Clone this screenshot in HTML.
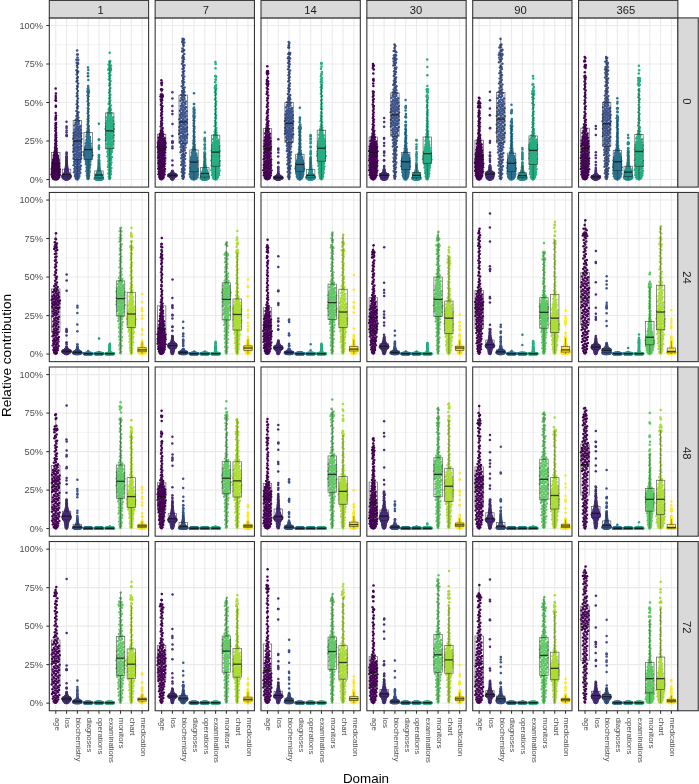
<!DOCTYPE html><html><head><meta charset="utf-8"><style>html,body{margin:0;padding:0;background:#fff;}body{width:699px;height:784px;overflow:hidden}</style></head><body><svg width="699" height="784" viewBox="0 0 699 784" style="display:block"><rect width="699" height="784" fill="#fff"/><defs><marker id="m0" markerUnits="userSpaceOnUse" markerWidth="3" markerHeight="3" refX="0" refY="0" overflow="visible"><circle r="1.25" fill="#440154"/></marker><marker id="m1" markerUnits="userSpaceOnUse" markerWidth="3" markerHeight="3" refX="0" refY="0" overflow="visible"><circle r="1.25" fill="#472D7B"/></marker><marker id="m2" markerUnits="userSpaceOnUse" markerWidth="3" markerHeight="3" refX="0" refY="0" overflow="visible"><circle r="1.25" fill="#3B528B"/></marker><marker id="m3" markerUnits="userSpaceOnUse" markerWidth="3" markerHeight="3" refX="0" refY="0" overflow="visible"><circle r="1.25" fill="#2C728E"/></marker><marker id="m4" markerUnits="userSpaceOnUse" markerWidth="3" markerHeight="3" refX="0" refY="0" overflow="visible"><circle r="1.25" fill="#21908C"/></marker><marker id="m5" markerUnits="userSpaceOnUse" markerWidth="3" markerHeight="3" refX="0" refY="0" overflow="visible"><circle r="1.25" fill="#27AD81"/></marker><marker id="m6" markerUnits="userSpaceOnUse" markerWidth="3" markerHeight="3" refX="0" refY="0" overflow="visible"><circle r="1.25" fill="#5DC863"/></marker><marker id="m7" markerUnits="userSpaceOnUse" markerWidth="3" markerHeight="3" refX="0" refY="0" overflow="visible"><circle r="1.25" fill="#AADC32"/></marker><marker id="m8" markerUnits="userSpaceOnUse" markerWidth="3" markerHeight="3" refX="0" refY="0" overflow="visible"><circle r="1.25" fill="#FDE725"/></marker></defs><style>path[marker-mid]{fill:none;stroke:none}</style><path d="M49.30 160.25H148.60M49.30 121.75H148.60M49.30 83.25H148.60M49.30 44.75H148.60" stroke="#EBEBEB" stroke-width="0.55" fill="none"/><path d="M49.30 179.50H148.60M49.30 141.00H148.60M49.30 102.50H148.60M49.30 64.00H148.60M49.30 25.50H148.60M55.78 17.90V187.10M66.57 17.90V187.10M77.36 17.90V187.10M88.16 17.90V187.10M98.95 17.90V187.10M109.74 17.90V187.10M120.54 17.90V187.10M131.33 17.90V187.10M142.12 17.90V187.10" stroke="#EBEBEB" stroke-width="1.1" fill="none"/><path marker-start="url(#m0)" marker-mid="url(#m0)" marker-end="url(#m0)" d="M55.8 179.4l-1.2-.2 2.4 0-3.2-.3 2.6-.1-1.3-.1 2.9-.2-4.9-.1 3.1-.2-1.6-.1 3.3-.2-4.3-.2 3.5-.1-1.8-.2 3.7-.1-6.8-.2 3.8-.1-1.9-.2 3.9-.1-5-.2 4-.2-2-.1 4.1-.2-6.7-.2 4.2-.2-2.1-.1 4.2-.2-5.3-.1 4.2-.1-2.1-.3 4.3-.1-8.2-.1 4.3-.3-2.1-.1 4.3-.2-5.4-.2 4.3 0-2.2-.3 4.3-.1-6.9-.2 4.2-.2-2.1-.2 4.3-.1-5.4-.2 4.3-.2-2.1-.1 4.2-.2-7.7-.2 4.3-.1-2.1-.2 4.2-.2-5.3-.2 4.2-.1-2.1-.2 4.2-.1-6.8-.2 4.2-.2-2.1-.2 4.1-.2-5.1-.1 4.1-.1-2.1-.2 4.1-.2-7.9-.2 4-.2-2-.1 4-.2-4.9-.2 3.9-.2-1.9-.2 3.9-.1-6.4-.2 3.9-.2-1.9-.1 3.8-.3-4.8-.1 3.9-.2-1.9-.3 3.7-.1-6.8-.2 3.8-.2-1.9-.1 3.7-.3-4.6-.1 3.7-.3-1.8-.1 3.6-.3-5.9-.1 3.6-.3-1.8-.2 3.6-.2-4.5-.2 3.6-.2-1.8-.2 3.5-.2-6.6-.2 3.4-.2-1.7-.2 3.4-.2-4.2-.2 3.4-.2-1.7-.2 3.3-.3-5.4-.1 3.3-.3-1.6-.1 3.2-.2-4-.2 3.2-.3-1.6-.1 3.1-.2-5.5-.2 3-.3-1.5-.3 2.9-.2-3.5-.1 2.8-.3-1.4-.3 2.6-.3-4.2-.2 2.6-.3-1.3-.3 2.4-.3-2.9-.2 2.3-.3-1.2-.3 2.2-.3-4.2-.4 2.1-.3-1-.4 1.9-.3-2.2-.5 1.7-.5-.8-.3 1.5-.4-2.4-.4 1.5-.5-.7-.6 1.3-.4-1.5-.5 1.1-.5-.5-.8.9-.6-1.6-.6.8-1-.3-.9.7-.6-.9-1.2.7-.7-.3-.7.6-1.5-1-.6.6-1-.3-1.5.6-.5-.7-1.6.5-.8-.3-1.3.5-1.1-.8-1.8.4-.9-.2-1.9.4-1-.6-1.4.5-1.3-.2-1.2.4-.4-.6-3.2.3-1.3-.1-1.2.3-1.7-.3-2.6.2-6.1-.1-1 .2-5-.5-.6.3-2.1-.1-2 .2-2.7-.2-4.8"/><path d="M55.78 152.55V123.32M55.78 172.26V179.42" stroke="#222" stroke-opacity="0.75" stroke-width="0.6"/><rect x="51.58" y="152.55" width="8.4" height="19.71" fill="none" stroke="#222" stroke-opacity="0.7" stroke-width="0.75"/><path d="M51.58 164.10h8.4" stroke="#111" stroke-opacity="0.8" stroke-width="1.3"/><path marker-start="url(#m1)" marker-mid="url(#m1)" marker-end="url(#m1)" d="M66.6 179.5l-.9-.1 1.9-.1-2.5 0 2-.1-1.1 0 2.3-.1-3.8 0 2.4-.1-1.3-.1 2.7 0-3.5-.1 2.8-.1-1.4 0 3-.1-5.5 0 3.1-.1-1.6-.1 3.2 0-4.1-.1 3.3 0-1.7-.1 3.5-.1-5.7 0 3.5-.1-1.8 0 3.7-.1-4.6 0 3.7-.1-1.9 0 3.8-.1-7.3-.1 3.9 0-2-.1 4 0-5-.1 4 0-2-.1 4-.1-6.6 0 4.1-.1-2 0 4.1-.1-5.2 0 4.2-.1-2.1 0 4.2-.1-7.7 0 4.3-.1-2.2 0 4.3-.1-5.3 0 4.2-.1-2.1-.1 4.3 0-7-.1 4.3 0-2.1 0 4.3-.1-5.4 0 4.3-.1-2.2 0 4.3-.1-8.3 0 4.2 0-2.1-.1 4.2 0-5.2-.1 4.2 0-2.1-.1 4.1 0-6.7-.1 4.1 0-2-.1 4 0-5-.1 4 0-2-.1 3.9 0-6.9-.1 3.8 0-1.9-.1 3.7-.1-4.5 0 3.5 0-1.7-.1 3.4-.1-5.5-.1 3.3 0-1.6-.1 3.2-.1-3.9 0 3-.1-1.5-.1 2.9-.1-5.4 0 2.8-.1-1.4-.1 2.7-.1-3.2-.1 2.5-.1-1.2 0 2.3-.1-3.7-.1 2.3-.2-1.1-.1 2.1 0-2.6-.1 2-.1-1-.2 2 0-3.5-.1 1.9-.2-.9-.1 1.7-.1-2.1-.2 1.7-.1-.9 0 1.6-.3-2.5 0 1.5-.1-.7-.2 1.4-.2-1.7-.1 1.3-.1-.7-.2 1.3-.2-2.5-.1 1.3-.2-.6-.1 1.2-.3-1.5-.1 1.2-.2-.6-.1 1.1-.3-1.7-.1 1-.2-.5-.2 1-.2-1.2-.2.9-.2-.4-.2.8-.3-1.4-.2.7-.2-.3-.3.6-.3-.8-.3.7-.2-.3-.5.5-.3-.9-.2.6-.5-.3-.3.5-.5-.6-.3.4-.5-.1-.5.3-.6-.6-.5.3-.7-.2-.3.3-.5-.3-.8.2-.7-.1-.8.3-.6-.5-.1.3-.6-.1-1.8.2-1-.2-.9.1-16.7 0-.5.1-.5-.2-2.4.1-2-.1-2.6.1-1.3-.1-4.8"/><path d="M66.57 169.18V158.37M66.57 176.88V179.48" stroke="#222" stroke-opacity="0.75" stroke-width="0.6"/><rect x="62.37" y="169.18" width="8.4" height="7.70" fill="none" stroke="#222" stroke-opacity="0.7" stroke-width="0.75"/><path d="M62.37 174.57h8.4" stroke="#111" stroke-opacity="0.8" stroke-width="1.3"/><path marker-start="url(#m2)" marker-mid="url(#m2)" marker-end="url(#m2)" d="M77.4 179.4l-1-.5 2-.7-2.7-.4 2.2-.3-1.2-.5 2.6-.5-4.3-.4 2.7-.6-1.4-.3 3-.5-3.9-.5 3.2-.5-1.7-.5 3.4-.5-6.2-.5 3.5-.2-1.8-.6 3.6-.5-4.5-.3 3.6-.4-1.8-.7 3.6-.3-5.9-.4 3.7-.6-1.9-.4 3.7-.4-4.7-.5 3.8-.3-1.9-.6 3.8-.3-7.2-.4 3.8-.6-1.9-.5 3.8-.2-4.8-.6 3.8-.3-1.9-.6 3.9-.4-6.3-.3 3.9-.6-2-.4 4-.5-5-.4 4-.3-2-.6 4-.4-7.3-.2 4-.7-2-.2 4.1-.5-5.1-.3 4.1-.6-2.1-.3 4.1-.5-6.7-.3 4.2-.4-2.1-.4 4.1-.5-5.1-.3 4.1-.3-2.1-.6 4.2-.4-8.1-.4 4.1-.4-2.1-.2 4.2-.6-5.2-.2 4.2-.6-2.1-.3 4.2-.4-6.8-.5 4.2-.4-2.1-.4 4.1-.2-5.2-.5 4.2-.3-2.1-.4 4.2-.4-7.6-.6 4.2-.2-2.1-.5 4.2-.4-5.3-.6 4.2-.4-2.1-.4 4.3-.2-6.9-.5 4.2-.5-2.1-.3 4.3-.6-5.4-.3 4.3-.5-2.1-.4 4.2-.4-8.1-.3 4.3-.4-2.2-.3 4.3-.5-5.4-.2 4.3-.5-2.1-.4 4.3-.4-7-.3 4.3-.2-2.1-.5 4.2-.3-5.3-.5 4.2-.3-2.1-.3 4.1-.6-7.3-.2 4-.4-2-.4 3.9-.4-4.8-.3 3.8-.6-1.9-.5 3.7-.3-5.9-.6 3.6-.5-1.7-.4 3.3-.5-4.1-.5 3.2-.5-1.6-.4 3-.6-5.8-.5 2.9-.6-1.4-.7 2.7-.5-3.2-.8 2.5-.7-1.2-.4 2.2-.9-3.4-.7 2-1-.9-.6 1.7-1.1-1.9-1.4 1.4-1.2-.7-1.5 1.2-1.1-2-1.4 1-2.3-.4-.9.9-1.5-1.1-1.9.8-1.8-.4-1.7.8-2.2-1.2-2.4.7-.8-.4-2.2.8-2.2-1-2.2.8-2.1-.4-.7.8-2.4-1.5-2.2.8-.8-.4-2.4.8-1.2-1.1-2.4.9-1.8-.4-1.1.9-.1-1.6-1.4 1-2.8-.5-2 1.1-1.6-1.4-1 1.1-.1-.5-2.5 1-.5-1.9 0 1.1-2.3-.4-2.9.7-.1-.7-3.8"/><path d="M77.36 120.52V62.67M77.36 159.33V179.40" stroke="#222" stroke-opacity="0.75" stroke-width="0.6"/><rect x="73.16" y="120.52" width="8.4" height="38.81" fill="none" stroke="#222" stroke-opacity="0.7" stroke-width="0.75"/><path d="M73.16 141.00h8.4" stroke="#111" stroke-opacity="0.8" stroke-width="1.3"/><path marker-start="url(#m3)" marker-mid="url(#m3)" marker-end="url(#m3)" d="M88.2 179l-.5-.3 1-.8-1.3-.2 1.1-.7-.7-.5 1.4-.7-2.3-.3 1.4-.8-.7-.4 1.5-.7-1.9-.3 1.6-.5-.9-.7 1.7-.5-3.1-.3 1.8-.7-.9-.5 1.8-.2-2.3-.7 1.8-.5-.9-.5 1.9-.4-3.1-.3 1.9-.5-1-.5 2.1-.4-2.6-.6 2.1-.2-1.1-.4 2.3-.5-4.4-.4 2.3-.5-1.2-.3 2.5-.3-3.2-.5 2.6-.3-1.3-.4 2.7-.3-4.5-.3 2.8-.4-1.5-.4 3.1-.2-3.9-.3 3.2-.3-1.7-.3 3.4-.2-6.2-.5 3.5-.2-1.8-.2 3.7-.3-4.7-.1 3.8-.4-2-.2 4-.2-6.5-.2 4-.2-2-.2 4.1-.3-5.1-.1 4.1-.2-2.1-.3 4.3-.1-8.3-.2 4.2-.1-2.1-.3 4.3-.1-5.4-.2 4.3-.2-2.2-.2 4.3-.1-6.9-.2 4.3-.3-2.2-.1 4.3-.2-5.3-.2 4.2-.1-2.1-.3 4.2-.2-7.6-.2 4.2-.1-2.1-.3 4.1-.2-5-.2 4-.3-2-.2 3.9-.3-6.3-.2 3.8-.2-1.8-.3 3.6-.2-4.5-.4 3.6-.3-1.8-.2 3.4-.3-6.4-.3 3.3-.3-1.6-.3 3.2-.3-4-.2 3.2-.2-1.6-.3 3-.4-4.8-.2 3-.4-1.5-.3 2.8-.3-3.4-.4 2.7-.2-1.4-.3 2.7-.4-4.7-.3 2.5-.5-1.2-.3 2.4-.4-2.9-.3 2.3-.2-1.2-.5 2.2-.5-3.5-.5 2.1-.2-1-.5 2-.6-2.4-.2 1.9-.6-1-.5 1.8-.4-3.4-.6 1.7-.4-.8-.4 1.5-.9-1.8-.5 1.4-.6-.7-.4 1.3-.7-2-.7 1.2-.3-.5-1.2 1-.4-1.2-1.4.9-.5-.4-1.6.7-.5-1.3-1.4.7-1.5-.3-1.4.6-1-.7-1.5.5-1-.2-1.7.5-1.1-.9-2 .6-1.4-.3-1.1.5-1.9-.6-.8.5-2.5-.3-1.3.5-1.2-.9-1.9.5-1.8-.3-1.4.6-1.8-.8-1 .7-1.5-.4-1.6.9-.3-1.5-.1.9-.9-.4-.1.8-.5-1-1.5.7-.8-.3-2.1.2-5.9-.4-3.8.3-.2-.2-2.8.3-3.2-.3-2.5"/><path d="M88.16 132.38V92.24M88.16 159.33V179.04" stroke="#222" stroke-opacity="0.75" stroke-width="0.6"/><rect x="83.96" y="132.38" width="8.4" height="26.95" fill="none" stroke="#222" stroke-opacity="0.7" stroke-width="0.75"/><path d="M83.96 149.62h8.4" stroke="#111" stroke-opacity="0.8" stroke-width="1.3"/><path marker-start="url(#m4)" marker-mid="url(#m4)" marker-end="url(#m4)" d="M98.9 179.5l-1.4 0 3-.1-3.8 0 3 0-1.5 0 3.2 0-5.3-.1 3.3 0-1.7 0 3.4 0-4.3-.1 3.5 0-1.8 0 3.7-.1-6.8 0 3.8 0-1.9-.1 3.8 0-4.9 0 4-.1-2 0 4.1 0-6.7 0 4.1-.1-2.1 0 4.2-.1-5.2 0 4.2-.1-2.1 0 4.3 0-8.2-.1 4.3 0-2.2 0 4.3-.1-5.3 0 4.3-.1-2.2 0 4.3 0-6.9-.1 4.2 0-2.1-.1 4.2 0-5.2-.1 4.1 0-2-.1 4 0-7.2 0 3.9-.1-1.9-.1 3.8 0-4.7-.1 3.7 0-1.8-.1 3.6 0-5.8-.1 3.5 0-1.7-.1 3.4-.1-4.2 0 3.3-.1-1.7 0 3.2-.1-6.1-.1 3.1 0-1.5-.1 3-.1-3.7 0 2.9-.1-1.4 0 2.8-.1-4.5-.1 2.7-.1-1.3-.1 2.7 0-3.4-.1 2.7-.1-1.3 0 2.6-.1-4.7-.1 2.6-.1-1.3 0 2.5-.1-3.2-.1 2.6 0-1.3-.1 2.5-.1-4.1-.1 2.6 0-1.3-.1 2.5-.1-3.1-.1 2.5-.1-1.3 0 2.5-.1-4.7-.1 2.5-.1-1.3 0 2.5-.1-3.1 0 2.5-.1-1.2-.1 2.4 0-3.9-.1 2.4-.1-1.2-.1 2.3-.1-2.9 0 2.3-.1-1.1-.1 2.2-.1-4 0 2.2-.1-1.1-.1 2.1-.1-2.5-.1 2-.1-1-.1 1.9 0-3.1-.2 1.9-.1-.9 0 1.7-.2-2.1 0 1.6-.2-.8-.1 1.6-.1-3-.1 1.5-.1-.7-.1 1.3-.1-1.6-.2 1.3-.1-.6-.2 1.1-.1-1.8-.2 1.1-.2-.5-.2 1-.1-1.2-.1.9-.2-.4-.3.8-.2-1.5-.2.8-.2-.3-.3.6-.1-.8-.4.6-.2-.2-.4.5-.2-.8-.4.4-.3-.2-.3.4-.4-.5-.3.4-.4-.2-.6.3-.5-.5-.6.3-.2-.2-.8.3-.5-.3-.6.2-.7-.1-.6.3-.1-.4-.6.2-1.8-.1-.6.2-1.4-.3-.1.2-.7-.1-5.9.2-1.3-.3-.5.2-1.9-.1-5.5.1-.6-.1-15.5"/><path d="M98.95 170.88V160.31M98.95 177.96V179.49" stroke="#222" stroke-opacity="0.75" stroke-width="0.6"/><rect x="94.75" y="170.88" width="8.4" height="7.08" fill="none" stroke="#222" stroke-opacity="0.7" stroke-width="0.75"/><path d="M94.75 175.03h8.4" stroke="#111" stroke-opacity="0.8" stroke-width="1.3"/><path marker-start="url(#m5)" marker-mid="url(#m5)" marker-end="url(#m5)" d="M109.7 179.1l-.5-.7 1.1-.9-1.5-.8 1.3-1.2-.7-.6 1.5-.8-2.6-.6 1.7-1-.9-.4 1.7-.8-2.2-1.2 1.8-.3-.9-1.3 1.9-.6-3.4-.8 1.9-.3-1-.8 1.9-1.1-2.4-.5 2-.8-1-.4 2-.8-3.3-.8 2-.8-1-.6 2.1-.5-2.7-1 2.2-.3-1.1-.8 2.3-.7-4.4-.5 2.3-.7-1.2-.8 2.4-.4-3-.6 2.5-.8-1.3-.3 2.6-.8-4.3-.3 2.7-.6-1.4-.7 2.8-.3-3.6-.8 2.9-.5-1.4-.5 3-.2-5.5-.5 3-.7-1.5-.4 3.2-.3-4.1-.6 3.3-.5-1.7-.5 3.4-.2-5.6-.4 3.5-.6-1.8-.2 3.6-.5-4.5-.4 3.7-.4-1.9-.5 3.8-.4-7.4-.4 3.8-.3-1.9-.4 3.8-.3-4.8-.4 3.9-.5-2-.4 4-.3-6.4-.3 3.9-.4-2-.4 4-.3-5-.3 4-.3-2-.5 4-.3-7.3-.5 4.1-.3-2.1-.5 4.1-.3-5.1-.2 4.1-.5-2.1-.4 4.2-.4-6.8-.3 4.2-.4-2.1-.4 4.2-.3-5.3-.6 4.3-.4-2.2-.1 4.3-.6-8.1-.1 4.2-.4-2.1-.4 4.3-.4-5.4-.2 4.3-.5-2.1-.2 4.3-.2-7-.4 4.3-.3-2.2-.4 4.3-.2-5.3-.4 4.2-.3-2.1-.3 4.2-.4-7.5-.4 4.1-.2-2-.5 4-.1-5-.5 3.9-.2-1.9-.6 3.8-.3-6.1-.5 3.7-.3-1.8-.4 3.5-.3-4.3-.6 3.3-.5-1.6-.4 3.1-.5-6-.2 3-.6-1.4-.6 2.7-.4-3.2-.8 2.5-.7-1.2-.3 2.2-.8-3.5-.4 2.1-1.1-.9-.9 1.7-.9-2-.7 1.5-1-.7-.9 1.2-1.9-2.1-1.4 1.1-1-.5-1.6 1-.9-1.2-2 .9-1-.4-2 .8-.8-1.3-2 .8-1.5-.4-1.4.8-1.8-1-2.4.8-.9-.4-1.4.8-2.2-1.6-1.7.9-1.1-.5-2.1 1.1-1.3-1.6-1.3 1.4-1.7-.8-1.8 1.6 0-2.6-.2 1.6-.2-.8-.5 1.6-.6-2-.2 1.6-.6-.8-1.5 1.4-.9-2.4-1 1.2-1.6-.4-1.2.8-.7-.5-8.1"/><path d="M109.74 112.97V60.93M109.74 148.70V179.06" stroke="#222" stroke-opacity="0.75" stroke-width="0.6"/><rect x="105.54" y="112.97" width="8.4" height="35.73" fill="none" stroke="#222" stroke-opacity="0.7" stroke-width="0.75"/><path d="M105.54 130.84h8.4" stroke="#111" stroke-opacity="0.8" stroke-width="1.3"/><rect x="49.30" y="17.90" width="99.30" height="169.20" fill="none" stroke="#333" stroke-width="1.07"/><path d="M155.15 160.25H254.45M155.15 121.75H254.45M155.15 83.25H254.45M155.15 44.75H254.45" stroke="#EBEBEB" stroke-width="0.55" fill="none"/><path d="M155.15 179.50H254.45M155.15 141.00H254.45M155.15 102.50H254.45M155.15 64.00H254.45M155.15 25.50H254.45M161.63 17.90V187.10M172.42 17.90V187.10M183.21 17.90V187.10M194.01 17.90V187.10M204.80 17.90V187.10M215.59 17.90V187.10M226.39 17.90V187.10M237.18 17.90V187.10M247.97 17.90V187.10" stroke="#EBEBEB" stroke-width="1.1" fill="none"/><path marker-start="url(#m0)" marker-mid="url(#m0)" marker-end="url(#m0)" d="M161.6 179.3l-.9-.4 1.9-.3-2.6-.2 2.2-.4-1.2-.5 2.5-.1-4.2-.5 2.7-.4-1.4-.2 2.9-.3-3.8-.4 3.1-.3-1.6-.4 3.3-.4-6-.3 3.3-.5-1.7-.3 3.5-.3-4.4-.4 3.5-.1-1.7-.4 3.5-.4-5.7-.2 3.5-.4-1.8-.4 3.6-.4-4.5-.4 3.6-.3-1.8-.3 3.6-.3-6.8-.3 3.5-.3-1.7-.4 3.5-.5-4.4-.2 3.5-.4-1.8-.2 3.6-.6-5.8-.1 3.6-.4-1.8-.5 3.6-.2-4.5-.5 3.6-.3-1.8-.3 3.5-.2-6.4-.5 3.6-.3-1.8-.4 3.5-.3-4.4-.4 3.5-.2-1.7-.4 3.5-.3-5.7-.3 3.5-.5-1.8-.3 3.6-.5-4.5-.2 3.6-.4-1.8-.3 3.6-.4-7-.2 3.6-.4-1.8-.3 3.6-.4-4.5-.3 3.6-.5-1.8-.2 3.6-.4-5.8-.3 3.5-.5-1.8-.3 3.6-.2-4.5-.5 3.6-.4-1.8-.3 3.7-.2-6.7-.3 3.7-.3-1.9-.6 3.8-.2-4.7-.3 3.8-.5-1.9-.2 3.9-.4-6.4-.2 3.9-.4-2-.3 4.1-.3-5.1-.5 4.1-.2-2.1-.3 4.2-.3-8-.3 4.2-.2-2.1-.3 4.3-.2-5.4-.3 4.3-.4-2.1-.2 4.3-.3-7-.2 4.3-.3-2.2-.2 4.3-.3-5.3-.3 4.2-.2-2.1-.2 4.2-.3-7.6-.3 4.2-.2-2.1-.4 4.1-.1-5-.4 3.9-.3-1.9-.2 3.8-.3-6.1-.4 3.7-.1-1.8-.5 3.5-.4-4.3-.3 3.3-.4-1.6-.2 3.1-.4-6.1-.5 3-.3-1.3-.5 2.7-.6-3.2-.4 2.4-.4-1.1-.4 2.1-.8-3.3-.3 2-.9-.9-.5 1.6-.8-1.8-1.1 1.3-.9-.6-.9 1.1-1-1.9-1.5 1-.8-.5-1.7.9-.5-1-1.6.8-1.5-.4-1.8.7-.7-1.2-2 .8-1.4-.4-1.5.7-1.3-.9-1.9.8-.8-.4-1.5.8-1.2-1.5-1.3.8-1.6-.5-2 1-1.3-1.4-.6 1.2-1.7-.7-1.1 1.4-.2-2.2 0 1.4 0-.7-.1 1.3-1.1-1.6-.7 1.2-.1-.5-4 .6-.8-1.1-.4.6-4.3-.3-1.7.5-.8-.5-2.1"/><path d="M161.63 134.22V89.59M161.63 164.10V179.30" stroke="#222" stroke-opacity="0.75" stroke-width="0.6"/><rect x="157.43" y="134.22" width="8.4" height="29.88" fill="none" stroke="#222" stroke-opacity="0.7" stroke-width="0.75"/><path d="M157.43 148.70h8.4" stroke="#111" stroke-opacity="0.8" stroke-width="1.3"/><path marker-start="url(#m1)" marker-mid="url(#m1)" marker-end="url(#m1)" d="M172.4 179.5l-.3-.2.7 0-1-.1.8-.1-.4-.1.9-.1-1.5-.1.9 0-.5-.1 1.1-.1-1.4-.1 1.2-.1-.6 0 1.3-.2-2.4 0 1.3-.1-.7-.1 1.4-.1-1.8 0 1.5-.1-.8-.1 1.7 0-2.8-.1 1.8-.1-1 0 1.9-.1-2.4-.1 2-.1-1 0 2.2-.1-4.3 0 2.3-.1-1.2 0 2.4-.1-3.1-.1 2.6 0-1.4-.1 2.9 0-4.7 0 2.9-.1-1.5-.1 3.1 0-4 0 3.2-.1-1.6 0 3.4 0-6.2-.1 3.4 0-1.7 0 3.5-.1-4.5 0 3.7 0-1.9 0 3.8-.1-6.1 0 3.8 0-2-.1 3.9 0-4.9 0 4 0-2 0 4-.1-7.8 0 4 0-2 0 4-.1-5.1 0 4.1 0-2.1 0 4.2 0-6.8-.1 4.2 0-2.1 0 4.2 0-5.3 0 4.3-.1-2.1 0 4.2 0-7.7 0 4.3 0-2.2-.1 4.3 0-5.4 0 4.3 0-2.1-.1 4.3 0-7 0 4.3 0-2.2 0 4.3-.1-5.3 0 4.3 0-2.2 0 4.3-.1-8.1 0 4.2 0-2.1 0 4.2-.1-5.2 0 4.2 0-2.1 0 4.1 0-6.7-.1 4.1 0-2 0 4 0-5-.1 4 0-2 0 4 0-7.2 0 3.9-.1-1.9 0 3.9 0-4.8 0 3.8-.1-1.9 0 3.7 0-6 0 3.7-.1-1.8 0 3.5 0-4.4 0 3.5-.1-1.7 0 3.3 0-6.5-.1 3.2 0-1.5-.1 3.1 0-3.8 0 3-.1-1.5 0 2.8-.1-4.4 0 2.7 0-1.3-.1 2.5-.1-3 0 2.3-.1-1.1 0 2.1-.1-3.8 0 2.1-.1-1 0 1.8-.1-2.1-.1 1.6-.1-.7-.1 1.3 0-2.1-.2 1.2-.1-.5-.1 1-.1-1.2-.1.9-.2-.4-.1.6-.2-1.1-.2.5-.1-.2-.2.4-.3-.4-.2.3-.1-.1-5.8 0-4.7 0-12.2 0-1.7 0-3.5.1-.9-.2-.1.2-.9-.1-5.3.1-11.8-.1-10 0-3 0-5.1 0-7.4 0-6.4"/><path d="M172.42 174.11V170.96M172.42 176.42V179.47" stroke="#222" stroke-opacity="0.75" stroke-width="0.6"/><rect x="168.22" y="174.11" width="8.4" height="2.31" fill="none" stroke="#222" stroke-opacity="0.7" stroke-width="0.75"/><path d="M168.22 175.34h8.4" stroke="#111" stroke-opacity="0.8" stroke-width="1.3"/><path marker-start="url(#m2)" marker-mid="url(#m2)" marker-end="url(#m2)" d="M183.2 178.8l-.5-.6 1.2-1.2-1.8-1 1.5-.9-.8-1.1 1.7-.9-2.9-1 1.8-.3-.9-1.2 2-.9-2.5-.7 2-.8-1-1.4 2.1-1-3.9-.8 2.1-.5-1-1.1 2.2-.6-2.8-1.1 2.2-.6-1.1-1.1 2.3-1-3.8-.8 2.4-.7-1.3-.8 2.5-.7-3.1-.7 2.5-.9-1.2-.4 2.6-.9-5.1-.8 2.7-.7-1.4-.9 2.8-.4-3.5-.6 2.8-.7-1.4-1.1 2.9-.3-4.8-.7 3-.7-1.6-.8 3.2-.7-4-.3 3.3-1-1.7-.5 3.4-.4-6.3-.5 3.5-.7-1.8-.6 3.7-.4-4.6-.5 3.7-.7-1.9-.5 3.9-.6-6.4-.2 4-.7-2-.3 4-.4-5.1-.5 4.1-.7-2-.4 4.2-.4-8.2-.5 4.2-.4-2.1-.4 4.2-.5-5.3-.2 4.3-.6-2.2-.3 4.3-.5-7-.6 4.3-.4-2.1-.5 4.3-.3-5.4-.5 4.3-.5-2.2-.3 4.3-.5-7.7-.4 4.2-.5-2.1-.4 4.2-.5-5.2-.4 4.2-.6-2.1-.4 4.1-.6-6.6-.5 4-.2-2-.8 4-.6-5-.3 4-.7-2-.5 3.9-.4-7.4-.4 3.9-.7-1.9-.6 3.8-.3-4.8-.5 3.8-.7-1.9-.4 3.8-.3-6.1-.6 3.7-.5-1.8-.7 3.6-.5-4.5-.5 3.6-.5-1.8-.5 3.5-.6-6.3-.6 3.5-.5-1.7-.6 3.4-.7-4.2-.5 3.3-.4-1.6-.8 3.2-.3-5.2-.9 3.1-.5-1.5-.6 3-.8-3.7-.5 2.9-.8-1.4-.5 2.7-.7-5.4-.8 2.7-.5-1.2-1 2.5-.4-3.1-.8 2.4-.8-1.1-1.1 2.2-.7-3.6-.5 2.2-1-1-1.2 1.9-.7-2.3-1.2 1.8-1-.9-1.6 1.6-.7-2.8-1.4 1.5-1.4-.7-1.7 1.4-.9-1.7-1.1 1.3-1.6-.6-1.4 1.3-1.6-2.1-1 1.3-1.7-.7-1.7 1.3-1.2-1.6-2 1.3-.8-.7-2 1.3-.8-2.4-1.5 1.3-1.7-.7-1.2 1.3-1.7-1.6-1.2 1.3-.8-.7-1.3 1.4-2-2.2-2.3 1.3-.5-.6 0 1.3-1.2-1.7-1.4 1.3-2.8-.6-1.5 1.2-1.8-2.1-.3 1.1-1.8-.5-.1 1-.9-1.2-.6"/><path d="M183.21 95.11V38.74M183.21 143.31V178.77" stroke="#222" stroke-opacity="0.75" stroke-width="0.6"/><rect x="179.01" y="95.11" width="8.4" height="48.20" fill="none" stroke="#222" stroke-opacity="0.7" stroke-width="0.75"/><path d="M179.01 121.90h8.4" stroke="#111" stroke-opacity="0.8" stroke-width="1.3"/><path marker-start="url(#m3)" marker-mid="url(#m3)" marker-end="url(#m3)" d="M194 179.4l-1.2-.1 2.5-.2-3.3-.1 2.7-.2-1.4-.1 3-.2-5-.2 3.1-.1-1.6-.2 3.4-.2-4.4-.1 3.6-.2-1.9-.1 3.8-.2-6.9-.2 3.8-.1-1.9-.2 4-.1-5.1-.3 4.1 0-2.1-.3 4.2-.1-6.8-.2 4.2-.2-2.1-.1 4.2-.2-5.3-.2 4.3-.1-2.2-.3 4.3-.1-8.2-.2 4.3-.2-2.1-.2 4.3-.1-5.4-.2 4.3-.2-2.1-.2 4.2-.2-6.8-.2 4.2-.2-2.1-.2 4.1-.1-5.1-.2 4.1-.2-2.1-.2 4.1-.2-7.3-.2 4-.2-2-.1 4-.2-5-.3 4-.2-2-.2 3.9-.2-6.3-.2 3.8-.2-1.9-.2 3.8-.2-4.7-.2 3.8-.2-1.9-.3 3.7 0-7.2-.4 3.7-.2-1.9-.1 3.7-.3-4.6-.2 3.7-.2-1.8-.2 3.5-.2-5.8-.2 3.6-.2-1.8-.3 3.6-.2-4.4-.3 3.5-.2-1.8-.2 3.5-.2-6.3-.2 3.5-.2-1.7-.3 3.4-.3-4.3-.1 3.4-.3-1.7-.2 3.4-.2-5.5-.3 3.4-.2-1.7-.2 3.4-.4-4.3-.2 3.5-.1-1.8-.3 3.5-.2-6.6-.2 3.5-.3-1.7-.2 3.4-.1-4.3-.2 3.4-.3-1.7-.3 3.4-.1-5.5-.2 3.4-.2-1.7-.3 3.3-.2-4.1-.2 3.3-.2-1.6-.3 3.1-.1-5.7-.2 3.1-.4-1.5-.1 3-.2-3.7-.3 2.9-.3-1.4-.3 2.8-.2-4.5-.3 2.7-.3-1.3-.3 2.5-.3-3.1-.2 2.5-.3-1.2-.4 2.2-.2-4.3-.6 2.1-.3-1-.3 2-.4-2.3-.5 1.8-.3-.9-.5 1.6-.5-2.4-.5 1.4-.3-.7-.5 1.2-.8-1.3-.8 1-.6-.5-.6.8-1.2-1.4-.9.8-.7-.4-1.2.7-.7-.8-.8.6-1.1-.3-1.4.6-1-.9-1 .5-1.3-.2-1.8.5-.7-.7-1.3.5-1.9-.2-.6.5-1.5-1-1.1.5-1.9-.2-.7.5-2.1-.7-.7.6-2-.3-1.1.7-.9-1.2-.4.7-1.2-.3-.6.7-1.2-.9-1 .7-.1-.4-1.3.7-.7-1.1-1.1.6-1.3-.2-3.3.3-.1-.2-10.7"/><path d="M194.01 149.93V117.19M194.01 171.80V179.38" stroke="#222" stroke-opacity="0.75" stroke-width="0.6"/><rect x="189.81" y="149.93" width="8.4" height="21.87" fill="none" stroke="#222" stroke-opacity="0.7" stroke-width="0.75"/><path d="M189.81 162.10h8.4" stroke="#111" stroke-opacity="0.8" stroke-width="1.3"/><path marker-start="url(#m4)" marker-mid="url(#m4)" marker-end="url(#m4)" d="M204.8 179.5l-1.3-.1 2.6 0-3.4 0 2.8-.1-1.4-.1 2.9 0-4.9 0 3.1-.1-1.6 0 3.3-.1-4.2 0 3.4-.1-1.7 0 3.5-.1-6.6 0 3.7-.1-1.9 0 3.9-.1-4.9 0 3.9-.1-1.9 0 4-.1-6.6-.1 4.1 0-2.1-.1 4.2 0-5.3-.1 4.3-.1-2.2 0 4.3-.1-8.1 0 4.2-.1-2.1-.1 4.3 0-5.4-.1 4.3 0-2.1-.1 4.2-.1-6.9 0 4.3-.1-2.2 0 4.3-.1-5.3-.1 4.2-.1-2.1 0 4.1-.1-7.4 0 4.1-.1-2-.1 4 0-5-.1 4 0-2-.1 3.9-.1-6.3-.1 3.8 0-1.9-.1 3.8-.1-4.7 0 3.7-.1-1.8-.1 3.6-.1-7.1 0 3.7-.1-1.8-.1 3.5 0-4.3-.2 3.4 0-1.7-.1 3.4-.1-5.5 0 3.4-.1-1.7-.1 3.3-.1-4-.1 3.1-.1-1.5-.1 3.1 0-5.6-.1 3-.1-1.5-.1 3-.1-3.7-.1 3-.1-1.5-.1 2.9-.1-4.7 0 2.9-.1-1.4-.2 2.8 0-3.5-.2 2.7-.1-1.3 0 2.7-.2-5.1-.1 2.6-.1-1.3-.1 2.6 0-3.2-.1 2.6-.1-1.3-.1 2.5-.1-4-.2 2.4 0-1.2-.1 2.4-.1-3-.1 2.4-.2-1.2 0 2.3-.1-4.1-.2 2.2-.1-1-.2 2.1-.1-2.6 0 2-.2-1-.1 1.9-.2-3-.1 1.8-.1-.9-.1 1.7-.2-2-.2 1.6-.1-.8-.2 1.5-.1-3-.2 1.5-.2-.7-.2 1.4-.2-1.7-.1 1.3-.2-.6-.3 1.1-.2-1.7-.2 1-.2-.5-.2 1-.3-1.1-.3.8-.2-.4-.3.8-.2-1.3-.5.6-.4-.3-.4.6-.3-.7-.3.6-.5-.3-.3.5-.4-.8-.6.5-.5-.2-.4.4-.6-.5-.6.4-.4-.2-.7.3-.5-.6-.8.3-.4-.1-.9.3-.5-.4-.8.3-.7-.2-.7.3-.4-.4-.9.2-2.9-.1-.9.2-1.3-.2-2.4.2-.1-.1-.2.1-3.1-.3-1.5.2-.1-.1-.9.2-.9-.1-5.6"/><path d="M204.80 167.64V153.62M204.80 177.04V179.49" stroke="#222" stroke-opacity="0.75" stroke-width="0.6"/><rect x="200.60" y="167.64" width="8.4" height="9.39" fill="none" stroke="#222" stroke-opacity="0.7" stroke-width="0.75"/><path d="M200.60 173.49h8.4" stroke="#111" stroke-opacity="0.8" stroke-width="1.3"/><path marker-start="url(#m5)" marker-mid="url(#m5)" marker-end="url(#m5)" d="M215.6 179.4l-1.2-.4 2.4-.1-3.1-.3 2.6-.4-1.4-.2 2.9-.4-4.9-.2 3.1-.4-1.7-.3 3.4-.1-4.3-.4 3.5-.2-1.8-.3 3.8-.4-6.9-.2 3.8-.3-2-.4 4.1-.2-5.1-.3 4.1-.4-2.1-.3 4.2-.3-6.8-.3 4.2-.1-2.1-.5 4.2-.2-5.3-.4 4.3-.2-2.2-.2 4.3-.4-8.2-.3 4.3-.3-2.1-.2 4.3-.3-5.4-.4 4.3-.2-2.1-.5 4.2-.1-6.9-.4 4.3-.3-2.2-.2 4.3-.3-5.3-.4 4.2-.4-2.1-.2 4.2-.3-7.6-.3 4.2-.3-2.1-.3 4.2-.4-5.3-.2 4.2-.3-2.1-.4 4.2-.3-6.8-.2 4.2-.4-2.1-.3 4.2-.3-5.2-.2 4.2-.4-2.1-.3 4.1-.3-8.1-.3 4.2-.3-2.1-.3 4.1-.3-5.1-.4 4.1-.3-2.1-.1 4.1-.4-6.6-.4 4.1-.4-2.1-.3 4.1-.2-5.1-.4 4.1-.3-2-.2 4-.3-7.3-.3 4-.3-2-.5 4-.2-5-.5 4-.2-2-.5 4-.3-6.5-.3 4-.3-2-.3 4-.3-5-.5 4-.2-2-.4 4.1-.2-7.8-.3 4.1-.4-2-.4 4-.2-5.1-.4 4.1-.3-2-.2 4-.3-6.5-.2 4-.3-2-.3 4-.2-5-.3 3.9-.5-1.9-.3 3.8-.2-6.9-.4 3.8-.3-1.8-.3 3.6-.3-4.5-.4 3.6-.4-1.8-.2 3.4-.5-5.4-.2 3.3-.4-1.6-.6 3.1-.2-3.8-.5 2.9-.3-1.5-.5 2.8-.5-5.2-.7 2.5-.5-1.2-.4 2.4-.3-2.8-.9 2.1-.4-1-.8 1.9-.4-3-.5 1.8-.7-.7-1.2 1.4-.6-1.7-.9 1.2-1.3-.5-1.1.9-1.2-1.6-1.8.8-1.1-.3-2 .7-.6-.9-1.8.7-2.3-.3-1.1.6-2.1-1-1.3.6-1.8-.3-2.3.6-1.1-.8-2.1.7-1.9-.3-1.2.6-1.9-1.2-2 .6-1.5-.3-2.7.7-1.6-1-1.5.8-1.8-.4-1.3.9-.7-1.5-.4.9-1.7-.4-.3.8-1.1-.9-2.8.7-2.5-.4-.3.6-2.5-1-.8.5-.2-.1-7.7.2-4.3-.3-1.9"/><path d="M215.59 135.15V89.20M215.59 166.26V179.41" stroke="#222" stroke-opacity="0.75" stroke-width="0.6"/><rect x="211.39" y="135.15" width="8.4" height="31.11" fill="none" stroke="#222" stroke-opacity="0.7" stroke-width="0.75"/><path d="M211.39 152.09h8.4" stroke="#111" stroke-opacity="0.8" stroke-width="1.3"/><rect x="155.15" y="17.90" width="99.30" height="169.20" fill="none" stroke="#333" stroke-width="1.07"/><path d="M261.00 160.25H360.30M261.00 121.75H360.30M261.00 83.25H360.30M261.00 44.75H360.30" stroke="#EBEBEB" stroke-width="0.55" fill="none"/><path d="M261.00 179.50H360.30M261.00 141.00H360.30M261.00 102.50H360.30M261.00 64.00H360.30M261.00 25.50H360.30M267.48 17.90V187.10M278.27 17.90V187.10M289.06 17.90V187.10M299.86 17.90V187.10M310.65 17.90V187.10M321.44 17.90V187.10M332.24 17.90V187.10M343.03 17.90V187.10M353.82 17.90V187.10" stroke="#EBEBEB" stroke-width="1.1" fill="none"/><path marker-start="url(#m0)" marker-mid="url(#m0)" marker-end="url(#m0)" d="M267.5 179.3l-1.3-.3 2.6-.2-3.3-.2 2.7-.2-1.5-.5 3.1-.2-5-.2 3.1-.4-1.7-.3 3.4-.2-4.4-.4 3.6-.1-1.8-.4 3.8-.3-6.9-.2 3.8-.4-2-.2 4.1-.4-5.1-.2 4.1-.3-2.1-.4 4.2-.4-6.9-.2 4.3-.3-2.2-.4 4.3-.1-5.3-.4 4.3-.4-2.2-.1 4.3-.4-8.2-.4 4.3-.3-2.1-.3 4.2-.3-5.3-.3 4.3-.4-2.1-.3 4.2-.2-6.8-.6 4.1-.2-2-.3 4.1-.4-5.2-.3 4.1-.2-2-.5 4-.4-7.3-.3 4.1-.3-2-.5 3.9-.3-4.9-.3 3.9-.3-1.9-.3 3.8-.4-6.2-.4 3.8-.3-1.9-.4 3.8-.4-4.7-.2 3.7-.5-1.8-.4 3.7-.5-7.3-.1 3.7-.6-1.8-.4 3.6-.3-4.5-.3 3.6-.5-1.8-.2 3.6-.5-5.8-.4 3.6-.4-1.8-.4 3.5-.3-4.4-.3 3.5-.5-1.7-.5 3.5-.4-6.3-.2 3.4-.6-1.7-.3 3.5-.4-4.4-.6 3.5-.3-1.7-.4 3.5-.4-5.7-.5 3.5-.3-1.8-.5 3.5-.4-4.3-.4 3.5-.3-1.8-.4 3.6-.5-6.8-.2 3.5-.5-1.7-.3 3.5-.4-4.4-.3 3.5-.3-1.7-.5 3.5-.3-5.7-.3 3.5-.5-1.8-.2 3.5-.4-4.3-.5 3.4-.3-1.7-.3 3.4-.3-6.1-.5 3.3-.5-1.6-.3 3.2-.4-4-.3 3.2-.4-1.6-.5 3.1-.4-4.9-.6 3-.3-1.5-.4 2.8-.6-3.4-.4 2.6-.6-1.3-.5 2.5-.7-4.8-.4 2.4-.6-1.1-.6 2.2-.5-2.6-.9 2-.2-1-1 1.8-.5-2.8-.6 1.7-.8-.8-1.2 1.4-1.1-1.6-1 1.2-.8-.6-1.3 1.1-1-1.8-1.6.9-1.2-.4-1.2.8-1.8-1-2.2.8-1.1-.4-1.3.8-1.4-1.2-2.6.7-.7-.3-1.6.7-1.8-.9-2.4.7-1.9-.4-.6.8-2.3-1.5-1.6.8-1.5-.4-1 .8-2.2-1.1-1.2 1-2-.5-1.1 1-1.1-1.7-.1 1-1.2-.5-1 1-.3-1.2-1.4.9-2.2-.4-3.2.8-1.3-1.4-.1.8-1.8-.4-.1.7 0-.6-4.9"/><path d="M267.48 128.68V73.13M267.48 165.79V179.30" stroke="#222" stroke-opacity="0.75" stroke-width="0.6"/><rect x="263.28" y="128.68" width="8.4" height="37.11" fill="none" stroke="#222" stroke-opacity="0.7" stroke-width="0.75"/><path d="M263.28 148.70h8.4" stroke="#111" stroke-opacity="0.8" stroke-width="1.3"/><path marker-start="url(#m1)" marker-mid="url(#m1)" marker-end="url(#m1)" d="M278.3 179.5l-.9 0 1.7-.1-2.2 0 1.8 0-.9-.1 2 0-3.4 0 2.1-.1-1.1 0 2.3 0-2.9-.1 2.4 0-1.2 0 2.5 0-4.7-.1 2.6 0-1.3 0 2.8-.1-3.6 0 2.9 0-1.5-.1 3 0-4.9 0 3.1 0-1.6-.1 3.2 0-4.1 0 3.3 0-1.6-.1 3.4 0-6.6 0 3.5-.1-1.8 0 3.6 0-4.6 0 3.7 0-1.8-.1 3.7 0-6.2 0 3.9 0-2-.1 3.9 0-4.9 0 4 0-2 0 4-.1-7.3 0 4.1 0-2.1 0 4.1 0-5.1-.1 4.1 0-2.1 0 4.2 0-6.8 0 4.2-.1-2.1 0 4.2 0-5.3 0 4.3 0-2.2 0 4.3-.1-8.3 0 4.2 0-2.1 0 4.3 0-5.4 0 4.3 0-2.1-.1 4.3 0-7 0 4.3 0-2.2 0 4.3 0-5.4 0 4.3-.1-2.1 0 4.3 0-7.8 0 4.3 0-2.1 0 4.2-.1-5.3 0 4.3 0-2.2 0 4.3 0-6.9-.1 4.2 0-2.1 0 4.2 0-5.2 0 4.2-.1-2.1 0 4.1 0-7.9 0 4.2 0-2.1 0 4.1-.1-5.1 0 4.1 0-2 0 3.9 0-6.4 0 3.9-.1-1.9 0 3.9 0-4.9 0 3.9 0-1.9-.1 3.8 0-6.9 0 3.8 0-1.9-.1 3.7 0-4.6 0 3.7 0-1.8-.1 3.5 0-5.7 0 3.5 0-1.7 0 3.3-.1-4.1 0 3.2 0-1.6-.1 3.1 0-6.1 0 3.1 0-1.5-.1 2.9 0-3.5 0 2.8-.1-1.4 0 2.7-.1-4.3 0 2.6-.1-1.2 0 2.3 0-2.8-.1 2.2 0-1.1 0 2.1-.1-3.7 0 2-.1-.9 0 1.8-.1-2.1-.1 1.6 0-.8-.1 1.4-.1-2.2-.1 1.3 0-.6-.1 1.1-.1-1.3-.1 1-.1-.5-.2.7-.1-1.2-.2.6 0-.3-.2.5-.2-.5-.2.4-.1-.2-.3.2-.7-.2-1 .1-.6 0-1.6 0-.9-.1-1.2.1-.5 0-4.2 0-.4-.1-6 .1-4.1 0-2.7 0-1.2 0-9.3"/><path d="M278.27 176.42V173.88M278.27 178.27V179.48" stroke="#222" stroke-opacity="0.75" stroke-width="0.6"/><rect x="274.07" y="176.42" width="8.4" height="1.85" fill="none" stroke="#222" stroke-opacity="0.7" stroke-width="0.75"/><path d="M274.07 177.50h8.4" stroke="#111" stroke-opacity="0.8" stroke-width="1.3"/><path marker-start="url(#m2)" marker-mid="url(#m2)" marker-end="url(#m2)" d="M289.1 178.9l-.5-1.2 1-.6-1.4-.8 1.2-1.4-.7-.7 1.5-1.4-2.5-.7 1.6-1-.8-1.4 1.6-.8-2.1-1 1.7-.7-.9-1.2 1.8-.3-3.2-1.5 1.8-.6-.9-.8 1.8-1-2.3-1.2 1.8-.5-.9-1.2 1.9-.6-3.1-1.1 1.9-.7-1-.8 2.1-.6-2.6-.9 2.1-.6-1.1-1.1 2.2-.4-4.2-1 2.2-.4-1.1-.8 2.3-.8-3-.6 2.5-.7-1.3-.7 2.6-.6-4.3-.7 2.7-.7-1.4-.6 2.8-.8-3.6-.3 3-.8-1.5-.4 3.1-.5-5.7-.8 3.2-.4-1.7-.7 3.4-.4-4.3-.5 3.5-.4-1.8-.4 3.7-.6-6-.3 3.7-.6-1.9-.5 3.9-.2-4.9-.6 3.9-.4-2-.5 4.1-.2-8-.4 4.1-.4-2.1-.4 4.2-.3-5.2-.6 4.2-.2-2.1-.5 4.2-.5-6.9-.2 4.3-.4-2.2-.4 4.3-.3-5.4-.4 4.3-.4-2.1-.4 4.3-.4-7.8-.3 4.3-.5-2.1-.5 4.2-.1-5.3-.6 4.3-.4-2.2-.4 4.3-.5-6.9-.2 4.2-.7-2.1-.4 4.3-.4-5.4-.4 4.3-.5-2.1-.4 4.2-.4-8.1-.3 4.3-.4-2.2-.4 4.3-.4-5.3-.3 4.2-.5-2.1-.4 4.2-.3-6.8-.3 4.2-.5-2.1-.3 4.2-.5-5.2-.4 4.1-.2-2.1-.4 4.1-.6-7.3-.3 4-.5-2-.3 3.9-.4-4.8-.4 3.8-.4-1.9-.5 3.7-.5-5.9-.5 3.6-.4-1.8-.5 3.5-.3-4.2-.7 3.2-.6-1.6-.4 3-.5-5.9-.5 3-.9-1.4-.3 2.7-.8-3.2-.5 2.5-.7-1.2-.4 2.2-1.1-3.5-.5 2.1-1.1-.9-1 1.8-.9-2.1-.9 1.6-.7-.8-1.2 1.3-1.4-2.3-1.1 1.2-2.1-.5-.9 1.1-1.7-1.4-.9 1.1-2-.5-1 1-1.7-1.6-2.2.9-1.2-.4-2 .9-1.3-1.2-1.6 1-1.6-.5-1.5 1-1.7-1.9-1.3 1-2.1-.5-.9 1.1-2-1.5-1.1 1.2-1.5-.6-1 1.3-2-2.2-.4 1.4-.3-.7-1 1.3-2.3-1.6-.5 1.3-.9-.6-.1 1.2-.1-1.9-5.6.8 0-.3-2.2.6-2.2-.7-1"/><path d="M289.06 102.50V43.03M289.06 142.39V178.85" stroke="#222" stroke-opacity="0.75" stroke-width="0.6"/><rect x="284.86" y="102.50" width="8.4" height="39.89" fill="none" stroke="#222" stroke-opacity="0.7" stroke-width="0.75"/><path d="M284.86 123.29h8.4" stroke="#111" stroke-opacity="0.8" stroke-width="1.3"/><path marker-start="url(#m3)" marker-mid="url(#m3)" marker-end="url(#m3)" d="M299.9 179.4l-.9-.2 1.8-.1-2.5-.3 2.1-.2-1.1-.1 2.4-.3-4.1-.2 2.6-.1-1.4-.3 2.8-.1-3.6-.2 3-.1-1.5-.3 3.1-.2-5.7-.2 3.2-.2-1.7-.1 3.3-.2-4.2-.2 3.4-.2-1.7-.1 3.5-.2-5.7-.2 3.5-.2-1.8-.2 3.6-.2-4.5-.1 3.6-.2-1.8-.2 3.7-.1-7-.3 3.7-.1-1.9-.2 3.7-.1-4.7-.3 3.8-.2-1.9-.1 3.9-.2-6.3-.1 3.9-.2-2-.1 4-.3-5-.1 4-.2-2-.1 4-.3-7.3-.1 4-.1-2-.2 4.1-.2-5.2-.1 4.2-.2-2.1-.1 4.2-.2-6.9-.1 4.3-.1-2.1-.2 4.2-.1-5.3-.2 4.3-.1-2.2-.2 4.3-.1-8.4-.2 4.3-.1-2.1-.2 4.3 0-5.4-.2 4.3-.2-2.1-.1 4.2-.2-6.9-.1 4.3-.1-2.2-.2 4.2-.1-5.2-.2 4.2-.2-2.1-.1 4.1-.1-7.4-.2 4.1-.2-2-.1 4-.2-5-.1 4-.3-2-.1 3.9-.2-6.3-.2 3.8-.1-1.9-.1 3.8-.3-4.7-.1 3.8-.2-1.9-.3 3.7-.1-7-.1 3.6-.3-1.8-.1 3.6-.2-4.4-.2 3.5-.1-1.8-.2 3.5-.2-5.6-.1 3.4-.2-1.7-.2 3.4-.2-4.2-.1 3.3-.3-1.6-.1 3.2-.2-5.7-.3 3.1-.1-1.5-.3 3-.1-3.7-.3 2.9-.2-1.4-.2 2.7-.2-4.4-.3 2.7-.3-1.3-.1 2.5-.3-3.1-.2 2.4-.4-1.2-.3 2.2-.1-4.2-.4 2.1-.4-1-.1 1.9-.5-2.3-.3 1.8-.3-.9-.3 1.6-.5-2.5-.2 1.5-.4-.6-.6 1.2-.4-1.5-.4 1.2-.5-.6-.9.9-.5-1.5-.8.8-.6-.4-.9.8-.9-.9-.4.7-.9-.4-1.2.7-.8-1-.6.6-1.2-.3-1 .6-.8-.8-1 .6-.7-.3-1.1.5-1.5-.9-.8.5-1-.3-1.5.6-.5-.8-.9.7-1.4-.5-.9 1.1-.4-1.7-.3 1-.2-.5-.1 1-.5-1.2-.6.9-.7-.4-.3.5-1.4-.7-2.3.3-2.1-.1-2.4.2 0-.2-10"/><path d="M299.86 154.24V129.04M299.86 171.34V179.39" stroke="#222" stroke-opacity="0.75" stroke-width="0.6"/><rect x="295.66" y="154.24" width="8.4" height="17.09" fill="none" stroke="#222" stroke-opacity="0.7" stroke-width="0.75"/><path d="M295.66 164.41h8.4" stroke="#111" stroke-opacity="0.8" stroke-width="1.3"/><path marker-start="url(#m4)" marker-mid="url(#m4)" marker-end="url(#m4)" d="M310.6 179.5l-1-.1 2.2 0-2.9 0 2.4-.1-1.3 0 2.6-.1-4.3 0 2.7-.1-1.4 0 2.9 0-3.7-.1 3 0-1.5-.1 3.2 0-5.9-.1 3.3 0-1.8-.1 3.5 0-4.4 0 3.6-.1-1.8 0 3.7-.1-6.1 0 3.8-.1-2 0 3.9-.1-4.9 0 4 0-2-.1 4 0-7.7-.1 4.1 0-2.1-.1 4.2 0-5.3-.1 4.2 0-2.1-.1 4.3 0-6.9 0 4.2-.1-2.1 0 4.3-.1-5.4 0 4.3-.1-2.2 0 4.3-.1-7.7 0 4.3-.1-2.2 0 4.3-.1-5.4 0 4.3 0-2.1-.1 4.2 0-6.9-.1 4.3 0-2.1 0 4.2-.1-5.3 0 4.2 0-2.1-.1 4.1 0-8-.1 4.1 0-2-.1 4 0-5 0 4-.1-2 0 3.9-.1-6.3 0 3.9-.1-1.9 0 3.7-.1-4.6 0 3.7-.1-1.8 0 3.5-.1-6.4 0 3.5-.1-1.7 0 3.4-.1-4.2 0 3.3-.1-1.6 0 3.1-.1-4.9-.1 3-.1-1.5 0 2.8-.1-3.5-.1 2.8 0-1.4-.1 2.6-.1-4.8-.1 2.5-.1-1.2-.1 2.3 0-2.8-.1 2.2-.1-1.1-.1 2-.1-3.1-.1 1.9-.1-.9-.2 1.7-.1-2.1 0 1.6-.2-.8-.1 1.6-.1-2.8-.1 1.5-.2-.7-.1 1.4-.1-1.7-.1 1.3-.2-.6-.1 1.2-.1-2-.2 1.2-.2-.6-.1 1.2-.2-1.4-.1 1.1-.2-.6-.1 1.1-.2-2-.1 1-.3-.5-.2.9-.1-1.1-.2.9-.2-.5-.3.9-.1-1.3-.3.8-.2-.4-.1.7-.3-.9-.3.7-.2-.3-.1.6-.4-1.1-.2.6-.4-.3-.2.6-.4-.7-.2.5-.4-.2-.3.4-.3-.7-.4.4-.3-.2-.6.4-.5-.4-.4.3-.3-.2-.6.3-.4-.5-.6.3-.4-.2-.9.3-.5-.3-.6.2-.4-.1-.7.2-.8-.2-2.5.1-1.2-.1-1.1.1-1.3-.1-3.4.1-.9-.1-3.2.1-1.8-.1-2.3.1-.7-.1-2.2.1-.3-.1-.9"/><path d="M310.65 169.49V157.72M310.65 177.50V179.47" stroke="#222" stroke-opacity="0.75" stroke-width="0.6"/><rect x="306.45" y="169.49" width="8.4" height="8.01" fill="none" stroke="#222" stroke-opacity="0.7" stroke-width="0.75"/><path d="M306.45 175.34h8.4" stroke="#111" stroke-opacity="0.8" stroke-width="1.3"/><path marker-start="url(#m5)" marker-mid="url(#m5)" marker-end="url(#m5)" d="M321.4 179.3l-.7-.6 1.5-.3-2-.4 1.7-.7-.9-.4 2-.4-3.4-.5 2.1-.4-1.1-.3 2.3-.5-3-.6 2.5-.5-1.3-.4 2.6-.5-4.7-.1 2.6-.7-1.4-.4 2.8-.4-3.5-.4 2.8-.3-1.4-.5 2.9-.5-4.7-.2 2.9-.6-1.5-.2 3-.5-3.8-.4 3.1-.4-1.5-.4 3.1-.3-6-.6 3.1-.2-1.6-.5 3.3-.3-4.1-.4 3.3-.4-1.7-.2 3.4-.4-5.6-.5 3.5-.2-1.8-.3 3.6-.4-4.5-.4 3.6-.4-1.8-.3 3.7-.3-6.8-.3 3.8-.3-1.9-.3 3.9-.3-4.9-.4 3.9-.3-2-.3 4.1-.2-6.6-.3 4-.4-2-.3 4.1-.3-5.2-.2 4.2-.3-2.1-.2 4.3-.3-8.3-.3 4.2-.2-2.1-.3 4.3-.3-5.4-.2 4.3-.3-2.2-.3 4.3-.2-6.9-.3 4.2-.2-2.1-.2 4.3-.4-5.4-.3 4.3-.2-2.1-.3 4.2-.3-7.6-.2 4.2-.3-2.1-.3 4.1-.2-5.1-.4 4.1-.2-2.1-.3 4.1-.4-6.6-.3 4.1-.4-2-.2 3.9-.5-4.9-.2 3.9-.5-1.9-.2 3.8-.4-7.3-.3 3.8-.2-1.9-.3 3.8-.4-4.7-.4 3.7-.2-1.8-.2 3.6-.5-5.9-.1 3.7-.3-1.8-.5 3.5-.3-4.4-.2 3.5-.4-1.7-.3 3.3-.5-6-.2 3.3-.4-1.6-.2 3.2-.5-3.9-.3 3-.3-1.5-.6 3-.2-4.7-.7 2.8-.3-1.4-.5 2.7-.4-3.3-.4 2.5-.6-1.2-.3 2.3-.4-4.5-.5 2.3-.5-1.1-.6 2.1-.7-2.4-.8 1.8-.5-.9-.4 1.7-.8-2.6-.9 1.5-.3-.6-1 1.2-.8-1.4-1 1-1.3-.5-1.1.8-2-1.4-1.2.8-1.3-.4-1.5.7-1.7-.8-1 .6-2.1-.3-1.3.6-2.8-.9-.6.6-2.1-.3-2 .5-1.6-.7-2.1.6-1.2-.3-2.9.6-.9-1.1-2.1.6-1.9-.3-1.9.6-1.8-.9-.8.8-1.6-.4-1.5.8-1.8-1.3-.6.8-1.4-.4-1.1.7-1.2-.9-1.8.7-1.9-.3-.3.5-2.1-.9-3.2.5-2.3-.2-2.7.4-.4-.5-.5"/><path d="M321.44 130.22V84.18M321.44 161.17V179.30" stroke="#222" stroke-opacity="0.75" stroke-width="0.6"/><rect x="317.24" y="130.22" width="8.4" height="30.95" fill="none" stroke="#222" stroke-opacity="0.7" stroke-width="0.75"/><path d="M317.24 148.24h8.4" stroke="#111" stroke-opacity="0.8" stroke-width="1.3"/><rect x="261.00" y="17.90" width="99.30" height="169.20" fill="none" stroke="#333" stroke-width="1.07"/><path d="M366.85 160.25H466.15M366.85 121.75H466.15M366.85 83.25H466.15M366.85 44.75H466.15" stroke="#EBEBEB" stroke-width="0.55" fill="none"/><path d="M366.85 179.50H466.15M366.85 141.00H466.15M366.85 102.50H466.15M366.85 64.00H466.15M366.85 25.50H466.15M373.33 17.90V187.10M384.12 17.90V187.10M394.91 17.90V187.10M405.71 17.90V187.10M416.50 17.90V187.10M427.29 17.90V187.10M438.09 17.90V187.10M448.88 17.90V187.10M459.67 17.90V187.10" stroke="#EBEBEB" stroke-width="1.1" fill="none"/><path marker-start="url(#m0)" marker-mid="url(#m0)" marker-end="url(#m0)" d="M373.3 179.4l-1.1-.4 2.3-.2-3-.2 2.5-.4-1.4-.4 2.9-.3-4.8-.2 3-.3-1.6-.4 3.4-.3-4.4-.2 3.6-.3-1.8-.3 3.7-.3-6.9-.3 3.9-.3-2-.3 4-.3-5-.4 4-.1-2-.3 4.1-.4-6.7-.3 4.1-.3-2.1-.3 4.2-.3-5.2-.4 4.2-.1-2.1-.4 4.2-.3-8.1-.2 4.3-.3-2.2-.4 4.3-.3-5.3-.3 4.2-.2-2.1-.4 4.2-.3-6.9-.2 4.3-.3-2.1-.4 4.2-.2-5.3-.4 4.3-.3-2.2-.2 4.3-.3-7.7-.3 4.2-.3-2.1-.4 4.2-.2-5.3-.4 4.3-.2-2.1-.3 4.2-.3-6.9-.2 4.3-.3-2.2-.4 4.3-.2-5.3-.3 4.2-.3-2.1-.4 4.2-.4-8.2-.2 4.2-.2-2.1-.4 4.2-.2-5.3-.4 4.2-.2-2.1-.4 4.2-.3-6.8-.2 4.2-.4-2.1-.3 4.2-.3-5.2-.2 4.2-.3-2.1-.4 4.1-.3-7.5-.3 4.2-.3-2.1-.3 4.1-.3-5.2-.3 4.2-.3-2.1-.3 4.2-.3-6.8-.2 4.2-.6-2.1-.3 4.2-.3-5.3-.2 4.3-.4-2.2-.2 4.3-.2-8.2-.3 4.3-.5-2.1-.2 4.3-.3-5.4-.3 4.3-.2-2.1-.3 4.2-.3-6.9-.1 4.3-.3-2.2-.4 4.3-.2-5.3-.2 4.2-.3-2.1-.2 4.1-.4-7.4-.2 4.1-.5-2-.2 3.9-.2-4.8-.3 3.8-.5-1.9-.2 3.6-.5-5.8-.3 3.5-.3-1.7-.3 3.3-.5-4-.4 3.1-.4-1.5-.2 2.9-.4-5.7-.4 2.8-.5-1.2-.6 2.5-.4-3-.6 2.3-.7-1.1-.4 2-.5-3.1-.4 1.9-.9-.9-.7 1.6-.7-1.8-1.2 1.3-1-.6-1.3 1.1-.4-1.9-1.3 1-1.4-.4-1.1.8-1.3-1-1.4.8-2-.4-1.5.7-1.1-1.1-1.7.6-1.6-.3-2 .6-1.7-.7-1.9.6-1.7-.3-2 .6-1.1-1.2-1.5.6-2.4-.3-2.1.7-.9-.8-2.2.6-1.3-.3-1.8.5-1.6-.8-.6.5-5.5-.2-2.5.4-2.7-.5-1 .4-.8-.2-5.4.5-4.2-1-1.5.6-1.8-.3-.3.6-.4-.7-1.4"/><path d="M373.33 137.00V93.69M373.33 166.10V179.37" stroke="#222" stroke-opacity="0.75" stroke-width="0.6"/><rect x="369.13" y="137.00" width="8.4" height="29.11" fill="none" stroke="#222" stroke-opacity="0.7" stroke-width="0.75"/><path d="M369.13 152.55h8.4" stroke="#111" stroke-opacity="0.8" stroke-width="1.3"/><path marker-start="url(#m1)" marker-mid="url(#m1)" marker-end="url(#m1)" d="M384.1 179.5l-.8-.1 1.7 0-2.3-.1 1.9 0-1 0 2.1-.1-3.5 0 2.2-.1-1.1 0 2.3-.1-3 0 2.4 0-1.2-.1 2.6 0-4.8-.1 2.7 0-1.4 0 2.8-.1-3.5 0 2.8-.1-1.4 0 2.9-.1-4.8 0 3-.1-1.5 0 3-.1-3.8 0 3.1-.1-1.6 0 3.1 0-5.9-.1 3.1 0-1.5-.1 3.1 0-3.9-.1 3.1 0-1.6 0 3.2-.1-5.1 0 3.1-.1-1.6 0 3.2-.1-3.9 0 3.1-.1-1.6 0 3.2-.1-5.7 0 3.1-.1-1.5 0 3.1-.1-3.9 0 3.1 0-1.6-.1 3.1-.1-5 0 3.1 0-1.6-.1 3.2-.1-4 0 3.2-.1-1.6 0 3.2-.1-6.2 0 3.2-.1-1.7 0 3.3-.1-4.1 0 3.3-.1-1.7 0 3.4-.1-5.5 0 3.4-.1-1.7 0 3.5-.1-4.5 0 3.6-.1-1.8 0 3.8-.1-6.9 0 3.8-.1-1.9 0 3.9-.1-4.9 0 3.9 0-2-.1 4.1 0-6.7-.1 4.2 0-2.1 0 4.2-.1-5.3 0 4.2 0-2.1-.1 4.3 0-8.2 0 4.3-.1-2.1 0 4.3 0-5.4-.1 4.3 0-2.2 0 4.3 0-6.9 0 4.3-.1-2.2 0 4.3 0-5.4 0 4.3-.1-2.1 0 4.2 0-7.6 0 4.2 0-2.1-.1 4.2 0-5.2 0 4.1 0-2.1-.1 4.1 0-6.6 0 4.1-.1-2 0 3.9 0-4.9-.1 3.9 0-1.9 0 3.7-.1-7.4 0 3.7 0-1.7-.1 3.5 0-4.3-.1 3.4 0-1.7-.1 3.2 0-5-.1 3 0-1.4-.1 2.7 0-3.2-.1 2.4-.1-1.1-.1 2.1-.1-3.7-.1 2 0-.9-.2 1.6-.1-1.8-.1 1.3-.1-.6-.2 1.1-.1-1.7-.1 1-.2-.4-.2.7-.2-.8-.2.6-.2-.3-.3.5-.3-.9-.3.4-.3-.2-.1.4-.5-.4-.3.3-.2-.1-2.2.1-.9-.2-5.5.1-.2 0-4.7.1-2.8-.2-.8.2-.5-.1-5.7.1-2.8-.2-4.2.1-.8 0-11.3.1-4.8-.1-4"/><path d="M384.12 173.96V169.09M384.12 177.50V179.49" stroke="#222" stroke-opacity="0.75" stroke-width="0.6"/><rect x="379.92" y="173.96" width="8.4" height="3.54" fill="none" stroke="#222" stroke-opacity="0.7" stroke-width="0.75"/><path d="M379.92 175.34h8.4" stroke="#111" stroke-opacity="0.8" stroke-width="1.3"/><path marker-start="url(#m2)" marker-mid="url(#m2)" marker-end="url(#m2)" d="M394.9 178.7l-.4-1.1.9-1.3-1.3-.6 1.1-1.7-.6-1.4 1.4-.7-2.3-.9 1.4-1.8-.8-.9 1.6-.8-2-1.5 1.6-1.3-.8-.5 1.6-1.6-2.9-.9 1.6-.7-.8-1 1.7-1.6-2.2-.6 1.8-1.1-.9-1.2 1.8-.8-3-.7 1.9-1.1-1-1.1 1.9-1.1-2.4-.8 2-.8-1-.8 2.1-1.2-4-.5 2.1-1.2-1.1-.7 2.2-.9-2.8-.7 2.3-.7-1.2-.7 2.5-1-4.1-.6 2.5-.6-1.3-.8 2.7-1-3.5-.6 2.9-.6-1.5-.5 3.1-.8-5.6-.4 3.1-.8-1.6-.3 3.3-.8-4.2-.7 3.4-.5-1.7-.3 3.5-.7-5.8-.4 3.6-.7-1.8-.2 3.7-.5-4.7-.5 3.8-.5-1.9-.7 3.9-.3-7.7-.5 4-.3-2-.5 4-.5-5.1-.5 4.1-.5-2.1-.3 4.2-.4-6.8-.4 4.2-.5-2.1-.3 4.2-.6-5.3-.5 4.3-.4-2.2-.2 4.3-.6-7.7-.2 4.2-.5-2.1-.6 4.3-.3-5.4-.6 4.3-.4-2.1-.4 4.3-.5-7-.5 4.3-.5-2.2-.2 4.3-.8-5.3-.3 4.3-.4-2.2-.6 4.3-.5-8.2-.4 4.3-.4-2.1-.2 4.3-.5-5.4-.6 4.3-.5-2.2-.2 4.3-.6-6.9-.2 4.2-.6-2.1-.3 4.3-.3-5.3-.5 4.2-.5-2.1-.4 4.1-.5-7.4-.3 4.1-.6-2.1-.3 4-.6-4.9-.2 3.9-.6-1.9-.5 3.8-.3-6.2-.7 3.8-.5-1.8-.6 3.5-.2-4.4-.6 3.5-.7-1.7-.6 3.2-.4-6.4-.5 3.2-.7-1.5-.5 3-.6-3.6-.7 2.8-.8-1.3-.2 2.6-1-4.1-.8 2.4-.5-1.1-.7 2.2-1-2.7-.6 2.1-1.5-1-.7 1.8-1.2-3.2-1.1 1.7-.5-.8-1.3 1.6-1.3-1.9-1.3 1.5-1-.7-1.1 1.4-1-2.3-1.6 1.4-1.7-.7-.5 1.4-1.7-1.8-.9 1.5-1.9-.8-1.1 1.6-.7-3-1.9 1.6-.6-.9-1.5 1.8-.8-2.3-1.2 1.9-.9-1-1.2 1.9-.4-3.1-.6 1.9-.2-.9-.7 1.8-1.9-2.2 0 1.7-.4-.8 0 1.4-3-2.5-1.3 1.3-.4-.5-2.5.8-2-.8-1.4"/><path d="M394.91 92.95V44.60M394.91 136.23V178.66" stroke="#222" stroke-opacity="0.75" stroke-width="0.6"/><rect x="390.71" y="92.95" width="8.4" height="43.27" fill="none" stroke="#222" stroke-opacity="0.7" stroke-width="0.75"/><path d="M390.71 114.82h8.4" stroke="#111" stroke-opacity="0.8" stroke-width="1.3"/><path marker-start="url(#m3)" marker-mid="url(#m3)" marker-end="url(#m3)" d="M405.7 179.4l-.8-.2 1.6-.2-2.2-.4 1.9-.2-1-.3 2.2-.3-3.8-.2 2.4-.1-1.3-.3 2.7-.3-3.4-.1 2.8-.3-1.4-.2 2.8-.2-5.3-.4 3-.1-1.5-.2 3-.3-3.8-.3 3.1-.1-1.6-.2 3.2-.2-5.2-.3 3.2-.3-1.6-.2 3.2-.2-4-.2 3.2-.3-1.6-.2 3.3-.2-6.3-.2 3.3-.1-1.7-.3 3.4-.3-4.3-.1 3.5-.2-1.8-.2 3.6-.2-5.8-.2 3.6-.2-1.8-.2 3.6-.3-4.6-.1 3.7-.2-1.8-.3 3.8-.1-7-.2 3.9-.1-2-.3 4-.2-5-.2 4-.1-2-.2 4-.2-6.6-.2 4.1-.1-2.1-.2 4.2-.1-5.2-.2 4.2-.2-2.1-.1 4.2-.1-8.3-.2 4.3-.2-2.2-.2 4.3-.2-5.3-.1 4.2-.2-2.1-.1 4.3-.1-7-.3 4.3-.1-2.1-.2 4.3-.2-5.4-.1 4.3-.2-2.2-.2 4.3-.1-7.7-.2 4.2-.1-2.1-.2 4.3-.2-5.3-.2 4.2-.1-2.1-.1 4.2-.3-6.9-.2 4.3-.1-2.2-.3 4.3-.1-5.3-.2 4.2-.1-2.1-.2 4.2-.2-8-.1 4.2-.3-2.1-.1 4.2-.2-5.2-.2 4.1 0-2-.2 4.1-.2-6.7-.2 4.1-.1-2-.2 4-.2-5-.1 4-.2-2-.1 3.9-.2-7-.2 3.8-.2-1.9-.2 3.8-.1-4.6-.2 3.6-.2-1.8-.2 3.5-.1-5.6-.3 3.4-.2-1.7-.2 3.2-.3-3.9-.1 3-.3-1.4-.2 2.7-.3-5.3-.3 2.6-.2-1.2-.3 2.4-.4-2.9-.1 2.3-.4-1.1-.4 2-.2-3.1-.4 1.8-.4-.8-.3 1.5-.7-1.8-.2 1.4-.8-.6-.4 1.1-.6-2-.6 1.1-.9-.5-.8.9-.3-1.1-1 .9-.5-.4-1 .7-.7-1.1-1.2.6-.6-.3-1.2.6-1.2-.7-.5.6-.9-.3-1.6.5-.4-1-1.6.5-1.2-.2-.6.5-1.4-.6-1.6.4-.5-.2-1.9.4-1.9-.6 0 .4-2.9-.2-.3.4-4.3-.6-.4.5-.4-.2-.1.3-2.4-.5-3.5.2-2.6-.1-1.3.3-.8-.3-5.9"/><path d="M405.71 152.55V128.75M405.71 169.49V179.40" stroke="#222" stroke-opacity="0.75" stroke-width="0.6"/><rect x="401.51" y="152.55" width="8.4" height="16.94" fill="none" stroke="#222" stroke-opacity="0.7" stroke-width="0.75"/><path d="M401.51 161.79h8.4" stroke="#111" stroke-opacity="0.8" stroke-width="1.3"/><path marker-start="url(#m4)" marker-mid="url(#m4)" marker-end="url(#m4)" d="M416.5 179.5l-1.3 0 2.7-.1-3.5 0 2.8 0-1.4-.1 3 0-5 0 3.1-.1-1.6 0 3.3 0-4.2-.1 3.4 0-1.7 0 3.5-.1-6.5 0 3.6 0-1.9-.1 3.9 0-4.9-.1 3.9 0-2 0 4.1-.1-6.6 0 4.1 0-2.1-.1 4.2 0-5.3 0 4.3-.1-2.2 0 4.3-.1-8.2 0 4.3-.1-2.1 0 4.3 0-5.4-.1 4.3 0-2.1-.1 4.2 0-6.9-.1 4.3 0-2.2 0 4.3-.1-5.3 0 4.2-.1-2.1 0 4.1-.1-7.4 0 4.1 0-2-.1 4 0-5-.1 4-.1-2 0 3.9-.1-6.3 0 3.8-.1-1.9 0 3.8 0-4.7-.1 3.7-.1-1.8 0 3.6-.1-7 0 3.6-.1-1.8 0 3.5-.1-4.4-.1 3.5 0-1.7 0 3.4-.1-5.5-.1 3.4 0-1.7-.1 3.4-.1-4.2 0 3.3 0-1.7-.1 3.4-.1-6.1 0 3.4-.1-1.7-.1 3.3 0-4.1-.1 3.3 0-1.7-.1 3.3 0-5.3-.1 3.3-.1-1.7 0 3.3-.1-4.1 0 3.3-.1-1.7-.1 3.4 0-6.4-.1 3.4 0-1.7-.1 3.3 0-4.1-.1 3.3 0-1.7-.1 3.3 0-5.3-.1 3.3 0-1.7-.1 3.3 0-4-.1 3.1 0-1.5-.1 3.1-.1-5.6 0 3 0-1.5-.1 3-.1-3.7 0 2.9-.1-1.4 0 2.8-.1-4.5-.1 2.7 0-1.3-.1 2.6-.1-3.2 0 2.5-.1-1.2-.1 2.3-.1-4.5-.1 2.2-.1-1 0 2-.2-2.5 0 2-.1-.9-.1 1.7-.1-2.7-.1 1.6-.1-.7-.2 1.4-.1-1.7-.1 1.3-.2-.6-.1 1.1-.2-2-.2 1.1-.1-.5-.2.9-.3-1.1 0 .9-.2-.4-.4.7-.1-1.1-.4.6-.2-.3-.4.6-.1-.7-.3.5-.5-.2-.2.4-.4-.8-.3.4-.3-.2-.6.4-.3-.4-.6.3-.5-.2-.4.3-.2-.3-1.3.1-2.1 0-1.9.1-1.7-.2-1.3.2-1.6-.1-.6.1-1.8-.2-3 .1-1.8 0-2.6.1-3.9-.2-.7"/><path d="M416.50 172.42V164.41M416.50 177.81V179.48" stroke="#222" stroke-opacity="0.75" stroke-width="0.6"/><rect x="412.30" y="172.42" width="8.4" height="5.39" fill="none" stroke="#222" stroke-opacity="0.7" stroke-width="0.75"/><path d="M412.30 175.34h8.4" stroke="#111" stroke-opacity="0.8" stroke-width="1.3"/><path marker-start="url(#m5)" marker-mid="url(#m5)" marker-end="url(#m5)" d="M427.3 179.3l-.6-.4 1.2-.5-1.6-.4 1.4-.4-.8-.5 1.7-.5-2.9-.1 1.8-.6-.9-.5 2-.3-2.6-.4 2.1-.5-1.1-.2 2.2-.6-4-.3 2.2-.2-1.1-.5 2.3-.4-2.9-.3 2.3-.5-1.2-.3 2.5-.4-4-.3 2.5-.3-1.3-.5 2.6-.4-3.3-.2 2.7-.4-1.4-.3 2.8-.5-5.3-.2 2.8-.3-1.5-.5 3-.1-3.8-.5 3-.1-1.5-.4 3.2-.2-5.2-.5 3.2-.1-1.7-.4 3.4-.2-4.3-.4 3.5-.2-1.7-.2 3.6-.4-6.7-.3 3.7-.1-1.9-.3 3.9-.2-4.9-.2 4-.3-2-.3 4-.2-6.6-.1 4.1-.3-2.1-.1 4.2-.2-5.2-.3 4.2-.1-2.1-.3 4.2-.1-8.3-.3 4.3-.2-2.2-.1 4.3-.3-5.4-.1 4.3-.2-2.1-.2 4.3-.2-7-.1 4.3-.3-2.1-.2 4.2-.1-5.3-.2 4.2-.2-2.1-.2 4.2-.3-7.5-.2 4.1-.2-2-.3 4-.1-5-.3 4-.2-2-.2 3.9-.2-6.2-.4 3.8-.2-1.9-.2 3.7-.3-4.6-.2 3.6-.4-1.8-.2 3.5-.3-6.6-.2 3.5-.3-1.7-.3 3.3-.2-4.1-.4 3.2-.2-1.5-.2 3.1-.4-5-.3 3-.3-1.5-.3 2.9-.3-3.6-.3 2.9-.2-1.4-.4 2.7-.3-4.9-.3 2.7-.4-1.3-.3 2.5-.3-3.1-.4 2.5-.4-1.2-.3 2.3-.5-3.7-.4 2.2-.3-1.1-.4 2.1-.4-2.5-.4 1.9-.6-.9-.5 1.8-.5-3.6-.3 1.8-.5-.8-.5 1.6-.6-2-.3 1.6-.8-.8-.4 1.4-.6-2.2-.5 1.4-1.1-.6-.7 1.1-.6-1.4-.5 1.1-1-.5-1.1.9-.6-1.5-1.4.7-.8-.3-1.6.7-.7-.9-1 .7-1.2-.3-1.4.6-1.8-.9-.8.5-1.7-.3-1.3.5-2.1-.6-1.5.5-1-.2-1.5.4-1.8-.8-2.1.4-1.6-.2-.9.4-2.5-.6-1.7.6-1.6-.4-1.9.8 0-1.2-1.2.7-.7-.4-.3.8-2.7-.9-.6.7-.3-.4-1.4.6-.9-1 0 .5-3.4 0-10.7 0-8.3-.1-7.5"/><path d="M427.29 137.00V99.31M427.29 163.33V179.34" stroke="#222" stroke-opacity="0.75" stroke-width="0.6"/><rect x="423.09" y="137.00" width="8.4" height="26.33" fill="none" stroke="#222" stroke-opacity="0.7" stroke-width="0.75"/><path d="M423.09 153.63h8.4" stroke="#111" stroke-opacity="0.8" stroke-width="1.3"/><rect x="366.85" y="17.90" width="99.30" height="169.20" fill="none" stroke="#333" stroke-width="1.07"/><path d="M472.70 160.25H572.00M472.70 121.75H572.00M472.70 83.25H572.00M472.70 44.75H572.00" stroke="#EBEBEB" stroke-width="0.55" fill="none"/><path d="M472.70 179.50H572.00M472.70 141.00H572.00M472.70 102.50H572.00M472.70 64.00H572.00M472.70 25.50H572.00M479.18 17.90V187.10M489.97 17.90V187.10M500.76 17.90V187.10M511.56 17.90V187.10M522.35 17.90V187.10M533.14 17.90V187.10M543.94 17.90V187.10M554.73 17.90V187.10M565.52 17.90V187.10" stroke="#EBEBEB" stroke-width="1.1" fill="none"/><path marker-start="url(#m0)" marker-mid="url(#m0)" marker-end="url(#m0)" d="M479.2 179.4l-1-.2 2.1-.3-2.9-.3 2.4-.2-1.3-.3 2.7-.4-4.5-.3 2.8-.1-1.5-.3 3.2-.4-4.1-.3 3.3-.1-1.7-.4 3.5-.1-6.4-.3 3.6-.3-1.8-.3 3.7-.2-4.7-.3 3.8-.2-1.9-.3 3.8-.3-6.3-.3 3.9-.2-2-.3 4-.3-5-.1 4-.3-2-.3 4.1-.2-7.8-.4 4.1-.2-2-.3 4.1-.1-5.2-.3 4.1-.3-2-.3 4.1-.2-6.7-.4 4.1-.1-2.1-.4 4.2-.3-5.2-.2 4.2-.2-2.1-.4 4.2-.1-7.7-.2 4.3-.4-2.2-.1 4.3-.3-5.3-.4 4.2-.1-2.1-.2 4.3-.4-7-.2 4.3-.1-2.1-.3 4.3-.3-5.4-.3 4.3-.1-2.2-.3 4.3-.2-8.3-.3 4.2-.2-2.1-.3 4.3-.2-5.3-.3 4.2-.2-2.1-.3 4.2-.2-6.8-.2 4.2-.3-2.1-.2 4.1-.3-5.1-.2 4.1-.3-2.1-.2 4.1-.3-7.3-.3 4-.2-2-.2 4-.3-5-.2 4-.3-2-.4 3.9-.2-6.3-.3 3.8-.3-1.8-.3 3.7-.3-4.7-.3 3.8-.3-1.9-.2 3.7-.3-7-.4 3.6-.2-1.7-.3 3.5-.3-4.4-.4 3.5-.1-1.7-.3 3.4-.4-5.6-.2 3.5-.3-1.7-.4 3.3-.3-4.1-.2 3.3-.4-1.7-.2 3.2-.4-5.7-.4 3.1-.1-1.5-.4 3-.5-3.7-.3 2.9-.3-1.4-.4 2.8-.4-4.5-.3 2.7-.2-1.3-.5 2.6-.3-3.2-.4 2.5-.4-1.3-.4 2.4-.7-4.6-.4 2.3-.3-1.1-.4 2.1-.7-2.5-.3 2-.7-1-.4 1.8-.4-2.8-.5 1.7-.7-.8-.7 1.5-.8-1.8-.4 1.4-.9-.7-1.2 1.2-.4-2-1.5 1-.5-.4-1.1.9-1.1-1.1-.8.9-1.2-.5-1.1.9-1.3-1.4-.6.8-1.6-.4-1 .9-.7-1.1-1.3.8-1.4-.4-1 .9-.9-1.6-1.4.8-1.2-.4-.5.8-1.5-1-.6.8-1.3-.4-.8 1.1-3.2-1.9-.2 1.2 0-.6-.4 1.2-.2-1.6-.9 1.3-.2-.6-2.2 1.1 0-2-.1 1.1-1.3-.5-.6.7-2.8-.6-.8"/><path d="M479.18 140.23V101.29M479.18 167.64V179.43" stroke="#222" stroke-opacity="0.75" stroke-width="0.6"/><rect x="474.98" y="140.23" width="8.4" height="27.41" fill="none" stroke="#222" stroke-opacity="0.7" stroke-width="0.75"/><path d="M474.98 156.25h8.4" stroke="#111" stroke-opacity="0.8" stroke-width="1.3"/><path marker-start="url(#m1)" marker-mid="url(#m1)" marker-end="url(#m1)" d="M490 179.5l-.9-.1 1.8 0-2.4-.1 2-.1-1.1 0 2.2-.1-3.6 0 2.3-.1-1.3 0 2.6-.1-3.3-.1 2.7 0-1.4-.1 2.8 0-5.1-.1 2.9-.1-1.5 0 3-.1-3.9-.1 3.1 0-1.5-.1 3.2 0-5.2-.1 3.2 0-1.6-.1 3.2 0-4.1-.1 3.3-.1-1.6 0 3.3-.1-6.4 0 3.4-.1-1.7-.1 3.3 0-4.1-.1 3.3 0-1.7-.1 3.4 0-5.5-.1 3.4 0-1.7-.1 3.4-.1-4.2 0 3.3-.1-1.6 0 3.3-.1-6.1-.1 3.4 0-1.7-.1 3.3 0-4.1-.1 3.3-.1-1.7 0 3.4-.1-5.4-.1 3.3 0-1.7-.1 3.4 0-4.2-.1 3.3-.1-1.6 0 3.3 0-6.6-.1 3.4-.1-1.7-.1 3.4 0-4.3-.1 3.5 0-1.7-.1 3.4 0-5.6-.1 3.5-.1-1.8 0 3.6-.1-4.5 0 3.6-.1-1.8 0 3.7-.1-6.8-.1 3.8 0-1.9-.1 3.8 0-4.8-.1 3.9 0-2-.1 4 0-6.5-.1 4-.1-2.1 0 4.2-.1-5.2 0 4.2-.1-2.1 0 4.2-.1-8.1 0 4.3-.1-2.2 0 4.3 0-5.3-.1 4.2 0-2.1-.1 4.3 0-7 0 4.3-.1-2.1 0 4.2 0-5.3-.1 4.3 0-2.2 0 4.3-.1-7.7 0 4.2 0-2.1-.1 4.2 0-5.1-.1 4 0-2 0 4-.1-6.4 0 3.9-.1-1.9 0 3.7-.1-4.6 0 3.6-.1-1.8 0 3.4-.1-6.7-.1 3.4 0-1.6-.1 3.1-.1-3.7 0 2.9-.1-1.4-.1 2.7-.1-4.2 0 2.5-.1-1.2-.1 2.2-.1-2.6-.1 2-.1-.9-.1 1.7-.1-3-.2 1.6-.1-.7-.1 1.3-.2-1.5-.2 1.1-.1-.5-.3.9 0-1.4-.3.8-.3-.4-.1.7-.4-.8-.2.6-.3-.3-.2.5-.6-.9-.2.5-.3-.2-.6.4-.2-.4-.6.2-.6 0-3.2 0-1.7-.1-1.6.1-2.6-.1-1 .1-2.6-.1-9.8.1-1.9 0-12.6.1-.4-.3-12.7.2-.2-.1-6.6.1-8.1-.1-8.6"/><path d="M489.97 172.11V165.32M489.97 176.88V179.47" stroke="#222" stroke-opacity="0.75" stroke-width="0.6"/><rect x="485.77" y="172.11" width="8.4" height="4.77" fill="none" stroke="#222" stroke-opacity="0.7" stroke-width="0.75"/><path d="M485.77 174.26h8.4" stroke="#111" stroke-opacity="0.8" stroke-width="1.3"/><path marker-start="url(#m2)" marker-mid="url(#m2)" marker-end="url(#m2)" d="M500.8 178.9l-.7-.7 1.4-.8-1.9-1.1 1.6-1.3-.9-.9 1.9-.4-3.2-1 2-1-1.1-1.3 2.2-.6-2.7-.7 2.2-1.4-1.1-.9 2.3-.5-4.3-.9 2.4-1.1-1.2-.6 2.5-1.1-3.2-.7 2.6-.9-1.3-1 2.6-.3-4.3-1 2.7-1.1-1.4-.7 2.7-.5-3.4-1.2 2.8-.9-1.4-.2 2.8-1-5.4-.7 2.9-1.1-1.5-.3 2.9-1.1-3.7-.4 3-.7-1.5-.9 3.1-.6-5.1-.8 3.2-.4-1.7-1.2 3.3-.4-4.1-.7 3.3-.5-1.7-.9 3.5-.7-6.4-.6 3.6-.5-1.8-.4 3.7-.6-4.7-.5 3.8-.8-1.9-.7 3.8-.2-6.3-.7 3.9-.8-2-.5 4.1-.2-5.1-.7 4.1-.7-2.1-.3 4.2-.6-8.1-.4 4.1-.5-2.1-.4 4.2-.7-5.3-.5 4.3-.4-2.1-.4 4.2-.7-6.9-.5 4.3-.4-2.2-.6 4.3-.5-5.4-.3 4.3-.7-2.1-.4 4.3-.5-7.8-.5 4.3-.6-2.1-.3 4.2-.8-5.3-.3 4.3-.6-2.2-.6 4.3-.2-6.9-.9 4.2-.2-2.1-.8 4.2-.4-5.2-.7 4.2-.7-2.1-.2 4.1-.9-7.9-.4 4.2-.4-2.1-.7 4.1-.3-5.2-.6 4.2-.5-2.1-.4 4.2-.8-6.7-.4 4.1-.6-2.1-.3 4.1-.7-5.1-.4 4.1-.6-2-.4 3.9-.5-7.2-.5 4-.5-1.9-.7 3.8-.3-4.8-.8 3.8-.4-1.9-.7 3.7-.7-5.9-.6 3.6-.3-1.8-.8 3.5-.6-4.3-.6 3.4-.8-1.7-.6 3.2-.8-6.2-.3 3.1-1.1-1.5-.4 2.9-.9-3.5-.4 2.8-1.1-1.4-.5 2.6-.8-4.1-1 2.5-.9-1.2-.6 2.2-1.2-2.6-1.3 2-1.2-1-1.1 1.9-1.2-3.3-1.2 1.8-1.2-.9-.7 1.7-1.5-2-1.5 1.6-1.1-.8-1.6 1.5-.8-2.5-1.7 1.6-.9-.8-1.7 1.5-1.6-1.9-1.6 1.6-.5-.8-1.3 1.7-1.9-3.4-1.5 1.8-1.3-1-1.5 2.1-.7-2.7-1.3 2.2-.9-1.1-1.5 2.2-.3-3.6 0 2.2-.2-1.1-.4 2.2-.5-2.7-1 2.1-1.7-1-.6 1.9-.7-3.1-2.2 1.5-.3-.6-2 1.1-.7-.9-5.8"/><path d="M500.76 92.49V38.74M500.76 142.85V178.89" stroke="#222" stroke-opacity="0.75" stroke-width="0.6"/><rect x="496.56" y="92.49" width="8.4" height="50.36" fill="none" stroke="#222" stroke-opacity="0.7" stroke-width="0.75"/><path d="M496.56 118.98h8.4" stroke="#111" stroke-opacity="0.8" stroke-width="1.3"/><path marker-start="url(#m3)" marker-mid="url(#m3)" marker-end="url(#m3)" d="M511.6 179.4l-1.1-.2 2.2-.2-2.9-.1 2.4-.2-1.3-.2 2.8-.2-4.8-.2 3-.2-1.5-.2 3.2-.1-4.2-.2 3.5-.2-1.8-.1 3.6-.3-6.6-.1 3.7-.2-1.9-.2 3.8-.2-4.8-.1 3.9-.2-2-.2 4-.2-6.5-.2 4-.1-2-.3 4.1-.1-5.1-.2 4-.2-2-.2 4.1-.2-7.8-.2 4.1-.1-2.1-.2 4.2-.1-5.2-.2 4.1-.3-2.1-.1 4.2-.2-6.8-.2 4.2-.1-2.1-.3 4.2-.1-5.2-.2 4.2-.1-2.1-.3 4.2-.2-7.7-.1 4.3-.1-2.2-.3 4.3-.2-5.3-.1 4.2-.2-2.1-.2 4.3-.2-7-.1 4.3-.2-2.2-.1 4.3-.2-5.3-.2 4.3-.2-2.2-.2 4.3-.1-8.4-.2 4.3-.2-2.1-.2 4.3 0-5.4-.2 4.3-.3-2.1-.1 4.2-.2-6.9-.1 4.3-.2-2.2-.2 4.2-.2-5.2-.2 4.2-.2-2.1-.1 4.1-.2-7.4-.2 4.1-.1-2.1-.3 4.1-.1-5.1-.2 4.1-.1-2-.3 4-.2-6.6-.2 4.1-.2-2-.2 4-.2-5-.2 4-.1-2-.3 4-.1-7.7-.2 4-.2-2-.2 4-.2-4.9-.1 3.9-.2-1.9-.2 3.9-.2-6.4-.2 3.9-.1-1.9-.2 3.8-.2-4.7-.2 3.7-.1-1.8-.1 3.7-.2-6.7-.2 3.7-.3-1.8-.2 3.5-.1-4.3-.3 3.4-.2-1.7-.2 3.2-.3-5.2-.1 3.2-.2-1.5-.4 2.9-.1-3.6-.3 2.8-.3-1.4-.2 2.6-.4-5-.1 2.5-.5-1.2-.3 2.3-.3-2.7-.3 2.1-.3-1-.4 1.8-.4-2.8-.5 1.7-.2-.8-.7 1.4-.5-1.7-.3 1.3-.7-.6-.5 1-1.1-1.7-.6.9-.5-.4-.7.8-.9-.9-1 .7-.9-.4-.9.7-1.1-1.1-1.1.7-.6-.3-1.4.6-.5-.8-1.6.6-.8-.3-1.3.6-.7-1.1-1.3.6-1.6-.3-1 .6-1-.9-1 .8-1.4-.4-.9.9-.1-1.5-.1.9-.4-.4-.3.7-2-.8-.9.6-.6-.3-.8.3-1.9-.5-5.7.3-1.3-.2-.9.4-1-.3-5.2"/><path d="M511.56 153.17V125.96M511.56 171.34V179.36" stroke="#222" stroke-opacity="0.75" stroke-width="0.6"/><rect x="507.36" y="153.17" width="8.4" height="18.17" fill="none" stroke="#222" stroke-opacity="0.7" stroke-width="0.75"/><path d="M507.36 163.33h8.4" stroke="#111" stroke-opacity="0.8" stroke-width="1.3"/><path marker-start="url(#m4)" marker-mid="url(#m4)" marker-end="url(#m4)" d="M522.4 179.5l-1.3 0 2.5-.1-3.2 0 2.6 0-1.3-.1 2.8 0-4.7 0 2.9-.1-1.5 0 3.2-.1-4.1 0 3.3 0-1.7-.1 3.5 0-6.4 0 3.6-.1-1.9 0 3.7 0-4.7-.1 3.9 0-2-.1 4 0-6.5 0 4-.1-2 0 4.1 0-5.2-.1 4.2 0-2.1-.1 4.2 0-8.1 0 4.3-.1-2.1 0 4.2-.1-5.3 0 4.3 0-2.2-.1 4.3 0-7-.1 4.3 0-2.1-.1 4.3 0-5.4 0 4.3-.1-2.1 0 4.2-.1-7.7 0 4.2 0-2.1-.1 4.2 0-5.2-.1 4.2 0-2.1-.1 4.1 0-6.6-.1 4 0-2 0 4-.1-5 0 4-.1-2 0 4-.1-7.7 0 3.9-.1-1.9 0 3.8-.1-4.8 0 3.9 0-1.9-.1 3.7 0-6.1-.1 3.8 0-1.9-.1 3.7 0-4.6-.1 3.7 0-1.8-.1 3.6 0-6.6-.1 3.6-.1-1.8 0 3.6 0-4.4-.1 3.5 0-1.8-.1 3.5-.1-5.6 0 3.5-.1-1.8 0 3.5-.1-4.3 0 3.4-.1-1.7 0 3.4-.1-6.4-.1 3.3 0-1.7 0 3.4-.1-4.2-.1 3.3 0-1.6-.1 3.2 0-5.2 0 3.2-.1-1.6-.1 3.1 0-3.8-.1 3 0-1.5-.1 3 0-5.4-.1 3 0-1.5-.1 2.9 0-3.5-.1 2.7 0-1.3-.1 2.6-.1-4.2 0 2.5-.1-1.2-.1 2.4 0-3-.1 2.4-.1-1.2-.1 2.2-.1-4.3 0 2.2-.1-1-.2 1.9 0-2.3-.1 1.8-.1-.9-.1 1.7-.1-2.6-.1 1.5-.2-.7-.1 1.4-.1-1.6-.1 1.2-.1-.6-.2 1.1-.2-1.9-.2 1-.1-.4-.2.8-.2-1-.2.8-.1-.4-.3.7-.2-1-.3.6-.2-.3-.4.5-.1-.6-.4.5-.3-.3-.3.5-.3-.9-.3.5-.5-.2-.2.3-.6-.4-.2.3-.4-.1-.5.2-1.6-.3-.1.2-1.3-.1-2.9.2-.1-.3-1.2.2-.7-.1-.6.2-1.6-.3-.2.2-1.6-.1-1.1.1-2.8-.1-1.5"/><path d="M522.35 172.72V165.19M522.35 177.81V179.49" stroke="#222" stroke-opacity="0.75" stroke-width="0.6"/><rect x="518.15" y="172.72" width="8.4" height="5.08" fill="none" stroke="#222" stroke-opacity="0.7" stroke-width="0.75"/><path d="M518.15 175.65h8.4" stroke="#111" stroke-opacity="0.8" stroke-width="1.3"/><path marker-start="url(#m5)" marker-mid="url(#m5)" marker-end="url(#m5)" d="M533.1 179.4l-.9-.4 1.9-.3-2.5-.4 2.1-.4-1.2-.4 2.5-.2-4.1-.3 2.6-.4-1.4-.4 2.9-.3-3.7-.4 3-.4-1.6-.2 3.3-.4-5.9-.4 3.3-.3-1.7-.4 3.4-.2-4.3-.5 3.4-.1-1.7-.5 3.5-.2-5.7-.5 3.5-.2-1.8-.3 3.6-.5-4.5-.4 3.6-.1-1.8-.4 3.6-.3-6.8-.4 3.6-.3-1.8-.3 3.6-.3-4.6-.3 3.7-.3-1.8-.4 3.6-.5-5.9-.1 3.6-.5-1.8-.3 3.6-.3-4.5-.3 3.6-.3-1.8-.3 3.7-.5-6.7-.1 3.7-.5-1.9-.3 3.8-.3-4.7-.2 3.7-.4-1.8-.3 3.7-.2-6.1-.4 3.8-.3-1.9-.4 3.8-.2-4.8-.4 3.8-.3-1.9-.3 3.9-.4-7.5-.3 3.8-.3-1.9-.2 3.8-.3-4.8-.3 3.9-.4-2-.2 3.9-.4-6.3-.3 3.9-.4-2-.2 3.9-.4-4.8-.2 3.9-.3-2-.3 3.9-.4-7.1-.2 4-.4-2-.2 3.9-.3-4.9-.3 4-.3-2-.4 4-.3-6.6-.4 4.1-.2-2.1-.3 4.1-.3-5.1-.4 4.1-.2-2.1-.4 4.3-.2-8.1-.3 4.2-.4-2.1-.1 4.3-.4-5.4-.2 4.3-.3-2.1-.2 4.3-.3-7-.3 4.3-.2-2.2-.2 4.3-.2-5.3-.3 4.2-.3-2.1-.2 4.2-.3-7.5-.1 4.1-.3-2-.3 4-.4-5-.1 3.9-.3-1.9-.4 3.7-.4-6-.1 3.7-.5-1.8-.2 3.5-.4-4.3-.3 3.3-.4-1.6-.3 3-.6-5.8-.2 2.9-.4-1.3-.7 2.5-.5-3.1-.1 2.4-.7-1.1-.5 2.1-.3-3.2-.8 1.9-.5-.8-.8 1.4-1-1.6-1.2 1.2-1-.6-1.1.9-.9-1.5-1.7.8-1.3-.4-1.5.8-1-1-1.3.8-1.8-.4-1.5.7-1.1-1.1-2.1.7-1.2-.3-1.9.6-1.2-.8-2.5.6-1.6-.3-1.8.7-.9-1.3-1.4.7-1.6-.4-2.2.8-1.1-1.1-1.1 1-1.9-.6-1 1.2-.5-2-.1 1.2-.5-.6-1.4 1.2-.3-1.4-.7 1.1-.5-.5-1.7.8-1.7-1.3-2.3.6-.2-.3-.4.4-5.7-.3-2.4"/><path d="M533.14 135.92V93.28M533.14 164.41V179.39" stroke="#222" stroke-opacity="0.75" stroke-width="0.6"/><rect x="528.94" y="135.92" width="8.4" height="28.49" fill="none" stroke="#222" stroke-opacity="0.7" stroke-width="0.75"/><path d="M528.94 150.39h8.4" stroke="#111" stroke-opacity="0.8" stroke-width="1.3"/><rect x="472.70" y="17.90" width="99.30" height="169.20" fill="none" stroke="#333" stroke-width="1.07"/><path d="M578.55 160.25H677.85M578.55 121.75H677.85M578.55 83.25H677.85M578.55 44.75H677.85" stroke="#EBEBEB" stroke-width="0.55" fill="none"/><path d="M578.55 179.50H677.85M578.55 141.00H677.85M578.55 102.50H677.85M578.55 64.00H677.85M578.55 25.50H677.85M585.03 17.90V187.10M595.82 17.90V187.10M606.61 17.90V187.10M617.41 17.90V187.10M628.20 17.90V187.10M638.99 17.90V187.10M649.79 17.90V187.10M660.58 17.90V187.10M671.37 17.90V187.10" stroke="#EBEBEB" stroke-width="1.1" fill="none"/><path marker-start="url(#m0)" marker-mid="url(#m0)" marker-end="url(#m0)" d="M585 179.2l-1.1-.1 2.4-.4-3.2-.3 2.6-.4-1.4-.2 2.9-.3-4.8-.4 3-.5-1.6-.2 3.4-.3-4.4-.5 3.6-.2-1.8-.2 3.7-.4-6.9-.3 3.9-.4-2-.3 4-.3-5.1-.5 4.1-.3-2.1-.3 4.2-.3-6.8-.4 4.2-.3-2.1-.4 4.3-.3-5.4-.2 4.3-.5-2.1-.3 4.3-.4-8.2-.3 4.3-.3-2.2-.2 4.3-.5-5.4-.3 4.3-.4-2.1-.3 4.3-.4-7-.3 4.3-.3-2.1-.4 4.2-.3-5.3-.3 4.3-.5-2.2-.2 4.3-.5-7.7-.3 4.2-.2-2.1-.4 4.2-.3-5.2-.5 4.2-.2-2.1-.4 4.2-.4-6.9-.3 4.2-.4-2.1-.3 4.2-.4-5.2-.4 4.2-.3-2.1-.4 4.1-.3-8.1-.3 4.2-.3-2.1-.4 4.1-.4-5.1-.2 4.1-.5-2-.3 4-.5-6.6-.1 4.1-.5-2-.4 4-.3-5-.3 4-.4-2-.4 4-.4-7.2-.3 3.9-.4-1.9-.4 3.9-.5-4.9-.3 3.9-.2-2-.5 4-.5-6.4-.3 3.9-.5-1.9-.4 3.9-.2-4.9-.4 3.9-.4-2-.4 4-.4-7.5-.4 3.9-.2-1.9-.6 3.9-.1-4.9-.6 3.9-.2-2-.3 3.9-.3-6.3-.4 3.9-.3-1.9-.6 3.8-.2-4.7-.3 3.7-.3-1.9-.5 3.7-.3-6.6-.4 3.6-.4-1.7-.5 3.4-.2-4.2-.6 3.3-.5-1.6-.4 3.2-.2-5.2-.7 3.1-.4-1.5-.2 3-.6-3.6-.5 2.8-.6-1.4-.6 2.5-.5-4.9-.6 2.4-.4-1.1-.9 2.2-.6-2.6-.4 2-.9-.9-.7 1.8-.4-2.8-1.1 1.6-.7-.7-.9 1.4-.9-1.7-.9 1.2-2-.5-1.4 1-1.1-1.7-1.6.9-1.8-.4-.7.8-1.9-1-1.6.7-2.9-.3-1.2.7-1.8-1.1-2.4.7-1.5-.4-2 .7-2.5-.8-1.5.6-1.6-.3-1.9.7-2.2-1.3-1.6.7-2-.4-1.9.7-1.5-.9-2.1.8-1.9-.4-1.3.7-1.1-1.2-.6.7-.8-.3-3.6.7-4.2-1-1.3.9-.2-.4-1.5.8-.1-1.5-3.4.8-.6-.4-.5.7-2.3-.7-1"/><path d="M585.03 128.22V75.83M585.03 164.41V179.25" stroke="#222" stroke-opacity="0.75" stroke-width="0.6"/><rect x="580.83" y="128.22" width="8.4" height="36.19" fill="none" stroke="#222" stroke-opacity="0.7" stroke-width="0.75"/><path d="M580.83 148.24h8.4" stroke="#111" stroke-opacity="0.8" stroke-width="1.3"/><path marker-start="url(#m1)" marker-mid="url(#m1)" marker-end="url(#m1)" d="M595.8 179.5l-.7-.1 1.5 0-1.9 0 1.5-.1-.8 0 1.7-.1-2.8 0 1.8 0-1-.1 1.9 0-2.5 0 2.1-.1-1.1 0 2.3 0-4.1-.1 2.3 0-1.2 0 2.4-.1-3.1 0 2.5-.1-1.3 0 2.7 0-4.4-.1 2.7 0-1.4 0 2.9-.1-3.6 0 2.9 0-1.5-.1 3.1 0-5.9 0 3.1-.1-1.6 0 3.2 0-4-.1 3.3 0-1.7 0 3.4 0-5.6-.1 3.5 0-1.8 0 3.5-.1-4.4 0 3.6 0-1.8 0 3.6-.1-6.6 0 3.7 0-1.9-.1 3.8 0-4.8 0 3.8 0-1.9-.1 3.9 0-6.3 0 3.9-.1-2 0 4 0-5 0 4 0-2-.1 4.1 0-8 0 4.1 0-2.1-.1 4.2 0-5.2 0 4.1 0-2.1-.1 4.2 0-6.8 0 4.2 0-2.1 0 4.2-.1-5.3 0 4.3 0-2.1 0 4.2-.1-7.7 0 4.3 0-2.2 0 4.3-.1-5.4 0 4.3 0-2.1 0 4.3 0-7-.1 4.3 0-2.2 0 4.3 0-5.3-.1 4.2 0-2.1 0 4.3 0-8.1 0 4.2-.1-2.1 0 4.2 0-5.2 0 4.2 0-2.1 0 4.1-.1-6.7 0 4.1 0-2 0 4.1 0-5.1 0 4 0-2-.1 4 0-7.3 0 4.1 0-2 0 3.9 0-4.9-.1 3.9 0-1.9 0 3.8 0-6.2 0 3.8-.1-1.9 0 3.8 0-4.7 0 3.7 0-1.8-.1 3.6 0-7.1 0 3.5 0-1.7-.1 3.4 0-4.2 0 3.4-.1-1.7 0 3.2 0-5.1-.1 3.1 0-1.5 0 2.9-.1-3.5 0 2.8 0-1.4-.1 2.5-.1-4.4 0 2.4 0-1.1-.1 2.1-.1-2.5 0 1.9-.1-.9-.1 1.6-.1-2.5-.1 1.5 0-.7-.1 1.2-.1-1.3-.2.9-.2-.4 0 .7-.1-1.3-.3.6 0-.2-.2.5-.2-.6-.2.4-.2-.1-.2.2-.3-.3-1.1.1-.9 0-.4.1-1.2-.1-1.4 0-2.8 0-2.9 0-4 0-2.7 0-3.1 0-17.2 0-6.2 0-2.9"/><path d="M595.82 175.96V173.04M595.82 177.96V179.49" stroke="#222" stroke-opacity="0.75" stroke-width="0.6"/><rect x="591.62" y="175.96" width="8.4" height="2.00" fill="none" stroke="#222" stroke-opacity="0.7" stroke-width="0.75"/><path d="M591.62 176.88h8.4" stroke="#111" stroke-opacity="0.8" stroke-width="1.3"/><path marker-start="url(#m2)" marker-mid="url(#m2)" marker-end="url(#m2)" d="M606.6 179.1l-.6-.9 1.3-1.1-1.8-.4 1.5-1-.8-.7 1.8-1.1-3.1-.7 2-.6-1.1-1 2.1-.7-2.6-.7 2.1-.8-1.1-.9 2.3-.6-4.1-1.2 2.3-.8-1.2-.4 2.3-1-2.9-.7 2.4-.7-1.2-.6 2.4-1.2-4-.4 2.5-1.1-1.3-.4 2.5-.7-3.1-.7 2.5-.7-1.2-1 2.6-.7-5-.7 2.6-.4-1.3-.7 2.7-.8-3.5-.7 2.8-.7-1.4-.7 2.9-.6-4.7-.5 2.9-.7-1.5-.7 3-.4-3.8-.9 3.1-.4-1.6-.7 3.2-.6-5.8-.6 3.2-.3-1.6-.6 3.3-.6-4.2-.5 3.4-.8-1.7-.4 3.4-.5-5.6-.6 3.5-.4-1.8-.7 3.6-.4-4.5-.7 3.6-.5-1.8-.4 3.7-.5-7.2-.7 3.7-.4-1.9-.4 3.8-.4-4.8-.7 3.8-.4-1.9-.5 3.9-.3-6.3-.5 3.9-.4-2-.6 3.9-.3-4.9-.7 3.9-.3-1.9-.5 3.9-.5-7.1-.5 3.9-.5-2-.4 4-.6-5-.5 4-.3-2-.5 4.1-.7-6.6-.3 4-.6-2-.5 4.1-.4-5.2-.6 4.2-.2-2.1-.6 4.2-.6-8-.3 4.2-.3-2.1-.7 4.2-.4-5.3-.3 4.3-.3-2.2-.4 4.3-.7-6.9-.4 4.3-.2-2.2-.4 4.3-.6-5.4-.2 4.3-.5-2.1-.4 4.2-.5-7.6-.4 4.2-.3-2.1-.4 4.1-.4-5.1-.7 4.1-.3-2-.3 3.9-.6-6.4-.5 3.9-.5-1.9-.3 3.7-.7-4.6-.4 3.6-.6-1.7-.3 3.4-.5-6.7-.5 3.3-.7-1.5-.6 3.1-.5-3.8-.8 3-.4-1.5-.9 2.7-.7-4.3-.4 2.7-.5-1.3-1.1 2.4-.8-2.8-1.1 2.1-.8-1-.7 1.9-1.1-3.4-.7 1.8-1.3-.8-1.2 1.7-.8-2.1-1 1.6-.9-.8-1.4 1.6-1.1-2.5-1.6 1.5-.6-.7-1 1.5-1.4-1.9-1.3 1.5-1-.8-1.5 1.6-.8-3-1.1 1.6-1.1-.9-1.6 1.8-.5-2.3-1.5 1.8-.9-.9-.9 1.9-.4-3-.9 1.8 0-.9-1.6 1.8-.7-2.2-.2 1.7-2-.8-1.3 1.4-.9-2.5-1.1 1.3-1-.5-2.4 1-.3-1.1-1"/><path d="M606.61 102.50V57.07M606.61 146.39V179.11" stroke="#222" stroke-opacity="0.75" stroke-width="0.6"/><rect x="602.41" y="102.50" width="8.4" height="43.89" fill="none" stroke="#222" stroke-opacity="0.7" stroke-width="0.75"/><path d="M602.41 123.75h8.4" stroke="#111" stroke-opacity="0.8" stroke-width="1.3"/><path marker-start="url(#m3)" marker-mid="url(#m3)" marker-end="url(#m3)" d="M617.4 179.5l-1.1-.4 2.2-.1-2.9-.2 2.4-.2-1.3-.2 2.8-.3-4.7-.2 3-.1-1.6-.3 3.3-.2-4.2-.1 3.4-.2-1.7-.2 3.6-.2-6.7-.3 3.7-.2-1.9 0 3.9-.3-4.9-.2 3.9-.1-1.9-.3 4-.2-6.6-.2 4.1-.2-2.1-.2 4.1-.1-5.1-.3 4.1-.2-2.1-.1 4.2-.3-7.9-.2 4.1-.2-2.1-.2 4.2-.1-5.2-.2 4.2-.3-2.1-.1 4.2-.3-6.8-.2 4.2-.1-2.1-.3 4.2-.2-5.3-.1 4.2-.2-2.1-.2 4.3-.2-7.8-.2 4.3-.3-2.1-.1 4.2-.3-5.3-.1 4.3-.2-2.2-.1 4.3-.3-7-.1 4.3-.2-2.1-.2 4.3-.2-5.4-.3 4.3-.1-2.1-.1 4.3-.3-8.4-.1 4.3-.2-2.2-.2 4.3-.1-5.3-.3 4.2-.2-2.1-.2 4.2-.2-6.8-.2 4.2-.1-2.1-.3 4.2-.1-5.2-.2 4.1-.2-2-.2 4.1-.2-7.5-.3 4.1-.1-2-.2 4.1-.2-5.1-.2 4-.2-2-.2 4-.3-6.5-.2 4-.2-2-.2 4-.2-5-.2 4-.3-2-.1 4-.2-7.6-.3 4-.2-2-.2 4-.2-4.9-.1 3.9-.2-2-.2 3.9-.3-6.3-.1 3.9-.2-1.9-.3 3.7-.1-4.6-.2 3.7-.3-1.9-.2 3.6-.2-6.5-.2 3.6-.3-1.7-.2 3.4-.2-4.3-.1 3.4-.3-1.6-.3 3.1-.3-5.1-.1 3.1-.3-1.5-.2 2.9-.5-3.5-.1 2.7-.4-1.3-.2 2.5-.3-4.9-.4 2.4-.4-1.1-.4 2.2-.4-2.6-.2 2-.3-.9-.6 1.8-.4-2.9-.2 1.7-.6-.7-.3 1.4-.6-1.7-.8 1.2-.6-.5-1.1.9-.6-1.6-.6.9-1-.4-.9.7-1.1-.9-.9.7-.9-.3-1.3.6-1.2-1-1 .6-1-.3-1.1.6-1.2-.7-.7.6-1.3-.3-1.7.5-.7-1-1.7.5-1.1-.3-1.2.6-.9-.7-1.6.6-1.1-.3-1.3.7-1.2-1.3-.7.8-.5-.3-.5.7-.4-.8-1.3.5-3.4-.2-.7.4-2.9-.8-.1.4-.4-.1-4.5.2-1.9-.2-3.4"/><path d="M617.41 150.39V120.16M617.41 170.57V179.47" stroke="#222" stroke-opacity="0.75" stroke-width="0.6"/><rect x="613.21" y="150.39" width="8.4" height="20.17" fill="none" stroke="#222" stroke-opacity="0.7" stroke-width="0.75"/><path d="M613.21 161.79h8.4" stroke="#111" stroke-opacity="0.8" stroke-width="1.3"/><path marker-start="url(#m4)" marker-mid="url(#m4)" marker-end="url(#m4)" d="M628.2 179.5l-1.3-.1 2.7-.1-3.5 0 2.8 0-1.4-.1 3-.1-5.1 0 3.2-.1-1.7-.1 3.4 0-4.3-.1 3.5-.1-1.8 0 3.7 0-6.7-.1 3.7-.1-1.9-.1 3.9 0-5-.1 4.1-.1-2.1 0 4.2-.1-6.8-.1 4.2-.1-2.1 0 4.2-.1-5.3-.1 4.3 0-2.2-.1 4.3-.1-8.2 0 4.3-.1-2.1-.1 4.3 0-5.4-.1 4.3-.1-2.1-.1 4.2 0-6.8-.1 4.2-.1-2.1-.1 4.1-.1-5.1-.1 4.1 0-2.1-.1 4-.1-7.2-.1 4-.1-2 0 3.9-.1-4.8-.1 3.8-.1-1.9-.1 3.8-.1-6.1-.1 3.7 0-1.8-.2 3.6 0-4.5-.1 3.6-.1-1.8-.1 3.5-.1-6.8-.1 3.5-.1-1.8-.1 3.5 0-4.3-.1 3.4-.1-1.7-.2 3.3 0-5.3-.1 3.3-.2-1.7 0 3.3-.2-4.1 0 3.2-.1-1.5-.2 3.1 0-5.7-.1 3.1-.2-1.5-.1 3.1-.1-3.9-.1 3.1-.1-1.5-.1 3-.1-4.9-.1 3-.1-1.5-.1 3-.1-3.8-.1 3.1-.2-1.5-.1 3-.1-5.8-.1 3-.1-1.5-.1 3-.1-3.7-.1 3-.1-1.5-.1 2.9-.1-4.7-.1 2.9-.1-1.4-.1 2.8-.1-3.5-.1 2.8-.1-1.4-.1 2.7-.1-4.9-.1 2.7-.1-1.3-.1 2.6-.2-3.2-.1 2.5-.1-1.2-.2 2.3-.1-3.8-.1 2.3-.1-1.1-.2 2.2-.1-2.7-.1 2.1-.2-1-.2 1.9-.1-3.7-.2 1.8-.2-.8-.2 1.6-.1-2-.3 1.6-.1-.7-.2 1.4-.2-2.2-.3 1.3-.3-.6-.2 1.1-.2-1.3-.2 1-.4-.5-.3.8-.4-1.4-.6.7-.4-.3-.3.7-.3-.8-.6.6-.4-.3-.6.5-.4-.8-.5.5-.4-.2-.7.4-.7-.5-.5.4-.8-.2-.4.4-.5-.8-.8.4-.7-.2-.8.4-.7-.5-.4.4-.6-.2-.9.4-.1-.6-.2.3-1.9-.1-.6.3-.3-.4-3.7.4-.7-.2-.2.4-.1-.8-.2.4-.8-.1-4.4.2-.2-.2-2.6"/><path d="M628.20 166.26V151.12M628.20 176.42V179.48" stroke="#222" stroke-opacity="0.75" stroke-width="0.6"/><rect x="624.00" y="166.26" width="8.4" height="10.16" fill="none" stroke="#222" stroke-opacity="0.7" stroke-width="0.75"/><path d="M624.00 172.11h8.4" stroke="#111" stroke-opacity="0.8" stroke-width="1.3"/><path marker-start="url(#m5)" marker-mid="url(#m5)" marker-end="url(#m5)" d="M639 179.4l-1.2-.3 2.5-.4-3.3-.2 2.7-.3-1.4-.2 3-.3-5.1-.4 3.2-.1-1.7-.3 3.5-.3-4.4-.3 3.6-.4-1.9-.3 3.8-.1-7-.3 3.9-.3-2-.4 4.1-.2-5.1-.4 4.1-.3-2.1-.3 4.2-.1-6.9-.4 4.3-.3-2.1-.3 4.2-.3-5.3-.3 4.3-.2-2.2-.3 4.3-.4-8.2-.4 4.3-.2-2.1-.3 4.3-.2-5.4-.5 4.3-.3-2.1-.3 4.2-.2-6.9-.3 4.3-.3-2.2-.3 4.3-.3-5.3-.4 4.2-.4-2.1-.2 4.2-.2-7.6-.4 4.2-.4-2.1-.2 4.1-.3-5.1-.4 4.1-.3-2-.4 4-.3-6.6-.2 4.1-.3-2-.3 4-.3-5-.4 4-.3-2-.2 4-.5-7.8-.4 4-.3-2-.3 3.9-.3-4.9-.2 3.9-.4-1.9-.3 3.9-.3-6.4-.5 3.9-.3-1.9-.2 3.9-.4-4.9-.4 3.9-.4-1.9-.3 3.8-.3-7-.4 3.9-.3-1.9-.4 3.8-.2-4.8-.3 3.9-.5-2-.2 4-.4-6.5-.5 4-.1-2-.4 4-.4-5-.4 4-.3-2-.4 4-.3-7.7-.2 4.1-.3-2-.3 4-.4-5.1-.2 4.1-.3-2-.3 4-.2-6.5-.4 4-.3-2-.3 3.9-.4-4.9-.1 3.9-.3-1.9-.3 3.8-.4-6.9-.3 3.8-.3-1.8-.4 3.6-.3-4.5-.3 3.6-.3-1.8-.3 3.4-.6-5.5-.2 3.4-.5-1.7-.2 3.2-.5-3.8-.5 2.9-.5-1.4-.5 2.7-.2-5.3-.7 2.6-.3-1.2-.5 2.3-.8-2.7-.3 2.1-.6-1-.7 1.9-.5-2.9-.7 1.7-.5-.7-1.4 1.3-1-1.6-.6 1.2-1.6-.5-1 .9-.9-1.6-1.8.8-1.9-.3-1.2.7-2.1-.9-1.5.7-1-.3-2 .6-1.7-1-1.8.6-2.3-.3-1.5.6-1.5-.7-2.1.5-2.6-.2-1.7.6-1.5-1.2-1.7.6-2-.3-1.5.6-2.5-.8-1.4.7-.8-.4-3.4 1-.9-1.7-.6 1.1-1.4-.6-.6 1.2-1.3-1.5-.3 1.2-.4-.6-.8 1.1-1-1.9-.3 1-.2-.3-4.4.4-3.2-.3-4.5"/><path d="M638.99 134.53V89.10M638.99 166.26V179.42" stroke="#222" stroke-opacity="0.75" stroke-width="0.6"/><rect x="634.79" y="134.53" width="8.4" height="31.72" fill="none" stroke="#222" stroke-opacity="0.7" stroke-width="0.75"/><path d="M634.79 151.47h8.4" stroke="#111" stroke-opacity="0.8" stroke-width="1.3"/><rect x="578.55" y="17.90" width="99.30" height="169.20" fill="none" stroke="#333" stroke-width="1.07"/><rect x="677.85" y="17.90" width="20.4" height="169.20" fill="#D9D9D9" stroke="#333" stroke-width="1.07"/><text x="0" y="0" transform="translate(683.15,101.25) rotate(90)" text-anchor="middle" font-size="11.2" fill="#1A1A1A" font-family="'Liberation Sans', Arial, sans-serif">0</text><path d="M46.3 25.50H49.30" stroke="#333" stroke-width="1.07"/><text x="43" y="28.80" text-anchor="end" font-size="9.2" fill="#4D4D4D" font-family="'Liberation Sans', Arial, sans-serif">100%</text><path d="M46.3 64.00H49.30" stroke="#333" stroke-width="1.07"/><text x="43" y="67.30" text-anchor="end" font-size="9.2" fill="#4D4D4D" font-family="'Liberation Sans', Arial, sans-serif">75%</text><path d="M46.3 102.50H49.30" stroke="#333" stroke-width="1.07"/><text x="43" y="105.80" text-anchor="end" font-size="9.2" fill="#4D4D4D" font-family="'Liberation Sans', Arial, sans-serif">50%</text><path d="M46.3 141.00H49.30" stroke="#333" stroke-width="1.07"/><text x="43" y="144.30" text-anchor="end" font-size="9.2" fill="#4D4D4D" font-family="'Liberation Sans', Arial, sans-serif">25%</text><path d="M46.3 179.50H49.30" stroke="#333" stroke-width="1.07"/><text x="43" y="182.80" text-anchor="end" font-size="9.2" fill="#4D4D4D" font-family="'Liberation Sans', Arial, sans-serif">0%</text><path d="M49.30 334.80H148.60M49.30 296.30H148.60M49.30 257.80H148.60M49.30 219.30H148.60" stroke="#EBEBEB" stroke-width="0.55" fill="none"/><path d="M49.30 354.05H148.60M49.30 315.55H148.60M49.30 277.05H148.60M49.30 238.55H148.60M49.30 200.05H148.60M55.78 192.45V361.65M66.57 192.45V361.65M77.36 192.45V361.65M88.16 192.45V361.65M98.95 192.45V361.65M109.74 192.45V361.65M120.54 192.45V361.65M131.33 192.45V361.65M142.12 192.45V361.65" stroke="#EBEBEB" stroke-width="1.1" fill="none"/><path marker-start="url(#m0)" marker-mid="url(#m0)" marker-end="url(#m0)" d="M55.8 353.7l-1-.5 2-.3-2.7-.8 2.3-.4-1.2-.6 2.5-.8-4.3-.2 2.7-.6-1.4-.5 3-.8-3.8-.5 3-.4-1.5-.5 3.2-.8-5.9-.4 3.3-.6-1.7-.7 3.3-.3-4.1-.7 3.3-.6-1.7-.7 3.4-.4-5.4-.9 3.3-.4-1.7-.3 3.4-.7-4.2-.5 3.3-.9-1.6-.3 3.3-.7-6.3-.7 3.3-.4-1.7-.5 3.3-.7-4-.6 3.2-.7-1.6-.6 3.2-.5-5.2-.4 3.2-1-1.6-.4 3.1-.8-3.9-.4 3.1-.5-1.5-.8 3-.8-5.5-.7 3.1-.5-1.6-.7 3.1-.6-3.8-.4 3-.7-1.5-.6 3-.9-4.9-.4 3-.8-1.5-.5 3.1-1-3.8-.6 3-.6-1.5-.4 3.1-.9-6.1-.5 3.1-.7-1.6-.8 3.2-.5-4-.5 3.2-.5-1.6-.7 3.4-.6-5.6-.6 3.5-.6-1.8-.6 3.6-.6-4.6-.5 3.7-.8-1.8-.5 3.8-.4-7-.6 3.9-.4-2-.8 4-.4-5.1-.4 4.1-.4-2-.3 4.2-.5-6.9-.3 4.2-.6-2.1-.4 4.3-.5-5.4-.4 4.3-.4-2.1-.2 4.3-.4-8.2-.5 4.3-.4-2.1-.4 4.2-.4-5.2-.3 4.1-.6-2-.2 4-.6-6.5-.4 3.9-.6-1.9-.3 3.7-.7-4.5-.3 3.5-.9-1.7-.5 3.2-.7-5.7-.5 3.1-.7-1.4-.7 2.8-.4-3.4-.6 2.6-.8-1.2-.9 2.1-.9-3.4-1 2-1.1-.9-1.2 1.6-1.3-1.8-1.8 1.3-1.7-.6-1.4 1.1-.8-2.2-1.7 1.1-2-.5-1.3 1-1.9-1.3-2.5 1-1.1-.5-1.7 1.1-2-1.7-1.8 1-1-.6-2.5 1.2-.9-1.6-2.4 1.4-.6-.7-2.3 1.6-1.1-3-1.1 1.7-1.1-.8 0 1.6-.3-2-1 1.6-.8-.8-1.1 1.4-1.2-2.1-1.2 1.1-3-.4-.4.5-5.6"/><path d="M55.78 288.91V233.16M55.78 332.03V353.70" stroke="#222" stroke-opacity="0.75" stroke-width="0.6"/><rect x="51.58" y="288.91" width="8.4" height="43.12" fill="none" stroke="#222" stroke-opacity="0.7" stroke-width="0.75"/><path d="M51.58 307.85h8.4" stroke="#111" stroke-opacity="0.8" stroke-width="1.3"/><path marker-start="url(#m1)" marker-mid="url(#m1)" marker-end="url(#m1)" d="M66.6 354l-.6 0 1.2-.1-1.6-.1 1.3 0-.7-.1 1.6 0-2.7-.1 1.7 0-.9-.1 1.8 0-2.3-.1 1.9-.1-1 0 2.2-.1-4.1 0 2.3-.1-1.2 0 2.5-.1-3.2 0 2.6-.1-1.3 0 2.8-.1-4.7 0 2.9 0-1.5-.1 3.1 0-3.9-.1 3.2 0-1.6-.1 3.3 0-6.4 0 3.4-.1-1.8 0 3.6 0-4.5-.1 3.6 0-1.8-.1 3.7 0-6.2 0 3.9-.1-2 0 3.9 0-4.9 0 4-.1-2 0 4 0-7.3 0 4.1-.1-2.1 0 4.1 0-5.2 0 4.2-.1-2.1 0 4.2 0-6.8 0 4.2 0-2.1-.1 4.2 0-5.3 0 4.3 0-2.2-.1 4.3 0-8.3 0 4.2 0-2.1 0 4.3-.1-5.4 0 4.3 0-2.1 0 4.3 0-7-.1 4.3 0-2.2 0 4.3 0-5.3-.1 4.2 0-2.1 0 4.2 0-7.6-.1 4.2 0-2.1 0 4.2 0-5.2-.1 4.1 0-2 0 4.1 0-6.7-.1 4.1 0-2 0 4 0-5-.1 3.9 0-1.9 0 3.8-.1-7.3 0 3.8 0-1.8 0 3.7-.1-4.6 0 3.6 0-1.8 0 3.6-.1-5.7 0 3.5-.1-1.7 0 3.3 0-4.1 0 3.2-.1-1.6 0 3.1-.1-5.4 0 2.9-.1-1.4 0 2.7-.1-3.3 0 2.6-.1-1.3 0 2.4-.1-3.8 0 2.3-.1-1.1 0 2-.1-2.4-.1 1.9 0-1-.1 1.7-.1-3.1-.1 1.5-.1-.7 0 1.3-.2-1.5 0 1.1-.2-.5-.1.9-.2-1.3-.2.8-.1-.4-.2.6-.2-.6-.2.4-.3-.2-.3.3-.1-.5-.1.3-2.4-.1-1.7.1-.2-.1-6.9.1-3.7 0-.6 0-1.1-.1-1.2.1-38.2 0-10.3 0-6.1"/><path d="M66.57 350.05V346.92M66.57 352.20V354.02" stroke="#222" stroke-opacity="0.75" stroke-width="0.6"/><rect x="62.37" y="350.05" width="8.4" height="2.16" fill="none" stroke="#222" stroke-opacity="0.7" stroke-width="0.75"/><path d="M62.37 351.28h8.4" stroke="#111" stroke-opacity="0.8" stroke-width="1.3"/><path marker-start="url(#m2)" marker-mid="url(#m2)" marker-end="url(#m2)" d="M77.4 354l-1.2 0 2.3 0-2.9 0 2.4-.1-1.3 0 2.6 0-4.2 0 2.6-.1-1.4 0 2.8 0-3.5 0 2.9-.1-1.5 0 3 0-5.6 0 3.2-.1-1.7 0 3.3 0-4.1 0 3.3-.1-1.7 0 3.5 0-5.7 0 3.5-.1-1.8 0 3.7 0-4.6 0 3.7 0-1.9-.1 3.9 0-7.4 0 3.9 0-2-.1 4 0-5 0 4 0-2 0 4-.1-6.6 0 4.1 0-2.1 0 4.2-.1-5.2 0 4.2 0-2.1 0 4.2 0-7.7 0 4.3-.1-2.2 0 4.3 0-5.3 0 4.2 0-2.1-.1 4.3 0-7 0 4.3 0-2.1 0 4.3 0-5.4-.1 4.3 0-2.2 0 4.3 0-8.4 0 4.3-.1-2.1 0 4.3 0-5.4 0 4.3 0-2.1-.1 4.2 0-6.9 0 4.3 0-2.1 0 4.1-.1-5.2 0 4.2 0-2.1 0 4.1-.1-7.4 0 4.1 0-2 0 4-.1-5 0 4 0-2 0 3.9-.1-6.3 0 3.8 0-1.9 0 3.8 0-4.7-.1 3.7 0-1.8 0 3.6-.1-6.8 0 3.5 0-1.7-.1 3.4 0-4.2 0 3.3 0-1.6-.1 3.2 0-5.1 0 3.1-.1-1.5 0 2.9 0-3.6-.1 2.9 0-1.5-.1 2.7 0-4.8 0 2.6-.1-1.2 0 2.4-.1-2.9 0 2.3-.1-1.1 0 2.1-.1-3.4 0 2-.1-.9-.1 1.8 0-2.2-.1 1.6-.1-.8 0 1.5-.1-2.8-.1 1.4 0-.6-.2 1.1-.1-1.3 0 1-.1-.5-.2.9-.1-1.3-.2.8-.1-.3-.2.5-.2-.6-.1.4-.2-.2-.3.4-.2-.6-.2.3-.4-.1-.3.2-.3-.2-.5.1-1.9-.1-.1.1-13.2-.1-6.8.1-11.5 0-5.5 0-1.7"/><path d="M77.36 351.12V348.16M77.36 353.13V354.04" stroke="#222" stroke-opacity="0.75" stroke-width="0.6"/><rect x="73.16" y="351.12" width="8.4" height="2.00" fill="none" stroke="#222" stroke-opacity="0.7" stroke-width="0.75"/><path d="M73.16 352.36h8.4" stroke="#111" stroke-opacity="0.8" stroke-width="1.3"/><path marker-start="url(#m3)" marker-mid="url(#m3)" marker-end="url(#m3)" d="M88.2 354l-2 0 3.9 0-4.9 0 3.9 0-1.9 0 3.9 0-6.4 0 3.9 0-1.9 0 3.9 0-4.9 0 3.9 0-1.9 0 3.9 0-7.2 0 4 0-2 0 4 0-5 0 4 0-2 0 4 0-6.5 0 4 0-2 0 4 0-5 0 4 0-2 0 4.1 0-7.8 0 4.1 0-2.1-.1 4.1 0-5.1 0 4.1 0-2 0 4.1 0-6.7 0 4.1 0-2.1 0 4.2 0-5.2 0 4.1 0-2 0 4.1 0-7.5 0 4.1 0-2 0 4.1 0-5.2 0 4.2 0-2.1 0 4.2 0-6.8 0 4.2 0-2.1-.1 4.2 0-5.3 0 4.2 0-2.1 0 4.3 0-8.3 0 4.2 0-2.1 0 4.3 0-5.4 0 4.3 0-2.1 0 4.2 0-6.9 0 4.3 0-2.2 0 4.3 0-5.4 0 4.3-.1-2.1 0 4.3 0-7.8 0 4.3 0-2.2 0 4.3 0-5.3 0 4.3 0-2.2 0 4.3 0-7 0 4.3 0-2.1 0 4.3 0-5.4 0 4.3-.1-2.1 0 4.2 0-8.1 0 4.3 0-2.2 0 4.3 0-5.4 0 4.3 0-2.1 0 4.3 0-7 0 4.3 0-2.1-.1 4.2 0-5.3 0 4.2 0-2.1 0 4.2 0-7.6 0 4.2 0-2.1 0 4.2 0-5.2-.1 4.1 0-2 0 4.1 0-6.7 0 4.1 0-2 0 4 0-5 0 4 0-2 0 3.9-.1-7.8 0 4 0-2 0 3.9 0-4.8 0 3.8 0-1.9 0 3.8 0-6.1-.1 3.7 0-1.8 0 3.6 0-4.4 0 3.5-.1-1.7 0 3.3 0-6 0 3.3-.1-1.6 0 3.1 0-3.7-.1 2.8 0-1.3-.1 2.4 0-3.7-.1 2.2 0-1-.1.6-1.6"/><path d="M88.16 353.43V352.73M88.16 353.93V354.05" stroke="#222" stroke-opacity="0.75" stroke-width="0.6"/><rect x="83.96" y="353.43" width="8.4" height="0.49" fill="none" stroke="#222" stroke-opacity="0.7" stroke-width="0.75"/><path d="M83.96 353.74h8.4" stroke="#111" stroke-opacity="0.8" stroke-width="1.3"/><path marker-start="url(#m4)" marker-mid="url(#m4)" marker-end="url(#m4)" d="M98.9 354l-1.9 0 3.9 0-4.9 0 3.9 0-1.9 0 3.9 0-6.4 0 3.9 0-1.9 0 3.9 0-4.9 0 3.9 0-1.9 0 3.9 0-7.2 0 4 0-2 0 4 0-5 0 4 0-2 0 4 0-6.5 0 4 0-2 0 4 0-5 0 4 0-2 0 4.1 0-7.8 0 4.1-.1-2.1 0 4.1 0-5.1 0 4.1 0-2 0 4.1 0-6.7 0 4.1 0-2.1 0 4.2 0-5.2 0 4.1 0-2 0 4.1 0-7.5 0 4.1 0-2 0 4.1 0-5.2 0 4.2 0-2.1 0 4.2 0-6.8 0 4.2 0-2.1-.1 4.2 0-5.3 0 4.2 0-2.1 0 4.3 0-8.3 0 4.2 0-2.1 0 4.2 0-5.3 0 4.3 0-2.2 0 4.3 0-6.9 0 4.3 0-2.2 0 4.3 0-5.4 0 4.3-.1-2.1 0 4.3 0-7.8 0 4.3 0-2.2 0 4.3 0-5.3 0 4.3 0-2.2 0 4.3 0-7 0 4.3 0-2.1 0 4.3 0-5.4 0 4.3-.1-2.2 0 4.3 0-8.1 0 4.3 0-2.2 0 4.3 0-5.4 0 4.3 0-2.1 0 4.2 0-6.9 0 4.3 0-2.1-.1 4.2 0-5.3 0 4.2 0-2.1 0 4.2 0-7.6 0 4.2 0-2.1 0 4.2 0-5.2-.1 4.1 0-2 0 4 0-6.6 0 4.1 0-2 0 4 0-5 0 4 0-2 0 3.9-.1-7.8 0 4 0-2 0 3.9 0-4.8 0 3.8 0-1.9 0 3.8 0-6.1 0 3.7-.1-1.8 0 3.6 0-4.5 0 3.6-.1-1.8 0 3.4 0-6 0 3.3-.1-1.6 0 3 0-3.6-.1 2.8 0-1.3-.1 2.4 0-3.7-.1 2.1-.1-.5-.7.2-13.3"/><path d="M98.95 353.43V352.73M98.95 353.93V354.05" stroke="#222" stroke-opacity="0.75" stroke-width="0.6"/><rect x="94.75" y="353.43" width="8.4" height="0.49" fill="none" stroke="#222" stroke-opacity="0.7" stroke-width="0.75"/><path d="M94.75 353.74h8.4" stroke="#111" stroke-opacity="0.8" stroke-width="1.3"/><path marker-start="url(#m5)" marker-mid="url(#m5)" marker-end="url(#m5)" d="M109.7 354l-2 0 4.1 0-5.1 0 4.1 0-2.1 0 4.1 0-6.6 0 4.1 0-2.1 0 4.1 0-5.1 0 4.1 0-2.1 0 4.1 0-7.4 0 4.1 0-2.1 0 4.2 0-5.2 0 4.1 0-2 0 4.1 0-6.7 0 4.1 0-2.1 0 4.2 0-5.2 0 4.2 0-2.1 0 4.2 0-8 0 4.2 0-2.1-.1 4.2 0-5.3 0 4.2 0-2.1 0 4.2 0-6.8 0 4.2 0-2.1 0 4.2 0-5.3 0 4.3 0-2.2 0 4.3 0-7.7 0 4.2 0-2.1 0 4.3 0-5.3 0 4.2 0-2.1 0 4.2 0-6.9 0 4.3 0-2.2 0 4.3-.1-5.3 0 4.2 0-2.1 0 4.3 0-8.4 0 4.3 0-2.1 0 4.3 0-5.4 0 4.3 0-2.2 0 4.3 0-7 0 4.3 0-2.1 0 4.3 0-5.4 0 4.3-.1-2.1 0 4.3 0-7.8 0 4.3 0-2.2 0 4.3 0-5.3 0 4.3 0-2.2 0 4.3 0-7 0 4.3 0-2.1 0 4.2 0-5.3-.1 4.3 0-2.2 0 4.3 0-8.1 0 4.2 0-2.1 0 4.2 0-5.2 0 4.2 0-2.1-.1 4.1 0-6.7 0 4.1 0-2 0 4.1 0-5.1 0 4-.1-2 0 3.9 0-7 0 3.9 0-1.9-.1 3.7 0-4.6 0 3.6 0-1.7-.1 3.3 0-5.3-.1 3.1-.1-1.3-.1 2.4-.1-2.7-.1 1.7-.1-.8-.2 1-.2-1.7-.1.7-.2-.2-.3.4-.1-.4-.3.3-.2-.1-.2.2-.2-.4-.2.3-.4-.2-.1.3-.3-.3-.1.2-.1-.1-.2.2-.4-.3-.2.2-.2-.1-.3.1-1-.1-.7.1-.1-.1-.4.2-.3-.3-.3.2-.2-.1-.7.1-.7"/><path d="M109.74 353.28V352.37M109.74 353.93V354.05" stroke="#222" stroke-opacity="0.75" stroke-width="0.6"/><rect x="105.54" y="353.28" width="8.4" height="0.65" fill="none" stroke="#222" stroke-opacity="0.7" stroke-width="0.75"/><path d="M105.54 353.74h8.4" stroke="#111" stroke-opacity="0.8" stroke-width="1.3"/><path marker-start="url(#m6)" marker-mid="url(#m6)" marker-end="url(#m6)" d="M120.5 353.3l-.4-.7.9-1.2-1.3-2 1.1-.9-.6-.9 1.3-1.7-2.1-.7 1.3-1.3-.7-1.2 1.4-1.6-1.7-1 1.4-.7-.7-1.1 1.4-1.2-2.6-.7 1.4-1.3-.7-1.5 1.5-1-2-.8 1.6-.9-.8-1.3 1.7-.8-2.8-1.1 1.8-1-.9-.3 1.8-.9-2.4-1.3 2-.5-1-.9 2.1-.8-4.1-.9 2.2-.5-1.2-1 2.4-.8-3-.5 2.5-.8-1.3-.7 2.7-.5-4.5-.7 2.8-.6-1.5-.5 3.1-.7-3.9-.4 3.1-.7-1.6-.3 3.4-.7-6.2-.6 3.5-.3-1.8-.4 3.6-.6-4.6-.4 3.7-.5-1.9-.3 3.9-.4-6.3-.7 3.9-.3-2-.4 4-.5-5-.4 4-.4-2-.3 4.1-.3-8-.4 4.1-.5-2.1-.4 4.2-.4-5.2-.5 4.1-.4-2-.3 4.2-.3-6.9-.5 4.2-.5-2.1-.5 4.3-.3-5.3-.4 4.2-.5-2.1-.4 4.2-.5-7.7-.3 4.3-.5-2.2-.4 4.3-.5-5.4-.4 4.3-.4-2.1-.3 4.3-.4-7-.4 4.3-.4-2.1-.2 4.2-.6-5.3-.2 4.2-.5-2.1-.2 4.2-.4-7.9-.6 4.1-.3-2-.3 4-.5-4.9-.4 3.9-.3-1.9-.6 3.7-.5-6-.2 3.6-.6-1.7-.3 3.4-.5-4.1-.7 3.2-.6-1.6-.4 2.9-.5-5.2-.6 2.8-.7-1.3-.7 2.5-.8-2.9-.6 2.2-.8-1-.7 1.9-.7-3-1.4 1.7-.8-.8-1.1 1.4-1.4-1.6-1.4 1.2-1.2-.6-1.4 1.1-1.9-2.1-1.1 1-1.6-.4-2.1.9-1.6-1.2-1.3 1-1.4-.5-1.3 1-1.6-1.6-1.9 1-1.2-.5-2.6 1-.8-1.3-1.5 1-1.8-.5-1.6 1.1-.8-2-2.5 1.1-1.1-.5-.9 1.1-1.4-1.4-1 1.1-1.8-.6-1.1 1-2.9-1.5-.3.9-.4-.4-2.5.7-.6"/><path d="M120.54 280.90V228.39M120.54 316.01V353.29" stroke="#222" stroke-opacity="0.75" stroke-width="0.6"/><rect x="116.34" y="280.90" width="8.4" height="35.11" fill="none" stroke="#222" stroke-opacity="0.7" stroke-width="0.75"/><path d="M116.34 298.61h8.4" stroke="#111" stroke-opacity="0.8" stroke-width="1.3"/><path marker-start="url(#m7)" marker-mid="url(#m7)" marker-end="url(#m7)" d="M131.3 353.8l-.4-.9 1-.9-1.5-1.2 1.3-.3-.7-1.2 1.4-.5-2.4-.9 1.5-.9-.8-.8 1.7-1-2.2-.4 1.8-1.1-.9-.7 1.9-.7-3.5-.4 2-1.1-1-.7 2-.6-2.6-.5 2.1-.7-1.1-1 2.2-.3-3.6-.9 2.3-.5-1.2-.7 2.4-.9-3-.3 2.4-.8-1.2-.6 2.6-.4-5.1-.5 2.7-.8-1.4-.4 2.9-.5-3.7-.5 3-.7-1.6-.4 3.3-.4-5.4-.4 3.4-.6-1.8-.3 3.6-.6-4.6-.4 3.8-.2-1.9-.6 3.9-.3-7.2-.3 4-.4-2-.2 4.1-.4-5.2-.3 4.2-.3-2.1-.4 4.2-.2-6.9-.4 4.3-.4-2.2-.1 4.3-.3-5.4-.3 4.3-.4-2.1-.3 4.3-.3-8.4-.3 4.3-.4-2.1-.2 4.2-.4-5.3-.3 4.2-.3-2-.4 4.1-.2-6.7-.4 4.1-.3-2-.5 3.9-.3-4.8-.3 3.8-.4-1.9-.7 3.7-.4-6.6-.5 3.6-.3-1.8-.3 3.5-.6-4.3-.4 3.4-.5-1.6-.2 3.3-.4-5.3-.7 3.2-.3-1.6-.5 3.1-.5-3.8-.3 3-.5-1.5-.6 2.9-.4-5.5-.7 2.9-.4-1.4-.3 2.7-.8-3.3-.5 2.6-.3-1.3-.6 2.5-.8-3.9-.6 2.3-.4-1.1-.8 2.2-.5-2.7-.6 2.1-.7-1-.7 1.9-.9-3.4-.5 1.8-1.1-.8-.9 1.6-.6-1.9-.9 1.4-1-.7-1 1.3-.7-2-1.5 1.2-1.2-.5-1.1.9-1.5-1.1-1.5.8-1.8-.4-2.6.7-1.8-1.3-1.8.6-1.9-.3-2 .7-1-.9-2.5.7-1.7-.3-1.8.6-1.9-1-3 .6-1.6-.3-2 .7-2.2-1-.9.9-2.8-.5-1.1 1.2-1.5-2.1-.4 1.1-.1-.6-.1 1.2-.4-1.4-.8 1-4.3-.4-.2.6-4.4-.9-.7.5-1.3-.2-1.9.3-5.1"/><path d="M131.33 292.30V241.18M131.33 327.56V353.85" stroke="#222" stroke-opacity="0.75" stroke-width="0.6"/><rect x="127.13" y="292.30" width="8.4" height="35.27" fill="none" stroke="#222" stroke-opacity="0.7" stroke-width="0.75"/><path d="M127.13 314.01h8.4" stroke="#111" stroke-opacity="0.8" stroke-width="1.3"/><path marker-start="url(#m8)" marker-mid="url(#m8)" marker-end="url(#m8)" d="M142.1 354l-.8 0 1.7-.1-2.3-.1 1.9 0-1-.1 2.2-.1-3.7 0 2.3-.1-1.2-.1 2.5 0-3.3-.1 2.8-.1-1.4 0 2.9-.1-5.4 0 3-.1-1.5-.1 3.1 0-4-.1 3.2 0-1.6-.1 3.3-.1-5.4 0 3.4-.1-1.8 0 3.5-.1-4.4 0 3.6-.1-1.8 0 3.6-.1-6.9-.1 3.6 0-1.8-.1 3.7 0-4.7-.1 3.8 0-1.9-.1 3.8 0-6.3-.1 3.9 0-1.9-.1 3.9 0-5-.1 4.1 0-2.1-.1 4.1-.1-7.4 0 4.1-.1-2.1 0 4.2 0-5.2-.1 4.2 0-2.1-.1 4.2 0-6.9-.1 4.2 0-2.1-.1 4.3 0-5.3 0 4.2-.1-2.1-.1 4.3 0-8.4 0 4.3-.1-2.2 0 4.3-.1-5.3 0 4.3-.1-2.2 0 4.3-.1-7 0 4.3 0-2.1-.1 4.3-.1-5.4 0 4.3 0-2.1-.1 4.2-.1-7.7 0 4.3-.1-2.1 0 4.1 0-5.2-.1 4.2 0-2.1-.1 4.1 0-6.6-.1 4 0-2-.1 4 0-4.9 0 3.9-.1-2 0 3.9-.1-7.3 0 3.8-.1-1.9 0 3.7-.1-4.5 0 3.6-.1-1.8 0 3.5-.1-5.6 0 3.4-.1-1.7 0 3.3-.1-4-.1 3.1-.1-1.5 0 2.9-.1-5.1-.1 2.7 0-1.3-.1 2.5-.1-3-.1 2.3-.1-1.1-.1 2.1-.1-3.3-.1 2-.1-.9-.1 1.6-.1-2-.1 1.5-.1-.7-.3 1.3 0-2.4-.2 1.1-.2-.5-.2 1-.3-1.1-.1.8-.3-.3-.2.6-.4-1-.1.6-.4-.3-.5.5-.3-.5-.3.4-.5-.2-.4.3-.4-.4-1.2.1-6.3 0-4.2.1-1-.2-10.7.2-.1-.1-2.9.1-4.1-.2-1 .1-2.1 0-6.1.1-8.1"/><path d="M142.12 347.74V341.81M142.12 351.74V354.01" stroke="#222" stroke-opacity="0.75" stroke-width="0.6"/><rect x="137.92" y="347.74" width="8.4" height="4.00" fill="none" stroke="#222" stroke-opacity="0.7" stroke-width="0.75"/><path d="M137.92 349.89h8.4" stroke="#111" stroke-opacity="0.8" stroke-width="1.3"/><rect x="49.30" y="192.45" width="99.30" height="169.20" fill="none" stroke="#333" stroke-width="1.07"/><path d="M155.15 334.80H254.45M155.15 296.30H254.45M155.15 257.80H254.45M155.15 219.30H254.45" stroke="#EBEBEB" stroke-width="0.55" fill="none"/><path d="M155.15 354.05H254.45M155.15 315.55H254.45M155.15 277.05H254.45M155.15 238.55H254.45M155.15 200.05H254.45M161.63 192.45V361.65M172.42 192.45V361.65M183.21 192.45V361.65M194.01 192.45V361.65M204.80 192.45V361.65M215.59 192.45V361.65M226.39 192.45V361.65M237.18 192.45V361.65M247.97 192.45V361.65" stroke="#EBEBEB" stroke-width="1.1" fill="none"/><path marker-start="url(#m0)" marker-mid="url(#m0)" marker-end="url(#m0)" d="M161.6 353.8l-1-.1 2.1-.4-2.9-.4 2.5-.4-1.3-.1 2.7-.5-4.6-.3 2.9-.3-1.5-.4 3.1-.3-4-.3 3.3-.3-1.7-.2 3.5-.5-6.5-.3 3.7-.2-1.9-.3 3.8-.4-4.8-.3 3.8-.3-1.9-.4 3.9-.2-6.4-.3 4-.5-2-.3 4-.3-5.1-.3 4.1-.2-2-.5 4.1-.3-7.9-.4 4.2-.2-2.2-.4 4.3-.3-5.3-.3 4.2-.2-2.1-.4 4.3-.3-7-.4 4.3-.3-2.1-.2 4.2-.4-5.3-.2 4.3-.4-2.2-.4 4.3-.2-7.8-.3 4.3-.3-2.1-.2 4.3-.4-5.4-.2 4.3-.3-2.1-.3 4.2-.3-6.9-.4 4.2-.2-2-.3 4.1-.2-5.2-.4 4.1-.4-2-.3 4-.3-7.8-.2 4-.5-2-.1 3.9-.4-4.8-.3 3.8-.3-1.8-.5 3.7-.2-6-.4 3.6-.5-1.7-.3 3.4-.5-4.3-.2 3.4-.5-1.6-.4 3.2-.4-5.8-.4 3.2-.3-1.6-.6 3.1-.4-3.8-.6 3-.3-1.5-.5 2.9-.4-4.6-.5 2.8-.4-1.4-.6 2.7-.3-3.3-.4 2.6-.9-1.3-.4 2.4-.4-4.5-.4 2.3-.7-1.1-.6 2.2-.6-2.7-.5 2.1-.8-1-.6 2-.5-3.2-.6 1.9-.6-.9-.8 1.8-1-2.2-.4 1.7-.7-.8-.9 1.5-.8-2.7-.7 1.5-1.1-.7-.4 1.3-1.4-1.6-.4 1.3-.9-.6-1.3 1-1.2-1.6-1.2.9-1.4-.4-1.2.8-1.6-.9-2.1.6-1.7-.3-2.1.6-1.4-1.1-1.7.5-2.8-.2-1.2.5-2.9-.7-2 .6-2.2-.3-2.1.6-1.6-1-1.9.6-2.3-.3-1.6.6-1.9-.8-2.6.7-1.4-.4-1.9.9-1.8-1.6-1.2.9-.2-.4-1.2.8-1.1-1-1.1.8-2.3-.4-1.6.6-2.9-.9-.6.5-2.5-.2-.2.3-6"/><path d="M161.63 305.85V254.02M161.63 341.58V353.80" stroke="#222" stroke-opacity="0.75" stroke-width="0.6"/><rect x="157.43" y="305.85" width="8.4" height="35.73" fill="none" stroke="#222" stroke-opacity="0.7" stroke-width="0.75"/><path d="M157.43 329.10h8.4" stroke="#111" stroke-opacity="0.8" stroke-width="1.3"/><path marker-start="url(#m1)" marker-mid="url(#m1)" marker-end="url(#m1)" d="M172.4 353.9l-.3-.2.7-.1-1-.2.9-.3-.5-.1 1-.2-1.7-.3 1.1-.1-.6-.1 1.1-.3-1.4-.2 1.2-.1-.6-.2 1.2-.2-2.3-.1 1.3-.2-.7-.2 1.4-.2-1.7-.1 1.4-.2-.7-.1 1.4-.2-2.4-.1 1.5-.2-.8-.2 1.6-.1-2-.1 1.7-.1-.9-.2 1.9-.1-3.7-.1 2-.1-1.1-.2 2.2-.1-2.8-.1 2.3-.1-1.2 0 2.5-.1-4.2-.1 2.6-.1-1.3-.1 2.8 0-3.6-.2 2.9 0-1.5-.1 3.1-.1-5.7-.1 3.2 0-1.6-.1 3.3-.1-4.2 0 3.4-.1-1.7-.1 3.6 0-5.9-.1 3.6 0-1.8-.1 3.7 0-4.7-.1 3.8-.1-1.9 0 3.9-.1-7.7 0 4-.1-2 0 4-.1-5.1-.1 4.1 0-2-.1 4.1 0-6.8-.1 4.2 0-2.1-.1 4.2 0-5.3-.1 4.3 0-2.1-.1 4.2-.1-7.7-.1 4.3 0-2.2-.1 4.3 0-5.4 0 4.3-.1-2.1 0 4.3-.1-7-.1 4.3 0-2.1 0 4.2-.1-5.3 0 4.2-.1-2.1 0 4.1-.1-7.8 0 4.1-.1-2 0 4-.1-4.9 0 3.9-.1-2 0 3.8-.1-6 0 3.6-.1-1.7-.1 3.4 0-4.2-.1 3.3 0-1.6-.1 3-.1-5.4-.1 2.9-.1-1.3-.1 2.6-.1-3.1-.1 2.4 0-1.2-.2 2.2 0-3.4-.2 1.9-.1-.9-.1 1.7-.2-2-.2 1.5-.1-.7-.2 1.2-.1-2.3-.3 1.1-.1-.4-.4.9-.1-1.1-.2.8-.3-.3-.5.6-.2-.9-.4.5-.4-.3-.4.5-.4-.5-.5.4-.5-.2-.6.3-.4-.6-.1.3-5.3-.1-3.9.2-.4-.1-8 .1-2.9-.1-.8.1-6.9-.2-1.1.1-1.5 0-7.2.1-18.6"/><path d="M172.42 343.27V336.20M172.42 348.04V353.92" stroke="#222" stroke-opacity="0.75" stroke-width="0.6"/><rect x="168.22" y="343.27" width="8.4" height="4.77" fill="none" stroke="#222" stroke-opacity="0.7" stroke-width="0.75"/><path d="M168.22 345.58h8.4" stroke="#111" stroke-opacity="0.8" stroke-width="1.3"/><path marker-start="url(#m2)" marker-mid="url(#m2)" marker-end="url(#m2)" d="M183.2 354l-1.1 0 2.2 0-2.8-.1 2.3 0-1.2 0 2.5 0-4.1-.1 2.5 0-1.3 0 2.7 0-3.5-.1 2.9 0-1.5 0 3.1 0-5.6-.1 3.1 0-1.6 0 3.3 0-4.2-.1 3.4 0-1.7 0 3.5 0-5.8-.1 3.6 0-1.8 0 3.6 0-4.6 0 3.8-.1-1.9 0 3.8 0-7.3 0 3.8 0-1.9-.1 3.9 0-5 0 4 0-2 0 4.1-.1-6.6 0 4.1 0-2.1 0 4.1 0-5.2-.1 4.2 0-2.1 0 4.2 0-7.6 0 4.2 0-2.1-.1 4.2 0-5.3 0 4.3 0-2.2 0 4.3 0-6.9 0 4.3 0-2.2-.1 4.3 0-5.4 0 4.3 0-2.1 0 4.3 0-8.4 0 4.3-.1-2.2 0 4.3 0-5.3 0 4.3 0-2.2 0 4.3-.1-7 0 4.3 0-2.1 0 4.2 0-5.3-.1 4.3 0-2.1 0 4.1 0-7.5 0 4.1-.1-2 0 4.1 0-5.1 0 4 0-2 0 4-.1-6.5 0 4 0-2 0 3.9-.1-4.8 0 3.8 0-1.9 0 3.8-.1-7.1 0 3.7 0-1.8 0 3.6-.1-4.5 0 3.6 0-1.8 0 3.4-.1-5.4 0 3.3 0-1.6-.1 3.1 0-3.9 0 3.1-.1-1.5 0 2.9 0-5.2-.1 2.8 0-1.3 0 2.6-.1-3.2 0 2.5-.1-1.2 0 2.3-.1-3.7 0 2.2-.1-1 0 2-.1-2.5 0 1.9-.1-.9 0 1.6-.1-3.1-.1 1.5 0-.6-.1 1.3-.1-1.6-.1 1.2-.1-.5-.1.9-.1-1.4-.1.8-.2-.3-.1.6-.1-.7-.3.5-.1-.2-.2.3-.1-.3-3 0-.6 0-1.5 0-1.1 0-1.6 0-.7 0-.9 0-3.4 0-2.2 0-.6 0-5.3 0-6.4"/><path d="M183.21 351.43V348.96M183.21 353.13V354.04" stroke="#222" stroke-opacity="0.75" stroke-width="0.6"/><rect x="179.01" y="351.43" width="8.4" height="1.69" fill="none" stroke="#222" stroke-opacity="0.7" stroke-width="0.75"/><path d="M179.01 352.51h8.4" stroke="#111" stroke-opacity="0.8" stroke-width="1.3"/><path marker-start="url(#m3)" marker-mid="url(#m3)" marker-end="url(#m3)" d="M194 354l-1.9 0 3.9 0-4.9 0 3.9 0-2 0 3.9 0-6.3 0 3.9 0-2 0 4 0-5 0 4 0-2 0 4 0-7.2 0 4 0-2 0 4 0-5 0 4 0-2 0 4 0-6.6 0 4.1 0-2.1 0 4.1 0-5.1 0 4.1 0-2 0 4 0-7.7 0 4 0-2-.1 4.1 0-5.1 0 4.1 0-2.1 0 4.1 0-6.7 0 4.2 0-2.1 0 4.1 0-5.2 0 4.2 0-2.1 0 4.2 0-7.6 0 4.2 0-2.1 0 4.2 0-5.2 0 4.1 0-2 0 4.1 0-6.8 0 4.2 0-2.1-.1 4.2 0-5.2 0 4.2 0-2.1 0 4.2 0-8.3 0 4.3 0-2.2 0 4.3 0-5.3 0 4.2 0-2.1 0 4.3 0-7 0 4.3 0-2.1 0 4.2 0-5.3 0 4.3-.1-2.2 0 4.3 0-7.8 0 4.3 0-2.1 0 4.3 0-5.4 0 4.3 0-2.1 0 4.3 0-7 0 4.3 0-2.2 0 4.3 0-5.3 0 4.3-.1-2.2 0 4.3 0-8.2 0 4.3 0-2.1 0 4.2 0-5.3 0 4.3 0-2.2 0 4.3 0-6.9 0 4.2 0-2.1-.1 4.3 0-5.3 0 4.2 0-2.1 0 4.2 0-7.6 0 4.2 0-2.1 0 4.1 0-5.1-.1 4.1 0-2.1 0 4.1 0-6.6 0 4.1 0-2.1 0 4.1 0-5.1 0 4 0-2-.1 4 0-7.8 0 3.9 0-1.9 0 3.9 0-4.8 0 3.8 0-1.9 0 3.8 0-6.1-.1 3.7 0-1.8 0 3.6 0-4.5 0 3.5-.1-1.7 0 3.4 0-6-.1 3.2 0-1.5 0 3-.1-3.6 0 2.8 0-1.4-.1 2.4 0-3.7-.1 2.2 0-1 0 .7-1.3"/><path d="M194.01 353.43V352.74M194.01 353.93V354.05" stroke="#222" stroke-opacity="0.75" stroke-width="0.6"/><rect x="189.81" y="353.43" width="8.4" height="0.49" fill="none" stroke="#222" stroke-opacity="0.7" stroke-width="0.75"/><path d="M189.81 353.74h8.4" stroke="#111" stroke-opacity="0.8" stroke-width="1.3"/><path marker-start="url(#m4)" marker-mid="url(#m4)" marker-end="url(#m4)" d="M204.8 354l-1.9 0 3.9 0-4.9 0 3.9 0-2 0 3.9 0-6.3 0 3.9 0-2 0 4 0-5 0 4 0-2 0 4 0-7.2 0 3.9 0-1.9 0 3.9 0-4.9 0 4 0-2.1 0 4.1 0-6.6 0 4.1 0-2.1 0 4.1 0-5.1 0 4.1 0-2.1 0 4.1 0-7.7 0 4-.1-2 0 4.1 0-5.1 0 4.1 0-2.1 0 4.1 0-6.7 0 4.1 0-2 0 4.1 0-5.2 0 4.2 0-2.1 0 4.2 0-7.6 0 4.2 0-2.1 0 4.2 0-5.2 0 4.1 0-2.1 0 4.2 0-6.8 0 4.2 0-2.1-.1 4.2 0-5.2 0 4.2 0-2.1 0 4.2 0-8.3 0 4.3 0-2.2 0 4.3 0-5.3 0 4.2 0-2.1 0 4.3 0-7 0 4.3 0-2.1 0 4.2 0-5.3 0 4.3-.1-2.2 0 4.3 0-7.8 0 4.3 0-2.1 0 4.3 0-5.4 0 4.3 0-2.1 0 4.3 0-7 0 4.3 0-2.2 0 4.3 0-5.4 0 4.3-.1-2.1 0 4.3 0-8.2 0 4.3 0-2.1 0 4.2 0-5.3 0 4.3 0-2.2 0 4.3 0-6.9 0 4.2 0-2.1-.1 4.2 0-5.2 0 4.2 0-2.1 0 4.2 0-7.6 0 4.2 0-2.1 0 4.1 0-5.1-.1 4.1 0-2.1 0 4.1 0-6.6 0 4 0-2 0 4 0-5 0 4 0-2 0 4-.1-7.8 0 3.9 0-1.9 0 3.9 0-4.9 0 3.9 0-1.9 0 3.8 0-6.1-.1 3.7 0-1.8 0 3.6 0-4.5 0 3.5-.1-1.7 0 3.3 0-5.9 0 3.2-.1-1.5 0 3-.1-3.6 0 2.8 0-1.4-.1 2.5 0-3.8-.1 2.2 0-1-.1.7-1.2"/><path d="M204.80 353.43V352.72M204.80 353.93V354.05" stroke="#222" stroke-opacity="0.75" stroke-width="0.6"/><rect x="200.60" y="353.43" width="8.4" height="0.49" fill="none" stroke="#222" stroke-opacity="0.7" stroke-width="0.75"/><path d="M200.60 353.74h8.4" stroke="#111" stroke-opacity="0.8" stroke-width="1.3"/><path marker-start="url(#m5)" marker-mid="url(#m5)" marker-end="url(#m5)" d="M215.6 354l-2 0 4 0-5 0 4 0-2 0 4 0-6.6 0 4.1 0-2 0 4 0-5.1 0 4.1 0-2 0 4.1 0-7.5 0 4.2 0-2.1 0 4.1 0-5.1 0 4.1 0-2.1 0 4.2 0-6.8 0 4.2 0-2.1 0 4.2 0-5.2 0 4.1 0-2.1 0 4.2 0-8 0 4.2-.1-2.1 0 4.2 0-5.2 0 4.2 0-2.1 0 4.2 0-6.9 0 4.3 0-2.2 0 4.3 0-5.3 0 4.2 0-2.1 0 4.2 0-7.7 0 4.3 0-2.1 0 4.2 0-5.3 0 4.3 0-2.2 0 4.3 0-6.9 0 4.2 0-2.1 0 4.3-.1-5.4 0 4.3 0-2.1 0 4.2 0-8.3 0 4.3 0-2.2 0 4.3 0-5.4 0 4.3 0-2.1 0 4.3 0-7 0 4.3 0-2.2 0 4.3 0-5.3 0 4.3-.1-2.2 0 4.3 0-7.8 0 4.3 0-2.1 0 4.3 0-5.4 0 4.3 0-2.1 0 4.2 0-6.9 0 4.3 0-2.2 0 4.3 0-5.3-.1 4.2 0-2.1 0 4.2 0-8 0 4.2 0-2.1 0 4.2 0-5.2 0 4.1 0-2-.1 4.1 0-6.7 0 4.1 0-2 0 4 0-5 0 4-.1-2 0 3.9 0-7 0 3.8 0-1.9-.1 3.8 0-4.7 0 3.7 0-1.8-.1 3.3-.1-5.1 0 3-.1-1.4-.1 2.2-.2-2.3-.1 1.4-.2-.6-.2.6-.2-1-.3.4-.3-.1-.2.2-.3-.3-.1.3-.2-.2-.3.3-.3-.4-.3.2-.3-.1-.3.3-.3-.4-.3.3 0-.1-.1.2-.2-.5-.1.3-.1-.1-.4.2 0-.2-.7.1-.2 0-.6 0-.5-.1-1.6.1-.6 0-.4 0-1.3"/><path d="M215.59 353.28V352.39M215.59 353.93V354.05" stroke="#222" stroke-opacity="0.75" stroke-width="0.6"/><rect x="211.39" y="353.28" width="8.4" height="0.65" fill="none" stroke="#222" stroke-opacity="0.7" stroke-width="0.75"/><path d="M211.39 353.74h8.4" stroke="#111" stroke-opacity="0.8" stroke-width="1.3"/><path marker-start="url(#m6)" marker-mid="url(#m6)" marker-end="url(#m6)" d="M226.4 353.4l-.5-1 1-1-1.4-.7 1.2-1.4-.7-1.3 1.5-.6-2.4-.7 1.5-1.2-.8-1.5 1.6-.9-2-.7 1.6-.7-.8-1 1.7-1.5-3.1-.4 1.7-1.2-.9-.8 1.8-1.2-2.3-.4 1.9-1.2-1-1.1 1.9-.6-3.1-1 2-.7-1-.7 2-1.1-2.6-.5 2.1-1-1-.6 2.1-1.2-4.1-.4 2.2-.7-1.2-.9 2.3-.6-2.9-.9 2.4-.7-1.2-.6 2.4-.5-4-.7 2.5-.7-1.3-.9 2.6-.4-3.3-.6 2.7-.7-1.4-.5 2.9-.7-5.3-.7 3-.4-1.5-.5 3-.6-3.8-.6 3.1-.5-1.6-.5 3.2-.7-5.2-.4 3.2-.5-1.6-.7 3.3-.5-4.2-.4 3.4-.3-1.7-.7 3.4-.5-6.7-.6 3.4-.2-1.7-.8 3.5-.3-4.4-.5 3.5-.3-1.8-.5 3.7-.5-6-.7 3.7-.3-1.9-.5 3.8-.5-4.8-.6 3.9-.2-1.9-.5 4-.6-7.3-.3 4-.7-2.1-.3 4.2-.5-5.2-.2 4.2-.5-2.1-.5 4.2-.2-6.9-.5 4.3-.5-2.2-.1 4.3-.5-5.4-.2 4.3-.4-2.1-.4 4.3-.5-8.2-.2 4.3-.4-2.1-.3 4.2-.4-5.2-.3 4.1-.5-2-.3 4-.4-6.5-.5 3.9-.5-1.9-.3 3.8-.5-4.6-.6 3.6-.5-1.8-.4 3.3-.4-5.9-.5 3.2-.8-1.5-.5 2.9-.3-3.5-.6 2.7-.6-1.3-.8 2.4-.9-3.7-.6 2.2-1.3-1-.6 1.8-1.3-2.2-1 1.7-.6-.8-1.4 1.5-.8-2.9-1.5 1.4-.7-.7-1.7 1.4-1.3-1.7-1.1 1.3-.7-.6-1.4 1.3-1.1-2.3-1.8 1.5-.5-.8-1.6 1.7-1.1-2.2-1 1.8-1.5-.9-1.3 1.8-.4-3.3-.4 1.8-.1-.9 0 1.8-.3-2.2-.3 1.7-.2-.8-1.3 1-6.2-1.3-1.4.7-.7-.3-.1.6-1.6"/><path d="M226.39 282.75V242.25M226.39 319.86V353.44" stroke="#222" stroke-opacity="0.75" stroke-width="0.6"/><rect x="222.19" y="282.75" width="8.4" height="37.11" fill="none" stroke="#222" stroke-opacity="0.7" stroke-width="0.75"/><path d="M222.19 299.38h8.4" stroke="#111" stroke-opacity="0.8" stroke-width="1.3"/><path marker-start="url(#m7)" marker-mid="url(#m7)" marker-end="url(#m7)" d="M237.2 353.9l-.6-1 1.2-.6-1.7-1 1.5-.3-.8-1 1.7-.7-3-.7 1.9-.8-1-.6 2.1-.4-2.6-.7 2.1-.8-1.1-.7 2.2-.5-4-.9 2.2-.7-1.1-.5 2.3-.4-2.9-.9 2.3-.5-1.2-.5 2.4-.6-3.9-.8 2.4-.7-1.2-.6 2.5-.4-3.2-.8 2.6-.6-1.3-.3 2.7-.4-5.2-.9 2.8-.4-1.4-.7 2.8-.4-3.6-.3 2.9-.8-1.5-.4 3.1-.4-5-.6 3.1-.4-1.6-.5 3.2-.4-4.1-.4 3.3-.4-1.6-.7 3.4-.3-6.3-.5 3.5-.4-1.8-.4 3.6-.4-4.5-.4 3.6-.4-1.8-.5 3.7-.3-6.1-.4 3.8-.5-1.9-.2 3.8-.4-4.8-.4 3.9-.3-1.9-.5 3.9-.3-7.7-.5 3.9-.2-1.9-.3 3.9-.5-4.9-.3 3.9-.4-2-.5 4.1-.3-6.6-.4 4.1-.3-2.1-.5 4.1-.4-5.1-.2 4.1-.4-2.1-.6 4.2-.2-7.6-.4 4.2-.4-2.1-.5 4.3-.4-5.4-.1 4.3-.3-2.2-.4 4.3-.3-6.9-.4 4.3-.4-2.2-.2 4.3-.4-5.3-.3 4.2-.3-2.1-.2 4.2-.3-8-.4 4.2-.2-2-.5 4-.2-5-.5 3.9-.3-1.9-.5 3.7-.4-5.9-.1 3.6-.5-1.7-.5 3.3-.3-4.1-.5 3.2-.6-1.5-.5 2.7-.5-4.9-.7 2.7-.3-1.2-.8 2.3-.4-2.7-.8 2-.7-1-.7 1.6-1.3-2.4-1.1 1.4-.5-.6-2.3 1-.7-1.2-1.4.9-2.4-.4-1.1.6-2.7-1.3-1.3.7-2.1-.3-2.7.6-1-.8-2.4.6-2.3-.3-2.1.6-1.5-.9-2.6.6-2.1-.3-2.3.6-2.5-.9-2.2.8-1.5-.4-1.8 1-1.2-1.9-.7 1.1-.1-.5-1.5.9-.8-1.1-3 .8-2.3-.4-1.3.8-.4-1.2-2.7.7-.6-.3-2.1.3-6.4"/><path d="M237.18 298.92V252.92M237.18 330.03V353.93" stroke="#222" stroke-opacity="0.75" stroke-width="0.6"/><rect x="232.98" y="298.92" width="8.4" height="31.11" fill="none" stroke="#222" stroke-opacity="0.7" stroke-width="0.75"/><path d="M232.98 314.47h8.4" stroke="#111" stroke-opacity="0.8" stroke-width="1.3"/><path marker-start="url(#m8)" marker-mid="url(#m8)" marker-end="url(#m8)" d="M248 354l-.6-.1 1.1-.1-1.5-.1 1.3-.1-.7-.2 1.6-.1-2.7-.1 1.7-.1-.9-.1 1.8-.1-2.3-.1 1.9-.1-1-.1 2.1-.1-3.8-.1 2.1-.1-1.1-.1 2.2-.1-2.8-.1 2.3-.1-1.2-.1 2.4-.1-3.8 0 2.3-.2-1.2-.1 2.5-.1-3.1-.1 2.5 0-1.3-.1 2.6-.1-5-.1 2.7-.1-1.4 0 2.8-.1-3.6-.1 2.9-.1-1.5-.1 3-.1-4.9 0 3.1-.1-1.6-.1 3.2 0-4-.1 3.2-.1-1.6 0 3.3-.1-6.1 0 3.4-.1-1.7-.1 3.4 0-4.4-.1 3.6-.1-1.8 0 3.6 0-5.9-.1 3.7-.1-1.9 0 3.8-.1-4.7-.1 3.8 0-1.9-.1 3.8 0-7.6-.1 3.9 0-2-.1 4 0-5-.1 4.1 0-2.1-.1 4.1 0-6.7-.1 4.2-.1-2.1 0 4.2-.1-5.3 0 4.2-.1-2.1-.1 4.3 0-7.8-.1 4.3 0-2.1-.1 4.3 0-5.4-.1 4.3 0-2.2-.1 4.3 0-6.9 0 4.2-.1-2.1 0 4.2-.1-5.2 0 4.2 0-2.1-.1 4.1 0-7.8-.1 4.1 0-2.1-.1 4.1 0-5-.1 3.9 0-1.9-.1 3.8 0-6.1-.1 3.7 0-1.8-.1 3.5-.1-4.3 0 3.4-.1-1.7-.1 3.1 0-5.5-.1 3-.1-1.4-.1 2.7 0-3.3-.1 2.6-.1-1.3-.1 2.2-.1-3.4-.2 2 0-.9-.2 1.7-.1-2-.2 1.5-.1-.7-.2 1.2-.1-2.3-.2 1.1-.1-.5-.3.9-.2-1-.3.8-.3-.4-.2.6-.4-.9-.2.5-.4-.2-.5.4-.4-.5-.5.4-.3-.2-.6.3-.4-.3-2.2.1-6-.1-1.9.1-3.3-.1-2.9.1-5.6 0-3 0-4.2-.1-13.9.1-9.2-.1-.8.1-6.8"/><path d="M247.97 345.89V339.29M247.97 350.35V354.02" stroke="#222" stroke-opacity="0.75" stroke-width="0.6"/><rect x="243.77" y="345.89" width="8.4" height="4.47" fill="none" stroke="#222" stroke-opacity="0.7" stroke-width="0.75"/><path d="M243.77 348.04h8.4" stroke="#111" stroke-opacity="0.8" stroke-width="1.3"/><rect x="155.15" y="192.45" width="99.30" height="169.20" fill="none" stroke="#333" stroke-width="1.07"/><path d="M261.00 334.80H360.30M261.00 296.30H360.30M261.00 257.80H360.30M261.00 219.30H360.30" stroke="#EBEBEB" stroke-width="0.55" fill="none"/><path d="M261.00 354.05H360.30M261.00 315.55H360.30M261.00 277.05H360.30M261.00 238.55H360.30M261.00 200.05H360.30M267.48 192.45V361.65M278.27 192.45V361.65M289.06 192.45V361.65M299.86 192.45V361.65M310.65 192.45V361.65M321.44 192.45V361.65M332.24 192.45V361.65M343.03 192.45V361.65M353.82 192.45V361.65" stroke="#EBEBEB" stroke-width="1.1" fill="none"/><path marker-start="url(#m0)" marker-mid="url(#m0)" marker-end="url(#m0)" d="M267.5 353.8l-1.1-.4 2.2-.2-2.9-.4 2.4-.5-1.3-.5 2.8-.3-4.7-.5 3-.1-1.6-.5 3.2-.4-4.1-.4 3.4-.2-1.8-.5 3.6-.3-6.6-.6 3.7-.3-1.9-.4 3.8-.5-4.8-.2 3.9-.4-2-.4 4-.2-6.4-.4 3.9-.5-2-.4 4-.4-5-.2 4-.5-2-.4 4.1-.3-7.7-.4 4-.3-2-.5 4-.3-5.1-.4 4.1-.3-2-.5 4.1-.3-6.7-.2 4.1-.6-2.1-.4 4.2-.3-5.2-.2 4.2-.4-2.1-.5 4.2-.3-7.7-.3 4.3-.2-2.2-.4 4.3-.4-5.3-.3 4.3-.3-2.2-.4 4.3-.4-7-.2 4.3-.5-2.1-.3 4.3-.3-5.4-.2 4.3-.5-2.2-.3 4.3-.3-8.3-.4 4.2-.5-2.1-.2 4.2-.4-5.2-.2 4.2-.4-2.1-.5 4.1-.3-6.6-.3 4-.5-2-.3 4.1-.3-5.1-.6 4-.3-2-.3 4-.4-7.2-.4 4-.5-2-.4 3.9-.3-4.8-.3 3.8-.5-1.9-.3 3.9-.3-6.3-.5 3.8-.3-1.8-.3 3.7-.4-4.7-.4 3.7-.3-1.8-.3 3.6-.5-6.8-.4 3.5-.4-1.7-.4 3.4-.4-4.1-.6 3.2-.3-1.6-.5 3.1-.4-4.9-.6 3-.5-1.5-.2 2.8-.9-3.4-.3 2.7-.5-1.3-.8 2.4-.4-4.2-.7 2.2-.5-1-1 1.9-.5-2.2-1.1 1.7-.5-.8-1.1 1.4-.5-2.2-1.2 1.2-1.3-.5-1.3.9-2.4-1-.9.7-1.6-.3-2 .6-2.1-1.3-2.3.7-1.4-.3-2.2.6-2-.8-2.2.6-2.2-.3-2.4.6-2.3-.9-1.4.6-2.3-.3-1.9.6-2.6-.8-2.1.6-2.1-.3-1.5.7-1.5-1.3-2.7.7-1-.4-.9.9-3.7-1.2-.7 1-.7-.5-1.7.9-1.6-1.4-.5.8-.2-.3-1.7.3-5.5"/><path d="M267.48 307.70V260.66M267.48 339.42V353.76" stroke="#222" stroke-opacity="0.75" stroke-width="0.6"/><rect x="263.28" y="307.70" width="8.4" height="31.72" fill="none" stroke="#222" stroke-opacity="0.7" stroke-width="0.75"/><path d="M263.28 325.71h8.4" stroke="#111" stroke-opacity="0.8" stroke-width="1.3"/><path marker-start="url(#m1)" marker-mid="url(#m1)" marker-end="url(#m1)" d="M278.3 354l-.4-.1.8-.3-1.1-.1.9-.1-.5-.1 1.1-.2-1.8-.1 1.1-.2-.6-.1 1.2-.1-1.5-.2 1.3-.1-.7-.1 1.4-.2-2.5-.1 1.4-.1-.8-.1 1.5-.2-1.9-.1 1.5-.1-.7-.1 1.6-.1-2.7-.1 1.7-.2-.9-.1 1.8-.1-2.3-.1 1.9-.1-1-.1 2.2-.1-4.2 0 2.2-.1-1.2-.1 2.5-.1-3.2-.1 2.6-.1-1.3 0 2.7-.1-4.6-.1 2.9 0-1.5-.1 3.1 0-3.9-.1 3.2-.1-1.6 0 3.3-.1-6.1 0 3.4-.1-1.8 0 3.6-.1-4.5-.1 3.6 0-1.8 0 3.8-.1-6.2 0 3.8-.1-1.9 0 3.9-.1-4.9 0 3.9 0-2-.1 4.1 0-7.9-.1 4 0-2-.1 4.1 0-5.2 0 4.2-.1-2.1 0 4.2 0-6.9-.1 4.3 0-2.2-.1 4.3 0-5.3-.1 4.2 0-2.1-.1 4.3 0-7.8 0 4.3-.1-2.1-.1 4.2 0-5.3 0 4.3-.1-2.2 0 4.3 0-6.9-.1 4.2 0-2.1 0 4.2-.1-5.2 0 4.1-.1-2 0 4 0-7.6-.1 4 0-2-.1 3.9 0-4.8 0 3.8-.1-1.9 0 3.7-.1-5.9 0 3.6-.1-1.8 0 3.4-.1-4.1 0 3.2-.1-1.6 0 3.1-.1-5.5 0 3-.1-1.4-.1 2.7-.1-3.3 0 2.5-.2-1.2 0 2.3-.1-3.5-.1 2-.1-.9-.1 1.8-.1-2.2-.1 1.6-.1-.8-.1 1.4-.2-2.6-.1 1.3-.1-.5-.3 1-.1-1.2-.3.9-.2-.4-.2.7-.2-1-.4.5-.1-.2-.4.5-.4-.6-.3.4-.4-.2-.4.2-.5-.3-10.8.2 0-.1-3.9.1-4.3-.1-.2.1-2.6 0-13.5 0-1.9-.1-11.9.1-.9 0-23.5 0-10.6"/><path d="M278.27 345.89V340.36M278.27 349.58V353.95" stroke="#222" stroke-opacity="0.75" stroke-width="0.6"/><rect x="274.07" y="345.89" width="8.4" height="3.70" fill="none" stroke="#222" stroke-opacity="0.7" stroke-width="0.75"/><path d="M274.07 347.74h8.4" stroke="#111" stroke-opacity="0.8" stroke-width="1.3"/><path marker-start="url(#m2)" marker-mid="url(#m2)" marker-end="url(#m2)" d="M289.1 354l-1.1 0 2.2 0-2.9 0 2.4-.1-1.2 0 2.4 0-4.1-.1 2.6 0-1.4 0 2.8 0-3.5-.1 2.9 0-1.5 0 3 0-5.5-.1 3.1 0-1.6 0 3.2 0-4.1-.1 3.3 0-1.7 0 3.5 0-5.7-.1 3.5 0-1.8 0 3.7 0-4.6 0 3.7-.1-1.9 0 3.8 0-7.3 0 3.9-.1-2 0 4 0-5 0 4 0-2 0 4.1-.1-6.7 0 4.1 0-2.1 0 4.2 0-5.2-.1 4.2 0-2.1 0 4.2 0-7.7 0 4.3 0-2.2-.1 4.3 0-5.3 0 4.2 0-2.1 0 4.3 0-7 0 4.3-.1-2.1 0 4.2 0-5.3 0 4.3 0-2.2 0 4.3 0-8.4-.1 4.3 0-2.1 0 4.3 0-5.4 0 4.3 0-2.1 0 4.2-.1-6.9 0 4.3 0-2.2 0 4.3 0-5.3-.1 4.2 0-2.1 0 4.2 0-7.6 0 4.2-.1-2.1 0 4.1 0-5.1 0 4.1 0-2-.1 4 0-6.5 0 4 0-2 0 3.9-.1-4.8 0 3.8 0-1.9 0 3.7 0-7.1-.1 3.7 0-1.8 0 3.6-.1-4.4 0 3.5 0-1.7 0 3.4-.1-5.5 0 3.3 0-1.6-.1 3.2 0-3.9 0 3-.1-1.5 0 2.9 0-5.2-.1 2.9 0-1.4 0 2.6-.1-3.1 0 2.4-.1-1.2 0 2.3-.1-3.6 0 2.2-.1-1.1 0 2 0-2.4-.1 1.8-.1-.9 0 1.7-.1-3.2-.1 1.6 0-.7-.1 1.3-.1-1.5-.1 1.1-.1-.5-.1 1-.1-1.5-.1.9-.2-.4-.1.6-.2-.6-.1.4-.2-.2-.1.3-.3-.4-.4.2-2.5-.1-.2.1-.4-.1-.3.1-1.3 0-8.5 0-.1-.1-1.8.1-11.5-.1-1.5.1-.8"/><path d="M289.06 351.43V349.15M289.06 353.13V354.03" stroke="#222" stroke-opacity="0.75" stroke-width="0.6"/><rect x="284.86" y="351.43" width="8.4" height="1.69" fill="none" stroke="#222" stroke-opacity="0.7" stroke-width="0.75"/><path d="M284.86 352.51h8.4" stroke="#111" stroke-opacity="0.8" stroke-width="1.3"/><path marker-start="url(#m3)" marker-mid="url(#m3)" marker-end="url(#m3)" d="M299.9 354l-2 0 3.9 0-4.9 0 3.9 0-1.9 0 3.9 0-6.4 0 3.9 0-1.9 0 3.9 0-4.9 0 3.9 0-1.9 0 3.9 0-7.2 0 4 0-2 0 4 0-5 0 4 0-2 0 4 0-6.5 0 4 0-2 0 4 0-5 0 4 0-2 0 4.1 0-7.8 0 4.1 0-2-.1 4 0-5.1 0 4.1 0-2 0 4.1 0-6.7 0 4.1 0-2.1 0 4.2 0-5.2 0 4.1 0-2 0 4.1 0-7.5 0 4.1 0-2 0 4.1 0-5.2 0 4.2 0-2.1 0 4.2 0-6.8 0 4.2 0-2.1-.1 4.2 0-5.3 0 4.2 0-2.1 0 4.2 0-8.2 0 4.2 0-2.1 0 4.2 0-5.3 0 4.3 0-2.1 0 4.2 0-6.9 0 4.3 0-2.2 0 4.3 0-5.3 0 4.2-.1-2.1 0 4.3 0-7.8 0 4.3 0-2.2 0 4.3 0-5.3 0 4.3 0-2.2 0 4.3 0-7 0 4.3 0-2.1 0 4.3 0-5.4 0 4.3-.1-2.1 0 4.3 0-8.2 0 4.3 0-2.2 0 4.3 0-5.4 0 4.3 0-2.1 0 4.3 0-7 0 4.3 0-2.1-.1 4.2 0-5.3 0 4.2 0-2.1 0 4.2 0-7.6 0 4.2 0-2.1 0 4.2 0-5.2-.1 4.1 0-2 0 4.1 0-6.7 0 4.1 0-2-.1 4 0-5 0 3.9 0-1.9 0 3.8-.1-7.5 0 3.8 0-1.8 0 3.6-.1-4.4 0 3.4 0-1.7 0 3.4-.1-5.3 0 3.2 0-1.6-.1 3.1 0-3.7 0 2.9 0-1.5 0 2.8-.1-4.9 0 2.6 0-1.2 0 2.5 0-3.1-.1 2.4 0-1.2 0 2.3 0-3.7 0 2.3 0-1.1 0 2.2-.1"/><path d="M299.86 353.43V352.70M299.86 353.93V354.05" stroke="#222" stroke-opacity="0.75" stroke-width="0.6"/><rect x="295.66" y="353.43" width="8.4" height="0.49" fill="none" stroke="#222" stroke-opacity="0.7" stroke-width="0.75"/><path d="M295.66 353.74h8.4" stroke="#111" stroke-opacity="0.8" stroke-width="1.3"/><path marker-start="url(#m4)" marker-mid="url(#m4)" marker-end="url(#m4)" d="M310.6 354l-1.9 0 3.9 0-4.9 0 3.9 0-1.9 0 3.9 0-6.4 0 3.9 0-1.9 0 3.9 0-4.9 0 3.9 0-1.9 0 3.9 0-7.2 0 4 0-2 0 4 0-5 0 4 0-2 0 4 0-6.5 0 4 0-2 0 4 0-5 0 4 0-2 0 4.1 0-7.8 0 4.1 0-2.1-.1 4.1 0-5.1 0 4.1 0-2 0 4.1 0-6.7 0 4.1 0-2.1 0 4.2 0-5.2 0 4.1 0-2 0 4.1 0-7.5 0 4.1 0-2 0 4.1 0-5.2 0 4.2 0-2.1 0 4.2 0-6.8 0 4.2 0-2.1-.1 4.2 0-5.3 0 4.2 0-2.1 0 4.3 0-8.3 0 4.2 0-2.1 0 4.2 0-5.3 0 4.3 0-2.2 0 4.3 0-6.9 0 4.3 0-2.2 0 4.3 0-5.4 0 4.3-.1-2.1 0 4.3 0-7.8 0 4.3 0-2.2 0 4.3 0-5.3 0 4.3 0-2.2 0 4.3 0-7 0 4.3 0-2.1 0 4.3 0-5.4 0 4.3-.1-2.2 0 4.3 0-8.1 0 4.3 0-2.2 0 4.3 0-5.4 0 4.3 0-2.1 0 4.2 0-6.9 0 4.3 0-2.1-.1 4.2 0-5.3 0 4.2 0-2.1 0 4.2 0-7.6 0 4.2 0-2.1 0 4.2 0-5.2-.1 4.1 0-2 0 4 0-6.5 0 4 0-2 0 4 0-5 0 4 0-2 0 3.9-.1-7.7 0 3.9 0-2 0 3.9 0-4.8 0 3.8 0-1.9 0 3.8 0-6.1-.1 3.7 0-1.8 0 3.6 0-4.4 0 3.5 0-1.8-.1 3.4 0-5.9 0 3.2-.1-1.6 0 3 0-3.6-.1 2.8 0-1.3-.1 2.4 0-3.8 0 2.3-.1-.5-2.4.1-6.1"/><path d="M310.65 353.43V352.75M310.65 353.93V354.05" stroke="#222" stroke-opacity="0.75" stroke-width="0.6"/><rect x="306.45" y="353.43" width="8.4" height="0.49" fill="none" stroke="#222" stroke-opacity="0.7" stroke-width="0.75"/><path d="M306.45 353.74h8.4" stroke="#111" stroke-opacity="0.8" stroke-width="1.3"/><path marker-start="url(#m5)" marker-mid="url(#m5)" marker-end="url(#m5)" d="M321.4 354l-2 0 4.1 0-5.1 0 4.1 0-2.1 0 4.1 0-6.6 0 4.1 0-2.1 0 4.1 0-5.1 0 4.1 0-2.1 0 4.1 0-7.4 0 4.1 0-2.1 0 4.2 0-5.2 0 4.1 0-2 0 4.1 0-6.7 0 4.1 0-2.1 0 4.2 0-5.2 0 4.2 0-2.1 0 4.2 0-8 0 4.2 0-2.1-.1 4.2 0-5.3 0 4.2 0-2.1 0 4.2 0-6.8 0 4.2 0-2.1 0 4.2 0-5.3 0 4.3 0-2.2 0 4.3 0-7.7 0 4.2 0-2.1 0 4.3 0-5.3 0 4.2 0-2.1 0 4.2 0-6.9 0 4.3 0-2.2 0 4.3-.1-5.3 0 4.2 0-2.1 0 4.3 0-8.4 0 4.3 0-2.1 0 4.3 0-5.4 0 4.3 0-2.2 0 4.3 0-7 0 4.3 0-2.1 0 4.3 0-5.4 0 4.3-.1-2.1 0 4.3 0-7.8 0 4.3 0-2.2 0 4.3 0-5.3 0 4.2 0-2.1 0 4.3 0-7 0 4.3 0-2.1 0 4.2-.1-5.3 0 4.3 0-2.2 0 4.3 0-8.1 0 4.2 0-2.1 0 4.2 0-5.2 0 4.2 0-2.1-.1 4.1 0-6.7 0 4.1 0-2 0 4.1 0-5.1 0 4-.1-2 0 4 0-7.1 0 3.9 0-1.9-.1 3.7 0-4.6 0 3.6 0-1.8 0 3.4-.1-5.3-.1 3.1-.1-1.3-.1 2.3-.1-2.6-.1 1.7-.2-.8-.1 1-.2-1.7-.1.7-.3-.2-.1.4-.3-.4-.2.3-.2-.1-.2.2-.3-.4-.2.3-.2-.1-.3.2-.2-.3-.2.2-.2-.1-.1.2-.6-.3 0 .2-.5-.1 0 .1-.9-.1-.5.1-.8-.1-.5.2-.1-.3-.1.2-.3-.1-.2.1-.9"/><path d="M321.44 353.28V352.41M321.44 353.93V354.05" stroke="#222" stroke-opacity="0.75" stroke-width="0.6"/><rect x="317.24" y="353.28" width="8.4" height="0.65" fill="none" stroke="#222" stroke-opacity="0.7" stroke-width="0.75"/><path d="M317.24 353.74h8.4" stroke="#111" stroke-opacity="0.8" stroke-width="1.3"/><path marker-start="url(#m6)" marker-mid="url(#m6)" marker-end="url(#m6)" d="M332.2 353.6l-.4-1.4 1-1-1.5-1.2 1.3-.8-.7-1.5 1.4-1.1-2.4-1 1.5-.5-.8-1.4 1.6-1-2-1 1.7-1-.9-1 1.7-.7-3.1-1.1 1.7-.7-.8-1.5 1.7-.4-2.2-.9 1.8-1.5-.9-.9 1.9-.8-3.2-.7 2-.5-1-1.3 2.1-.6-2.7-.9 2.2-.4-1.1-.8 2.4-1.1-4.6-.8 2.4-.4-1.3-.7 2.6-.7-3.3-.8 2.7-.4-1.4-.6 2.9-.8-4.8-.6 3-.6-1.6-.6 3.3-.3-4.1-.7 3.3-.5-1.7-.6 3.6-.5-6.6-.4 3.7-.5-1.9-.4 3.8-.3-4.8-.6 3.9-.2-2-.6 4-.3-6.6-.6 4.1-.4-2-.2 4.2-.6-5.3-.4 4.2-.2-2.1-.5 4.3-.4-8.4-.5 4.3-.2-2.1-.5 4.3-.4-5.4-.3 4.3-.3-2.2-.4 4.3-.4-7-.4 4.3-.5-2.1-.5 4.3-.5-5.4-.4 4.3-.2-2.1-.7 4.2-.4-7.7-.4 4.3-.3-2.1-.7 4.2-.3-5.3-.3 4.2-.6-2.1-.2 4.2-.3-6.8-.5 4.2-.4-2.1-.4 4.1-.4-5.1-.5 4.1-.4-2.1-.2 4-.6-7.5-.3 3.9-.6-1.9-.3 3.8-.3-4.7-.6 3.7-.5-1.8-.3 3.6-.4-5.8-.6 3.5-.6-1.7-.5 3.3-.5-4-.3 3.1-.9-1.5-.5 2.9-.3-5.1-.8 2.7-.6-1.2-.8 2.4-.8-2.9-.3 2.2-.8-1-.9 1.9-.7-3-.9 1.7-1.1-.8-1.1 1.4-1.6-1.6-1.6 1.2-.8-.6-1.3 1.1-1.7-2.1-1.2 1-1.6-.5-1.4 1-1.8-1.2-1.7 1-1.9-.5-.8 1-2.5-1.7-1.1 1.1-1.3-.6-1.2 1.2-2-1.5-1.1 1.3-1.7-.7-1.1 1.4-1.9-2.6-.4 1.4-.2-.7-.5 1.4 0-1.7-1.7 1.3-3.2-.5-1.6.9-.4-1.5-1.7.9-2.7-.4-1.2.6-1.9"/><path d="M332.24 284.13V232.54M332.24 319.55V353.59" stroke="#222" stroke-opacity="0.75" stroke-width="0.6"/><rect x="328.04" y="284.13" width="8.4" height="35.42" fill="none" stroke="#222" stroke-opacity="0.7" stroke-width="0.75"/><path d="M328.04 302.61h8.4" stroke="#111" stroke-opacity="0.8" stroke-width="1.3"/><path marker-start="url(#m7)" marker-mid="url(#m7)" marker-end="url(#m7)" d="M343 353.6l-.6-.9 1.3-.9-1.7-.5 1.4-1-.8-.9 1.8-.6-3-1 1.9-.7-1-.5 2-1.1-2.6-.3 2.1-.8-1-.8 2.2-.7-4.1-.9 2.3-.8-1.2-.6 2.3-.9-2.9-.6 2.4-.8-1.2-.4 2.4-.8-4-.4 2.5-.7-1.3-.8 2.7-.7-3.4-.6 2.7-.5-1.3-.8 2.8-.6-5.5-.6 2.9-.6-1.5-.4 3.1-.5-4-.8 3.3-.4-1.7-.5 3.4-.4-5.6-.5 3.5-.8-1.8-.2 3.7-.6-4.7-.4 3.8-.6-1.9-.1 3.9-.6-7.2-.3 4-.6-2-.2 4.1-.5-5.2-.3 4.2-.4-2.1-.4 4.2-.3-6.9-.4 4.3-.3-2.2-.5 4.3-.2-5.4-.3 4.3-.5-2.1-.4 4.3-.4-8.4-.3 4.3-.3-2.1-.5 4.2-.2-5.3-.4 4.2-.5-2-.3 4.1-.5-6.7-.2 4.1-.6-2-.3 4-.6-5-.4 3.9-.4-1.9-.5 3.8-.5-6.8-.4 3.7-.4-1.8-.5 3.6-.5-4.5-.4 3.6-.7-1.8-.5 3.5-.4-5.6-.4 3.4-.4-1.7-.5 3.3-.6-4-.6 3.2-.4-1.6-.6 3.1-.4-5.8-.7 3-.3-1.5-.7 2.9-.5-3.5-.8 2.8-.6-1.4-.6 2.6-.5-4.2-.5 2.6-.6-1.3-.5 2.5-.9-3-.8 2.3-.6-1.1-.8 2.1-.5-3.8-1 2.1-.5-1-.6 1.9-1.2-2.3-.8 1.7-.7-.8-1.3 1.6-.7-2.5-1.2 1.4-1.5-.6-.9 1.2-1.1-1.5-1.6 1.2-1.8-.6-.8 1-1.4-1.9-1.5.9-2.2-.4-1.1.9-2.3-1.1-1.5.9-1.8-.5-1.3.9-1.4-1.5-1.8 1-2.1-.5-1.4 1-1.3-1.4-2 1.2-.7-.6-1.8 1.3-1.5-2.4-.8 1.3-.1-.6 0 1.3-.7-1.6-3.1 1.2-2-.6-.7 1.1-.3-1.7-1.2 1-.4-.4-3.5.5-3.6"/><path d="M343.03 289.22V234.70M343.03 327.56V353.58" stroke="#222" stroke-opacity="0.75" stroke-width="0.6"/><rect x="338.83" y="289.22" width="8.4" height="38.35" fill="none" stroke="#222" stroke-opacity="0.7" stroke-width="0.75"/><path d="M338.83 312.01h8.4" stroke="#111" stroke-opacity="0.8" stroke-width="1.3"/><path marker-start="url(#m8)" marker-mid="url(#m8)" marker-end="url(#m8)" d="M353.8 354l-.6-.1 1.3-.1-1.8-.1 1.5-.1-.8 0 1.7-.1-2.9-.1 1.9-.1-1-.2 2 0-2.6-.1 2.1-.1-1.1-.1 2.4-.1-4.3 0 2.4-.1-1.3-.1 2.6-.1-3.3-.1 2.6 0-1.3-.2 2.7 0-4.4-.1 2.8-.1-1.5 0 3-.1-3.8-.1 3.1-.1-1.6 0 3.2-.1-6.1-.1 3.2 0-1.7-.1 3.5-.1-4.4 0 3.5-.1-1.8-.1 3.7 0-6-.1 3.7 0-1.9-.1 3.9 0-4.9-.1 3.9-.1-2 0 4.1 0-7.4-.1 4.1 0-2.1-.1 4.2 0-5.2-.1 4.2 0-2.1-.1 4.2 0-6.9 0 4.3-.1-2.2 0 4.3-.1-5.4 0 4.3-.1-2.1 0 4.3-.1-8.4 0 4.3 0-2.2-.1 4.3 0-5.3-.1 4.3 0-2.2-.1 4.2 0-6.8-.1 4.2 0-2.1 0 4.2-.1-5.2-.1 4.1 0-2-.1 4 0-7.2-.1 3.9 0-1.9-.1 3.8 0-4.7-.1 3.8-.1-1.9 0 3.6-.1-5.9 0 3.6-.1-1.7-.1 3.5 0-4.3-.1 3.4 0-1.7-.1 3.2 0-6.1-.1 3.2-.1-1.6 0 3.1-.1-3.8-.1 3 0-1.5-.1 2.9 0-4.5-.2 2.7 0-1.3-.1 2.5-.1-3.1-.1 2.4 0-1.2-.1 2.3-.2-4 0 2.2-.1-1-.2 1.9 0-2.4-.2 1.9-.1-.9-.1 1.6-.1-2.6-.2 1.6-.1-.8-.1 1.4-.1-1.7-.1 1.3-.2-.6-.2 1.1-.1-2.1-.3 1-.1-.4-.2.8-.3-.9-.2.7-.3-.3-.3.6-.3-.9-.3.5-.3-.2-.5.4-.3-.5-.5.4-.7-.2-.3.4-.4-.7-.4.3-.2-.1-.8.2-1.7-.1-1.5 0-6.5 0-16 .1-4.7-.2-1.3.1-4.3 0-12.6.1-14.7"/><path d="M353.82 346.35V339.66M353.82 350.97V354.00" stroke="#222" stroke-opacity="0.75" stroke-width="0.6"/><rect x="349.62" y="346.35" width="8.4" height="4.62" fill="none" stroke="#222" stroke-opacity="0.7" stroke-width="0.75"/><path d="M349.62 349.12h8.4" stroke="#111" stroke-opacity="0.8" stroke-width="1.3"/><rect x="261.00" y="192.45" width="99.30" height="169.20" fill="none" stroke="#333" stroke-width="1.07"/><path d="M366.85 334.80H466.15M366.85 296.30H466.15M366.85 257.80H466.15M366.85 219.30H466.15" stroke="#EBEBEB" stroke-width="0.55" fill="none"/><path d="M366.85 354.05H466.15M366.85 315.55H466.15M366.85 277.05H466.15M366.85 238.55H466.15M366.85 200.05H466.15M373.33 192.45V361.65M384.12 192.45V361.65M394.91 192.45V361.65M405.71 192.45V361.65M416.50 192.45V361.65M427.29 192.45V361.65M438.09 192.45V361.65M448.88 192.45V361.65M459.67 192.45V361.65" stroke="#EBEBEB" stroke-width="1.1" fill="none"/><path marker-start="url(#m0)" marker-mid="url(#m0)" marker-end="url(#m0)" d="M373.3 353.6l-.7-.5 1.5-.4-2.1-.7 1.8-.8-1-.3 2.2-1-3.8-.4 2.4-.4-1.2-.6 2.6-.7-3.4-.6 2.8-.7-1.4-.3 2.8-.9-5.2-.4 2.9-.6-1.5-.6 3-.5-3.8-.5 3.1-.6-1.6-.6 3.2-.6-5.1-.2 3.1-.8-1.6-.2 3.3-.7-4.1-.4 3.3-.8-1.7-.3 3.4-.7-6.5-.2 3.4-.7-1.7-.4 3.5-.7-4.5-.3 3.6-.4-1.8-.6 3.7-.5-6.1-.5 3.8-.3-1.9-.6 3.9-.2-4.9-.6 3.9-.3-1.9-.4 4-.6-7.4-.3 4.1-.3-2.1-.4 4.2-.5-5.2-.5 4.2-.3-2.1-.4 4.2-.3-6.9-.5 4.3-.2-2.2-.5 4.3-.4-5.4-.3 4.3-.4-2.1-.4 4.3-.3-8.4-.4 4.3-.5-2.1-.1 4.2-.6-5.3-.4 4.2-.4-2.1-.3 4.2-.4-6.8-.5 4.2-.3-2.1-.4 4.2-.6-5.2-.5 4.1-.3-2-.4 4-.5-7.3-.5 4-.4-2-.3 4-.5-4.9-.5 3.9-.4-1.9-.3 3.8-.5-6.3-.3 3.9-.6-1.9-.3 3.8-.4-4.7-.4 3.7-.6-1.8-.3 3.6-.5-6.9-.5 3.6-.4-1.8-.4 3.5-.5-4.3-.5 3.4-.6-1.6-.2 3.2-.6-5.2-.6 3.2-.5-1.5-.7 2.9-.6-3.6-.5 2.8-.4-1.4-.9 2.6-.5-4.6-.7 2.5-.4-1.2-.9 2.2-.8-2.6-.5 2-.8-.9-1.2 1.7-.5-2.7-.9 1.6-1.5-.7-1.1 1.2-1.4-1.5-1.5 1.2-.8-.6-2 1.1-1.1-2.1-1.9 1-1.6-.5-.6 1-1.7-1.2-2.2 1-1.7-.5-1.5.9-.9-1.5-2.3 1-1.2-.5-1.4.9-2-1.2-1.1 1-1.7-.5-1.6 1.1-1.7-2.2-3 1.3-.2-.7-.3 1.5-1.1-1.9-1.3 1.5-.9-.7-.5 1.3-.9-2.1-.3 1.3-.7-.6-1.2.6-4.9"/><path d="M373.33 297.69V245.17M373.33 332.95V353.55" stroke="#222" stroke-opacity="0.75" stroke-width="0.6"/><rect x="369.13" y="297.69" width="8.4" height="35.27" fill="none" stroke="#222" stroke-opacity="0.7" stroke-width="0.75"/><path d="M369.13 317.40h8.4" stroke="#111" stroke-opacity="0.8" stroke-width="1.3"/><path marker-start="url(#m1)" marker-mid="url(#m1)" marker-end="url(#m1)" d="M384.1 354l-.3-.2.7-.2-1-.2.9-.2-.5-.2 1-.1-1.8-.2 1.2-.1-.6-.2 1.2-.2-1.5-.1 1.2-.3-.6-.1 1.3-.2-2.4-.2 1.3-.1-.7-.2 1.4-.2-1.8 0 1.5-.2-.8-.2 1.6-.1-2.6-.1 1.6-.2-.8-.1 1.8-.1-2.3-.1 1.9-.1-1-.2 2.1-.1-4.2-.1 2.3-.1-1.2-.1 2.5-.1-3.3-.1 2.7-.1-1.4-.1 2.9-.1-4.8-.1 3 0-1.6-.1 3.3-.1-4.2-.1 3.4 0-1.7-.1 3.5 0-6.5-.1 3.7-.1-1.9 0 3.8-.1-4.8 0 3.9-.1-2 0 4-.1-6.5 0 4-.1-2 0 4.1-.1-5.2 0 4.2-.1-2.1 0 4.2-.1-8.3 0 4.3-.1-2.1 0 4.2-.1-5.3 0 4.3-.1-2.2 0 4.3-.1-7 0 4.3-.1-2.1 0 4.3-.1-5.4 0 4.3-.1-2.1 0 4.2-.1-7.7-.1 4.2 0-2-.1 4.1 0-5.1-.1 4.1 0-2.1-.1 4.1 0-6.6-.1 4-.1-1.9 0 3.9-.1-4.9 0 3.9-.1-2 0 3.8-.1-7.1 0 3.7-.1-1.8 0 3.5-.1-4.3-.1 3.4-.1-1.7 0 3.3-.1-5.2 0 3.2-.1-1.6-.1 3 0-3.6-.1 2.8-.1-1.4-.1 2.6-.1-4.6-.1 2.5-.1-1.2-.1 2.3-.1-2.7-.1 2.1-.1-1.1-.1 1.9-.2-3 0 1.8-.1-.8-.2 1.5-.2-1.8-.1 1.4-.2-.7-.1 1.2-.2-2.3-.2 1.1-.1-.4-.3.8-.3-1-.2.8-.3-.3-.3.6-.3-.9-.4.5-.3-.2-.5.4-.4-.5-.5.4-.5-.2-.5.2-.5-.3-1.9.1-9.2 0-3.1.1-4.7-.2-.4.1-3 0-3 .1-15.3-.1-3.4 0-2.8 0-7.2.1-35.4"/><path d="M384.12 343.73V336.70M384.12 348.51V354.02" stroke="#222" stroke-opacity="0.75" stroke-width="0.6"/><rect x="379.92" y="343.73" width="8.4" height="4.77" fill="none" stroke="#222" stroke-opacity="0.7" stroke-width="0.75"/><path d="M379.92 346.35h8.4" stroke="#111" stroke-opacity="0.8" stroke-width="1.3"/><path marker-start="url(#m2)" marker-mid="url(#m2)" marker-end="url(#m2)" d="M394.9 354l-1.1 0 2.3 0-3 0 2.4-.1-1.2 0 2.6 0-4.4-.1 2.8 0-1.5 0 3 0-3.8-.1 3.1 0-1.6 0 3.2 0-5.8-.1 3.2 0-1.7 0 3.4 0-4.3-.1 3.5 0-1.8 0 3.7 0-6 0 3.7-.1-1.9 0 3.8 0-4.8 0 3.9-.1-1.9 0 3.9 0-7.6 0 4-.1-2 0 4.1 0-5.1 0 4.1 0-2.1-.1 4.2 0-6.8 0 4.2 0-2.1 0 4.2 0-5.3-.1 4.2 0-2.1 0 4.3 0-7.8 0 4.3 0-2.1 0 4.3-.1-5.4 0 4.3 0-2.2 0 4.3 0-6.9 0 4.3 0-2.2-.1 4.3 0-5.4 0 4.3 0-2.1 0 4.3 0-8.4 0 4.3-.1-2.2 0 4.3 0-5.3 0 4.2 0-2.1 0 4.2-.1-6.8 0 4.2 0-2.1 0 4.2 0-5.2-.1 4.1 0-2 0 4 0-7.3 0 4-.1-2 0 4 0-4.9 0 3.9-.1-1.9 0 3.7 0-6.1 0 3.8-.1-1.9 0 3.6 0-4.4-.1 3.5 0-1.7-.1 3.3 0-6.3 0 3.3-.1-1.6 0 3.1 0-3.8-.1 3 0-1.5-.1 2.8 0-4.4 0 2.7-.1-1.3 0 2.5-.1-3 0 2.3-.1-1.2 0 2.2-.1-3.8-.1 2 0-.9-.1 1.8 0-2.2-.1 1.7 0-.8-.1 1.6-.1-2.6 0 1.6-.1-.8-.1 1.4 0-1.7-.1 1.3-.1-.6-.1 1.1 0-2.2-.1 1.1-.2-.4-.1.9 0-1.1-.2.8-.1-.4-.1.7-.2-1-.1.6-.2-.3-.1.5-.3-.5-.1.4-.2-.2-.4.2-.5-.4-.1.2-.3-.1-.5.2-.4-.2-1.2.1-.4 0-.9.1-.7-.2 0 .1-1.5 0-6 0-4.6"/><path d="M394.91 350.97V347.94M394.91 353.13V354.03" stroke="#222" stroke-opacity="0.75" stroke-width="0.6"/><rect x="390.71" y="350.97" width="8.4" height="2.16" fill="none" stroke="#222" stroke-opacity="0.7" stroke-width="0.75"/><path d="M390.71 352.51h8.4" stroke="#111" stroke-opacity="0.8" stroke-width="1.3"/><path marker-start="url(#m3)" marker-mid="url(#m3)" marker-end="url(#m3)" d="M405.7 354l-1.9 0 3.9 0-4.9 0 3.9 0-2 0 4 0-6.4 0 3.9 0-2 0 4 0-5 0 4 0-2 0 4 0-7.2 0 4 0-2 0 4 0-5 0 4 0-2 0 4 0-6.6 0 4.1 0-2.1 0 4.1 0-5.1 0 4.1 0-2 0 4 0-7.7 0 4 0-2-.1 4.1 0-5.1 0 4.1 0-2.1 0 4.1 0-6.7 0 4.2 0-2.1 0 4.1 0-5.2 0 4.2 0-2.1 0 4.2 0-7.6 0 4.2 0-2.1 0 4.2 0-5.2 0 4.1 0-2 0 4.2 0-6.9 0 4.2 0-2.1-.1 4.2 0-5.2 0 4.2 0-2.1 0 4.2 0-8.3 0 4.3 0-2.2 0 4.3 0-5.3 0 4.2 0-2.1 0 4.3 0-7 0 4.3 0-2.1 0 4.2 0-5.3 0 4.3-.1-2.2 0 4.3 0-7.8 0 4.3 0-2.1 0 4.3 0-5.4 0 4.3 0-2.1 0 4.3 0-7 0 4.3 0-2.2 0 4.3 0-5.3 0 4.3-.1-2.2 0 4.3 0-8.2 0 4.3 0-2.1 0 4.2 0-5.3 0 4.3 0-2.2 0 4.3 0-6.9 0 4.2 0-2.1-.1 4.2 0-5.2 0 4.2 0-2.1 0 4.2 0-7.6 0 4.2 0-2.1 0 4.1 0-5.1-.1 4.1 0-2.1 0 4.1 0-6.6 0 4.1 0-2.1 0 4.1 0-5.1 0 4 0-2-.1 4 0-7.8 0 3.9 0-1.9 0 3.9 0-4.8 0 3.8 0-1.9 0 3.8 0-6.1-.1 3.7 0-1.8 0 3.6 0-4.5 0 3.5-.1-1.7 0 3.3 0-5.9 0 3.2-.1-1.5 0 2.9-.1-3.5 0 2.8 0-1.3-.1 2.3 0-3.7-.1 2.2 0-.5-.8.2-.5"/><path d="M405.71 353.43V352.73M405.71 353.93V354.05" stroke="#222" stroke-opacity="0.75" stroke-width="0.6"/><rect x="401.51" y="353.43" width="8.4" height="0.49" fill="none" stroke="#222" stroke-opacity="0.7" stroke-width="0.75"/><path d="M401.51 353.74h8.4" stroke="#111" stroke-opacity="0.8" stroke-width="1.3"/><path marker-start="url(#m4)" marker-mid="url(#m4)" marker-end="url(#m4)" d="M416.5 354l-1.9 0 3.9 0-4.9 0 3.9 0-2 0 3.9 0-6.3 0 3.9 0-2 0 4 0-5 0 4 0-2 0 4 0-7.2 0 3.9 0-1.9 0 3.9 0-5 0 4.1 0-2.1 0 4.1 0-6.6 0 4.1 0-2.1 0 4.1 0-5.1 0 4.1 0-2.1 0 4.1 0-7.7 0 4-.1-2 0 4.1 0-5.1 0 4.1 0-2.1 0 4.1 0-6.7 0 4.1 0-2 0 4.1 0-5.2 0 4.2 0-2.1 0 4.2 0-7.6 0 4.2 0-2.1 0 4.2 0-5.2 0 4.1 0-2.1 0 4.2 0-6.8 0 4.2 0-2.1-.1 4.2 0-5.2 0 4.2 0-2.1 0 4.2 0-8.3 0 4.3 0-2.2 0 4.3 0-5.3 0 4.2 0-2.1 0 4.3 0-7 0 4.3 0-2.1 0 4.2 0-5.3 0 4.3-.1-2.2 0 4.3 0-7.8 0 4.3 0-2.1 0 4.3 0-5.4 0 4.3 0-2.1 0 4.3 0-7 0 4.3 0-2.2 0 4.3 0-5.3 0 4.2-.1-2.1 0 4.3 0-8.2 0 4.3 0-2.1 0 4.2 0-5.3 0 4.3 0-2.2 0 4.3 0-6.9 0 4.2 0-2.1-.1 4.2 0-5.2 0 4.2 0-2.1 0 4.2 0-7.6 0 4.2 0-2.1 0 4.1 0-5.1-.1 4.1 0-2.1 0 4.1 0-6.6 0 4 0-2 0 4 0-5 0 4 0-2-.1 4 0-7.8 0 3.9 0-1.9 0 3.9 0-4.8 0 3.8 0-1.9 0 3.7 0-6-.1 3.7 0-1.8 0 3.6 0-4.5 0 3.5-.1-1.7 0 3.3 0-5.9 0 3.2-.1-1.5 0 3-.1-3.6 0 2.8 0-1.4-.1 2.4 0-3.7-.1 2.1-.3-.7 0 .5-1"/><path d="M416.50 353.43V352.74M416.50 353.93V354.05" stroke="#222" stroke-opacity="0.75" stroke-width="0.6"/><rect x="412.30" y="353.43" width="8.4" height="0.49" fill="none" stroke="#222" stroke-opacity="0.7" stroke-width="0.75"/><path d="M412.30 353.74h8.4" stroke="#111" stroke-opacity="0.8" stroke-width="1.3"/><path marker-start="url(#m5)" marker-mid="url(#m5)" marker-end="url(#m5)" d="M427.3 354l-2 0 4 0-5 0 4 0-2 0 4 0-6.6 0 4.1 0-2 0 4 0-5.1 0 4.1 0-2 0 4.1 0-7.5 0 4.2 0-2.1 0 4.1 0-5.1 0 4.1 0-2.1 0 4.2 0-6.8 0 4.2 0-2.1 0 4.2 0-5.2 0 4.1 0-2.1 0 4.2 0-8 0 4.2-.1-2.1 0 4.2 0-5.2 0 4.2 0-2.1 0 4.2 0-6.9 0 4.3 0-2.2 0 4.3 0-5.3 0 4.2 0-2.1 0 4.2 0-7.7 0 4.3 0-2.1 0 4.2 0-5.3 0 4.3 0-2.2 0 4.3 0-6.9 0 4.2 0-2.1 0 4.3-.1-5.4 0 4.3 0-2.1 0 4.2 0-8.3 0 4.3 0-2.2 0 4.3 0-5.4 0 4.3 0-2.1 0 4.3 0-7 0 4.3 0-2.2 0 4.3 0-5.3 0 4.3 0-2.2-.1 4.3 0-7.8 0 4.3 0-2.1 0 4.3 0-5.4 0 4.3 0-2.1 0 4.2 0-6.9 0 4.3 0-2.2 0 4.3 0-5.3-.1 4.2 0-2.1 0 4.2 0-8 0 4.2 0-2.1 0 4.2 0-5.2 0 4.1 0-2-.1 4.1 0-6.7 0 4.1 0-2 0 4 0-5 0 4-.1-2 0 3.9 0-7 0 3.8 0-1.9-.1 3.8 0-4.7 0 3.7 0-1.8-.1 3.3 0-5.2-.1 3-.1-1.3-.1 2.2-.2-2.4-.1 1.6-.1-.7-.2.8-.2-1.4-.1.6-.3-.2-.1.4-.2-.4-.3.3-.2-.2-.3.3-.2-.4-.2.2-.4-.1-.1.2-.3-.2-.4.2-.4-.1-.2.1-.3-.2-.6.1-.3-.1-.2.2-.6-.2-.3.1-.4 0-.2.1-.9-.2 0 .1-.9 0-.4 0-.2"/><path d="M427.29 353.28V352.33M427.29 353.93V354.05" stroke="#222" stroke-opacity="0.75" stroke-width="0.6"/><rect x="423.09" y="353.28" width="8.4" height="0.65" fill="none" stroke="#222" stroke-opacity="0.7" stroke-width="0.75"/><path d="M423.09 353.74h8.4" stroke="#111" stroke-opacity="0.8" stroke-width="1.3"/><path marker-start="url(#m6)" marker-mid="url(#m6)" marker-end="url(#m6)" d="M438.1 353.5l-.5-1.5 1-.9-1.4-1.7 1.2-1-.6-1 1.3-1-2.2-1 1.4-1.8-.8-.7 1.5-1-1.9-1.3 1.6-1-.8-1 1.5-1.2-2.8-1.2 1.6-1.3-.8-.7 1.6-.9-2.1-1 1.7-1.1-.8-1.1 1.7-1-2.9-.8 1.8-.9-.9-1.3 1.9-.5-2.5-1.1 2.1-.8-1.1-.9 2.3-.6-4.4-.7 2.4-.9-1.3-.8 2.6-.5-3.4-1.1 2.8-.4-1.4-.6 3-.9-5-.4 3.1-.5-1.6-.7 3.3-.4-4.3-.7 3.5-.4-1.8-.6 3.8-.4-6.9-.6 3.8-.4-1.9-.4 3.9-.3-4.9-.4 4-.5-2.1-.5 4.2-.5-6.8-.2 4.2-.4-2.1-.3 4.3-.6-5.4-.2 4.3-.4-2.1-.4 4.3-.4-8.4-.3 4.3-.6-2.2-.2 4.3-.4-5.3-.4 4.2-.5-2.1-.3 4.2-.4-6.8-.6 4.2-.4-2.1-.5 4.1-.4-5.1-.5 4-.2-1.9-.5 3.8-.6-7-.5 3.9-.7-1.9-.1 3.7-.7-4.6-.4 3.7-.7-1.8-.4 3.6-.4-5.8-.7 3.5-.3-1.7-.6 3.4-.5-4.3-.5 3.4-.6-1.7-.5 3.3-.3-6.2-.8 3.2-.4-1.6-.6 3.2-.4-3.9-.7 3.1-.4-1.5-.5 2.9-.8-4.7-.7 2.9-.4-1.4-.8 2.7-.3-3.4-1 2.7-.5-1.3-.8 2.5-.6-4.4-.9 2.3-.5-1.1-.5 2.2-.8-2.7-.8 2.1-1.1-1-.5 1.9-.9-3-1.2 1.8-.9-.8-1.1 1.5-1.5-1.9-.8 1.5-1.1-.7-1.1 1.3-1.5-2.6-1.3 1.3-1.1-.6-1.6 1.2-1.5-1.5-1.5 1.2-1-.6-1.3 1.3-1.1-2.2-1.7 1.4-1-.7-1.7 1.4-1.4-1.9-.5 1.6-1.9-.8-.8 1.7-1-3.1-.4 1.7-.1-.8-.3 1.6-.6-1.9-4.1 1.4-.5-.7-.2 1.4-.4-2.1-1.1 1.2 0-.5-2.4.6-3.8"/><path d="M438.09 277.05V231.77M438.09 316.32V353.53" stroke="#222" stroke-opacity="0.75" stroke-width="0.6"/><rect x="433.89" y="277.05" width="8.4" height="39.27" fill="none" stroke="#222" stroke-opacity="0.7" stroke-width="0.75"/><path d="M433.89 299.38h8.4" stroke="#111" stroke-opacity="0.8" stroke-width="1.3"/><path marker-start="url(#m7)" marker-mid="url(#m7)" marker-end="url(#m7)" d="M448.9 353.9l-.8-.8 1.6-.7-2.2-.5 1.9-.4-1-.5 2.2-.8-3.8-.5 2.4-.7-1.3-.3 2.6-.9-3.3-.4 2.7-.6-1.4-.6 2.9-.7-5.2-.3 2.9-.7-1.5-.6 2.9-.3-3.7-.5 3-.6-1.5-.5 3.1-.7-5-.4 3.1-.8-1.6-.3 3.2-.4-4-.7 3.2-.6-1.6-.3 3.3-.5-6.4-.5 3.4-.5-1.7-.5 3.4-.3-4.3-.7 3.5-.4-1.8-.6 3.6-.4-5.9-.2 3.7-.7-1.9-.2 3.8-.6-4.8-.4 3.9-.4-2-.5 4-.3-7.2-.3 4-.4-2.1-.6 4.1-.3-5.1-.5 4.1-.2-2.1-.5 4.2-.4-6.8-.2 4.2-.5-2.1-.4 4.2-.3-5.3-.4 4.3-.4-2.2-.2 4.3-.5-8.3-.3 4.2-.4-2.1-.3 4.3-.6-5.4-.2 4.3-.6-2.1-.2 4.3-.6-7-.1 4.3-.4-2.2-.4 4.3-.4-5.3-.4 4.3-.5-2.2-.4 4.3-.6-7.8-.3 4.3-.3-2.1-.4 4.3-.4-5.4-.5 4.3-.1-2.2-.5 4.3-.3-6.9-.5 4.2-.2-2.1-.3 4.3-.4-5.3-.4 4.2-.5-2.1-.3 4.1-.2-7.8-.6 4.1-.1-2-.5 3.9-.4-4.8-.3 3.8-.6-1.9-.3 3.7-.4-5.8-.6 3.5-.4-1.7-.4 3.3-.4-4-.8 3.1-.2-1.5-.8 2.8-.4-5-.6 2.7-.8-1.3-.5 2.4-.6-2.8-.9 2.1-.3-1-1.1 1.8-.7-2.7-1.4 1.5-.8-.7-.8 1.3-1.8-1.5-1 1.1-2-.5-1.2.9-1.5-1.9-.9 1-2-.5-1.7.9-1.9-1.1-.8.9-2.4-.4-1.6.8-1.4-1.4-2.2.9-1.1-.5-1.9 1-2-1.3-1.1 1.2-1.8-.7-1.2 1.5-1.4-2.7-.9 1.5 0-.8-.2 1.5-1.2-1.8-1.5 1.4-.1-.7-1 1.2-1.1-1.7-1.6.9-3.6-.3-2.1.4-2.8"/><path d="M448.88 301.07V255.83M448.88 333.41V353.85" stroke="#222" stroke-opacity="0.75" stroke-width="0.6"/><rect x="444.68" y="301.07" width="8.4" height="32.34" fill="none" stroke="#222" stroke-opacity="0.7" stroke-width="0.75"/><path d="M444.68 318.17h8.4" stroke="#111" stroke-opacity="0.8" stroke-width="1.3"/><path marker-start="url(#m8)" marker-mid="url(#m8)" marker-end="url(#m8)" d="M459.7 354l-.5-.1 1-.1-1.3-.1 1.1-.2-.6 0 1.3-.2-2.3 0 1.5-.2-.8-.1 1.6-.1-2.1-.1 1.7-.1-.8-.1 1.7-.1-3.2-.1 1.8-.1-.9-.1 1.8-.1-2.3-.1 1.9-.1-1-.1 2-.1-3.3-.1 2.1 0-1.1-.2 2.1-.1-2.7-.1 2.2 0-1.1-.1 2.3-.1-4.4-.1 2.3-.1-1.1-.1 2.3 0-3-.1 2.5-.1-1.3-.1 2.6 0-4.2-.1 2.6 0-1.3-.1 2.6-.1-3.4-.1 2.8 0-1.4-.1 2.9-.1-5.3-.1 2.9 0-1.4-.1 3 0-3.8-.1 3-.1-1.5 0 3.2-.1-5.3-.1 3.3 0-1.7-.1 3.4 0-4.2-.1 3.4-.1-1.7 0 3.5-.1-7 0 3.6-.1-1.8 0 3.7-.1-4.7 0 3.8-.1-1.9-.1 3.9 0-6.4-.1 3.9 0-2-.1 4.1 0-5.1 0 4.1-.1-2.1-.1 4.2 0-7.6 0 4.2-.1-2.1 0 4.2-.1-5.3 0 4.3-.1-2.2 0 4.3 0-7-.1 4.3 0-2.1 0 4.3-.1-5.4 0 4.3 0-2.1-.1 4.2 0-8 0 4.2-.1-2.1 0 4.1 0-5.1-.1 4.1 0-2 0 3.9-.1-6.4 0 3.9-.1-1.9 0 3.8-.1-4.6 0 3.6-.1-1.8 0 3.4-.1-6.1 0 3.3-.1-1.5-.1 3 0-3.7-.1 2.9-.1-1.4 0 2.5-.1-3.9-.1 2.3-.1-1.1-.1 1.9-.1-2.2-.2 1.6-.1-.7-.2 1.2-.1-2.3-.3 1.1-.1-.5-.2.9-.3-1-.2.7-.2-.3-.4.6-.2-.9-.4.5-.2-.2-.4.5-.3-.6-.3.4-.4-.2-.5.4-.4-.7-.1.4-.6-.1-.5.1-2.8-.1-1.1.1-1.1 0-4.3.1-.7-.2-3.3.1-.1 0-3.5 0-7.8"/><path d="M459.67 346.35V340.44M459.67 350.35V353.97" stroke="#222" stroke-opacity="0.75" stroke-width="0.6"/><rect x="455.47" y="346.35" width="8.4" height="4.00" fill="none" stroke="#222" stroke-opacity="0.7" stroke-width="0.75"/><path d="M455.47 348.04h8.4" stroke="#111" stroke-opacity="0.8" stroke-width="1.3"/><rect x="366.85" y="192.45" width="99.30" height="169.20" fill="none" stroke="#333" stroke-width="1.07"/><path d="M472.70 334.80H572.00M472.70 296.30H572.00M472.70 257.80H572.00M472.70 219.30H572.00" stroke="#EBEBEB" stroke-width="0.55" fill="none"/><path d="M472.70 354.05H572.00M472.70 315.55H572.00M472.70 277.05H572.00M472.70 238.55H572.00M472.70 200.05H572.00M479.18 192.45V361.65M489.97 192.45V361.65M500.76 192.45V361.65M511.56 192.45V361.65M522.35 192.45V361.65M533.14 192.45V361.65M543.94 192.45V361.65M554.73 192.45V361.65M565.52 192.45V361.65" stroke="#EBEBEB" stroke-width="1.1" fill="none"/><path marker-start="url(#m0)" marker-mid="url(#m0)" marker-end="url(#m0)" d="M479.2 353.7l-.7-.6 1.4-.8-2-1 1.7-.4-.9-.6 2.1-1.1-3.5-.4 2.2-1-1.2-.6 2.4-.4-3.1-.7 2.5-.9-1.2-.8 2.5-.4-4.7-.7 2.6-1-1.3-.4 2.7-.9-3.4-.3 2.7-1.1-1.3-.2 2.7-.7-4.5-.6 2.8-.9-1.4-.8 2.8-.2-3.5-.8 2.8-.8-1.4-.3 2.9-.7-5.6-.7 3-.6-1.5-.8 3-.5-3.8-.7 3-.2-1.5-.7 3.1-.7-5.1-.6 3.2-.6-1.6-.4 3.2-.4-4.1-.7 3.3-.4-1.6-.5 3.4-.9-6.2-.3 3.4-.5-1.7-.6 3.4-.5-4.3-.7 3.5-.2-1.8-.6 3.6-.4-5.8-.7 3.6-.3-1.8-.7 3.6-.4-4.6-.5 3.7-.5-1.8-.3 3.7-.7-7.3-.4 3.7-.7-1.8-.3 3.7-.4-4.7-.7 3.8-.3-1.9-.6 3.8-.5-6.3-.5 3.9-.4-1.9-.6 3.9-.3-5-.5 4.1-.6-2.1-.6 4.1-.1-7.4-.7 4.1-.6-2.1-.3 4.2-.5-5.3-.2 4.3-.6-2.2-.4 4.3-.3-6.9-.5 4.2-.3-2.1-.3 4.3-.4-5.4-.4 4.3-.4-2.1-.3 4.2-.5-8-.2 4.2-.7-2.1-.4 4.1-.4-5-.4 3.9-.3-1.9-.4 3.8-.5-6.1-.4 3.7-.4-1.8-.8 3.5-.5-4.3-.4 3.3-.4-1.6-.7 3-.8-5.3-.5 2.9-.5-1.3-.9 2.4-.8-2.9-.4 2.3-.7-1.1-.8 1.9-1.1-2.9-1.2 1.6-1.1-.7-1.3 1.3-1.4-1.5-1.6 1.1-1.3-.5-1.8.9-2.4-1.8-1 .9-2.5-.4-1.2.8-3-1-1.2.8-2-.4-2.5.8-1.2-1.4-1.5.9-2.2-.4-2.3.8-2-1.1-1.9.9-1.1-.4-2.4 1-1.9-1.9-.9 1-1.6-.5-1.1 1.1-2-1.4-1.6 1.1-1.7-.5-.6 1-1.9-1.6-2.1.9-.5-.3-1.8.6-2.1"/><path d="M479.18 290.60V235.27M479.18 328.64V353.69" stroke="#222" stroke-opacity="0.75" stroke-width="0.6"/><rect x="474.98" y="290.60" width="8.4" height="38.04" fill="none" stroke="#222" stroke-opacity="0.7" stroke-width="0.75"/><path d="M474.98 309.08h8.4" stroke="#111" stroke-opacity="0.8" stroke-width="1.3"/><path marker-start="url(#m1)" marker-mid="url(#m1)" marker-end="url(#m1)" d="M490 353.9l-.4-.2.8-.2-1.2-.2 1-.2-.5-.3 1.1-.1-1.9-.3 1.2-.2-.6-.2 1.3-.2-1.7-.3 1.4-.1-.7-.2 1.4-.2-2.6-.1 1.5-.2-.8-.3 1.5-.1-1.9-.2 1.6-.1-.8-.2 1.6-.2-2.7-.2 1.7-.1-.9-.2 1.8-.1-2.3-.2 2-.1-1.1-.2 2.2-.1-4.3-.2 2.3-.1-1.2-.1 2.6-.1-3.4-.2 2.8-.1-1.5-.1 3.1-.1-5.2-.1 3.3 0-1.7-.1 3.5-.1-4.5-.1 3.7-.1-1.9 0 3.8-.1-7-.1 3.9-.1-2 0 4.1-.1-5.1 0 4.1-.1-2.1-.1 4.2 0-6.9-.1 4.3 0-2.1-.1 4.3 0-5.4-.1 4.3-.1-2.2 0 4.3-.1-8.3 0 4.2-.1-2.1 0 4.2-.1-5.2-.1 4.2 0-2.1-.1 4.1-.1-6.6 0 4-.1-2 0 4-.1-4.9-.1 3.8-.1-1.8-.1 3.6-.1-6.5-.1 3.5 0-1.7-.1 3.4-.2-4.1 0 3.2-.1-1.6-.1 3.1-.1-4.9-.1 3-.1-1.5 0 2.9-.2-3.6-.1 2.8-.1-1.4-.1 2.7 0-5-.2 2.6-.1-1.2-.1 2.4-.1-3-.1 2.3-.2-1.1-.1 2.2-.1-3.5-.1 2.1-.2-1-.1 1.9-.2-2.3-.2 1.8-.1-.9-.1 1.7-.2-2.9-.2 1.5-.1-.7-.2 1.5-.2-1.8-.2 1.4-.2-.7-.1 1.3-.3-2.1-.3 1.3-.1-.6-.3 1.1-.1-1.4-.3 1.1-.2-.5-.2.9-.3-1.8-.4.9-.3-.4-.3.7-.3-.8-.4.6-.6-.3-.3.5-.4-.7-.7.4-.7-.2-.6.4-.6-.4-.6.3-.9-.2-1.1.4-.4-.6-.3.3-4.1-.1-22.3.1-4.3-.1-1.2.1-26-.1-1.7.2-.3-.2-2.7.1-24.8-.1-14.1.1-13.8"/><path d="M489.97 340.04V329.22M489.97 347.43V353.88" stroke="#222" stroke-opacity="0.75" stroke-width="0.6"/><rect x="485.77" y="340.04" width="8.4" height="7.39" fill="none" stroke="#222" stroke-opacity="0.7" stroke-width="0.75"/><path d="M485.77 344.81h8.4" stroke="#111" stroke-opacity="0.8" stroke-width="1.3"/><path marker-start="url(#m2)" marker-mid="url(#m2)" marker-end="url(#m2)" d="M500.8 354l-1.1 0 2.1 0-2.7-.1 2.2 0-1.1 0 2.4-.1-4.1 0 2.6 0-1.3-.1 2.7 0-3.5 0 2.8-.1-1.4 0 3.1 0-5.7-.1 3.2 0-1.7 0 3.3-.1-4.2 0 3.4 0-1.7-.1 3.5 0-5.8 0 3.6 0-1.8-.1 3.8 0-4.8 0 3.8-.1-1.9 0 3.9 0-7.5-.1 4 0-2 0 4-.1-5.1 0 4.1 0-2-.1 4.1 0-6.8 0 4.2 0-2.1-.1 4.2 0-5.3 0 4.3 0-2.1-.1 4.2 0-7.7 0 4.3-.1-2.2 0 4.3 0-5.4 0 4.3-.1-2.1 0 4.3 0-7 0 4.3-.1-2.1 0 4.2 0-5.3 0 4.3-.1-2.2 0 4.3 0-8.3 0 4.2-.1-2.1 0 4.2 0-5.2-.1 4.2 0-2.1 0 4.1 0-6.6-.1 4 0-2 0 4-.1-4.9 0 3.9 0-2-.1 3.9 0-7 0 3.9-.1-1.9 0 3.7 0-4.6-.1 3.6 0-1.7 0 3.5-.1-5.7 0 3.5 0-1.7-.1 3.3 0-4.1-.1 3.2 0-1.6 0 3.2-.1-6 0 3.1-.1-1.5 0 2.9-.1-3.5 0 2.8-.1-1.4 0 2.7 0-4.3-.1 2.6-.1-1.3 0 2.5-.1-3 0 2.3-.1-1.1 0 2.1-.1-3.8-.1 2.1 0-1-.1 1.9-.1-2.3 0 1.8-.2-.9 0 1.6-.1-2.5-.1 1.5-.1-.7 0 1.3-.1-1.6-.2 1.2 0-.6-.1 1.1-.2-2-.1 1-.2-.5-.1.9-.1-1-.2.7-.2-.3-.1.6-.3-.9-.1.5-.3-.2-.2.4-.3-.5-.2.4-.3-.2-.4.2-.3-.2-1.7.1-2-.1-.4.1 0-.1-1.8.1-1.9-.1-.5.2-.4-.2-3.9.1-1.3-.1-4.5.1-2.3"/><path d="M500.76 349.89V345.76M500.76 352.82V354.04" stroke="#222" stroke-opacity="0.75" stroke-width="0.6"/><rect x="496.56" y="349.89" width="8.4" height="2.93" fill="none" stroke="#222" stroke-opacity="0.7" stroke-width="0.75"/><path d="M496.56 351.74h8.4" stroke="#111" stroke-opacity="0.8" stroke-width="1.3"/><path marker-start="url(#m3)" marker-mid="url(#m3)" marker-end="url(#m3)" d="M511.6 354l-2 0 3.9 0-4.9 0 3.9 0-1.9 0 3.9 0-6.4 0 3.9 0-1.9 0 3.9 0-4.9 0 3.9 0-1.9 0 3.9 0-7.2 0 4 0-2 0 4 0-5 0 4 0-2 0 4 0-6.5 0 4 0-2 0 4 0-5 0 4 0-2 0 4.1 0-7.8 0 4.1 0-2.1-.1 4.1 0-5.1 0 4.1 0-2 0 4.1 0-6.7 0 4.1 0-2.1 0 4.2 0-5.2 0 4.1 0-2 0 4.1 0-7.5 0 4.1 0-2 0 4.1 0-5.2 0 4.2 0-2.1 0 4.2 0-6.8 0 4.2 0-2.1-.1 4.2 0-5.3 0 4.2 0-2.1 0 4.3 0-8.3 0 4.2 0-2.1 0 4.3 0-5.4 0 4.3 0-2.1 0 4.2 0-6.9 0 4.3 0-2.2 0 4.3 0-5.4 0 4.3-.1-2.1 0 4.3 0-7.8 0 4.3 0-2.2 0 4.3 0-5.3 0 4.3 0-2.2 0 4.3 0-7 0 4.3 0-2.1 0 4.3 0-5.4 0 4.3-.1-2.1 0 4.2 0-8.1 0 4.3 0-2.2 0 4.3 0-5.3 0 4.2 0-2.1 0 4.3 0-7 0 4.3 0-2.1-.1 4.2 0-5.3 0 4.2 0-2.1 0 4.2 0-7.6 0 4.2 0-2.1 0 4.2 0-5.2-.1 4.1 0-2 0 4.1 0-6.6 0 4 0-2 0 4 0-5 0 4 0-2 0 3.9-.1-7.7 0 3.9 0-2 0 3.9 0-4.8 0 3.8 0-1.9 0 3.8 0-6.1-.1 3.7 0-1.8 0 3.6 0-4.4 0 3.5-.1-1.7 0 3.3 0-6 0 3.3-.1-1.6 0 3 0-3.6-.1 2.8 0-1.3-.1 2.4 0-3.7-.1 2.2 0-.9-.3.5-1.4"/><path d="M511.56 353.43V352.73M511.56 353.93V354.05" stroke="#222" stroke-opacity="0.75" stroke-width="0.6"/><rect x="507.36" y="353.43" width="8.4" height="0.49" fill="none" stroke="#222" stroke-opacity="0.7" stroke-width="0.75"/><path d="M507.36 353.74h8.4" stroke="#111" stroke-opacity="0.8" stroke-width="1.3"/><path marker-start="url(#m4)" marker-mid="url(#m4)" marker-end="url(#m4)" d="M522.4 354l-2 0 3.9 0-4.9 0 3.9 0-1.9 0 3.9 0-6.4 0 3.9 0-1.9 0 3.9 0-4.9 0 3.9 0-1.9 0 3.9 0-7.2 0 4 0-2 0 4 0-5 0 4 0-2 0 4 0-6.5 0 4 0-2 0 4 0-5 0 4 0-2 0 4.1 0-7.8 0 4.1-.1-2.1 0 4.1 0-5.1 0 4.1 0-2 0 4.1 0-6.7 0 4.1 0-2.1 0 4.2 0-5.2 0 4.1 0-2 0 4.1 0-7.5 0 4.1 0-2 0 4.1 0-5.2 0 4.2 0-2.1 0 4.2 0-6.8 0 4.2 0-2.1-.1 4.2 0-5.3 0 4.2 0-2.1 0 4.3 0-8.3 0 4.2 0-2.1 0 4.2 0-5.3 0 4.3 0-2.2 0 4.3 0-6.9 0 4.3 0-2.2 0 4.3 0-5.4 0 4.3-.1-2.1 0 4.3 0-7.8 0 4.3 0-2.2 0 4.3 0-5.3 0 4.3 0-2.2 0 4.3 0-7 0 4.3 0-2.1 0 4.3 0-5.4 0 4.3-.1-2.2 0 4.3 0-8.1 0 4.3 0-2.2 0 4.3 0-5.4 0 4.3 0-2.1 0 4.2 0-6.9 0 4.3 0-2.1-.1 4.2 0-5.3 0 4.2 0-2.1 0 4.2 0-7.6 0 4.2 0-2.1 0 4.2 0-5.2-.1 4.1 0-2 0 4 0-6.5 0 4 0-2 0 4 0-5 0 4 0-2 0 3.9-.1-7.7 0 3.9 0-2 0 3.9 0-4.8 0 3.8 0-1.9 0 3.8 0-6.1 0 3.7-.1-1.8 0 3.6 0-4.4 0 3.5 0-1.7-.1 3.3 0-6 0 3.3-.1-1.6 0 3 0-3.5-.1 2.7 0-1.3-.1 2.4 0-3.7-.1 2.2 0-.5-7.7.1-10.2"/><path d="M522.35 353.43V352.72M522.35 353.93V354.05" stroke="#222" stroke-opacity="0.75" stroke-width="0.6"/><rect x="518.15" y="353.43" width="8.4" height="0.49" fill="none" stroke="#222" stroke-opacity="0.7" stroke-width="0.75"/><path d="M518.15 353.74h8.4" stroke="#111" stroke-opacity="0.8" stroke-width="1.3"/><path marker-start="url(#m5)" marker-mid="url(#m5)" marker-end="url(#m5)" d="M533.1 354l-2 0 4.1 0-5.1 0 4.1 0-2.1 0 4.1 0-6.6 0 4.1 0-2.1 0 4.1 0-5.1 0 4.1 0-2.1 0 4.1 0-7.4 0 4.1 0-2.1 0 4.2 0-5.2 0 4.1 0-2 0 4.1 0-6.7 0 4.1 0-2.1 0 4.2 0-5.2 0 4.2 0-2.1 0 4.2 0-8 0 4.2-.1-2.1 0 4.2 0-5.3 0 4.2 0-2.1 0 4.2 0-6.8 0 4.2 0-2.1 0 4.2 0-5.3 0 4.3 0-2.2 0 4.3 0-7.7 0 4.2 0-2.1 0 4.3 0-5.4 0 4.3 0-2.1 0 4.2 0-6.9 0 4.3 0-2.2 0 4.3-.1-5.3 0 4.3 0-2.2 0 4.3 0-8.4 0 4.3 0-2.1 0 4.3 0-5.4 0 4.3 0-2.2 0 4.3 0-7 0 4.3 0-2.1 0 4.3 0-5.4 0 4.3-.1-2.1 0 4.3 0-7.8 0 4.3 0-2.2 0 4.3 0-5.3 0 4.2 0-2.1 0 4.3 0-7 0 4.3 0-2.1 0 4.2 0-5.3-.1 4.3 0-2.2 0 4.3 0-8.1 0 4.2 0-2.1 0 4.2 0-5.2 0 4.2 0-2.1-.1 4.1 0-6.7 0 4.1 0-2 0 4.1 0-5.1 0 4-.1-2 0 3.9 0-7 0 3.9 0-1.9-.1 3.7 0-4.6 0 3.6 0-1.7-.1 3.3 0-5.2-.1 3-.1-1.3-.1 2-.2-2.1-.2 1.2-.2-.5-.2.6-.2-1-.2.4-.3-.1-.2.3-.3-.3-.3.2-.3-.1-.3.2-.3-.3-.2.2-.3-.1-.4.2-.3-.3-.4.2-.2-.1 0 .2-.5-.3-.1.2-.5-.1 0 .1-.6-.1-1.1.1-.9-.1-.1.1-.9-.1-.5.1-.2-.1-.8.1-.6"/><path d="M533.14 353.28V352.48M533.14 353.93V354.05" stroke="#222" stroke-opacity="0.75" stroke-width="0.6"/><rect x="528.94" y="353.28" width="8.4" height="0.65" fill="none" stroke="#222" stroke-opacity="0.7" stroke-width="0.75"/><path d="M528.94 353.74h8.4" stroke="#111" stroke-opacity="0.8" stroke-width="1.3"/><path marker-start="url(#m6)" marker-mid="url(#m6)" marker-end="url(#m6)" d="M543.9 353.4l-.5-.3 1.2-1.3-1.6-.3 1.3-.8-.7-.8 1.5-.9-2.6-.7 1.7-.6-.9-1 1.8-.7-2.3-.8 1.8-.5-.9-.7 1.9-1.1-3.4-.3 1.9-1.1-1-.7 2-.4-2.6-1 2.1-.6-1-.3 2-.9-3.4-.8 2.1-.3-1-.8 2.2-.8-2.8-.5 2.2-.4-1.1-.8 2.4-.7-4.6-.6 2.4-.5-1.3-.5 2.6-.6-3.3-.4 2.7-.5-1.4-.6 2.8-.3-4.6-.7 2.9-.6-1.5-.4 3-.6-3.8-.5 3.1-.2-1.6-.5 3.2-.6-5.8-.3 3.2-.5-1.6-.3 3.3-.6-4.2-.3 3.4-.4-1.7-.5 3.5-.4-5.7-.2 3.5-.7-1.8-.3 3.6-.4-4.5-.4 3.7-.4-1.9-.3 3.7-.5-7.2-.2 3.7-.5-1.9-.2 3.8-.4-4.8-.4 3.9-.5-2-.3 3.9-.5-6.3-.2 3.9-.6-2-.1 4-.4-5-.6 4-.3-2-.5 4.1-.3-7.5-.2 4.2-.4-2.1-.5 4.2-.3-5.3-.2 4.2-.4-2.1-.4 4.3-.3-7-.4 4.3-.2-2.1-.4 4.3-.2-5.4-.2 4.3-.4-2.2-.2 4.3-.3-8.1-.3 4.2-.4-2-.4 4.1-.1-5.1-.3 4-.3-2-.5 3.8-.5-6-.2 3.7-.4-1.8-.4 3.5-.3-4.3-.5 3.3-.4-1.6-.5 2.9-.5-5.2-.5 2.8-.6-1.2-.6 2.4-.6-2.9-.4 2.2-.6-1-1 1.8-.4-2.7-1.3 1.5-.6-.7-1.7 1.1-1.5-1.3-.7 1-2.1-.5-1.2.8-1.2-1.5-2.2.7-1.5-.3-1.2.7-2.2-.9-.9.7-2.4-.3-1.4.7-1.9-1.2-1.9.7-1.1-.4-1.6.9-1.8-1.1-1.6.9-1.6-.5-2 1.3-1-2.4-.4 1.3-.2-.6-.6 1.3 0-1.7-2.6 1.3-2.1-.6-.8 1.1-.3-1.7-.1 1-.5-.5 0 .4-9"/><path d="M543.94 297.69V251.96M543.94 328.18V353.42" stroke="#222" stroke-opacity="0.75" stroke-width="0.6"/><rect x="539.74" y="297.69" width="8.4" height="30.49" fill="none" stroke="#222" stroke-opacity="0.7" stroke-width="0.75"/><path d="M539.74 312.32h8.4" stroke="#111" stroke-opacity="0.8" stroke-width="1.3"/><path marker-start="url(#m7)" marker-mid="url(#m7)" marker-end="url(#m7)" d="M554.7 353.6l-.6-.3 1.3-.7-1.9-.8 1.7-.7-.9-.4 1.9-.8-3.3-.7 2.1-.6-1.1-.4 2.3-.9-3-.4 2.4-.7-1.2-.5 2.6-.7-4.7-.4 2.6-.7-1.3-.6 2.7-.6-3.5-.6 2.8-.3-1.4-.6 2.8-.6-4.6-.4 2.9-.6-1.5-.7 3-.6-3.8-.4 3.1-.5-1.6-.4 3.2-.7-6.1-.4 3.2-.5-1.6-.5 3.3-.4-4.3-.5 3.5-.6-1.8-.2 3.7-.7-6-.4 3.7-.3-1.9-.4 3.9-.6-4.9-.4 4-.3-2-.5 4-.3-7.4-.2 4.1-.5-2.1-.4 4.2-.2-5.2-.4 4.2-.3-2.1-.4 4.2-.3-6.9-.3 4.3-.3-2.2-.4 4.3-.4-5.4-.3 4.3-.3-2.1-.3 4.3-.3-8.4-.3 4.3-.3-2.1-.3 4.2-.6-5.2-.3 4.1-.3-2-.5 4-.4-6.5-.2 4-.4-2-.5 3.9-.3-4.8-.5 3.8-.6-1.9-.2 3.7-.5-6.6-.5 3.6-.4-1.7-.6 3.4-.3-4.2-.6 3.3-.6-1.6-.4 3.2-.5-5.2-.3 3.2-.6-1.6-.3 3.1-.5-3.8-.7 3-.4-1.5-.7 2.8-.2-5.3-.8 2.8-.7-1.4-.3 2.6-.7-3.2-.4 2.6-.7-1.3-.7 2.4-.6-3.7-.8 2.2-.4-1.1-.7 2.1-.7-2.5-1 1.9-.7-.9-1 1.8-.5-3.2-.7 1.7-1.3-.8-.9 1.5-.9-1.8-.7 1.4-.7-.6-1.7 1.1-.8-1.8-1.3 1.1-1.4-.5-2.2.8-1.5-1-1.1.8-2.1-.4-2.6.7-2.3-1.3-1.4.6-2.4-.3-1.4.6-3.4-.7-2 .6-2.1-.3-1.6.6-2-1-2.3.6-2.1-.3-2.1.7-2.8-1-2.5.9-1.6-.5-1.5 1-2.4-1.8-.4 1-.1-.5-.9 1-1-1.2-1.5.8-3.9-.3-.3.5-4.1-.8-3.4.5-2.6-.2-1 .4-2.7"/><path d="M554.73 294.30V239.76M554.73 332.49V353.62" stroke="#222" stroke-opacity="0.75" stroke-width="0.6"/><rect x="550.53" y="294.30" width="8.4" height="38.19" fill="none" stroke="#222" stroke-opacity="0.7" stroke-width="0.75"/><path d="M550.53 318.17h8.4" stroke="#111" stroke-opacity="0.8" stroke-width="1.3"/><path marker-start="url(#m8)" marker-mid="url(#m8)" marker-end="url(#m8)" d="M565.5 354l-1.1 0 2.3-.1-3 0 2.5-.1-1.4 0 2.8-.1-4.6 0 2.9-.1-1.5 0 3.2-.1-4.2 0 3.4-.1-1.7 0 3.5-.1-6.5 0 3.7-.1-1.9 0 3.8-.1-4.8 0 3.9-.1-2 0 4-.1-6.6-.1 4.1 0-2.1 0 4.2-.1-5.2 0 4.2-.1-2.1-.1 4.2 0-8.1-.1 4.3 0-2.2-.1 4.3 0-5.4-.1 4.3 0-2.1-.1 4.3 0-7-.1 4.3 0-2.2-.1 4.3-.1-5.3 0 4.3-.1-2.2 0 4.3 0-7.7-.1 4.2-.1-2.1 0 4.2 0-5.2-.1 4.2 0-2.1-.1 4.1-.1-6.7 0 4.1-.1-2 0 4-.1-5 0 4-.1-2 0 4-.1-7.8 0 4-.1-2-.1 3.9 0-4.8-.1 3.8 0-1.9-.1 3.8-.1-6 0 3.6-.1-1.8 0 3.6-.1-4.4-.1 3.5 0-1.8-.1 3.5-.1-6.2 0 3.4-.1-1.7-.1 3.3-.1-4 0 3.2-.1-1.6 0 3.1-.1-5-.1 3-.1-1.5 0 3-.1-3.6-.1 2.8-.1-1.4 0 2.7-.1-5.1-.1 2.6-.1-1.2 0 2.5-.2-3.1 0 2.4-.1-1.2-.1 2.3-.1-3.6-.1 2.2-.1-1.1-.1 2.1-.1-2.5-.2 1.9 0-.9-.1 1.8-.2-3.2-.1 1.7-.2-.8-.1 1.6-.1-1.9-.1 1.4-.2-.7-.1 1.3-.2-2-.2 1.2-.1-.6-.2 1.1-.2-1.3-.2 1-.1-.5-.3.8-.2-1.5-.3.7-.3-.3-.3.6-.3-.7-.3.6-.3-.3-.5.5-.3-.8-.4.5-.5-.2-.4.4-.4-.5-.6.4-.4-.2-.6.3-.6-.5-.7.2-1.2 0-3 .1-.2-.1-7.9.1-1.4-.1-1.4.2-.7-.3-.7.1-2.6 0-2.1.1-5.5"/><path d="M565.52 346.35V338.03M565.52 352.05V354.03" stroke="#222" stroke-opacity="0.75" stroke-width="0.6"/><rect x="561.32" y="346.35" width="8.4" height="5.70" fill="none" stroke="#222" stroke-opacity="0.7" stroke-width="0.75"/><path d="M561.32 349.89h8.4" stroke="#111" stroke-opacity="0.8" stroke-width="1.3"/><rect x="472.70" y="192.45" width="99.30" height="169.20" fill="none" stroke="#333" stroke-width="1.07"/><path d="M578.55 334.80H677.85M578.55 296.30H677.85M578.55 257.80H677.85M578.55 219.30H677.85" stroke="#EBEBEB" stroke-width="0.55" fill="none"/><path d="M578.55 354.05H677.85M578.55 315.55H677.85M578.55 277.05H677.85M578.55 238.55H677.85M578.55 200.05H677.85M585.03 192.45V361.65M595.82 192.45V361.65M606.61 192.45V361.65M617.41 192.45V361.65M628.20 192.45V361.65M638.99 192.45V361.65M649.79 192.45V361.65M660.58 192.45V361.65M671.37 192.45V361.65" stroke="#EBEBEB" stroke-width="1.1" fill="none"/><path marker-start="url(#m0)" marker-mid="url(#m0)" marker-end="url(#m0)" d="M585 353.4l-.9-.7 1.9-.5-2.7-1.2 2.3-.4-1.2-1.1 2.6-.4-4.4-.8 2.8-1.1-1.5-.4 3.1-.9-4-.7 3.2-1.1-1.6-.3 3.3-.8-6-1 3.3-.9-1.7-.4 3.5-1-4.3-.6 3.4-1-1.7-.6 3.4-.6-5.6-.9 3.5-.9-1.8-.5 3.5-.9-4.4-.8 3.6-.6-1.8-.8 3.6-.5-6.8-1.1 3.5-.3-1.8-.9 3.6-.9-4.5-.5 3.6-.7-1.8-1 3.7-.6-5.9-.6 3.6-.9-1.8-.8 3.6-.5-4.6-1 3.7-.3-1.8-.9 3.7-.8-6.7-.8 3.7-.4-1.9-.8 3.8-.9-4.7-.4 3.7-.6-1.9-1 3.8-.6-6.1-.7 3.8-.8-1.9-.7 3.8-.6-4.8-.7 3.8-.5-1.9-.6 3.9-1.1-7.6-.5 3.9-.7-2-.5 3.9-.8-4.8-.6 3.9-.7-2-.6 3.9-1-6.4-.7 4-.5-2-.9 4-.3-5-.8 4-.7-2-.7 4.1-.9-7.5-.4 4.2-.5-2.1-.9 4.2-.6-5.3-.5 4.2-.8-2.1-.4 4.3-.6-7-.8 4.3-.4-2.2-.7 4.3-.5-5.3-.6 4.3-.7-2.2-.6 4.3-.2-8.1-.8 4.2-.4-2.1-1 4.2-.3-5.1-.8 4-.5-2-.6 4-.8-6.4-.5 3.9-.7-1.9-.9 3.7-.7-4.6-.6 3.6-.8-1.7-.8 3.3-.4-6-.7 3.3-1.1-1.6-.9 3-1-3.6-.4 2.8-1-1.3-1.2 2.5-1.1-4-1 2.4-.8-1.2-1.2 2.1-2-2.5-1.1 2-.9-1-1.9 1.8-.9-3.5-1.5 1.7-1.9-.8-1.3 1.6-1.5-2-2 1.6-1.2-.8-1.8 1.7-1.5-2.8-1.1 1.8-1.7-1-1.7 2-1.4-2.6-1.4 2.2-1.9-1.2-1.2 2.5-1-4.4-.6 2.4-.6-1.2 0 2.4-.9-3-.1 2.4-.9-1.2-.4 2-2.2-3-1.5 1.8-.1-.7-3.6.6-4.9"/><path d="M585.03 272.28V220.22M585.03 324.79V353.38" stroke="#222" stroke-opacity="0.75" stroke-width="0.6"/><rect x="580.83" y="272.28" width="8.4" height="52.51" fill="none" stroke="#222" stroke-opacity="0.7" stroke-width="0.75"/><path d="M580.83 297.99h8.4" stroke="#111" stroke-opacity="0.8" stroke-width="1.3"/><path marker-start="url(#m1)" marker-mid="url(#m1)" marker-end="url(#m1)" d="M595.8 354l-.3-.1.7-.3-1.1-.1 1-.2-.5-.1 1.1-.2-1.9-.1 1.2-.2-.7-.1 1.3-.2-1.6-.1 1.3-.2-.7-.1 1.4-.2-2.5-.1 1.4-.2-.7-.1 1.5-.1-2-.2 1.6-.1-.8-.1 1.7-.1-2.8-.1 1.8-.1-1-.2 1.9-.1-2.4-.1 2-.1-1-.1 2.1-.1-4.1-.2 2.2-.1-1.2 0 2.4-.1-3.1-.1 2.5-.1-1.3-.1 2.8 0-4.6-.1 2.9-.1-1.5-.1 3-.1-3.8 0 3.1-.1-1.6 0 3.3-.1-6-.1 3.3-.1-1.7 0 3.5-.1-4.4 0 3.6-.1-1.9 0 3.8-.1-6.1 0 3.8-.1-2 0 3.9-.1-4.9 0 4-.1-2 0 4-.1-7.9 0 4.1-.1-2.1 0 4.2-.1-5.2 0 4.1-.1-2.1 0 4.3-.1-6.9 0 4.2-.1-2.1 0 4.3-.1-5.4 0 4.3-.1-2.2 0 4.3-.1-7.7 0 4.3-.1-2.2 0 4.3-.1-5.4-.1 4.3 0-2.1 0 4.2-.1-6.8 0 4.2-.1-2.1 0 4.1-.1-5.1 0 4.1 0-2.1-.1 4.1 0-7.7-.1 4 0-2 0 3.9-.1-4.8 0 3.8-.1-1.8 0 3.6-.1-5.9 0 3.6-.1-1.7-.1 3.4 0-4.2-.1 3.3 0-1.6-.1 3-.1-5.4-.1 2.9-.1-1.3-.1 2.6 0-3.2-.1 2.5-.1-1.2-.1 2.2-.1-3.4-.1 2-.1-1-.1 1.8-.2-2.1-.1 1.5-.1-.7-.1 1.2-.3-2.3-.1 1.1-.1-.5-.3 1-.3-1.1-.2.8-.2-.3-.3.6-.3-1-.2.6-.3-.2-.6.4-.3-.5-.5.4-.5-.2-.4.3-.5-.5-.6.2-1.7 0-16.3.1-.9-.1-1.9 0-3.3 0-6 .1-13.1-.1-12.4 0-19.2 0-1.1.1-10.9"/><path d="M595.82 344.81V338.37M595.82 349.12V353.99" stroke="#222" stroke-opacity="0.75" stroke-width="0.6"/><rect x="591.62" y="344.81" width="8.4" height="4.31" fill="none" stroke="#222" stroke-opacity="0.7" stroke-width="0.75"/><path d="M591.62 346.97h8.4" stroke="#111" stroke-opacity="0.8" stroke-width="1.3"/><path marker-start="url(#m2)" marker-mid="url(#m2)" marker-end="url(#m2)" d="M606.6 354l-1.3 0 2.7 0-3.5-.1 2.8 0-1.4 0 3-.1-5.1 0 3.2 0-1.6-.1 3.3 0-4.3 0 3.5-.1-1.7 0 3.6-.1-6.7 0 3.8 0-2-.1 3.9 0-4.9-.1 4 0-2.1 0 4.2-.1-6.8 0 4.2-.1-2.1 0 4.2 0-5.3-.1 4.3 0-2.2-.1 4.3 0-8.2-.1 4.3 0-2.1 0 4.3-.1-5.4 0 4.3-.1-2.1 0 4.2-.1-6.8 0 4.2-.1-2.1 0 4.1-.1-5.1 0 4.1-.1-2.1 0 4.1-.1-7.3 0 4-.1-2-.1 4 0-5-.1 4 0-2-.1 3.9 0-6.3-.1 3.9-.1-2 0 3.9 0-4.8-.1 3.8-.1-1.9-.1 3.8 0-7.5-.1 3.9 0-2-.1 3.9-.1-4.9 0 4-.1-2 0 4-.1-6.6 0 4.1-.1-2.1 0 4.2-.1-5.2 0 4.1-.1-2 0 4.2-.1-7.7-.1 4.2 0-2.1 0 4.3-.1-5.4 0 4.3-.1-2.1 0 4.3 0-7-.1 4.3 0-2.2 0 4.3-.1-5.3 0 4.2-.1-2.1 0 4.2 0-8-.1 4.2 0-2.1 0 4.2-.1-5.1 0 4-.1-2 0 3.9-.1-6.3 0 3.9 0-1.9-.1 3.7 0-4.6-.1 3.6-.1-1.8 0 3.4-.1-6-.1 3.3 0-1.6-.1 3 0-3.6-.1 2.8-.1-1.3-.1 2.4-.1-3.8-.1 2.2 0-1-.2 1.9-.1-2.3-.1 1.7-.1-.8-.2 1.4-.1-2.6-.2 1.2-.2-.5-.2 1-.2-1.1-.2.8-.3-.4-.2.7-.3-1-.2.6-.5-.3-.4.5-.3-.5-.4.3-.3-.1-.6.1-16.8-.2-5 .1-7.8 0-4.7.1-.8-.2-.6.2-.6-.1-1.6.1-2.3-.1-14.4 0-3.7 0-3.5.1-4.8"/><path d="M606.61 348.51V342.87M606.61 352.51V354.03" stroke="#222" stroke-opacity="0.75" stroke-width="0.6"/><rect x="602.41" y="348.51" width="8.4" height="4.00" fill="none" stroke="#222" stroke-opacity="0.7" stroke-width="0.75"/><path d="M602.41 350.35h8.4" stroke="#111" stroke-opacity="0.8" stroke-width="1.3"/><path marker-start="url(#m3)" marker-mid="url(#m3)" marker-end="url(#m3)" d="M617.4 354l-1.9 0 3.9 0-4.9 0 3.9 0-2 0 3.9 0-6.3 0 3.9 0-2 0 4 0-5 0 4 0-2 0 4 0-7.2 0 4 0-2 0 3.9 0-4.9 0 4 0-2 0 4 0-6.6 0 4.1 0-2.1 0 4.1 0-5.1 0 4.1 0-2 0 4 0-7.7 0 4-.1-2 0 4.1 0-5.1 0 4.1 0-2.1 0 4.1 0-6.7 0 4.1 0-2 0 4.1 0-5.1 0 4.1 0-2.1 0 4.2 0-7.6 0 4.2 0-2.1 0 4.2 0-5.2 0 4.1 0-2 0 4.1 0-6.8 0 4.2 0-2.1-.1 4.2 0-5.2 0 4.2 0-2.1 0 4.2 0-8.3 0 4.3 0-2.1 0 4.2 0-5.3 0 4.2 0-2.1 0 4.3 0-7 0 4.3 0-2.1 0 4.2 0-5.3 0 4.3-.1-2.2 0 4.3 0-7.7 0 4.2 0-2.1 0 4.3 0-5.4 0 4.3 0-2.1 0 4.3 0-7 0 4.3 0-2.2 0 4.3 0-5.3 0 4.3-.1-2.2 0 4.3 0-8.2 0 4.3 0-2.1 0 4.2 0-5.3 0 4.3 0-2.2 0 4.3 0-6.9 0 4.2 0-2.1-.1 4.3 0-5.3 0 4.2 0-2.1 0 4.2 0-7.6 0 4.2 0-2.1 0 4.1 0-5.1-.1 4.1 0-2.1 0 4.1 0-6.6 0 4.1 0-2.1 0 4 0-4.9-.1 3.9 0-2 0 3.9 0-7.6 0 3.8 0-1.9 0 3.8-.1-4.7 0 3.8 0-1.9 0 3.6 0-5.8-.1 3.6 0-1.8 0 3.4 0-4.1 0 3.2-.1-1.6 0 3.1 0-5.5 0 3-.1-1.4 0 2.8 0-3.4-.1 2.6 0-1.2 0 2.3-.1-3.7 0 2.2 0-1 0 1.8-.2"/><path d="M617.41 353.43V352.71M617.41 353.93V354.05" stroke="#222" stroke-opacity="0.75" stroke-width="0.6"/><rect x="613.21" y="353.43" width="8.4" height="0.49" fill="none" stroke="#222" stroke-opacity="0.7" stroke-width="0.75"/><path d="M613.21 353.74h8.4" stroke="#111" stroke-opacity="0.8" stroke-width="1.3"/><path marker-start="url(#m4)" marker-mid="url(#m4)" marker-end="url(#m4)" d="M628.2 354l-1.9 0 3.9 0-4.9 0 3.9 0-2 0 3.9 0-6.3 0 3.9 0-2 0 4 0-5 0 4 0-2 0 4 0-7.2 0 3.9 0-1.9 0 3.9 0-5 0 4.1 0-2.1 0 4.1 0-6.6 0 4.1 0-2.1 0 4.1 0-5.1 0 4.1 0-2.1 0 4.1 0-7.7 0 4 0-2-.1 4.1 0-5.1 0 4.1 0-2.1 0 4.1 0-6.7 0 4.1 0-2 0 4.1 0-5.2 0 4.2 0-2.1 0 4.2 0-7.6 0 4.2 0-2.1 0 4.2 0-5.2 0 4.1 0-2.1 0 4.2 0-6.8 0 4.2 0-2.1-.1 4.2 0-5.2 0 4.2 0-2.1 0 4.2 0-8.3 0 4.3 0-2.2 0 4.3 0-5.3 0 4.2 0-2.1 0 4.3 0-7 0 4.3 0-2.1 0 4.2 0-5.3 0 4.3-.1-2.2 0 4.3 0-7.8 0 4.3 0-2.1 0 4.3 0-5.4 0 4.3 0-2.1 0 4.3 0-7 0 4.3 0-2.2 0 4.3 0-5.3 0 4.2-.1-2.1 0 4.3 0-8.2 0 4.3 0-2.1 0 4.2 0-5.3 0 4.3 0-2.2 0 4.3 0-6.9 0 4.2 0-2.1-.1 4.2 0-5.2 0 4.2 0-2.1 0 4.2 0-7.6 0 4.2 0-2.1 0 4.1 0-5.1-.1 4.1 0-2.1 0 4.1 0-6.6 0 4 0-2 0 4 0-5 0 4 0-2 0 4-.1-7.8 0 3.9 0-1.9 0 3.9 0-4.9 0 3.9 0-1.9 0 3.8 0-6.1-.1 3.7 0-1.8 0 3.6 0-4.5 0 3.5-.1-1.7 0 3.3 0-5.9 0 3.2-.1-1.5 0 3 0-3.6-.1 2.8 0-1.4-.1 2.5 0-3.8-.1 2.2 0-.6-.6.2-4.2"/><path d="M628.20 353.43V352.73M628.20 353.93V354.05" stroke="#222" stroke-opacity="0.75" stroke-width="0.6"/><rect x="624.00" y="353.43" width="8.4" height="0.49" fill="none" stroke="#222" stroke-opacity="0.7" stroke-width="0.75"/><path d="M624.00 353.74h8.4" stroke="#111" stroke-opacity="0.8" stroke-width="1.3"/><path marker-start="url(#m5)" marker-mid="url(#m5)" marker-end="url(#m5)" d="M639 354l-2 0 4 0-5.1 0 4.1 0-2 0 4.1 0-6.7 0 4.1 0-2 0 4.1 0-5.2 0 4.1 0-2 0 4.1 0-7.5 0 4.2 0-2.1 0 4.1 0-5.2 0 4.2 0-2.1 0 4.2 0-6.8 0 4.2 0-2.1 0 4.2 0-5.3 0 4.2 0-2.1 0 4.2 0-8 0 4.2 0-2.1-.1 4.2 0-5.2 0 4.2 0-2.1 0 4.2 0-6.9 0 4.3 0-2.2 0 4.3 0-5.3 0 4.2 0-2.1 0 4.2 0-7.7 0 4.3 0-2.1 0 4.2 0-5.3 0 4.3 0-2.2 0 4.3 0-6.9 0 4.2 0-2.1 0 4.3-.1-5.4 0 4.3 0-2.1 0 4.3 0-8.4 0 4.3 0-2.2 0 4.3 0-5.4 0 4.3 0-2.1 0 4.3 0-7 0 4.3 0-2.2 0 4.3 0-5.3 0 4.3-.1-2.2 0 4.3 0-7.8 0 4.3 0-2.1 0 4.3 0-5.4 0 4.3 0-2.1 0 4.2 0-6.9 0 4.3 0-2.2 0 4.3 0-5.3-.1 4.2 0-2.1 0 4.2 0-8 0 4.2 0-2.1 0 4.2 0-5.2 0 4.1 0-2-.1 4.1 0-6.7 0 4.1 0-2 0 4 0-5 0 4-.1-2 0 3.9 0-7 0 3.8 0-1.9-.1 3.7 0-4.5 0 3.6 0-1.8-.1 3.1-.1-4.6-.1 2.5-.2-.9-.2 1.2-.2-1.2-.2.6-.3-.2-.4.2-.5-.4-.2.2-.6-.1-.2.2-.5-.2-.3.1-.6 0-.6.1-.2-.2-.7.1-.3 0-.6.1-.6-.2-.5.1-.8 0-.8.1-.1-.2-.6.1-.3-.1-.3.2-.4-.2-.5.1-.6 0-.3.1-.3-.2-.5.1-.7 0-1.1 0-3.3"/><path d="M638.99 353.28V352.42M638.99 353.93V354.05" stroke="#222" stroke-opacity="0.75" stroke-width="0.6"/><rect x="634.79" y="353.28" width="8.4" height="0.65" fill="none" stroke="#222" stroke-opacity="0.7" stroke-width="0.75"/><path d="M634.79 353.74h8.4" stroke="#111" stroke-opacity="0.8" stroke-width="1.3"/><path marker-start="url(#m6)" marker-mid="url(#m6)" marker-end="url(#m6)" d="M649.8 354l-.9-.4 1.8-.2-2.4-.3 2-.2-1.1-.2 2.3-.3-3.8-.2 2.4-.3-1.3-.2 2.7-.3-3.5-.3 2.9-.2-1.5-.2 3.1-.4-5.6-.1 3.1-.4-1.6-.2 3.3-.3-4.2-.1 3.4-.2-1.8-.4 3.5-.1-5.7-.3 3.6-.1-1.8-.4 3.6-.1-4.6-.2 3.7-.3-1.8-.2 3.8-.3-7.4-.3 3.9-.1-2-.3 4-.1-5-.3 4-.1-2-.3 4.1-.3-6.7-.2 4.1-.1-2-.3 4.1-.1-5.2-.3 4.2-.1-2.1-.2 4.3-.2-7.8-.2 4.3-.2-2.2-.1 4.3-.2-5.3-.2 4.3-.2-2.2-.1 4.3-.2-7-.2 4.3-.1-2.1-.2 4.2-.1-5.3-.2 4.3-.3-2.1-.1 4.1-.2-8.1-.2 4.2-.2-2.1-.2 4-.2-4.9-.2 3.9-.2-1.9-.1 3.8-.2-6.2-.2 3.8-.3-1.8-.3 3.6-.2-4.5-.2 3.5-.3-1.7-.3 3.3-.1-5.9-.4 3.2-.3-1.5-.2 3-.4-3.7-.1 2.9-.3-1.4-.3 2.8-.3-4.4-.3 2.6-.4-1.3-.3 2.5-.3-3-.4 2.3-.4-1.1-.3 2.2-.3-4.2-.5 2.2-.2-1-.5 2-.4-2.5-.3 1.9-.4-.9-.7 1.8-.4-2.8-.3 1.7-.3-.8-.8 1.5-.3-1.9-.7 1.5-.2-.7-.9 1.4-.5-2.5-.5 1.3-.3-.6-1 1.2-.6-1.4-.4 1.1-.7-.6-.7 1-.5-1.5-1.3.9-1-.4-.6.7-1.5-.8-.8.6-1.3-.3-2.1.5-.5-1-2.3.5-.6-.3-1.7.5-1.6-.6-1.1.5-2-.2-1.2.4-2.1-.7-1.4.4-1.2-.2-1.7.5-1.5-.7-1.2.7-1.4-.4-1.3 1-1.6-1.9 0 1.1-.2-.6-.7 1.1 0-1.4-.2 1.1-1.5-.5-.4 1 0-1.6-.2.9-2.1-.2-7.5.2-1.5"/><path d="M649.79 321.40V286.84M649.79 344.81V353.97" stroke="#222" stroke-opacity="0.75" stroke-width="0.6"/><rect x="645.59" y="321.40" width="8.4" height="23.41" fill="none" stroke="#222" stroke-opacity="0.7" stroke-width="0.75"/><path d="M645.59 337.26h8.4" stroke="#111" stroke-opacity="0.8" stroke-width="1.3"/><path marker-start="url(#m7)" marker-mid="url(#m7)" marker-end="url(#m7)" d="M660.6 353.7l-.8-.8 1.6-.7-2.1-.4 1.8-.9-1-.9 2.1-.6-3.6-.7 2.3-.5-1.2-.6 2.5-.8-3.3-.9 2.7-.6-1.4-.4 2.9-1-5.2-.3 2.9-.9-1.5-.4 3-.7-3.8-.6 3-.8-1.5-.5 3.1-.6-5.1-.6 3.2-.6-1.6-.7 3.2-.4-4.1-.9 3.3-.5-1.6-.6 3.3-.3-6.4-.8 3.4-.4-1.8-.6 3.6-.5-4.5-.9 3.6-.4-1.8-.5 3.7-.7-6.1-.5 3.8-.3-2-.7 4-.4-5-.4 4-.5-2-.4 4.1-.7-7.5-.2 4.2-.5-2.1-.6 4.2-.5-5.3-.2 4.2-.4-2.1-.4 4.3-.5-7-.5 4.3-.2-2.1-.7 4.3-.2-5.4-.6 4.3-.4-2.2-.2 4.3-.7-8.3-.2 4.2-.6-2.1-.4 4.2-.3-5.2-.5 4.2-.5-2.1-.6 4.1-.5-6.6-.3 4-.6-1.9-.4 3.9-.4-4.9-.4 3.9-.6-1.9-.5 3.7-.6-6.7-.7 3.7-.6-1.8-.4 3.5-.7-4.3-.4 3.4-.5-1.7-.6 3.3-.5-5.3-.9 3.2-.4-1.6-.6 3.2-.5-3.9-.8 3.1-.5-1.6-.7 3-.6-5.6-.7 2.9-.4-1.4-1 2.8-.6-3.4-.7 2.7-.6-1.4-.8 2.6-.4-4.1-1 2.5-.5-1.2-.8 2.4-1-3-.7 2.3-.8-1.1-.8 2.1-1.2-3.8-.7 2.1-.8-1-.6 1.9-1-2.3-.9 1.8-1-.9-1.2 1.6-1.5-2.5-.8 1.5-1.4-.7-1.9 1.3-1-1.5-1.2 1.1-1.9-.5-1.4 1.1-1.4-2.2-2.3 1.1-1-.5-1.6 1-2.6-1.3-1.9 1-.7-.5-2.3 1-1.2-1.6-1.8 1-2.3-.5-1.6 1.1-2.1-1.4-1.1 1.2-2.3-.7-.9 1.3-1.4-2.3-.5 1.3-.1-.7-2.2 1.3-1.9-1.5-1.4 1.1-.7-.5 0 .9-4.2-1.4-1.4.8-2.5-.3-1.3.5-2"/><path d="M660.58 285.21V226.23M660.58 329.72V353.66" stroke="#222" stroke-opacity="0.75" stroke-width="0.6"/><rect x="656.38" y="285.21" width="8.4" height="44.51" fill="none" stroke="#222" stroke-opacity="0.7" stroke-width="0.75"/><path d="M656.38 312.01h8.4" stroke="#111" stroke-opacity="0.8" stroke-width="1.3"/><path marker-start="url(#m8)" marker-mid="url(#m8)" marker-end="url(#m8)" d="M671.4 354l-1.2 0 2.4 0-3.1-.1 2.5 0-1.3 0 2.8-.1-4.6 0 2.8 0-1.4 0 3-.1-3.9 0 3.2 0-1.6-.1 3.3 0-6.1 0 3.4-.1-1.8 0 3.6 0-4.5 0 3.6-.1-1.8 0 3.8 0-6.3-.1 3.9 0-2-.1 4 0-5 0 4 0-2-.1 4.2 0-8-.1 4.2 0-2.1 0 4.2 0-5.3-.1 4.3 0-2.2 0 4.3-.1-6.9 0 4.2 0-2.1-.1 4.3 0-5.4 0 4.3-.1-2.1 0 4.3 0-7.8-.1 4.3 0-2.2 0 4.3 0-5.3-.1 4.2 0-2.1 0 4.2-.1-6.8 0 4.2 0-2.1-.1 4.1 0-5.1 0 4-.1-2 0 4 0-7.7-.1 3.9 0-1.9 0 3.8-.1-4.6 0 3.6-.1-1.8 0 3.6 0-5.7-.1 3.5 0-1.8-.1 3.4 0-4.1-.1 3.2 0-1.6-.1 3.1 0-5.5-.1 3 0-1.4-.1 2.8 0-3.5-.1 2.7-.1-1.3 0 2.6-.1-4.1 0 2.5-.1-1.2-.1 2.3 0-2.8-.1 2.1-.1-1-.1 2 0-3.7-.1 1.9-.1-.9-.1 1.7-.1-2.1-.1 1.7 0-.8-.1 1.5-.2-2.4 0 1.4-.2-.7-.1 1.4-.1-1.7-.1 1.3-.1-.6-.1 1.2-.1-2.1-.2 1.1-.1-.6-.1 1.1-.1-1.3-.1 1-.2-.5-.1 1-.2-1.5-.1.9-.2-.4-.1.8-.2-1-.1.7-.2-.3-.2.6-.2-1.3-.2.7-.3-.3-.2.5-.2-.6-.2.5-.3-.2-.2.4-.3-.6-.5.3-.3-.1-.4.3-.4-.4-.6.3-.4-.2-.3.3-.7-.5 0 .3-.4-.1-.4.1-1.6-.1-.7.1-1.2 0-8.6 0-1.8-.1-2.8.1-2.2 0-2.2 0-8.8"/><path d="M671.37 348.04V340.95M671.37 352.82V354.04" stroke="#222" stroke-opacity="0.75" stroke-width="0.6"/><rect x="667.17" y="348.04" width="8.4" height="4.77" fill="none" stroke="#222" stroke-opacity="0.7" stroke-width="0.75"/><path d="M667.17 351.43h8.4" stroke="#111" stroke-opacity="0.8" stroke-width="1.3"/><rect x="578.55" y="192.45" width="99.30" height="169.20" fill="none" stroke="#333" stroke-width="1.07"/><rect x="677.85" y="192.45" width="20.4" height="169.20" fill="#D9D9D9" stroke="#333" stroke-width="1.07"/><text x="0" y="0" transform="translate(683.15,277.45) rotate(90)" text-anchor="middle" font-size="11.2" fill="#1A1A1A" font-family="'Liberation Sans', Arial, sans-serif">24</text><path d="M46.3 200.05H49.30" stroke="#333" stroke-width="1.07"/><text x="43" y="203.35" text-anchor="end" font-size="9.2" fill="#4D4D4D" font-family="'Liberation Sans', Arial, sans-serif">100%</text><path d="M46.3 238.55H49.30" stroke="#333" stroke-width="1.07"/><text x="43" y="241.85" text-anchor="end" font-size="9.2" fill="#4D4D4D" font-family="'Liberation Sans', Arial, sans-serif">75%</text><path d="M46.3 277.05H49.30" stroke="#333" stroke-width="1.07"/><text x="43" y="280.35" text-anchor="end" font-size="9.2" fill="#4D4D4D" font-family="'Liberation Sans', Arial, sans-serif">50%</text><path d="M46.3 315.55H49.30" stroke="#333" stroke-width="1.07"/><text x="43" y="318.85" text-anchor="end" font-size="9.2" fill="#4D4D4D" font-family="'Liberation Sans', Arial, sans-serif">25%</text><path d="M46.3 354.05H49.30" stroke="#333" stroke-width="1.07"/><text x="43" y="357.35" text-anchor="end" font-size="9.2" fill="#4D4D4D" font-family="'Liberation Sans', Arial, sans-serif">0%</text><path d="M49.30 509.35H148.60M49.30 470.85H148.60M49.30 432.35H148.60M49.30 393.85H148.60" stroke="#EBEBEB" stroke-width="0.55" fill="none"/><path d="M49.30 528.60H148.60M49.30 490.10H148.60M49.30 451.60H148.60M49.30 413.10H148.60M49.30 374.60H148.60M55.78 367.00V536.20M66.57 367.00V536.20M77.36 367.00V536.20M88.16 367.00V536.20M98.95 367.00V536.20M109.74 367.00V536.20M120.54 367.00V536.20M131.33 367.00V536.20M142.12 367.00V536.20" stroke="#EBEBEB" stroke-width="1.1" fill="none"/><path marker-start="url(#m0)" marker-mid="url(#m0)" marker-end="url(#m0)" d="M55.8 528.4l-1.2-.7 2.5-.5-3.3-.3 2.7-.7-1.5-.5 3.1-.3-5.3-.8 3.4-.3-1.8-.6 3.7-.4-4.7-.7 3.8-.6-1.9-.4 4-.5-7.3-.4 4-.8-2-.2 4.1-.9-5.2-.3 4.2-.6-2.1-.5 4.1-.8-6.7-.4 4.1-.5-2-.5 4.1-.7-5.1-.6 4.1-.5-2.1-.5 4.1-.4-7.7-.8 4-.5-2-.8 4-.3-5-.8 4-.4-2-.7 3.9-.5-6.3-.4 3.9-.7-1.9-.6 3.8-.7-4.8-.5 3.8-.9-1.9-.6 3.8-.4-6.8-.8 3.7-.4-1.8-.8 3.7-.6-4.6-.3 3.6-.9-1.8-.4 3.7-.8-6-.5 3.7-.9-1.9-.5 3.7-.5-4.6-.6 3.7-.9-1.8-.4 3.7-.9-7.3-.6 3.7-.6-1.8-.4 3.7-.8-4.7-.4 3.8-.6-1.9-.6 3.9-.7-6.4-.5 3.9-.8-2-.7 4.1-.5-5.1-.5 4.1-.7-2.1-.6 4.2-.5-7.6-.2 4.2-.8-2.1-.4 4.3-.5-5.4-.4 4.3-.6-2.2-.3 4.3-.7-6.9-.3 4.2-.7-2.1-.3 4.2-.7-5.2-.5 4.1-.4-2-.6 4-.4-7.6-.6 4-.5-1.9-.6 3.7-.8-4.5-.6 3.5-.6-1.7-.7 3.3-.6-5.3-.5 3.2-.8-1.5-.6 2.8-1.3-3.3-.8 2.6-.4-1.3-1.1 2.3-.7-4-1.5 2.1-.6-.9-1.9 1.7-1.2-2.1-.8 1.6-2-.7-1.5 1.4-1.1-2.2-2.1 1.3-1.6-.7-1.8 1.3-1-1.6-1.7 1.3-1.9-.6-1.9 1.3-.9-2.8-2.5 1.5-1.2-.8-1 1.7-1.6-2.4-2.1 2-1.7-1-.8 2-.1-3.2-.2 1.9-.1-.9-.5 1.9-.1-2.2-2.3 1.6-.7-.7-6.8.7-1.1-1.2-3 .6-.6"/><path d="M55.78 465.61V414.33M55.78 509.04V528.43" stroke="#222" stroke-opacity="0.75" stroke-width="0.6"/><rect x="51.58" y="465.61" width="8.4" height="43.43" fill="none" stroke="#222" stroke-opacity="0.7" stroke-width="0.75"/><path d="M51.58 486.71h8.4" stroke="#111" stroke-opacity="0.8" stroke-width="1.3"/><path marker-start="url(#m1)" marker-mid="url(#m1)" marker-end="url(#m1)" d="M66.6 528.4l-.4-.2.8-.3-1.2-.3 1.1-.3-.6-.5 1.2-.1-2-.3 1.2-.4-.6-.2 1.3-.3-1.7-.2 1.4-.4-.7-.2 1.4-.3-2.6-.3 1.5-.2-.8-.2 1.5-.3-1.9-.3 1.6-.3-.8-.2 1.7-.2-2.9-.2 1.8-.2-.9-.2 2-.3-2.6-.2 2.1-.2-1.1-.2 2.4-.2-4.6-.1 2.5-.2-1.4-.1 2.7-.2-3.5-.1 2.9-.2-1.5-.2 3.2-.1-5.3-.1 3.3-.2-1.7-.1 3.5-.1-4.5-.1 3.7-.1-1.9-.1 3.9-.1-7.1-.1 3.9-.1-2-.1 4.1-.1-5.2-.1 4.2-.1-2.1-.1 4.3-.1-7 0 4.3-.1-2.1-.1 4.3-.1-5.4-.1 4.3-.1-2.2-.1 4.3-.1-8.3-.1 4.2-.1-2.1-.1 4.2 0-5.2-.1 4.2-.1-2.1-.1 4.1-.1-6.6-.2 4-.1-2-.1 4-.1-4.9-.1 3.9-.1-2-.2 3.9 0-6.9-.1 3.8-.1-1.9-.2 3.7-.1-4.6-.1 3.7-.1-1.8-.1 3.5 0-5.7-.2 3.5-.1-1.7-.2 3.3 0-4.1-.1 3.2-.2-1.6-.1 3.1-.2-5.7-.1 2.9-.1-1.4-.2 2.8-.1-3.4-.1 2.6-.3-1.2-.1 2.3-.2-3.7-.2 2.2-.2-1-.1 2-.3-2.4-.2 1.9-.1-1-.2 1.7-.3-2.9-.3 1.5-.1-.7-.4 1.4-.3-1.7-.2 1.3-.4-.6-.3 1.1-.4-1.7-.3 1-.3-.4-.4.7-.5-.9-.9.7-.2-.3-.7.4-1-.9-.2.5-1.3-.2-.7.4-1-.5-.8.3-.6-.1-6.8.2-8.4-.2-3.7.1-2.5-.1-9.9.2-1.2-.2-10.4.1-1.5 0-4.6.1-8.9-.3-2.1.2-33.9"/><path d="M66.57 511.20V499.53M66.57 519.82V528.42" stroke="#222" stroke-opacity="0.75" stroke-width="0.6"/><rect x="62.37" y="511.20" width="8.4" height="8.62" fill="none" stroke="#222" stroke-opacity="0.7" stroke-width="0.75"/><path d="M62.37 516.13h8.4" stroke="#111" stroke-opacity="0.8" stroke-width="1.3"/><path marker-start="url(#m2)" marker-mid="url(#m2)" marker-end="url(#m2)" d="M77.4 528.6l-1.4 0 2.8-.1-3.6 0 2.9 0-1.5 0 3.1 0-5.1-.1 3.2 0-1.7 0 3.3 0-4.2-.1 3.4 0-1.7 0 3.6 0-6.5 0 3.6 0-1.8-.1 3.7 0-4.7 0 3.7 0-1.9-.1 3.9 0-6.3 0 3.9 0-2 0 4-.1-5 0 4 0-2 0 4.1-.1-7.9 0 4.2 0-2.1 0 4.2 0-5.3-.1 4.3 0-2.2 0 4.3 0-6.9 0 4.2-.1-2.1 0 4.3 0-5.4 0 4.3 0-2.1 0 4.3-.1-7.8 0 4.3 0-2.2 0 4.3 0-5.3-.1 4.2 0-2.1 0 4.2 0-6.8 0 4.2 0-2.1-.1 4.2 0-5.2 0 4.1 0-2.1 0 4.1-.1-7.9 0 4 0-2 0 4-.1-4.9 0 3.9 0-1.9 0 3.8-.1-6.1 0 3.7 0-1.8-.1 3.5 0-4.3 0 3.4-.1-1.7 0 3.2-.1-5.7 0 3.1-.1-1.5 0 2.9-.1-3.4 0 2.6-.1-1.3-.1 2.4 0-3.7-.1 2.2-.1-1-.1 1.9 0-2.3-.1 1.7-.1-.8-.1 1.6 0-2.9-.1 1.4-.2-.6-.1 1.3 0-1.6-.1 1.2-.1-.6-.1 1.2-.1-1.8-.2 1 0-.5-.1 1-.2-1.2 0 1-.2-.5-.1.9-.1-1.6-.1.9-.1-.5-.2.9-.1-1-.1.7-.2-.3 0 .7-.2-1.1-.1.6-.3-.3-.1.5-.3-.6-.1.5-.2-.2-.3.3-.2-.7-.4.4-.3-.2-.2.3-.4-.3-.5.2-.3-.1-.6.2-.5-.2-1.3.1-1.1-.1-2.9.1-2.2-.1-13.5.1-2.5 0-1.3 0-2.4-.1-2.1.1-9.2"/><path d="M77.36 524.29V519.38M77.36 527.83V528.58" stroke="#222" stroke-opacity="0.75" stroke-width="0.6"/><rect x="73.16" y="524.29" width="8.4" height="3.54" fill="none" stroke="#222" stroke-opacity="0.7" stroke-width="0.75"/><path d="M73.16 527.06h8.4" stroke="#111" stroke-opacity="0.8" stroke-width="1.3"/><path marker-start="url(#m3)" marker-mid="url(#m3)" marker-end="url(#m3)" d="M88.2 528.6l-2 0 3.9 0-4.9 0 3.9 0-1.9 0 3.9 0-6.4 0 3.9 0-1.9 0 3.9 0-4.9 0 3.9 0-1.9 0 3.9 0-7.2 0 4 0-2-.1 4 0-5 0 4 0-2 0 4 0-6.5 0 4 0-2 0 4 0-5 0 4 0-2 0 4.1 0-7.8 0 4.1 0-2.1 0 4.1 0-5.1 0 4.1 0-2 0 4.1 0-6.7 0 4.1 0-2.1 0 4.2 0-5.2-.1 4.1 0-2 0 4.1 0-7.5 0 4.1 0-2 0 4.1 0-5.2 0 4.2 0-2.1 0 4.2 0-6.8 0 4.2 0-2.1 0 4.2 0-5.3 0 4.2 0-2.1 0 4.3 0-8.3-.1 4.2 0-2.1 0 4.3 0-5.4 0 4.3 0-2.1 0 4.2 0-6.9 0 4.3 0-2.2 0 4.3 0-5.4 0 4.3 0-2.1 0 4.3 0-7.8-.1 4.3 0-2.2 0 4.3 0-5.3 0 4.3 0-2.2 0 4.3 0-7 0 4.3 0-2.1 0 4.3 0-5.4 0 4.3 0-2.1-.1 4.2 0-8.1 0 4.3 0-2.2 0 4.3 0-5.3 0 4.2 0-2.1 0 4.2 0-6.8-.1 4.2 0-2.1 0 4.2 0-5.3 0 4.2 0-2.1 0 4.1 0-7.4-.1 4.1 0-2 0 4 0-5 0 4-.1-2 0 3.8 0-6.1 0 3.7-.1-1.8 0 3.6 0-4.4 0 3.4-.1-1.7 0 3.2 0-6.3-.1 3.2 0-1.5 0 2.9 0-3.5-.1 2.8 0-1.4 0 2.6 0-4.2-.1 2.6 0-1.2 0 2.4 0-3 0 2.3-.1-1.1 0 2.2 0-4 0 2.2 0"/><path d="M88.16 527.98V527.25M88.16 528.48V528.60" stroke="#222" stroke-opacity="0.75" stroke-width="0.6"/><rect x="83.96" y="527.98" width="8.4" height="0.49" fill="none" stroke="#222" stroke-opacity="0.7" stroke-width="0.75"/><path d="M83.96 528.29h8.4" stroke="#111" stroke-opacity="0.8" stroke-width="1.3"/><path marker-start="url(#m4)" marker-mid="url(#m4)" marker-end="url(#m4)" d="M98.9 528.6l-1.9 0 3.9 0-4.9 0 3.9 0-1.9 0 3.9 0-6.4 0 3.9 0-1.9 0 3.9 0-4.9 0 3.9 0-1.9 0 3.9 0-7.2 0 4 0-2-.1 4 0-5 0 4 0-2 0 4 0-6.5 0 4 0-2 0 4 0-5 0 4 0-2 0 4.1 0-7.8 0 4.1 0-2.1 0 4.1 0-5.1 0 4.1 0-2 0 4.1 0-6.7 0 4.1 0-2.1 0 4.2 0-5.2-.1 4.1 0-2 0 4.1 0-7.5 0 4.1 0-2 0 4.1 0-5.2 0 4.2 0-2.1 0 4.2 0-6.8 0 4.2 0-2.1 0 4.2 0-5.3 0 4.2 0-2.1 0 4.3 0-8.3-.1 4.2 0-2.1 0 4.2 0-5.3 0 4.3 0-2.2 0 4.3 0-6.9 0 4.3 0-2.2 0 4.3 0-5.4 0 4.3 0-2.1 0 4.3 0-7.8-.1 4.3 0-2.2 0 4.3 0-5.3 0 4.3 0-2.2 0 4.3 0-7 0 4.3 0-2.1 0 4.3 0-5.4 0 4.3 0-2.2-.1 4.3 0-8.1 0 4.3 0-2.2 0 4.3 0-5.3 0 4.2 0-2.1 0 4.2 0-6.8-.1 4.2 0-2.1 0 4.2 0-5.3 0 4.2 0-2.1 0 4.1 0-7.4-.1 4.1 0-2 0 4 0-5 0 3.9-.1-1.9 0 3.8 0-6.1 0 3.7-.1-1.8 0 3.5 0-4.3 0 3.4-.1-1.7 0 3.2 0-6.3-.1 3.2 0-1.5 0 2.9 0-3.6-.1 2.9 0-1.4 0 2.6-.1-4.2 0 2.6 0-1.2 0 2.4 0-3 0 2.3-.1-1.1 0 2.2 0-4 0 2.2 0"/><path d="M98.95 527.98V527.25M98.95 528.48V528.60" stroke="#222" stroke-opacity="0.75" stroke-width="0.6"/><rect x="94.75" y="527.98" width="8.4" height="0.49" fill="none" stroke="#222" stroke-opacity="0.7" stroke-width="0.75"/><path d="M94.75 528.29h8.4" stroke="#111" stroke-opacity="0.8" stroke-width="1.3"/><path marker-start="url(#m5)" marker-mid="url(#m5)" marker-end="url(#m5)" d="M109.7 528.6l-1.9 0 3.9 0-4.9 0 3.9 0-1.9 0 3.9 0-6.4 0 3.9 0-1.9 0 3.9 0-4.9 0 3.9 0-2 0 4 0-7.2 0 4 0-2-.1 4 0-5 0 4 0-2 0 4 0-6.5 0 4 0-2 0 4 0-5 0 4 0-2 0 4.1 0-7.8 0 4.1 0-2.1 0 4.1 0-5.1 0 4.1 0-2.1 0 4.2 0-6.7 0 4.1 0-2.1 0 4.2 0-5.2-.1 4.1 0-2 0 4.1 0-7.5 0 4.1 0-2.1 0 4.2 0-5.2 0 4.2 0-2.1 0 4.2 0-6.9 0 4.3 0-2.1 0 4.2 0-5.3 0 4.2 0-2.1 0 4.3 0-8.3-.1 4.2 0-2.1 0 4.2 0-5.3 0 4.3 0-2.2 0 4.3 0-6.9 0 4.2 0-2.1 0 4.3 0-5.4 0 4.3 0-2.1 0 4.3 0-7.8-.1 4.3 0-2.2 0 4.3 0-5.3 0 4.3 0-2.2 0 4.3 0-7 0 4.3 0-2.1 0 4.3 0-5.4 0 4.3-.1-2.2 0 4.3 0-8.1 0 4.2 0-2.1 0 4.3 0-5.3 0 4.2 0-2.1 0 4.2 0-6.8-.1 4.2 0-2.1 0 4.1 0-5.1 0 4.1 0-2.1 0 4.1 0-7.4 0 4.1-.1-2 0 4 0-5 0 4 0-2 0 3.9 0-6.4 0 4 0-2-.1 3.9 0-4.8 0 3.8 0-1.9 0 3.7 0-7.3 0 3.7-.1-1.8 0 3.5 0-4.3 0 3.4 0-1.7-.1 3.3 0-5.1-.1 3 0-1.4 0 2.8-.1-3.4 0 2.6-.1-1.2 0 2.1-.1-3.7 0 1.9-.9"/><path d="M109.74 527.98V527.28M109.74 528.48V528.60" stroke="#222" stroke-opacity="0.75" stroke-width="0.6"/><rect x="105.54" y="527.98" width="8.4" height="0.49" fill="none" stroke="#222" stroke-opacity="0.7" stroke-width="0.75"/><path d="M105.54 528.29h8.4" stroke="#111" stroke-opacity="0.8" stroke-width="1.3"/><path marker-start="url(#m6)" marker-mid="url(#m6)" marker-end="url(#m6)" d="M120.5 528l-.5-.9 1.1-1-1.6-1.4 1.4-.4-.7-1.4 1.5-.5-2.5-.9 1.5-1.2-.8-1.2 1.7-1.1-2.1-.4 1.7-1.1-.9-1.1 1.8-.4-3.3-1.5 1.9-.3-1-1 1.9-1.1-2.4-.7 1.9-.6-.9-1.1 2-.6-3.3-.7 2-.8-1-1.1 2.1-.9-2.7-.5 2.2-.7-1.1-.6 2.4-1-4.6-.4 2.4-.8-1.3-.7 2.7-.8-3.4-.4 2.7-.7-1.4-.4 3-.8-4.9-.5 3-.6-1.5-.2 3.1-.8-4-.5 3.3-.5-1.7-.4 3.4-.5-6.2-.6 3.5-.3-1.8-.5 3.6-.4-4.6-.7 3.7-.3-1.8-.4 3.7-.6-6.1-.5 3.8-.3-1.9-.4 3.8-.4-4.8-.6 3.9-.3-2-.4 4-.3-7.8-.4 4-.7-2-.3 4-.3-5-.7 4-.2-2-.4 4.1-.5-6.7-.5 4.1-.6-2.1-.2 4.2-.7-5.2-.3 4.2-.5-2.1-.2 4.3-.5-7.8-.4 4.3-.4-2.2-.2 4.3-.5-5.3-.3 4.2-.3-2.1-.4 4.2-.4-6.8-.3 4.2-.3-2.1-.5 4.1-.3-5.1-.3 4.1-.4-2-.4 3.8-.4-7.2-.6 3.7-.2-1.8-.7 3.5-.5-4.2-.3 3.3-.6-1.6-.5 3-.5-4.8-.5 2.9-.8-1.3-.7 2.4-.6-2.9-.7 2.2-.5-1-.9 1.7-1.2-3-.8 1.6-1.3-.7-1 1.2-2.3-1.3-1.4 1-1.1-.5-2 .8-2.3-1.2-1.4.7-2.3-.3-1.7.6-2.7-.8-1.5.7-2.9-.4-1.8.7-2.4-1.4-2.5.7-1.7-.3-1.9.8-2.2-1.2-2.2 1-1.8-.5-1.7 1-.1-1.7-.9 1.1-.7-.5-.1.8-6.1-1-2.8.9-1.8-.5-.2.9-.1-1.5-1.3.8-4"/><path d="M120.54 465.00V418.51M120.54 498.26V527.97" stroke="#222" stroke-opacity="0.75" stroke-width="0.6"/><rect x="116.34" y="465.00" width="8.4" height="33.26" fill="none" stroke="#222" stroke-opacity="0.7" stroke-width="0.75"/><path d="M116.34 481.32h8.4" stroke="#111" stroke-opacity="0.8" stroke-width="1.3"/><path marker-start="url(#m7)" marker-mid="url(#m7)" marker-end="url(#m7)" d="M131.3 528l-.5-.7 1.1-.3-1.5-.8 1.3-.6-.7-.8 1.5-.7-2.6-.5 1.6-.8-.8-.7 1.8-.6-2.3-.6 1.8-.7-.9-.7 1.9-.7-3.5-.8 2-.5-1.1-.6 2.1-.5-2.6-.4 2.1-.7-1.1-.6 2.3-.6-3.8-.7 2.4-.5-1.3-.4 2.6-.5-3.3-.7 2.7-.3-1.3-.7 2.8-.2-5.6-.6 3-.4-1.5-.4 3.1-.3-4.1-.5 3.4-.4-1.7-.4 3.6-.6-6-.2 3.7-.4-1.9-.3 3.9-.4-4.9-.2 4-.4-2-.1 4.1-.4-7.5-.3 4.1-.2-2.1-.3 4.3-.4-5.4-.2 4.3-.3-2.1-.2 4.3-.2-7-.3 4.3-.4-2.2-.1 4.3-.2-5.3-.5 4.2-.2-2.1-.2 4.2-.2-8.2-.3 4.2-.4-2.1-.2 4.1-.3-5-.3 4-.4-2-.3 3.9-.5-6.2-.3 3.8-.4-1.9-.3 3.6-.5-4.4-.2 3.5-.5-1.7-.3 3.3-.5-6-.4 3.3-.3-1.6-.4 3.1-.5-3.8-.2 3-.4-1.5-.7 2.9-.3-4.6-.3 2.8-.7-1.4-.3 2.6-.7-3.2-.3 2.5-.6-1.2-.3 2.4-.6-4.4-.6 2.2-.8-1-.4 2.1-.6-2.6-.6 2-.6-1-.5 1.9-1-2.9-.5 1.7-1-.8-.2 1.6-.7-1.9-1.3 1.4-.8-.7-.4 1.2-1.4-2-1.1 1-.8-.4-1.6.9-.9-1-2.2.7-.9-.4-2 .7-2.1-1-1.8.6-1.6-.3-1.7.6-1.5-.8-2.4.6-2.1-.3-1.6.6-2.2-1.2-1.3.6-2.1-.3-2.3.7-1.1-1-2 .9-1.5-.5-1.6 1-.2-1.7-.3 1.1-.7-.6-.7 1-2.7-1.1-.6.9-.8-.5-1 .6-2.2-.9-1.2.4-6.8"/><path d="M131.33 477.63V432.84M131.33 507.50V528.02" stroke="#222" stroke-opacity="0.75" stroke-width="0.6"/><rect x="127.13" y="477.63" width="8.4" height="29.88" fill="none" stroke="#222" stroke-opacity="0.7" stroke-width="0.75"/><path d="M127.13 496.57h8.4" stroke="#111" stroke-opacity="0.8" stroke-width="1.3"/><path marker-start="url(#m8)" marker-mid="url(#m8)" marker-end="url(#m8)" d="M142.1 528.6l-1.2 0 2.5-.1-3.2 0 2.6 0-1.4 0 2.8-.1-4.6 0 2.9 0-1.5 0 3-.1-3.8 0 3.1 0-1.6 0 3.2-.1-5.8 0 3.2 0-1.6-.1 3.4 0-4.3 0 3.4-.1-1.7 0 3.5 0-5.8-.1 3.6 0-1.8 0 3.7-.1-4.7 0 3.8 0-1.9 0 3.8-.1-7.3 0 3.8 0-1.9-.1 3.9 0-4.9 0 3.9-.1-1.9 0 3.9-.1-6.4 0 3.9 0-1.9-.1 3.9 0-5-.1 4.1 0-2.1 0 4.1-.1-7.3 0 4-.1-2 0 4-.1-5 0 4-.1-2 0 4.1 0-6.7-.1 4.1-.1-2 0 4.1 0-5.2-.1 4.2 0-2.1-.1 4.2 0-8.2-.1 4.2 0-2.1 0 4.2-.1-5.3 0 4.3-.1-2.2 0 4.3 0-7-.1 4.3 0-2.1-.1 4.3 0-5.4 0 4.3 0-2.1-.1 4.2 0-7.7 0 4.3 0-2.2-.1 4.3 0-5.3 0 4.2 0-2.1-.1 4.2 0-6.8 0 4.2 0-2.1-.1 4.1 0-5.1 0 4.1 0-2.1 0 4.1-.1-7.7 0 4 0-2-.1 4 0-4.9 0 3.9 0-1.9-.1 3.7 0-6 0 3.6-.1-1.7 0 3.4-.1-4.2 0 3.3-.1-1.6 0 3-.1-5.4 0 2.9-.1-1.3-.1 2.5-.1-2.9-.1 2.2-.1-1.1 0 1.9-.1-2.8-.2 1.6-.1-.7-.1 1.2-.2-1.4-.2 1-.1-.5-.2.7-.2-1.3-.3.6-.3-.2-.1.5-.2-.5-.4.3-.3-.1-.8.1-3.5-.2-.4.1 0 0-3.3.1-7.9-.1-2.9 0-3.4 0-2.3.1-4.1-.1-3.3 0-2.1"/><path d="M142.12 524.90V521.34M142.12 527.52V528.59" stroke="#222" stroke-opacity="0.75" stroke-width="0.6"/><rect x="137.92" y="524.90" width="8.4" height="2.62" fill="none" stroke="#222" stroke-opacity="0.7" stroke-width="0.75"/><path d="M137.92 525.98h8.4" stroke="#111" stroke-opacity="0.8" stroke-width="1.3"/><rect x="49.30" y="367.00" width="99.30" height="169.20" fill="none" stroke="#333" stroke-width="1.07"/><path d="M155.15 509.35H254.45M155.15 470.85H254.45M155.15 432.35H254.45M155.15 393.85H254.45" stroke="#EBEBEB" stroke-width="0.55" fill="none"/><path d="M155.15 528.60H254.45M155.15 490.10H254.45M155.15 451.60H254.45M155.15 413.10H254.45M155.15 374.60H254.45M161.63 367.00V536.20M172.42 367.00V536.20M183.21 367.00V536.20M194.01 367.00V536.20M204.80 367.00V536.20M215.59 367.00V536.20M226.39 367.00V536.20M237.18 367.00V536.20M247.97 367.00V536.20" stroke="#EBEBEB" stroke-width="1.1" fill="none"/><path marker-start="url(#m0)" marker-mid="url(#m0)" marker-end="url(#m0)" d="M161.6 528.2l-.7-.5 1.5-.5-2-.4 1.7-1-1-.4 2.1-.6-3.5-.6 2.2-.5-1.2-.3 2.5-.9-3.1-.3 2.5-.6-1.3-.5 2.6-.6-4.8-.5 2.7-.7-1.4-.3 2.8-.6-3.5-.4 2.8-.7-1.4-.5 2.9-.3-4.7-.5 2.9-.6-1.5-.5 3-.4-3.8-.4 3.1-.5-1.6-.4 3.2-.6-6-.3 3.1-.5-1.6-.5 3.3-.3-4.2-.7 3.4-.2-1.7-.5 3.4-.4-5.6-.4 3.5-.6-1.8-.2 3.6-.4-4.5-.5 3.6-.3-1.8-.4 3.7-.3-6.8-.6 3.8-.2-1.9-.4 3.8-.4-4.8-.2 3.9-.5-2-.3 4-.4-6.5-.2 4-.5-2-.2 4-.4-5-.3 4-.5-2-.3 4.1-.3-8-.3 4.1-.4-2.1-.3 4.1-.4-5.1-.4 4.1-.4-2-.4 4.1-.3-6.8-.4 4.2-.4-2.1-.4 4.2-.3-5.3-.5 4.3-.2-2.1-.2 4.2-.5-7.7-.3 4.3-.3-2.2-.3 4.3-.2-5.4-.4 4.3-.3-2.1-.3 4.2-.2-6.8-.4 4.2-.3-2.1-.4 4.1-.3-5.1-.2 4-.4-2-.3 3.8-.5-7.1-.2 3.7-.5-1.8-.3 3.5-.3-4.2-.7 3.3-.2-1.6-.5 3-.4-4.7-.5 2.8-.6-1.3-.5 2.4-.8-2.8-.3 2.1-1-1-.7 1.6-.9-2.8-.8 1.5-1-.6-1.3 1.1-1.4-1.3-1.3.9-.9-.4-2.2.8-1.7-1.2-1.3.7-1.7-.4-1.8.7-2-.8-2.2.6-1.1-.3-2.1.6-2-1.2-2.6.6-1.1-.3-2.6.6-2.1-.7-2.1.6-2.4-.3-1.6.6-.5-1-4.7.6-2.2-.3-1.1.6-.1-.7-1.5.4-10.8-.1-3.9.5-1-.9-.3.4-4.9"/><path d="M161.63 482.71V441.75M161.63 510.12V528.17" stroke="#222" stroke-opacity="0.75" stroke-width="0.6"/><rect x="157.43" y="482.71" width="8.4" height="27.41" fill="none" stroke="#222" stroke-opacity="0.7" stroke-width="0.75"/><path d="M157.43 496.72h8.4" stroke="#111" stroke-opacity="0.8" stroke-width="1.3"/><path marker-start="url(#m1)" marker-mid="url(#m1)" marker-end="url(#m1)" d="M172.4 528.4l-.4-.1.9-.4-1.3-.2 1.1-.2-.6-.3 1.3-.2-2.2-.2 1.4-.3-.7-.1 1.4-.3-1.8-.2 1.5-.2-.8-.1 1.6-.4-2.9-.1 1.6-.2-.8-.2 1.7-.3-2.2-.1 1.8-.2-.9-.2 1.8-.1-3-.2 1.9-.3-1-.1 2.1-.2-2.8-.1 2.4-.2-1.2-.2 2.5-.1-5-.1 2.7-.2-1.5-.1 3-.1-3.9-.1 3.2-.2-1.6-.1 3.5-.1-5.8-.1 3.6-.1-1.9 0 3.8-.2-4.8 0 3.9-.1-2-.1 4.1-.1-7.4-.1 4.1 0-2.1-.1 4.2-.1-5.3-.1 4.3 0-2.2-.1 4.3 0-6.9-.1 4.3-.1-2.2 0 4.3-.1-5.4-.1 4.3-.1-2.1 0 4.2-.1-8.2 0 4.2-.2-2.1 0 4.1-.1-5-.1 4-.1-2-.1 3.9-.1-6.2-.1 3.7-.1-1.8-.1 3.6-.1-4.4-.1 3.4-.1-1.6-.1 3.2-.1-5.8-.1 3.2-.1-1.6-.1 3.1-.1-3.8-.1 3-.2-1.5-.1 2.8-.1-4.4-.2 2.7 0-1.3-.2 2.5-.1-3.1-.2 2.4-.1-1.2-.2 2.2-.1-4.1-.2 2.1-.1-1-.2 2-.2-2.4-.1 1.9-.2-.9-.2 1.7-.2-2.8-.1 1.7-.3-.8-.2 1.5-.2-1.8-.2 1.4-.3-.7-.2 1.3-.3-2.3-.2 1.2-.3-.5-.2 1.1-.3-1.3-.3 1-.2-.5-.5.9-.2-1.4-.4.8-.6-.4-.3.7-.5-.8-.6.6-.4-.3-.6.5-.6-.9-.9.4-.4-.1-.9.3-1.2-.4-.7.3-.8-.1-.9.1-2.2-.2-1.3.1-2.1 0-8 .1-21.6-.2-5.1.2-1.6-.1-1.4.1-3-.2-11.1.1-6.7"/><path d="M172.42 513.35V500.93M172.42 521.67V528.40" stroke="#222" stroke-opacity="0.75" stroke-width="0.6"/><rect x="168.22" y="513.35" width="8.4" height="8.32" fill="none" stroke="#222" stroke-opacity="0.7" stroke-width="0.75"/><path d="M168.22 518.74h8.4" stroke="#111" stroke-opacity="0.8" stroke-width="1.3"/><path marker-start="url(#m2)" marker-mid="url(#m2)" marker-end="url(#m2)" d="M183.2 528.6l-1.6 0 3.2 0-4 0 3.2-.1-1.6 0 3.3 0-5.4 0 3.3 0-1.7 0 3.5 0-4.4-.1 3.6 0-1.8 0 3.6 0-6.7-.1 3.7 0-1.8 0 3.8 0-4.9 0 3.9-.1-1.9 0 4 0-6.6 0 4.1-.1-2.1 0 4.1 0-5.1 0 4.1-.1-2 0 4.2 0-8.1 0 4.2-.1-2.1 0 4.3 0-5.4 0 4.3-.1-2.1 0 4.3 0-7-.1 4.3 0-2.2 0 4.3 0-5.3-.1 4.2 0-2.1-.1 4.2 0-7.5 0 4.1-.1-2 0 4 0-5-.1 4 0-2-.1 3.8 0-6.2 0 3.8-.1-1.8 0 3.6-.1-4.5 0 3.5-.1-1.7 0 3.4-.1-6.5 0 3.3-.1-1.6 0 3.1-.1-3.8 0 3-.1-1.4 0 2.7-.1-4.4 0 2.7-.1-1.3-.1 2.5 0-3-.1 2.3-.1-1.1 0 2.2-.1-3.9-.1 2.1-.1-1-.1 1.9 0-2.3-.1 1.8-.1-.9-.1 1.7 0-2.7-.2 1.6 0-.7-.2 1.4 0-1.8-.1 1.4-.1-.6-.1 1.2-.2-2.4-.1 1.3-.1-.6-.2 1.1 0-1.4-.2 1.1-.1-.5-.1 1-.2-1.6-.1 1-.2-.5-.1.9-.2-1.1-.2.9-.1-.4-.2.7-.1-1.4-.2.8-.3-.4-.1.7-.2-.8-.1.6-.2-.3-.3.6-.2-.9-.3.5-.2-.2-.3.4-.2-.5-.4.4-.3-.2-.4.3-.5-.5-.5.2-.4-.1-.4.2-.7-.2-.6.2-.5-.1-.9.1-1.1-.2-.7.1-1.6 0-2 .1-.4-.2-2.6.2-.3-.1-4.4.1-4.1-.1-8.9 0-9.2"/><path d="M183.21 522.44V514.89M183.21 527.83V528.60" stroke="#222" stroke-opacity="0.75" stroke-width="0.6"/><rect x="179.01" y="522.44" width="8.4" height="5.39" fill="none" stroke="#222" stroke-opacity="0.7" stroke-width="0.75"/><path d="M179.01 526.29h8.4" stroke="#111" stroke-opacity="0.8" stroke-width="1.3"/><path marker-start="url(#m3)" marker-mid="url(#m3)" marker-end="url(#m3)" d="M194 528.6l-1.9 0 3.8 0-4.8 0 3.9 0-2 0 3.9 0-6.3 0 3.9 0-2 0 4 0-5 0 4 0-2 0 4 0-7.2 0 4 0-2-.1 3.9 0-4.9 0 4 0-2 0 4 0-6.6 0 4.1 0-2.1 0 4.1 0-5.1 0 4.1 0-2 0 4 0-7.7 0 4 0-2 0 4.1 0-5.1 0 4.1 0-2.1 0 4.1 0-6.7 0 4.2 0-2.1 0 4.1 0-5.2-.1 4.2 0-2.1 0 4.2 0-7.6 0 4.2 0-2.1 0 4.2 0-5.2 0 4.1 0-2 0 4.2 0-6.9 0 4.2 0-2.1 0 4.2 0-5.2 0 4.2 0-2.1 0 4.2 0-8.3-.1 4.3 0-2.2 0 4.3 0-5.3 0 4.2 0-2.1 0 4.3 0-7 0 4.3 0-2.1 0 4.3 0-5.4 0 4.3 0-2.2 0 4.3 0-7.8-.1 4.3 0-2.1 0 4.3 0-5.4 0 4.3 0-2.1 0 4.3 0-7 0 4.3 0-2.2 0 4.3 0-5.3 0 4.2-.1-2.1 0 4.3 0-8.2 0 4.3 0-2.1 0 4.2 0-5.3 0 4.3 0-2.2 0 4.3 0-6.9-.1 4.2 0-2.1 0 4.2 0-5.2 0 4.2 0-2.1 0 4.1 0-7.4-.1 4.1 0-2.1 0 4 0-4.9 0 3.9-.1-1.9 0 3.8 0-6.2 0 3.8-.1-1.9 0 3.6 0-4.4 0 3.4-.1-1.6 0 3.2 0-6.3-.1 3.1 0-1.5 0 3 0-3.6-.1 2.8 0-1.4 0 2.7-.1-4.2 0 2.5 0-1.2 0 2.4 0-2.9 0 2.3-.1-1.2 0 2.3 0-4 0 2.2 0"/><path d="M194.01 527.98V527.26M194.01 528.48V528.60" stroke="#222" stroke-opacity="0.75" stroke-width="0.6"/><rect x="189.81" y="527.98" width="8.4" height="0.49" fill="none" stroke="#222" stroke-opacity="0.7" stroke-width="0.75"/><path d="M189.81 528.29h8.4" stroke="#111" stroke-opacity="0.8" stroke-width="1.3"/><path marker-start="url(#m4)" marker-mid="url(#m4)" marker-end="url(#m4)" d="M204.8 528.6l-1.9 0 3.8 0-4.8 0 3.9 0-2 0 3.9 0-6.3 0 3.9 0-2 0 4 0-5 0 4 0-2 0 4 0-7.2 0 3.9 0-1.9-.1 3.9 0-4.9 0 3.9 0-2 0 4.1 0-6.6 0 4.1 0-2.1 0 4.1 0-5.1 0 4.1 0-2.1 0 4.1 0-7.7 0 4 0-2 0 4.1 0-5.1 0 4.1 0-2.1 0 4.1 0-6.7 0 4.1 0-2 0 4.1 0-5.2-.1 4.2 0-2.1 0 4.2 0-7.6 0 4.2 0-2.1 0 4.2 0-5.2 0 4.1 0-2.1 0 4.2 0-6.8 0 4.2 0-2.1 0 4.2 0-5.2 0 4.2 0-2.1 0 4.2 0-8.3-.1 4.3 0-2.2 0 4.3 0-5.3 0 4.2 0-2.1 0 4.3 0-7 0 4.3 0-2.1 0 4.2 0-5.3 0 4.3 0-2.2 0 4.3 0-7.8-.1 4.3 0-2.1 0 4.3 0-5.4 0 4.3 0-2.1 0 4.3 0-7 0 4.3 0-2.2 0 4.3 0-5.3 0 4.2 0-2.1-.1 4.3 0-8.2 0 4.3 0-2.1 0 4.2 0-5.3 0 4.3 0-2.2 0 4.3 0-6.9-.1 4.2 0-2.1 0 4.2 0-5.2 0 4.2 0-2.1 0 4.1 0-7.4-.1 4 0-2 0 4 0-4.9 0 3.9-.1-1.9 0 3.8 0-6.2 0 3.8-.1-1.9 0 3.6 0-4.4 0 3.4-.1-1.7 0 3.3 0-6.3-.1 3.1 0-1.5 0 3 0-3.6-.1 2.8 0-1.4 0 2.7 0-4.2-.1 2.5 0-1.2 0 2.4 0-2.9 0 2.3-.1-1.2 0 2.3 0-4 0 2.2 0"/><path d="M204.80 527.98V527.25M204.80 528.48V528.60" stroke="#222" stroke-opacity="0.75" stroke-width="0.6"/><rect x="200.60" y="527.98" width="8.4" height="0.49" fill="none" stroke="#222" stroke-opacity="0.7" stroke-width="0.75"/><path d="M200.60 528.29h8.4" stroke="#111" stroke-opacity="0.8" stroke-width="1.3"/><path marker-start="url(#m5)" marker-mid="url(#m5)" marker-end="url(#m5)" d="M215.6 528.6l-2 0 3.9 0-4.8 0 3.9 0-2 0 3.9 0-6.3 0 3.9 0-2 0 4 0-5 0 4 0-2 0 4 0-7.2 0 3.9 0-2-.1 4 0-5 0 4 0-2 0 4.1 0-6.6 0 4.1 0-2.1 0 4.1 0-5.1 0 4.1 0-2.1 0 4.1 0-7.8 0 4.1 0-2 0 4.1 0-5.2 0 4.2 0-2.1 0 4.1 0-6.7 0 4.1 0-2 0 4.1 0-5.2-.1 4.2 0-2.1 0 4.2 0-7.6 0 4.2 0-2.1 0 4.2 0-5.3 0 4.2 0-2.1 0 4.3 0-6.9 0 4.2 0-2.1 0 4.2 0-5.3 0 4.3 0-2.1 0 4.2 0-8.3-.1 4.3 0-2.2 0 4.3 0-5.3 0 4.2 0-2.1 0 4.3 0-7 0 4.3 0-2.1 0 4.2 0-5.3 0 4.3 0-2.2 0 4.3 0-7.8-.1 4.3 0-2.1 0 4.3 0-5.4 0 4.3 0-2.1 0 4.3 0-7 0 4.3 0-2.2 0 4.3 0-5.3 0 4.2-.1-2.1 0 4.3 0-8.2 0 4.3 0-2.1 0 4.2 0-5.3 0 4.2 0-2.1 0 4.2 0-6.8-.1 4.2 0-2.1 0 4.2 0-5.2 0 4.1 0-2 0 4.1 0-7.4 0 4-.1-2 0 4 0-5 0 4 0-2 0 4 0-6.4 0 3.9 0-1.9 0 3.8-.1-4.8 0 3.8 0-1.9 0 3.7 0-7.2 0 3.6-.1-1.8 0 3.6 0-4.4 0 3.5-.1-1.7 0 3.2 0-5.1 0 3.1-.1-1.5 0 2.8-.1-3.3 0 2.5-.1-1.2 0 2.2-.1-3.5-.1 1.6-.8"/><path d="M215.59 527.98V527.27M215.59 528.48V528.60" stroke="#222" stroke-opacity="0.75" stroke-width="0.6"/><rect x="211.39" y="527.98" width="8.4" height="0.49" fill="none" stroke="#222" stroke-opacity="0.7" stroke-width="0.75"/><path d="M211.39 528.29h8.4" stroke="#111" stroke-opacity="0.8" stroke-width="1.3"/><path marker-start="url(#m6)" marker-mid="url(#m6)" marker-end="url(#m6)" d="M226.4 527.6l-.4-.4.9-1.3-1.4-1.5 1.2-1.6-.6-.5 1.3-1.3-2.2-1.1 1.4-1.2-.7-.9 1.4-1.6-1.8-.6 1.4-1.8-.7-.5 1.5-1.1-2.7-.9 1.5-1.5-.8-.8 1.6-1-2.1-1.1 1.7-.6-.8-1 1.7-1.1-2.9-.6 1.8-.9-.9-.8 2-1.3-2.6-.6 2.1-1.1-1-.3 2.2-.9-4.4-1 2.4-.4-1.3-.7 2.6-.9-3.4-.6 2.8-.6-1.5-.3 3.1-.8-5.1-.3 3.2-.7-1.7-.5 3.5-.6-4.4-.2 3.6-.7-1.9-.3 3.8-.6-6.9-.5 3.8-.1-1.9-.6 4-.4-5.1-.5 4.1-.2-2.1-.6 4.2-.4-6.8-.2 4.2-.6-2.1-.2 4.2-.4-5.3-.3 4.3-.5-2.1-.2 4.2-.6-8.3-.2 4.3-.5-2.2-.5 4.3-.1-5.4-.5 4.3-.6-2.1-.3 4.3-.5-7-.4 4.3-.4-2.2-.4 4.3-.4-5.3-.5 4.3-.3-2.2-.4 4.3-.4-7.8-.5 4.3-.4-2.1-.3 4.2-.4-5.2-.4 4.2-.3-2.1-.3 4.1-.4-6.7-.3 4.1-.4-2-.5 4-.5-5-.2 3.9-.6-1.9-.4 3.7-.2-6.9-.6 3.6-.5-1.8-.3 3.4-.8-4.1-.2 3.2-.6-1.5-.8 2.8-.5-4.4-.7 2.6-.4-1.2-.8 2.4-.5-2.9-.7 2.2-.7-1.1-1 1.8-.7-3-1.5 1.5-1.4-.6-1 1.2-1.4-1.4-1.1 1-2-.4-1.9.8-2.4-1.3-1.1.8-1.8-.4-2.4.7-1.9-.9-2.6.7-1.9-.3-1.6.7-1.2-1.5-3.1.8-1.7-.5-2.2 1-1.7-1.3-1.1 1.1-2.3-.7-1.4 1.5-.4-2.4-.6 1.5-.4-.8-.9 1.5-1-1.8-.7 1.4-.7-.6-2 .9-.6-1.3-3.4.5-7.3"/><path d="M226.39 461.30V414.51M226.39 493.80V527.58" stroke="#222" stroke-opacity="0.75" stroke-width="0.6"/><rect x="222.19" y="461.30" width="8.4" height="32.49" fill="none" stroke="#222" stroke-opacity="0.7" stroke-width="0.75"/><path d="M222.19 478.24h8.4" stroke="#111" stroke-opacity="0.8" stroke-width="1.3"/><path marker-start="url(#m7)" marker-mid="url(#m7)" marker-end="url(#m7)" d="M237.2 527.9l-.5-.9 1.1-1.1-1.6-1.2 1.3-.9-.7-.7 1.6-1.3-2.7-1.4 1.7-.5-.9-1.4 1.8-.6-2.2-1 1.7-.8-.8-1 1.8-1.4-3.4-1.1 1.9-.4-1-.9 2-.8-2.5-1.4 2-.5-1-1.2 2.1-.6-3.5-.6 2.2-1.1-1.1-.9 2.3-.8-3-.3 2.5-.8-1.3-.9 2.7-.5-5.2-.8 2.8-.6-1.5-.6 3-.7-3.8-.8 3.1-.7-1.6-.4 3.3-.4-5.5-.6 3.4-.7-1.7-.3 3.6-.6-4.6-.5 3.7-.5-1.9-.4 3.9-.4-7.1-.6 4-.4-2.1-.4 4.1-.4-5.1-.4 4.1-.4-2.1-.6 4.2-.2-6.8-.6 4.2-.3-2.1-.4 4.3-.5-5.4-.4 4.3-.3-2.2-.3 4.3-.4-8.3-.5 4.2-.3-2.1-.4 4.3-.7-5.3-.3 4.2-.3-2.1-.6 4.2-.3-6.8-.5 4.2-.4-2.1-.5 4.1-.6-5.1-.6 4.1-.4-2.1-.4 4-.6-7.2-.2 4-.5-2-.6 3.9-.3-4.8-.6 3.8-.2-1.9-.5 3.8-.5-6.1-.4 3.7-.6-1.8-.5 3.6-.5-4.5-.3 3.6-.6-1.8-.6 3.4-.5-6.4-.5 3.3-.3-1.6-.6 3.2-.5-3.9-.8 3.1-.3-1.5-.9 2.8-.4-4.5-.8 2.7-.6-1.3-.5 2.5-1.1-3-.3 2.3-1.1-1.1-.7 2-1-3.6-.4 2-1.1-.9-1.3 1.7-1.1-2-1.3 1.5-1.3-.7-.6 1.4-2-2.2-.7 1.3-1.6-.7-.9 1.3-1.2-1.6-1.5 1.3-1.5-.6-1.7 1.2-1.3-2.5-1.1 1.3-1.5-.7-.9 1.4-1.9-1.9-1 1.6-1.3-.8-.9 1.5-.1-2.4 0 1.5-.9-.7-2.1 1.3-2-1.6-.7 1.2-2.8-.5-1.4.9-.1-1.6-1.9.8-.9"/><path d="M237.18 461.76V419.11M237.18 497.03V527.95" stroke="#222" stroke-opacity="0.75" stroke-width="0.6"/><rect x="232.98" y="461.76" width="8.4" height="35.27" fill="none" stroke="#222" stroke-opacity="0.7" stroke-width="0.75"/><path d="M232.98 480.86h8.4" stroke="#111" stroke-opacity="0.8" stroke-width="1.3"/><path marker-start="url(#m8)" marker-mid="url(#m8)" marker-end="url(#m8)" d="M248 528.6l-1.3 0 2.5-.1-3.2 0 2.6 0-1.3 0 2.8-.1-4.6 0 2.8 0-1.4 0 3-.1-3.8 0 3 0-1.5 0 3.2-.1-5.9 0 3.3 0-1.7-.1 3.4 0-4.3 0 3.5 0-1.8-.1 3.6 0-5.9-.1 3.7 0-1.9 0 3.8-.1-4.8 0 3.8 0-1.9 0 3.9-.1-7.4 0 3.9 0-2-.1 4 0-5 0 4-.1-2 0 4-.1-6.5 0 4 0-2-.1 4 0-5-.1 4 0-2 0 4-.1-7.3 0 4.1-.1-2.1 0 4.1-.1-5.1 0 4.1 0-2.1-.1 4.1-.1-6.6 0 4.1 0-2.1-.1 4.2 0-5.2-.1 4.1 0-2.1-.1 4.2 0-8.2-.1 4.2 0-2.1 0 4.3-.1-5.4 0 4.3-.1-2.1 0 4.3 0-7-.1 4.3 0-2.2-.1 4.3 0-5.3 0 4.2 0-2.1-.1 4.3 0-7.8 0 4.3 0-2.1-.1 4.2 0-5.3 0 4.3 0-2.1-.1 4.1 0-6.7 0 4.1 0-2.1 0 4.2-.1-5.2 0 4.1 0-2 0 4-.1-7.6 0 4 0-2-.1 3.9 0-4.8 0 3.8 0-1.9-.1 3.7 0-5.9-.1 3.6 0-1.8 0 3.4-.1-4.1 0 3.2-.1-1.6 0 3-.1-5.3-.1 2.9 0-1.3-.1 2.4-.1-2.8-.1 2.1-.1-1-.1 1.7-.1-2.6-.2 1.5-.1-.7-.1 1.2-.1-1.3-.2.9-.2-.4-.2.6-.3-1.2-.1.6-.3-.3-.3.5-.3-.5-.2.4-.2-.2-.3.1-2.2-.2-2.5.2-.3-.1-.3.1-1-.1-2 .1-.3 0-5.1.1-.7-.3-.6.2-1"/><path d="M247.97 524.90V521.00M247.97 527.52V528.58" stroke="#222" stroke-opacity="0.75" stroke-width="0.6"/><rect x="243.77" y="524.90" width="8.4" height="2.62" fill="none" stroke="#222" stroke-opacity="0.7" stroke-width="0.75"/><path d="M243.77 525.98h8.4" stroke="#111" stroke-opacity="0.8" stroke-width="1.3"/><rect x="155.15" y="367.00" width="99.30" height="169.20" fill="none" stroke="#333" stroke-width="1.07"/><path d="M261.00 509.35H360.30M261.00 470.85H360.30M261.00 432.35H360.30M261.00 393.85H360.30" stroke="#EBEBEB" stroke-width="0.55" fill="none"/><path d="M261.00 528.60H360.30M261.00 490.10H360.30M261.00 451.60H360.30M261.00 413.10H360.30M261.00 374.60H360.30M267.48 367.00V536.20M278.27 367.00V536.20M289.06 367.00V536.20M299.86 367.00V536.20M310.65 367.00V536.20M321.44 367.00V536.20M332.24 367.00V536.20M343.03 367.00V536.20M353.82 367.00V536.20" stroke="#EBEBEB" stroke-width="1.1" fill="none"/><path marker-start="url(#m0)" marker-mid="url(#m0)" marker-end="url(#m0)" d="M267.5 528.4l-1.3-.4 2.6-.3-3.4-.2 2.8-.4-1.5-.2 3.2-.3-5.4-.5 3.4-.3-1.8-.5 3.7-.3-4.7-.2 3.8-.4-1.9-.3 4-.4-7.4-.4 4.1-.4-2.1-.2 4.3-.4-5.4-.4 4.3-.4-2.1-.2 4.3-.5-7-.4 4.3-.4-2.2-.2 4.3-.4-5.3-.6 4.2-.3-2.1-.4 4.2-.3-8-.3 4.2-.5-2-.4 4-.3-5-.5 4-.3-2-.6 4-.2-6.4-.4 3.9-.6-1.9-.3 3.8-.4-4.8-.5 3.8-.4-1.9-.5 3.7-.5-6.7-.3 3.7-.6-1.8-.3 3.6-.4-4.5-.7 3.6-.4-1.8-.5 3.6-.2-5.8-.7 3.6-.4-1.8-.3 3.5-.6-4.4-.6 3.5-.2-1.7-.7 3.6-.4-7.1-.3 3.6-.4-1.8-.6 3.7-.4-4.7-.6 3.8-.5-1.9-.2 3.8-.4-6.3-.7 3.9-.4-1.9-.3 3.9-.6-5-.4 4.1-.4-2.1-.2 4.2-.6-7.5-.2 4.1-.3-2.1-.3 4.2-.4-5.2-.4 4.1-.4-2-.2 4.1-.4-6.7-.5 4.1-.3-2-.3 4-.3-5-.4 4-.2-2-.7 3.8-.3-7.1-.3 3.6-.5-1.7-.5 3.4-.5-4.1-.3 3.2-.5-1.5-.8 2.9-.1-4.7-.7 2.8-.8-1.2-.6 2.4-.3-2.9-1 2.1-.5-1-1.1 1.7-.6-2.9-1.2 1.5-1.3-.6-1.9 1.1-1-1.2-1.3.9-2.1-.4-1.6.7-2.6-1.1-1.1.6-2.6-.3-2 .6-2.8-.7-2 .6-2.4-.3-1.7.6-2.1-1.3-3 .7-1.1-.4-3 .8-1.8-1.1-1.2.9-1.8-.5-1.8 1.1-.6-1.7-.2 1-.2-.4-3.1.7-3-.8-1.9.6-2.3-.3-2.5.6-.3-1-2.9.5-2.6"/><path d="M267.48 483.48V437.71M267.48 515.51V528.43" stroke="#222" stroke-opacity="0.75" stroke-width="0.6"/><rect x="263.28" y="483.48" width="8.4" height="32.03" fill="none" stroke="#222" stroke-opacity="0.7" stroke-width="0.75"/><path d="M263.28 499.34h8.4" stroke="#111" stroke-opacity="0.8" stroke-width="1.3"/><path marker-start="url(#m1)" marker-mid="url(#m1)" marker-end="url(#m1)" d="M278.3 528.3l-.4-.2.8-.3-1.1-.3.9-.3-.5-.4 1.1-.1-1.9-.5 1.2-.1-.6-.4 1.3-.3-1.6-.2 1.3-.3-.7-.4 1.4-.2-2.6-.3 1.5-.2-.8-.3 1.5-.3-1.9-.2 1.6-.3-.9-.2 1.8-.2-2.9-.3 1.8-.1-1-.3 2.1-.2-2.7-.2 2.3-.2-1.2-.2 2.6-.1-5.1-.1 2.8-.2-1.5-.2 3-.1-4-.2 3.3-.1-1.7-.1 3.6-.2-5.9-.1 3.7-.1-2-.1 3.9-.1-4.9-.1 4-.1-2-.1 4.1 0-7.5-.1 4.2-.1-2.1-.1 4.2-.1-5.3 0 4.2-.1-2.1-.1 4.3-.1-7 0 4.3-.1-2.1 0 4.3-.1-5.4-.1 4.3-.1-2.2 0 4.2-.1-8.1-.1 4.1-.1-2-.1 4.1-.1-5.1-.1 4 0-1.9-.1 3.8-.2-6.1-.1 3.7-.1-1.8-.1 3.5-.1-4.2-.2 3.2-.1-1.6-.1 3-.2-5.3-.1 2.9-.2-1.4-.2 2.7-.1-3.2-.2 2.5-.1-1.2-.3 2.3-.1-3.7-.1 2.2-.2-1-.2 2-.2-2.5-.3 1.9-.2-.9-.1 1.7-.3-3.2-.2 1.6-.3-.7-.2 1.5-.2-1.9-.2 1.5-.3-.7-.4 1.3-.2-2.1-.2 1.3-.3-.6-.3 1.2-.3-1.5-.3 1.1-.5-.5-.2 1-.4-1.8-.2 1-.3-.5-.6.9-.4-1.1-.4.9-.4-.4-.5.7-.2-1.2-.4.7-.5-.3-1 .6-.6-.7-.3.5-.8-.2-1 .4-.6-.8-.8.4-1.2-.2-.7.3-1.2-.3-1.4.2-1-.1-4.2.2-1.8-.2-3 .1-1.9-.1-11.4.1-7.5-.1-2 .1-12.4 0-6.2.1-1-.2-13.1.1-4.3"/><path d="M278.27 509.04V493.90M278.27 519.82V528.35" stroke="#222" stroke-opacity="0.75" stroke-width="0.6"/><rect x="274.07" y="509.04" width="8.4" height="10.78" fill="none" stroke="#222" stroke-opacity="0.7" stroke-width="0.75"/><path d="M274.07 516.59h8.4" stroke="#111" stroke-opacity="0.8" stroke-width="1.3"/><path marker-start="url(#m2)" marker-mid="url(#m2)" marker-end="url(#m2)" d="M289.1 528.6l-1.4 0 2.7-.1-3.5 0 2.9 0-1.5 0 3 0-4.9-.1 3 0-1.5 0 3.2 0-4.1 0 3.3-.1-1.7 0 3.4 0-6.2 0 3.5 0-1.8-.1 3.6 0-4.5 0 3.6 0-1.8-.1 3.7 0-6.1 0 3.8 0-2 0 4-.1-5 0 4 0-2 0 4.1-.1-7.8 0 4.1 0-2.1 0 4.2 0-5.2 0 4.1-.1-2.1 0 4.3 0-6.9 0 4.2-.1-2.1 0 4.3 0-5.4 0 4.3 0-2.1-.1 4.3 0-7.8 0 4.3 0-2.2 0 4.3 0-5.4-.1 4.3 0-2.1 0 4.3 0-7 0 4.3-.1-2.1 0 4.2 0-5.3 0 4.2 0-2.1-.1 4.2 0-8.1 0 4.1 0-2-.1 4.1 0-5.1 0 4 0-2-.1 4 0-6.4 0 3.9 0-1.9-.1 3.8 0-4.7 0 3.7-.1-1.8 0 3.5 0-6.4-.1 3.5 0-1.7 0 3.4-.1-4.1 0 3.2-.1-1.6 0 3.1-.1-4.9 0 3 0-1.5-.1 2.8 0-3.4-.1 2.6 0-1.3-.1 2.5 0-4.6-.1 2.4 0-1.1-.1 2.1-.1-2.6 0 2-.1-.9 0 1.8-.1-2.9-.1 1.8 0-.9-.2 1.6 0-1.9-.1 1.5-.1-.7 0 1.3-.1-2.4-.1 1.3-.1-.6-.1 1.2-.1-1.4-.1 1-.1-.5 0 1-.1-1.5-.2.9-.1-.4-.1.7-.2-.9-.1.7-.2-.3-.2.5-.1-1-.3.5-.2-.2-.3.3-.1-.3-.5.2-.1-.1-1.1.1-3.7-.1-.2.1-2.6-.1-1.9.1-10.5-.1-1.5.1-1.2 0-.1 0-16.5-.1-1.1.1-2"/><path d="M289.06 525.21V521.65M289.06 527.83V528.59" stroke="#222" stroke-opacity="0.75" stroke-width="0.6"/><rect x="284.86" y="525.21" width="8.4" height="2.62" fill="none" stroke="#222" stroke-opacity="0.7" stroke-width="0.75"/><path d="M284.86 527.06h8.4" stroke="#111" stroke-opacity="0.8" stroke-width="1.3"/><path marker-start="url(#m3)" marker-mid="url(#m3)" marker-end="url(#m3)" d="M299.9 528.6l-2 0 3.9 0-4.9 0 3.9 0-1.9 0 3.9 0-6.4 0 3.9 0-1.9 0 3.9 0-4.9 0 3.9 0-1.9 0 3.9 0-7.2 0 4 0-2-.1 4 0-5 0 4 0-2 0 4 0-6.5 0 4 0-2 0 4 0-5 0 4 0-2 0 4.1 0-7.8 0 4.1 0-2.1 0 4.1 0-5.1 0 4.1 0-2 0 4.1 0-6.7 0 4.1 0-2.1 0 4.2-.1-5.2 0 4.1 0-2 0 4.1 0-7.5 0 4.1 0-2 0 4.1 0-5.2 0 4.2 0-2.1 0 4.2 0-6.8 0 4.2 0-2.1 0 4.2 0-5.3 0 4.2 0-2.1 0 4.3 0-8.3-.1 4.2 0-2.1 0 4.3 0-5.4 0 4.3 0-2.1 0 4.2 0-6.9 0 4.3 0-2.2 0 4.3 0-5.4 0 4.3 0-2.1 0 4.3 0-7.8-.1 4.3 0-2.2 0 4.3 0-5.3 0 4.3 0-2.2 0 4.3 0-7 0 4.3 0-2.1 0 4.3 0-5.4 0 4.3-.1-2.1 0 4.2 0-8.1 0 4.3 0-2.2 0 4.3 0-5.3 0 4.2 0-2.1 0 4.2 0-6.8-.1 4.2 0-2.1 0 4.2 0-5.3 0 4.2 0-2.1 0 4.2 0-7.5-.1 4.1 0-2 0 4 0-5 0 4-.1-2 0 3.8 0-6.1 0 3.7-.1-1.8 0 3.5 0-4.3-.1 3.4 0-1.7 0 3.3 0-6.4-.1 3.2 0-1.5 0 2.9-.1-3.5 0 2.8 0-1.4 0 2.6 0-4.2-.1 2.6 0-1.2 0 2.4 0-3 0 2.3-.1-1.1 0 2.2 0-4 0 2.2 0"/><path d="M299.86 527.98V527.26M299.86 528.48V528.60" stroke="#222" stroke-opacity="0.75" stroke-width="0.6"/><rect x="295.66" y="527.98" width="8.4" height="0.49" fill="none" stroke="#222" stroke-opacity="0.7" stroke-width="0.75"/><path d="M295.66 528.29h8.4" stroke="#111" stroke-opacity="0.8" stroke-width="1.3"/><path marker-start="url(#m4)" marker-mid="url(#m4)" marker-end="url(#m4)" d="M310.6 528.6l-1.9 0 3.9 0-4.9 0 3.9 0-1.9 0 3.9 0-6.4 0 3.9 0-1.9 0 3.9 0-4.9 0 3.9 0-1.9 0 3.9 0-7.2 0 4 0-2-.1 4 0-5 0 4 0-2 0 4 0-6.5 0 4 0-2 0 4 0-5 0 4 0-2 0 4.1 0-7.8 0 4.1 0-2.1 0 4.1 0-5.1 0 4.1 0-2 0 4.1 0-6.7 0 4.1 0-2.1 0 4.2 0-5.2-.1 4.1 0-2 0 4.1 0-7.5 0 4.1 0-2 0 4.1 0-5.2 0 4.2 0-2.1 0 4.2 0-6.8 0 4.2 0-2.1 0 4.2 0-5.3 0 4.2 0-2.1 0 4.3 0-8.3-.1 4.2 0-2.1 0 4.2 0-5.3 0 4.3 0-2.2 0 4.3 0-6.9 0 4.3 0-2.2 0 4.3 0-5.4 0 4.3 0-2.1 0 4.3 0-7.8-.1 4.3 0-2.2 0 4.3 0-5.3 0 4.3 0-2.2 0 4.3 0-7 0 4.3 0-2.1 0 4.3 0-5.4 0 4.3-.1-2.2 0 4.3 0-8.1 0 4.3 0-2.2 0 4.3 0-5.3 0 4.2 0-2.1 0 4.2 0-6.8-.1 4.2 0-2.1 0 4.2 0-5.3 0 4.2 0-2.1 0 4.1 0-7.4-.1 4.1 0-2 0 4 0-5 0 4-.1-2 0 3.8 0-6.1 0 3.7-.1-1.8 0 3.6 0-4.4 0 3.4-.1-1.7 0 3.2 0-6.3-.1 3.2 0-1.5 0 2.9 0-3.6-.1 2.9 0-1.4 0 2.6-.1-4.2 0 2.6 0-1.2 0 2.4 0-3 0 2.3-.1-1.1 0 2.2 0-4 0 2.2 0"/><path d="M310.65 527.98V527.25M310.65 528.48V528.60" stroke="#222" stroke-opacity="0.75" stroke-width="0.6"/><rect x="306.45" y="527.98" width="8.4" height="0.49" fill="none" stroke="#222" stroke-opacity="0.7" stroke-width="0.75"/><path d="M306.45 528.29h8.4" stroke="#111" stroke-opacity="0.8" stroke-width="1.3"/><path marker-start="url(#m5)" marker-mid="url(#m5)" marker-end="url(#m5)" d="M321.4 528.6l-1.9 0 3.9 0-4.9 0 3.9 0-1.9 0 3.9 0-6.4 0 3.9 0-1.9 0 3.9 0-4.9 0 3.9 0-2 0 4 0-7.2 0 4 0-2-.1 4 0-5 0 4 0-2 0 4 0-6.5 0 4 0-2 0 4 0-5 0 4 0-2 0 4.1 0-7.8 0 4.1 0-2.1 0 4.1 0-5.1 0 4.1 0-2.1 0 4.2 0-6.7 0 4.1 0-2.1 0 4.2 0-5.2-.1 4.1 0-2 0 4.1 0-7.5 0 4.1 0-2.1 0 4.2 0-5.2 0 4.2 0-2.1 0 4.2 0-6.8 0 4.2 0-2.1 0 4.2 0-5.3 0 4.2 0-2.1 0 4.3 0-8.3-.1 4.2 0-2.1 0 4.2 0-5.3 0 4.3 0-2.2 0 4.3 0-6.9 0 4.2 0-2.1 0 4.3 0-5.4 0 4.3 0-2.1 0 4.3 0-7.8-.1 4.3 0-2.2 0 4.3 0-5.3 0 4.3 0-2.2 0 4.3 0-7 0 4.3 0-2.1 0 4.3 0-5.4 0 4.3 0-2.2-.1 4.3 0-8.1 0 4.2 0-2.1 0 4.3 0-5.3 0 4.2 0-2.1 0 4.2 0-6.8-.1 4.2 0-2.1 0 4.1 0-5.2 0 4.2 0-2.1 0 4.1 0-7.4 0 4.1-.1-2 0 4 0-5 0 4 0-2 0 3.9 0-6.3-.1 3.8 0-1.9 0 3.8 0-4.7 0 3.7-.1-1.8 0 3.5 0-6.9 0 3.5 0-1.7-.1 3.3 0-4.1 0 3.3-.1-1.6 0 3 0-4.8 0 2.9-.1-1.4 0 2.7 0-3.2-.1 2.5 0-1.2 0 2.1-.1-3.7 0 2-.1"/><path d="M321.44 527.98V527.26M321.44 528.48V528.60" stroke="#222" stroke-opacity="0.75" stroke-width="0.6"/><rect x="317.24" y="527.98" width="8.4" height="0.49" fill="none" stroke="#222" stroke-opacity="0.7" stroke-width="0.75"/><path d="M317.24 528.29h8.4" stroke="#111" stroke-opacity="0.8" stroke-width="1.3"/><path marker-start="url(#m6)" marker-mid="url(#m6)" marker-end="url(#m6)" d="M332.2 527.8l-.4-1.2 1-1.2-1.5-1.4 1.3-.5-.7-1.3 1.4-1.7-2.4-1 1.5-1-.7-1.3 1.5-.9-1.9-1.2 1.5-1.3-.8-.9 1.6-1.3-2.9-1.3 1.6-1-.8-1.2 1.7-1-2.2-.9 1.8-.7-.9-1.1 1.9-1.3-3.2-.5 2-1.3-1-.3 2.1-.9-2.7-1.3 2.2-.5-1.1-1.3 2.4-.4-4.7-1 2.5-.5-1.3-1 2.7-.6-3.5-.5 2.8-.8-1.4-.7 3-.6-5-.8 3.1-.4-1.6-.7 3.3-.4-4.2-.6 3.5-.7-1.8-.4 3.6-.5-6.6-.6 3.7-.6-1.9-.4 3.8-.5-4.8-.5 3.9-.5-2-.5 4-.1-6.5-.5 4-.5-2-.6 4.1-.5-5.2-.3 4.2-.5-2.1-.4 4.2-.3-8.2-.4 4.2-.5-2.1-.5 4.2-.4-5.3-.5 4.3-.6-2.2-.3 4.3-.6-6.9-.5 4.2-.6-2.1-.3 4.3-.4-5.4-.4 4.3-.7-2.1-.5 4.3-.4-7.8-.4 4.3-.3-2.2-.5 4.3-.3-5.3-.4 4.2-.5-2.1-.3 4.2-.5-6.8-.5 4.2-.3-2.1-.5 4.1-.4-5-.5 3.9-.5-1.9-.4 3.8-.4-7.2-.6 3.7-.6-1.8-.5 3.5-.6-4.2-.2 3.3-.7-1.6-.5 3-.9-4.8-.4 2.9-1-1.3-.2 2.5-1.1-3-.5 2.3-.9-1.1-.6 1.9-1.2-3.3-1.4 1.7-1.3-.7-1.3 1.4-.8-1.6-2 1.2-1.1-.6-2.3 1-.8-1.6-2.1 1-2.3-.5-.9.9-1.6-1.1-3 .9-1.6-.5-2.3 1-1.7-2-1.7 1-1.2-.6-2.4 1.4-1.5-2-1.5 1.7-1.5-.9-1.4 1.9-.5-3.2 0 2-.7-1-.4 2-.1-2.4-.5 1.8-.6-.9-.5 1.5-1.6-2-3 .7-9.2"/><path d="M332.24 455.91V408.74M332.24 492.26V527.80" stroke="#222" stroke-opacity="0.75" stroke-width="0.6"/><rect x="328.04" y="455.91" width="8.4" height="36.34" fill="none" stroke="#222" stroke-opacity="0.7" stroke-width="0.75"/><path d="M328.04 474.39h8.4" stroke="#111" stroke-opacity="0.8" stroke-width="1.3"/><path marker-start="url(#m7)" marker-mid="url(#m7)" marker-end="url(#m7)" d="M343 528.4l-.5-1.3 1.1-.8-1.6-.8 1.4-.6-.8-.8 1.7-.6-2.8-1 1.7-.6-.8-.9 1.8-.6-2.3-.7 1.8-1.1-.9-.8 1.9-.2-3.5-.9 2-1-1.1-.5 2.1-.7-2.6-.5 2.1-.9-1.1-.6 2.2-.5-3.6-.9 2.3-.3-1.2-.6 2.4-.7-3.1-.8 2.5-.4-1.2-.5 2.7-.8-5.2-.4 2.7-.6-1.4-.4 2.9-.6-3.8-.5 3.1-.4-1.6-.4 3.3-.4-5.5-.4 3.5-.5-1.8-.4 3.6-.3-4.6-.5 3.8-.2-1.9-.7 3.9-.2-7.2-.3 4-.5-2-.3 4.1-.3-5.2-.4 4.2-.2-2.1-.3 4.2-.3-6.9-.4 4.3-.4-2.2-.2 4.3-.3-5.4-.4 4.3-.3-2.1-.4 4.3-.3-8.4-.2 4.3-.5-2.1-.4 4.2-.1-5.3-.4 4.3-.5-2.2-.3 4.3-.3-6.9-.3 4.2-.6-2.1-.3 4.3-.2-5.4-.6 4.3-.3-2.1-.4 4.2-.2-7.7-.3 4.3-.4-2.2-.3 4.3-.1-5.3-.4 4.2-.5-2.1-.3 4.1-.3-6.6-.3 4.1-.3-2-.4 3.9-.2-4.9-.4 3.8-.4-1.8-.2 3.6-.5-6.9-.4 3.6-.3-1.7-.4 3.3-.6-4-.5 3.1-.5-1.5-.4 2.8-.4-4.3-.8 2.6-.3-1.2-.6 2.3-.5-2.8-.9 2-.7-.9-.6 1.7-.7-2.9-1.1 1.5-1.1-.6-1.5 1.1-1-1.3-1.4 1-1.3-.5-1.8.8-.9-1.2-2.7.7-1.5-.4-1.1.7-2.6-.8-2.1.6-1.1-.3-2.1.6-2.9-1.1-1.7.5-2.1-.3-2.4.6-1.4-.7-2.4.6-2.8-.4-1.3.9-.7-1.4-1.5.8-1.4-.3-.4.5-9.9-.6-1 .5-1.4-.2-3.3.3-4.5-.6-1.5.3-5.5"/><path d="M343.03 476.55V435.00M343.03 504.27V528.38" stroke="#222" stroke-opacity="0.75" stroke-width="0.6"/><rect x="338.83" y="476.55" width="8.4" height="27.72" fill="none" stroke="#222" stroke-opacity="0.7" stroke-width="0.75"/><path d="M338.83 491.33h8.4" stroke="#111" stroke-opacity="0.8" stroke-width="1.3"/><path marker-start="url(#m8)" marker-mid="url(#m8)" marker-end="url(#m8)" d="M353.8 528.6l-.9-.1 1.9-.1-2.5 0 2.1-.1-1.2 0 2.5-.1-4.1-.1 2.6 0-1.4-.1 2.8-.1-3.6 0 2.9-.1-1.5-.1 3.2 0-5.8-.1 3.2 0-1.7-.1 3.5 0-4.4-.1 3.5-.1-1.8 0 3.7-.1-6 0 3.7-.1-1.9 0 3.8-.1-4.7-.1 3.8 0-1.9-.1 3.9 0-7.5-.1 3.9-.1-2 0 4.1 0-5.1-.1 4.1-.1-2.1 0 4.2-.1-6.8 0 4.2-.1-2.1-.1 4.2 0-5.3 0 4.2-.1-2.1 0 4.3-.1-7.7 0 4.2-.1-2.1 0 4.3-.1-5.4 0 4.3-.1-2.1 0 4.3-.1-7 0 4.3-.1-2.2 0 4.3-.1-5.3 0 4.2-.1-2.1 0 4.2-.1-8.3 0 4.3-.1-2.1 0 4.2-.1-5.3 0 4.2-.1-2 0 4.1-.1-6.7-.1 4.1 0-2 0 4-.1-5-.1 4 0-2-.1 3.9 0-7.1-.1 3.9-.1-1.9 0 3.8-.1-4.7 0 3.7 0-1.8-.1 3.6-.1-5.8 0 3.5-.1-1.7 0 3.4-.1-4.2 0 3.3-.1-1.6-.1 3.2 0-6.1-.1 3.2 0-1.5-.2 2.9 0-3.5-.1 2.7-.1-1.3 0 2.5-.2-4 0 2.4-.2-1.1 0 2.2-.1-2.7-.1 2.1-.1-1-.2 1.8 0-3.2-.2 1.7-.1-.8-.1 1.5-.2-1.7-.1 1.3-.2-.6-.2 1-.2-1.6-.2.9-.2-.4-.3.8-.2-.9-.4.6-.2-.3-.3.6-.2-1.1-.5.5-.4-.2-.2.4-.5-.4-.7.3-.4-.1-.5.2-.6-.4-1 .3-.5-.2-.1.2-1.1-.1-1.4.1-3-.1-1.2.2-2-.3-.1.1-14.2"/><path d="M353.82 522.13V516.02M353.82 526.44V528.55" stroke="#222" stroke-opacity="0.75" stroke-width="0.6"/><rect x="349.62" y="522.13" width="8.4" height="4.31" fill="none" stroke="#222" stroke-opacity="0.7" stroke-width="0.75"/><path d="M349.62 524.60h8.4" stroke="#111" stroke-opacity="0.8" stroke-width="1.3"/><rect x="261.00" y="367.00" width="99.30" height="169.20" fill="none" stroke="#333" stroke-width="1.07"/><path d="M366.85 509.35H466.15M366.85 470.85H466.15M366.85 432.35H466.15M366.85 393.85H466.15" stroke="#EBEBEB" stroke-width="0.55" fill="none"/><path d="M366.85 528.60H466.15M366.85 490.10H466.15M366.85 451.60H466.15M366.85 413.10H466.15M366.85 374.60H466.15M373.33 367.00V536.20M384.12 367.00V536.20M394.91 367.00V536.20M405.71 367.00V536.20M416.50 367.00V536.20M427.29 367.00V536.20M438.09 367.00V536.20M448.88 367.00V536.20M459.67 367.00V536.20" stroke="#EBEBEB" stroke-width="1.1" fill="none"/><path marker-start="url(#m0)" marker-mid="url(#m0)" marker-end="url(#m0)" d="M373.3 528.4l-1.2-.4 2.5-.1-3.3-.3 2.7-.4-1.4-.2 3.1-.4-5.2-.4 3.2-.2-1.7-.4 3.5-.2-4.5-.5 3.7-.3-1.9-.2 3.9-.4-7.1-.3 4-.3-2.1-.4 4.2-.4-5.2-.3 4.1-.4-2.1-.3 4.3-.2-6.9-.3 4.2-.4-2.1-.3 4.3-.4-5.4-.4 4.3-.2-2.1-.5 4.2-.2-8.1-.5 4.3-.3-2.2-.4 4.3-.4-5.3-.2 4.2-.5-2.1-.2 4.2-.5-6.8-.3 4.2-.3-2.1-.3 4.1-.5-5.1-.3 4.1-.3-2.1-.3 4.1-.4-7.3-.5 4-.4-2-.2 4-.3-5-.4 4-.6-2-.2 3.9-.5-6.3-.2 3.9-.5-1.9-.3 3.7-.4-4.6-.4 3.6-.4-1.8-.4 3.6-.5-7-.2 3.6-.6-1.8-.4 3.5-.4-4.3-.5 3.4-.4-1.7-.4 3.4-.3-5.4-.6 3.3-.6-1.6-.3 3.2-.5-4-.3 3.2-.7-1.6-.4 3.1-.2-5.6-.5 3.1-.7-1.5-.5 2.9-.5-3.7-.4 3-.3-1.5-.8 2.9-.4-4.6-.5 2.8-.5-1.4-.4 2.7-.6-3.3-.4 2.6-.7-1.3-.4 2.5-.7-4.7-.4 2.4-.8-1.1-.4 2.3-.8-2.8-.7 2.2-.5-1.1-.6 2.1-.7-3.3-.9 2-.5-1-.8 1.8-.6-2.2-.9 1.7-.6-.8-.9 1.5-1-2.7-.7 1.5-1.4-.7-.9 1.3-1.4-1.5-1.1 1.1-1.2-.5-1.2 1-1.8-1.6-.5 1-1.5-.5-2 .9-.5-1.1-2.3.9-1-.5-1.5 1-1.7-2-1.3 1-1.4-.5-1.2 1.1-1.1-1.5-1.5 1.3-.6-.7-1.4 1.4-.7-2.2-.7 1.3-.1-.7-.7 1.3-1.5-1.5-.4 1.1-1.6-.5-2.1.6-3.1-.9-1.4.5-.9"/><path d="M373.33 482.09V438.20M373.33 516.59V528.36" stroke="#222" stroke-opacity="0.75" stroke-width="0.6"/><rect x="369.13" y="482.09" width="8.4" height="34.50" fill="none" stroke="#222" stroke-opacity="0.7" stroke-width="0.75"/><path d="M369.13 502.57h8.4" stroke="#111" stroke-opacity="0.8" stroke-width="1.3"/><path marker-start="url(#m1)" marker-mid="url(#m1)" marker-end="url(#m1)" d="M384.1 528.4l-.5-.2 1.2-.3-1.7-.2 1.4-.3-.8-.2 1.7-.3-2.8-.2 1.8-.3-1-.3 1.9-.2-2.4-.3 2-.1-1-.4 2-.2-3.8-.2 2.2-.2-1.1-.2 2.2-.3-2.8-.3 2.2-.1-1.1-.2 2.3-.3-3.8-.1 2.4-.3-1.3-.2 2.6-.2-3.3-.2 2.7-.2-1.4-.2 2.9-.1-5.5-.2 2.9-.2-1.5-.2 3.1-.1-4.1-.2 3.4-.2-1.7-.1 3.5-.2-5.8-.1 3.6-.1-1.9-.2 3.8-.1-4.8-.1 3.9-.2-2-.1 4.1-.1-7.4-.1 4.1-.2-2.1 0 4.2-.2-5.2-.1 4.2-.1-2.1-.1 4.2-.1-6.9-.2 4.3-.1-2.2-.1 4.3-.1-5.4-.1 4.3-.1-2.1-.1 4.3-.1-8.4-.1 4.3-.1-2.1-.2 4.2-.1-5.2-.1 4.1-.1-2-.1 4-.2-6.6-.2 4.1-.1-2-.1 4-.1-5-.2 3.9-.1-1.9-.1 3.9-.2-7-.1 3.8-.1-1.9-.1 3.8-.2-4.7-.1 3.7-.2-1.8-.1 3.6-.1-5.8-.2 3.5-.1-1.7-.1 3.4-.2-4.2-.1 3.3-.2-1.6-.1 3.1-.2-5.8-.2 3-.2-1.5-.1 2.8-.1-3.4-.3 2.7-.1-1.3-.3 2.4-.2-3.8-.1 2.3-.3-1.1-.2 2.1-.2-2.5-.3 1.9-.3-.9-.3 1.6-.4-2.9-.2 1.6-.4-.7-.3 1.3-.1-1.6-.4 1.2-.5-.5-.4 1-.5-1.6-.6.9-.4-.4-.4.7-1-.8-.4.6-.7-.3-1 .5-.8-1-.9.5-.4-.2-1.6.4-.6-.5-1.5.5-1.2-.3-.6.6-.4-.9-1.1.5-.1-.2-1.4.2-7-.2-4.6.2-12.6-.1-17.5.1-13.3-.2-3.5.1-11.8"/><path d="M384.12 510.12V494.57M384.12 520.59V528.38" stroke="#222" stroke-opacity="0.75" stroke-width="0.6"/><rect x="379.92" y="510.12" width="8.4" height="10.47" fill="none" stroke="#222" stroke-opacity="0.7" stroke-width="0.75"/><path d="M379.92 516.13h8.4" stroke="#111" stroke-opacity="0.8" stroke-width="1.3"/><path marker-start="url(#m2)" marker-mid="url(#m2)" marker-end="url(#m2)" d="M394.9 528.6l-1.2 0 2.5 0-3.2-.1 2.6 0-1.4 0 2.8 0-4.5-.1 2.8 0-1.5 0 3 0-3.8 0 3.1-.1-1.6 0 3.2 0-5.8 0 3.2-.1-1.6 0 3.3 0-4.2 0 3.4 0-1.7-.1 3.5 0-5.8 0 3.6 0-1.8 0 3.7-.1-4.7 0 3.8 0-1.9 0 3.8 0-7.4-.1 3.9 0-1.9 0 3.9 0-5 0 4.1-.1-2.1 0 4.1 0-6.7 0 4.2-.1-2.1 0 4.2 0-5.3 0 4.2 0-2.1-.1 4.3 0-7.7 0 4.2 0-2.1 0 4.3-.1-5.4 0 4.3 0-2.2 0 4.3 0-6.9-.1 4.3 0-2.2 0 4.3 0-5.4 0 4.3-.1-2.1 0 4.3 0-8.4 0 4.3 0-2.1-.1 4.2 0-5.3 0 4.2 0-2.1-.1 4.2 0-6.8 0 4.2 0-2.1-.1 4.1 0-5.1 0 4.1 0-2-.1 4 0-7.2 0 3.9 0-1.9 0 3.9-.1-4.9 0 3.9 0-1.9 0 3.7-.1-6 0 3.7 0-1.9 0 3.6-.1-4.4 0 3.5 0-1.7 0 3.4-.1-6.5 0 3.4 0-1.7-.1 3.3 0-4 0 3.1-.1-1.5 0 3 0-4.8-.1 2.9 0-1.4-.1 2.7 0-3.3 0 2.6-.1-1.3 0 2.3-.1-4.1 0 2.2-.1-1-.1 2 0-2.4-.1 1.9 0-.9-.1 1.6-.1-2.5-.1 1.4 0-.6-.2 1.2-.1-1.4-.1 1-.1-.5-.1.8-.2-1.5-.1.7-.2-.2-.2.4-.2-.5-.2.4-.2-.2-.2.2-.8-.2-.5.1-1.3 0-1.4.1 0-.1-8.1 0-2.4 0-2.9.1-1-.2-.6.1-2.7"/><path d="M394.91 525.98V523.38M394.91 527.83V528.58" stroke="#222" stroke-opacity="0.75" stroke-width="0.6"/><rect x="390.71" y="525.98" width="8.4" height="1.85" fill="none" stroke="#222" stroke-opacity="0.7" stroke-width="0.75"/><path d="M390.71 527.06h8.4" stroke="#111" stroke-opacity="0.8" stroke-width="1.3"/><path marker-start="url(#m3)" marker-mid="url(#m3)" marker-end="url(#m3)" d="M405.7 528.6l-1.9 0 3.8 0-4.8 0 3.9 0-2 0 3.9 0-6.3 0 3.9 0-2 0 4 0-5 0 4 0-2 0 4 0-7.2 0 4 0-2-.1 3.9 0-4.9 0 4 0-2 0 4 0-6.6 0 4.1 0-2.1 0 4.1 0-5.1 0 4.1 0-2 0 4 0-7.7 0 4 0-2 0 4.1 0-5.1 0 4.1 0-2.1 0 4.1 0-6.7 0 4.2 0-2.1 0 4.1-.1-5.2 0 4.2 0-2.1 0 4.2 0-7.6 0 4.2 0-2.1 0 4.2 0-5.2 0 4.1 0-2 0 4.2 0-6.9 0 4.2 0-2.1 0 4.2 0-5.2 0 4.2 0-2.1 0 4.2 0-8.3-.1 4.3 0-2.2 0 4.3 0-5.3 0 4.2 0-2.1 0 4.3 0-7 0 4.3 0-2.1 0 4.3 0-5.4 0 4.3 0-2.2 0 4.3 0-7.8-.1 4.3 0-2.1 0 4.3 0-5.4 0 4.3 0-2.1 0 4.3 0-7 0 4.3 0-2.2 0 4.3 0-5.3 0 4.2-.1-2.1 0 4.3 0-8.2 0 4.3 0-2.1 0 4.2 0-5.3 0 4.3 0-2.2 0 4.3 0-6.9-.1 4.2 0-2.1 0 4.2 0-5.2 0 4.2 0-2.1 0 4.1 0-7.4-.1 4.1 0-2.1 0 4 0-4.9 0 3.9-.1-1.9 0 3.8 0-6.1 0 3.7-.1-1.9 0 3.6 0-4.4-.1 3.5 0-1.7 0 3.2 0-6.3-.1 3.1 0-1.5 0 3 0-3.6-.1 2.8 0-1.3 0 2.6-.1-4.2 0 2.5 0-1.2 0 2.4 0-2.9 0 2.3-.1-1.2 0 2.3 0-4.1 0 2.3 0"/><path d="M405.71 527.98V527.25M405.71 528.48V528.60" stroke="#222" stroke-opacity="0.75" stroke-width="0.6"/><rect x="401.51" y="527.98" width="8.4" height="0.49" fill="none" stroke="#222" stroke-opacity="0.7" stroke-width="0.75"/><path d="M401.51 528.29h8.4" stroke="#111" stroke-opacity="0.8" stroke-width="1.3"/><path marker-start="url(#m4)" marker-mid="url(#m4)" marker-end="url(#m4)" d="M416.5 528.6l-1.9 0 3.9 0-4.9 0 3.9 0-2 0 3.9 0-6.3 0 3.9 0-2 0 4 0-5 0 4 0-2 0 4 0-7.2 0 3.9 0-1.9-.1 3.9 0-5 0 4.1 0-2.1 0 4.1 0-6.6 0 4.1 0-2.1 0 4.1 0-5.1 0 4.1 0-2.1 0 4.1 0-7.8 0 4.1 0-2 0 4.1 0-5.2 0 4.2 0-2.1 0 4.1 0-6.7 0 4.1 0-2 0 4.1 0-5.2-.1 4.2 0-2.1 0 4.2 0-7.6 0 4.2 0-2.1 0 4.2 0-5.3 0 4.2 0-2.1 0 4.3 0-6.9 0 4.2 0-2.1 0 4.2 0-5.3 0 4.3 0-2.1 0 4.2 0-8.3-.1 4.3 0-2.2 0 4.3 0-5.3 0 4.2 0-2.1 0 4.3 0-7 0 4.3 0-2.1 0 4.3 0-5.4 0 4.3 0-2.2 0 4.3 0-7.8-.1 4.3 0-2.1 0 4.3 0-5.4 0 4.3 0-2.1 0 4.3 0-7 0 4.3 0-2.2 0 4.3 0-5.3 0 4.2 0-2.1-.1 4.3 0-8.2 0 4.3 0-2.1 0 4.2 0-5.3 0 4.3 0-2.2 0 4.3 0-6.9-.1 4.2 0-2.1 0 4.2 0-5.2 0 4.1 0-2 0 4.1 0-7.4 0 4-.1-2 0 4 0-5 0 4 0-2 0 4 0-6.4 0 3.9 0-1.9 0 3.8-.1-4.8 0 3.8 0-1.9 0 3.8 0-7.4 0 3.7-.1-1.8 0 3.6 0-4.4 0 3.5-.1-1.7 0 3.2 0-5.1-.1 3.1 0-1.4 0 2.7-.1-3.3 0 2.6 0-1.3-.1 2.2-.1-3.8 0 1.9-.9"/><path d="M416.50 527.98V527.25M416.50 528.48V528.60" stroke="#222" stroke-opacity="0.75" stroke-width="0.6"/><rect x="412.30" y="527.98" width="8.4" height="0.49" fill="none" stroke="#222" stroke-opacity="0.7" stroke-width="0.75"/><path d="M412.30 528.29h8.4" stroke="#111" stroke-opacity="0.8" stroke-width="1.3"/><path marker-start="url(#m5)" marker-mid="url(#m5)" marker-end="url(#m5)" d="M427.3 528.6l-2 0 3.9 0-4.8 0 3.9 0-2 0 3.9 0-6.4 0 4 0-2 0 4 0-5 0 4 0-2 0 4 0-7.2 0 3.9-.1-2 0 4 0-5 0 4 0-2 0 4.1 0-6.6 0 4.1 0-2.1 0 4.1 0-5.1 0 4.1 0-2.1 0 4.1 0-7.8 0 4.1 0-2 0 4.1 0-5.2 0 4.2 0-2.1 0 4.1 0-6.7 0 4.1 0-2 0 4.1 0-5.2-.1 4.2 0-2.1 0 4.2 0-7.6 0 4.2 0-2.1 0 4.2 0-5.3 0 4.2 0-2.1 0 4.3 0-6.9 0 4.2 0-2.1 0 4.2 0-5.3 0 4.3 0-2.1 0 4.2 0-8.3-.1 4.3 0-2.2 0 4.3 0-5.3 0 4.2 0-2.1 0 4.3 0-7 0 4.3 0-2.1 0 4.2 0-5.3 0 4.3 0-2.2 0 4.3 0-7.8-.1 4.3 0-2.1 0 4.3 0-5.4 0 4.3 0-2.1 0 4.2 0-6.9 0 4.3 0-2.2 0 4.3 0-5.3 0 4.2-.1-2.1 0 4.3 0-8.2 0 4.3 0-2.1 0 4.2 0-5.3 0 4.2 0-2.1 0 4.2 0-6.8-.1 4.2 0-2.1 0 4.2 0-5.2 0 4.1 0-2 0 4 0-7.3 0 4-.1-2 0 4 0-5 0 4 0-2 0 4 0-6.4 0 3.9 0-1.9 0 3.8 0-4.8-.1 3.8 0-1.9 0 3.8 0-7.4 0 3.7 0-1.8-.1 3.6 0-4.4 0 3.5 0-1.7-.1 3.2 0-5.1 0 3.1-.1-1.4 0 2.8 0-3.4-.1 2.5-.1-1.2 0 2.1-.1-1.8-2.6 0-1.1"/><path d="M427.29 527.98V527.31M427.29 528.48V528.60" stroke="#222" stroke-opacity="0.75" stroke-width="0.6"/><rect x="423.09" y="527.98" width="8.4" height="0.49" fill="none" stroke="#222" stroke-opacity="0.7" stroke-width="0.75"/><path d="M423.09 528.29h8.4" stroke="#111" stroke-opacity="0.8" stroke-width="1.3"/><path marker-start="url(#m6)" marker-mid="url(#m6)" marker-end="url(#m6)" d="M438.1 527.9l-.5-1 1.1-1.1-1.6-.9 1.4-.9-.8-1.2 1.6-.4-2.7-1.3 1.7-.8-.9-.9 1.8-1-2.3-.8 1.9-1.5-.9-.4 1.9-1.2-3.5-.8 1.9-1-1-.9 2-.5-2.5-.9 2-1.4-1-.4 2.1-1-3.4-.7 2.1-.9-1.1-.9 2.1-.7-2.6-.9 2.1-.9-1.1-1 2.3-.4-4.3-1.2 2.3-.6-1.2-.6 2.4-1-3.1-.7 2.5-.8-1.3-.3 2.6-1-4.2-.8 2.6-.6-1.3-.8 2.6-.6-3.3-.4 2.7-.9-1.4-.5 2.8-.6-5-.8 2.7-.6-1.4-.9 2.9-.2-3.6-.7 2.9-.9-1.5-.7 3-.2-4.9-.9 3-.6-1.5-.6 3.1-.6-3.9-.7 3.2-.5-1.6-.4 3.2-.5-6.4-.9 3.3-.3-1.7-.5 3.5-.5-4.4-.7 3.5-.8-1.8-.4 3.7-.4-6.1-.7 3.8-.5-1.9-.6 3.9-.4-5-.4 4.1-.6-2.1-.4 4.2-.4-7.6-.3 4.2-.4-2.1-.4 4.3-.4-5.4-.3 4.3-.5-2.2-.3 4.3-.4-6.9-.4 4.3-.3-2.2-.5 4.3-.4-5.3-.3 4.2-.4-2.1-.3 4.1-.5-7.7-.4 4-.3-2-.5 3.9-.4-4.7-.7 3.7-.3-1.8-.7 3.4-.3-5.4-.7 3.2-.7-1.5-.3 2.9-.8-3.5-.5 2.7-.8-1.3-.8 2.2-1.1-3.9-.4 2.1-1.1-.9-1.6 1.6-.9-1.8-1.6 1.3-1.4-.6-1 1.2-1.3-1.8-2 1-1.4-.5-2.1 1-1.7-1.2-1.1 1-1.6-.5-2.3 1-1.1-2.1-1.3 1.1-2.1-.6-1.7 1.2-1.9-1.6-.9 1.3-1.4-.7-1.2 1.5-.2-2.3-.1 1.4-2.7-.7-1.5 1.3-.3-1.6 0 1.2-1.7-.5-3.7.7-2.8-1.2-.9.6-1.2"/><path d="M438.09 457.76V407.86M438.09 496.72V527.89" stroke="#222" stroke-opacity="0.75" stroke-width="0.6"/><rect x="433.89" y="457.76" width="8.4" height="38.96" fill="none" stroke="#222" stroke-opacity="0.7" stroke-width="0.75"/><path d="M433.89 474.39h8.4" stroke="#111" stroke-opacity="0.8" stroke-width="1.3"/><path marker-start="url(#m7)" marker-mid="url(#m7)" marker-end="url(#m7)" d="M448.9 527.9l-.6-.7 1.2-.8-1.7-.7 1.5-.9-.8-1.3 1.7-.8-2.9-1 1.8-.5-.9-.7 1.9-1.1-2.5-.9 2-.6-1-1.1 2.1-.5-3.8-.7 2.1-.9-1.1-.6 2.2-1.1-2.7-.8 2.2-.5-1.1-.6 2.3-.7-3.8-.9 2.3-.7-1.2-.5 2.5-1.1-3.2-.5 2.6-.8-1.3-.5 2.8-.8-5.4-.5 2.9-.6-1.5-.5 3-.7-3.9-.4 3.2-.6-1.6-.4 3.4-.7-5.7-.5 3.5-.3-1.8-.7 3.7-.2-4.7-.5 3.8-.4-1.9-.4 4-.6-7.2-.3 4-.6-2.1-.3 4.1-.4-5.1-.3 4.1-.6-2.1-.4 4.3-.2-6.9-.5 4.2-.4-2.1-.4 4.3-.1-5.4-.5 4.3-.6-2.2-.1 4.3-.6-8.3-.4 4.2-.3-2.1-.4 4.3-.3-5.4-.5 4.3-.5-2.1-.5 4.2-.2-6.9-.4 4.3-.5-2.1-.5 4.2-.5-5.3-.5 4.2-.3-2.1-.4 4.2-.4-7.5-.4 4.1-.5-2.1-.2 4.1-.5-5.1-.4 4.1-.2-2-.6 4-.4-6.5-.2 4-.5-2-.4 3.8-.3-4.6-.7 3.6-.3-1.8-.4 3.5-.7-6.6-.3 3.4-.5-1.6-.5 3.2-.6-3.8-.7 2.9-.5-1.4-.5 2.7-.6-4.2-.6 2.5-1-1.2-.4 2.2-.9-2.6-.5 2-.9-1-1.1 1.7-.7-2.8-1.5 1.4-1.2-.6-1 1.1-2.3-1.2-1.1.9-2-.4-2.1.8-1.2-1.3-2.9.8-1.3-.4-2 .7-2.6-.9-1.6.7-2.4-.3-2 .6-3-1.3-2.5.7-1.8-.4-2.4.8-1.5-1-2.3.8-1.5-.4-2.5.9-1.2-1.5-.8.9-2.5-.4-1.4.8-.2-1-3.9.8-3.6-.4-.4.7-1.5-1.2-2 .6-.9"/><path d="M448.88 468.23V420.03M448.88 501.50V527.92" stroke="#222" stroke-opacity="0.75" stroke-width="0.6"/><rect x="444.68" y="468.23" width="8.4" height="33.26" fill="none" stroke="#222" stroke-opacity="0.7" stroke-width="0.75"/><path d="M444.68 486.25h8.4" stroke="#111" stroke-opacity="0.8" stroke-width="1.3"/><path marker-start="url(#m8)" marker-mid="url(#m8)" marker-end="url(#m8)" d="M459.7 528.6l-.8-.1 1.5 0-2-.2 1.7 0-.9 0 2-.1-3.4-.1 2.1-.1-1.1 0 2.4-.1-3 0 2.4-.1-1.3-.1 2.7 0-4.9-.1 2.7 0-1.4-.1 2.9-.1-3.7-.1 3 0-1.5-.1 3.2 0-5.3-.1 3.3 0-1.7-.1 3.4 0-4.3-.1 3.5-.1-1.7 0 3.5-.1-6.8 0 3.6 0-1.9-.1 3.8-.1-4.7 0 3.7-.1-1.9 0 3.9-.1-6.3 0 3.9-.1-2 0 4 0-5-.1 4 0-2-.1 4.1 0-7.5-.1 4.2 0-2.1 0 4.2-.1-5.3 0 4.2-.1-2.1 0 4.3 0-6.9-.1 4.2 0-2.1-.1 4.3 0-5.4-.1 4.3 0-2.2 0 4.3-.1-8.4 0 4.3-.1-2.1 0 4.3 0-5.4-.1 4.3 0-2.1-.1 4.2 0-6.9 0 4.3-.1-2.1 0 4.2-.1-5.3 0 4.2-.1-2.1 0 4.1 0-7.4-.1 4.1 0-2-.1 4 0-5 0 4-.1-2 0 3.9-.1-6.3 0 3.8-.1-1.8 0 3.7 0-4.6-.1 3.6 0-1.8-.1 3.5 0-6.6-.1 3.4 0-1.6-.1 3.2 0-3.9-.1 3.1-.1-1.5 0 2.9-.1-4.7 0 2.8-.1-1.3-.1 2.6-.1-3.1 0 2.3-.1-1.1-.1 2.1-.1-3.7-.1 2-.1-.9-.1 1.7-.1-2-.1 1.5-.1-.7-.1 1.3-.1-2-.2 1.1-.2-.5-.2.9-.1-1-.3.7-.2-.3-.3.6-.2-1.2-.3.6-.3-.3-.4.5-.3-.5-.2.4-.4-.2-1 .2-2.1-.2-.5.1-9.5-.1-.2.1-5.4-.1-4.9.1-3.1 0-1.3.1-11-.3-.1.2-6.1"/><path d="M459.67 523.06V518.47M459.67 526.44V528.59" stroke="#222" stroke-opacity="0.75" stroke-width="0.6"/><rect x="455.47" y="523.06" width="8.4" height="3.39" fill="none" stroke="#222" stroke-opacity="0.7" stroke-width="0.75"/><path d="M455.47 524.90h8.4" stroke="#111" stroke-opacity="0.8" stroke-width="1.3"/><rect x="366.85" y="367.00" width="99.30" height="169.20" fill="none" stroke="#333" stroke-width="1.07"/><path d="M472.70 509.35H572.00M472.70 470.85H572.00M472.70 432.35H572.00M472.70 393.85H572.00" stroke="#EBEBEB" stroke-width="0.55" fill="none"/><path d="M472.70 528.60H572.00M472.70 490.10H572.00M472.70 451.60H572.00M472.70 413.10H572.00M472.70 374.60H572.00M479.18 367.00V536.20M489.97 367.00V536.20M500.76 367.00V536.20M511.56 367.00V536.20M522.35 367.00V536.20M533.14 367.00V536.20M543.94 367.00V536.20M554.73 367.00V536.20M565.52 367.00V536.20" stroke="#EBEBEB" stroke-width="1.1" fill="none"/><path marker-start="url(#m0)" marker-mid="url(#m0)" marker-end="url(#m0)" d="M479.2 528.5l-1-.7 2-.6-2.8-.8 2.4-.4-1.3-.7 2.8-.7-4.7-.5 2.9-.4-1.5-.5 3.2-.9-4.1-.3 3.3-.9-1.7-.4 3.5-.7-6.3-.4 3.5-.7-1.8-.5 3.6-.6-4.5-.8 3.6-.2-1.8-.8 3.6-.7-5.9-.3 3.7-.9-1.9-.5 3.7-.6-4.6-.3 3.7-.7-1.9-.6 3.7-.5-7-.5 3.7-.8-1.9-.6 3.7-.6-4.6-.4 3.7-.7-1.8-.5 3.7-.8-6.1-.3 3.8-.8-1.9-.4 3.7-.6-4.6-.4 3.7-.9-1.9-.4 3.8-.6-6.8-.5 3.7-.7-1.8-.5 3.7-.6-4.7-.6 3.8-.3-1.9-.7 3.8-.6-6.2-.6 3.8-.6-1.9-.5 3.8-.5-4.7-.8 3.8-.6-1.9-.4 3.8-.8-7.5-.5 3.8-.2-1.9-.6 3.9-.8-4.9-.4 3.9-.6-2-.8 4.1-.3-6.6-.6 4.1-.6-2.1-.7 4.1-.2-5.2-.7 4.2-.5-2.1-.6 4.3-.3-7.8-.7 4.3-.4-2.1-.5 4.3-.2-5.4-.6 4.3-.5-2.2-.6 4.3-.4-6.9-.4 4.2-.4-2.1-.4 4.2-.6-5.2-.4 4.1-.5-2-.4 3.9-.4-7.4-.7 3.9-.7-1.9-.6 3.6-.3-4.4-.5 3.5-.7-1.7-.6 3.2-.6-5-1.1 3-.6-1.4-.7 2.6-.7-3.1-1 2.3-.9-1.1-.8 2-1.1-3.5-.9 1.9-1.5-.8-1.2 1.5-1.5-1.8-1.8 1.3-1.5-.6-1.5 1.1-2.1-1.7-1.4 1-3.1-.5-1.6 1-1.1-1.2-3.2.9-2.1-.4-1.8 1-2.1-2.1-.8 1.1-2.9-.6-1.2 1.3-2.3-1.8-1.2 1.5-2.5-.8-1.1 1.6-1.1-2.7-.1 1.7 0-.8-.2 1.6-2.3-2-.4 1.5-1.4-.6-3 .9-.9-1.5-2.2.7-6.9"/><path d="M479.18 466.85V406.02M479.18 507.50V528.49" stroke="#222" stroke-opacity="0.75" stroke-width="0.6"/><rect x="474.98" y="466.85" width="8.4" height="40.66" fill="none" stroke="#222" stroke-opacity="0.7" stroke-width="0.75"/><path d="M474.98 486.87h8.4" stroke="#111" stroke-opacity="0.8" stroke-width="1.3"/><path marker-start="url(#m1)" marker-mid="url(#m1)" marker-end="url(#m1)" d="M490 528.4l-.4-.2.8-.2-1.1-.3.9-.2-.5-.3 1.1-.3-1.8-.3 1.1-.2-.6-.2 1.3-.3-1.6-.1 1.3-.4-.7-.2 1.4-.1-2.5-.2 1.4-.4-.8 0 1.5-.3-1.9-.1 1.6-.4-.8-.2 1.7-.1-2.9-.2 1.8-.1-.9-.2 2-.2-2.6-.1 2.2-.2-1.2-.2 2.6-.2-5-.1 2.7 0-1.5-.3 3-.1-3.9 0 3.2-.2-1.7-.1 3.5 0-5.8-.1 3.7-.2-1.9 0 3.8-.1-4.9-.1 4-.1-2 0 4.1-.1-7.5-.1 4.2 0-2.1-.1 4.2-.1-5.3 0 4.2-.1-2.1 0 4.3-.1-7 0 4.3-.1-2.1-.1 4.3 0-5.4-.1 4.3 0-2.2-.1 4.2-.1-8.1 0 4.1-.1-2 0 4.1-.1-5-.1 3.9-.1-1.9-.1 3.8 0-6.1-.2 3.7 0-1.8-.1 3.5-.1-4.3-.1 3.3-.2-1.6-.1 3-.1-5.3-.1 2.9-.2-1.4 0 2.7-.2-3.3-.1 2.6-.2-1.2-.1 2.3-.1-3.7-.2 2.2-.1-1.1-.1 2.1-.2-2.5-.2 1.9-.1-.9-.2 1.8-.2-3.4-.1 1.7-.3-.8-.1 1.6-.2-1.9-.2 1.5-.2-.7-.2 1.3-.3-2.1-.3 1.3-.1-.6-.2 1.2-.3-1.5-.2 1.2-.3-.6-.2 1.1-.3-2-.3 1.1-.2-.5-.4.9-.2-1.1-.3.9-.3-.4-.4.7-.3-1.2-.5.7-.5-.3-.5.6-.2-.7-.5.5-.9-.2-.6.4-.4-.8-.9.4-.7-.2-.6.3-1.1-.3-1.1.3-1-.2-.7.3-.3-.3-10.7.1-3.1-.1-7 .1-4.8-.1-7 .1-3.4 0-3.1 0-8.1-.1-12.3.1-4.9"/><path d="M489.97 512.74V500.43M489.97 521.36V528.44" stroke="#222" stroke-opacity="0.75" stroke-width="0.6"/><rect x="485.77" y="512.74" width="8.4" height="8.62" fill="none" stroke="#222" stroke-opacity="0.7" stroke-width="0.75"/><path d="M485.77 518.74h8.4" stroke="#111" stroke-opacity="0.8" stroke-width="1.3"/><path marker-start="url(#m2)" marker-mid="url(#m2)" marker-end="url(#m2)" d="M500.8 528.6l-1.6 0 3.2 0-4.1 0 3.3-.1-1.7 0 3.4 0-5.5 0 3.4 0-1.7 0 3.4 0-4.4-.1 3.6 0-1.8 0 3.7 0-6.7-.1 3.7 0-1.9 0 3.8 0-4.8 0 3.9-.1-2 0 4 0-6.5 0 4-.1-2 0 4.1 0-5.2 0 4.2-.1-2.1 0 4.2 0-8 0 4.2-.1-2.1 0 4.2 0-5.3-.1 4.3 0-2.2 0 4.3 0-7-.1 4.3 0-2.1 0 4.3-.1-5.4 0 4.3 0-2.1-.1 4.2 0-7.6 0 4.1-.1-2 0 4.1-.1-5.1 0 4 0-1.9 0 3.8-.1-6.2 0 3.8-.1-1.9 0 3.7-.1-4.5 0 3.5-.1-1.7 0 3.3-.1-6.5 0 3.3 0-1.5-.1 3-.1-3.7 0 2.9-.1-1.4 0 2.8-.1-4.4 0 2.6-.1-1.2-.1 2.4 0-3-.1 2.4-.1-1.2 0 2.2-.1-3.9-.1 2.1-.1-1-.1 2 0-2.4-.1 1.8-.1-.8 0 1.6-.2-2.6-.1 1.6-.1-.8 0 1.5-.1-1.8-.2 1.4-.1-.7-.1 1.3-.1-2.4-.1 1.2-.1-.6-.1 1.2-.1-1.4-.2 1.1-.1-.5-.2 1-.1-1.6-.1.9-.1-.4-.3.9-.1-1.1-.2.8-.1-.4-.1.8-.2-1.4-.2.7-.2-.3-.1.7-.2-.9-.2.7-.3-.3-.1.6-.2-.9-.2.5-.3-.3-.3.5-.3-.5-.4.3-.2-.1-.5.3-.5-.6-.1.3-.8-.2-.3.3-.4-.3-.9.2-.4-.1-.9.1-.6-.1-1.8.1-1-.1-.1.1-3.2-.1-6 .1-1.2 0-1.1 0-25.6-.1-1 .1-25.8"/><path d="M500.76 522.44V515.09M500.76 527.83V528.60" stroke="#222" stroke-opacity="0.75" stroke-width="0.6"/><rect x="496.56" y="522.44" width="8.4" height="5.39" fill="none" stroke="#222" stroke-opacity="0.7" stroke-width="0.75"/><path d="M496.56 526.29h8.4" stroke="#111" stroke-opacity="0.8" stroke-width="1.3"/><path marker-start="url(#m3)" marker-mid="url(#m3)" marker-end="url(#m3)" d="M511.6 528.6l-2 0 3.9 0-4.9 0 3.9 0-1.9 0 3.9 0-6.4 0 3.9 0-1.9 0 3.9 0-4.9 0 3.9 0-1.9 0 3.9 0-7.2 0 4 0-2-.1 4 0-5 0 4 0-2 0 4 0-6.5 0 4 0-2 0 4 0-5 0 4 0-2 0 4.1 0-7.8 0 4.1 0-2.1 0 4.1 0-5.1 0 4.1 0-2 0 4.1 0-6.7 0 4.1 0-2.1 0 4.2 0-5.2-.1 4.1 0-2 0 4.1 0-7.5 0 4.1 0-2 0 4.1 0-5.2 0 4.2 0-2.1 0 4.2 0-6.8 0 4.2 0-2.1 0 4.2 0-5.3 0 4.2 0-2.1 0 4.3 0-8.3-.1 4.2 0-2.1 0 4.3 0-5.4 0 4.3 0-2.1 0 4.2 0-6.9 0 4.3 0-2.2 0 4.3 0-5.4 0 4.3 0-2.1 0 4.3 0-7.8-.1 4.3 0-2.2 0 4.3 0-5.3 0 4.3 0-2.2 0 4.3 0-7 0 4.3 0-2.1 0 4.3 0-5.4 0 4.3 0-2.1-.1 4.2 0-8.1 0 4.3 0-2.2 0 4.3 0-5.3 0 4.2 0-2.1 0 4.2 0-6.8-.1 4.2 0-2.1 0 4.2 0-5.2 0 4.1 0-2.1 0 4.1 0-7.4-.1 4.1 0-2 0 4 0-5 0 4-.1-2 0 3.8 0-6.1 0 3.7-.1-1.8 0 3.6 0-4.4-.1 3.4 0-1.7 0 3.2 0-6.3-.1 3.2 0-1.5 0 2.9 0-3.5-.1 2.8 0-1.4 0 2.6-.1-4.2 0 2.6 0-1.2 0 2.4 0-3 0 2.3-.1-1.1 0 2.2 0-4 0 2.2 0"/><path d="M511.56 527.98V527.26M511.56 528.48V528.60" stroke="#222" stroke-opacity="0.75" stroke-width="0.6"/><rect x="507.36" y="527.98" width="8.4" height="0.49" fill="none" stroke="#222" stroke-opacity="0.7" stroke-width="0.75"/><path d="M507.36 528.29h8.4" stroke="#111" stroke-opacity="0.8" stroke-width="1.3"/><path marker-start="url(#m4)" marker-mid="url(#m4)" marker-end="url(#m4)" d="M522.4 528.6l-2 0 3.9 0-4.9 0 3.9 0-1.9 0 3.9 0-6.4 0 3.9 0-1.9 0 3.9 0-4.9 0 3.9 0-1.9 0 3.9 0-7.2 0 4-.1-2 0 4 0-5 0 4 0-2 0 4 0-6.5 0 4 0-2 0 4 0-5 0 4 0-2 0 4.1 0-7.8 0 4.1 0-2.1 0 4.1 0-5.1 0 4.1 0-2 0 4.1 0-6.7 0 4.1 0-2.1 0 4.2 0-5.2-.1 4.1 0-2 0 4.1 0-7.5 0 4.1 0-2 0 4.1 0-5.2 0 4.2 0-2.1 0 4.2 0-6.8 0 4.2 0-2.1 0 4.2 0-5.3 0 4.2 0-2.1 0 4.3 0-8.3-.1 4.2 0-2.1 0 4.2 0-5.3 0 4.3 0-2.2 0 4.3 0-6.9 0 4.3 0-2.2 0 4.3 0-5.4 0 4.3 0-2.1 0 4.3 0-7.8-.1 4.3 0-2.2 0 4.3 0-5.3 0 4.3 0-2.2 0 4.3 0-7 0 4.3 0-2.1 0 4.3 0-5.4 0 4.3-.1-2.2 0 4.3 0-8.1 0 4.3 0-2.2 0 4.3 0-5.3 0 4.2 0-2.1 0 4.2 0-6.8-.1 4.2 0-2.1 0 4.2 0-5.3 0 4.2 0-2.1 0 4.1 0-7.4-.1 4.1 0-2 0 4 0-5 0 3.9-.1-1.9 0 3.8 0-6.1 0 3.7-.1-1.8 0 3.5 0-4.3-.1 3.4 0-1.7 0 3.2 0-6.3-.1 3.2 0-1.5 0 2.9 0-3.6-.1 2.9 0-1.4 0 2.6 0-4.2-.1 2.6 0-1.3 0 2.5 0-3 0 2.3-.1-1.1 0 2.2 0-4 0 2.2 0"/><path d="M522.35 527.98V527.25M522.35 528.48V528.60" stroke="#222" stroke-opacity="0.75" stroke-width="0.6"/><rect x="518.15" y="527.98" width="8.4" height="0.49" fill="none" stroke="#222" stroke-opacity="0.7" stroke-width="0.75"/><path d="M518.15 528.29h8.4" stroke="#111" stroke-opacity="0.8" stroke-width="1.3"/><path marker-start="url(#m5)" marker-mid="url(#m5)" marker-end="url(#m5)" d="M533.1 528.6l-1.9 0 3.9 0-4.9 0 3.9 0-1.9 0 3.9 0-6.4 0 3.9 0-1.9 0 3.9 0-4.9 0 3.9 0-2 0 4 0-7.2 0 4 0-2-.1 4 0-5 0 4 0-2 0 4 0-6.5 0 4 0-2 0 4 0-5 0 4 0-2 0 4.1 0-7.8 0 4.1 0-2.1 0 4.1 0-5.1 0 4.1 0-2.1 0 4.2 0-6.7 0 4.1 0-2.1 0 4.2-.1-5.2 0 4.1 0-2 0 4.1 0-7.5 0 4.1 0-2.1 0 4.2 0-5.2 0 4.2 0-2.1 0 4.2 0-6.9 0 4.3 0-2.1 0 4.2 0-5.3 0 4.2 0-2.1 0 4.3 0-8.3-.1 4.2 0-2.1 0 4.2 0-5.3 0 4.3 0-2.2 0 4.3 0-6.9 0 4.2 0-2.1 0 4.3 0-5.4 0 4.3 0-2.1 0 4.3 0-7.8-.1 4.3 0-2.2 0 4.3 0-5.3 0 4.3 0-2.2 0 4.3 0-7 0 4.3 0-2.1 0 4.3 0-5.4 0 4.3-.1-2.2 0 4.3 0-8.1 0 4.2 0-2.1 0 4.3 0-5.3 0 4.2 0-2.1 0 4.2 0-6.8-.1 4.2 0-2.1 0 4.1 0-5.1 0 4.1 0-2.1 0 4.1 0-7.4 0 4.1-.1-2 0 4 0-5 0 4 0-2 0 3.9 0-6.4 0 4 0-2 0 3.9-.1-4.8 0 3.8 0-1.9 0 3.7 0-7.3 0 3.7-.1-1.8 0 3.5 0-4.3 0 3.4 0-1.7-.1 3.3 0-5.2 0 3.1-.1-1.4 0 2.8-.1-3.4 0 2.6 0-1.2-.1 2.1-.1-3.1-.3 1.3-.6"/><path d="M533.14 527.98V527.29M533.14 528.48V528.60" stroke="#222" stroke-opacity="0.75" stroke-width="0.6"/><rect x="528.94" y="527.98" width="8.4" height="0.49" fill="none" stroke="#222" stroke-opacity="0.7" stroke-width="0.75"/><path d="M528.94 528.29h8.4" stroke="#111" stroke-opacity="0.8" stroke-width="1.3"/><path marker-start="url(#m6)" marker-mid="url(#m6)" marker-end="url(#m6)" d="M543.9 527.8l-.6-.6 1.4-.8-2-1 1.7-.9-1-.7 2.1-1.2-3.5-.9 2.2-.7-1.1-.9 2.3-.9-3-.8 2.5-.6-1.3-1 2.6-.6-4.7-1 2.6-1-1.3-.5 2.6-.7-3.3-1.1 2.7-.9-1.4-.7 2.8-.5-4.5-.8 2.8-.9-1.5-.9 2.9-.4-3.6-1.1 2.9-.8-1.5-.2 3.1-1.1-5.9-.8 3.1-.2-1.6-1.1 3.3-.6-4.1-.5 3.3-.7-1.7-.8 3.4-.5-5.6-.6 3.5-.6-1.8-.6 3.6-.6-4.5-.8 3.6-.5-1.8-.8 3.7-.3-6.7-.5 3.7-.7-1.9-.6 3.8-.6-4.8-.4 3.9-.8-2-.5 3.9-.6-6.3-.3 3.9-.6-2-.6 4-.6-5-.5 4-.3-2-.6 4.1-.8-8-.5 4.1-.5-2-.6 4.1-.5-5.2-.5 4.1-.3-2-.7 4.1-.5-6.8-.5 4.2-.7-2.1-.7 4.2-.4-5.2-.4 4.2-.7-2.1-.5 4.3-.5-7.8-.3 4.3-.8-2.2-.2 4.3-.6-5.3-.6 4.2-.2-2.1-.8 4.3-.3-6.9-.6 4.2-.4-2.1-.4 4.2-.7-5.2-.4 4.1-.3-2.1-.7 4-.4-7.5-.5 3.9-.7-1.9-.4 3.7-.8-4.5-.3 3.6-.8-1.8-.5 3.3-.9-5.2-.3 3.2-.8-1.5-.8 2.9-.5-3.5-1.2 2.6-.6-1.3-.6 2.4-1.1-4.1-.8 2.2-1.1-1-1 1.8-1.3-2.1-1.5 1.6-.9-.8-1.9 1.5-1.3-2.3-1.7 1.4-1.1-.7-1.5 1.3-1.6-1.7-.9 1.4-2.2-.7-1.6 1.4-1-2.7-1.2 1.3-1.9-.6-1.6 1.3-1.4-1.7-1.2 1.4-1-.7-2.3 1.4-.2-2.4-3.9 1.5-.6-.7-1.5 1.5-.4-1.9-.3 1.5-.7-.7-.6 1.2-2.7-2.1-.7 1.1-1.4"/><path d="M543.94 459.15V412.64M543.94 499.80V527.84" stroke="#222" stroke-opacity="0.75" stroke-width="0.6"/><rect x="539.74" y="459.15" width="8.4" height="40.66" fill="none" stroke="#222" stroke-opacity="0.7" stroke-width="0.75"/><path d="M539.74 479.32h8.4" stroke="#111" stroke-opacity="0.8" stroke-width="1.3"/><path marker-start="url(#m7)" marker-mid="url(#m7)" marker-end="url(#m7)" d="M554.7 528.1l-.7-.4 1.5-.7-2.1-.7 1.8-.4-1-.8 2.2-.6-3.7-.5 2.3-.4-1.2-.7 2.5-.7-3.2-.4 2.6-.5-1.3-.7 2.7-.7-4.9-.3 2.7-.6-1.4-.6 2.8-.4-3.5-.8 2.8-.4-1.4-.5 2.9-.6-4.8-.4 3-.6-1.5-.5 3.1-.7-4-.4 3.2-.5-1.6-.5 3.4-.5-6.4-.3 3.3-.4-1.7-.6 3.5-.6-4.5-.2 3.7-.6-1.9-.4 3.8-.6-6.2-.1 3.8-.6-1.9-.3 3.9-.3-5-.6 4.1-.2-2.1-.4 4.2-.5-7.5-.3 4.1-.3-2.1-.3 4.2-.4-5.3-.5 4.3-.4-2.1-.1 4.3-.6-7-.3 4.3-.3-2.2-.2 4.3-.4-5.3-.3 4.2-.4-2.1-.3 4.3-.5-8.3-.4 4.2-.2-2.1-.5 4.2-.3-5.2-.5 4.1-.3-2-.3 4.1-.6-6.7-.2 4.1-.6-2-.3 4-.5-5-.4 4-.4-2-.4 3.9-.2-7-.4 3.8-.5-1.9-.3 3.8-.4-4.7-.5 3.8-.3-1.9-.6 3.6-.4-5.8-.3 3.5-.4-1.7-.5 3.4-.3-4.2-.3 3.3-.8-1.6-.4 3.1-.5-5.9-.5 3.1-.2-1.5-.6 2.9-.6-3.5-.4 2.7-.8-1.3-.7 2.5-.5-3.9-.8 2.3-.5-1.1-.9 2.1-.6-2.5-.7 1.9-.5-.9-1.3 1.6-.7-2.7-1 1.4-1-.6-1.7 1-1-1.1-2 .8-2.2-.4-1.9.8-1.1-1.2-1.5.7-2.9-.4-.9.7-2.7-.8-1.3.6-3.1-.3-1.1.7-3-1.4-1.7.7-1.4-.4-2.3.9-2-1.2-1.1 1-1.6-.6-1.6 1.4-.6-2.3-.8 1.4-.7-.7-1.7 1.4-.6-1.7-.1 1.3-.8-.6-.6 1.2-.1-1.8-2.6.7-9.9"/><path d="M554.73 477.63V430.61M554.73 509.04V528.09" stroke="#222" stroke-opacity="0.75" stroke-width="0.6"/><rect x="550.53" y="477.63" width="8.4" height="31.42" fill="none" stroke="#222" stroke-opacity="0.7" stroke-width="0.75"/><path d="M550.53 495.49h8.4" stroke="#111" stroke-opacity="0.8" stroke-width="1.3"/><path marker-start="url(#m8)" marker-mid="url(#m8)" marker-end="url(#m8)" d="M565.5 528.6l-1.3 0 2.7-.1-3.5 0 2.8 0-1.4 0 3-.1-5 0 3.1 0-1.6 0 3.3-.1-4.2 0 3.4 0-1.7-.1 3.5 0-6.4 0 3.6 0-1.9-.1 3.7 0-4.7 0 3.8-.1-1.9 0 3.9 0-6.4-.1 4 0-2 0 4-.1-5.1 0 4.1 0-2 0 4.2-.1-8.1 0 4.3-.1-2.2 0 4.3 0-5.3 0 4.2-.1-2.1 0 4.3-.1-7 0 4.3 0-2.2-.1 4.3 0-5.3-.1 4.3 0-2.2 0 4.3-.1-7.7 0 4.2 0-2.1-.1 4.2 0-5.2-.1 4.2 0-2.1-.1 4.1 0-6.7-.1 4.1 0-2 0 4.1-.1-5.1 0 4-.1-2 0 4-.1-7.8 0 4-.1-2 0 4 0-5-.1 4-.1-2 0 3.9 0-6.3-.1 3.9 0-2-.1 3.9 0-4.8-.1 3.8 0-1.9 0 3.8-.1-6.8 0 3.7 0-1.8-.1 3.7 0-4.6-.1 3.6 0-1.8 0 3.6-.1-5.8 0 3.5 0-1.7-.1 3.5 0-4.4 0 3.5-.1-1.7 0 3.3-.1-6.3 0 3.3 0-1.6-.1 3.1 0-3.8-.1 3-.1-1.5 0 2.8-.1-4.4-.1 2.7 0-1.3-.1 2.5 0-3.1-.1 2.4-.1-1.1-.1 2-.1-3.6 0 1.9-.1-.9-.1 1.7-.1-2-.1 1.5-.2-.7 0 1.3-.2-1.9-.2 1.1-.1-.5-.1.8-.3-1-.2.8-.1-.4-.2.6-.4-1.1-.2.5-.3-.2-.3.4-.3-.4-.4.3-.5-.1-.3.2-.6-.3-.2.1-5.6 0-4.6.1-6.8-.2-.4.2-1.6-.1-3.9.1-8.3-.1-3.6 0-8.3"/><path d="M565.52 524.29V519.72M565.52 527.52V528.59" stroke="#222" stroke-opacity="0.75" stroke-width="0.6"/><rect x="561.32" y="524.29" width="8.4" height="3.23" fill="none" stroke="#222" stroke-opacity="0.7" stroke-width="0.75"/><path d="M561.32 525.98h8.4" stroke="#111" stroke-opacity="0.8" stroke-width="1.3"/><rect x="472.70" y="367.00" width="99.30" height="169.20" fill="none" stroke="#333" stroke-width="1.07"/><path d="M578.55 509.35H677.85M578.55 470.85H677.85M578.55 432.35H677.85M578.55 393.85H677.85" stroke="#EBEBEB" stroke-width="0.55" fill="none"/><path d="M578.55 528.60H677.85M578.55 490.10H677.85M578.55 451.60H677.85M578.55 413.10H677.85M578.55 374.60H677.85M585.03 367.00V536.20M595.82 367.00V536.20M606.61 367.00V536.20M617.41 367.00V536.20M628.20 367.00V536.20M638.99 367.00V536.20M649.79 367.00V536.20M660.58 367.00V536.20M671.37 367.00V536.20" stroke="#EBEBEB" stroke-width="1.1" fill="none"/><path marker-start="url(#m0)" marker-mid="url(#m0)" marker-end="url(#m0)" d="M585 528.4l-.6-1 1.4-1-2-1.1 1.7-1.3-1-.7 2.1-1.3-3.4-.4 2.1-.9-1.1-1.4 2.3-.8-2.9-.7 2.3-.9-1.2-1.2 2.4-1-4.3-.9 2.4-1-1.2-.7 2.4-1.1-3-.7 2.4-1.4-1.2-.9 2.4-.4-4-1.3 2.5-.8-1.3-.7 2.5-1.2-3.1-.6 2.5-1.1-1.2-1 2.5-.8-4.8-.8 2.5-1-1.3-.9 2.6-.9-3.2-.7 2.5-1-1.2-1.1 2.5-.9-4.1-.4 2.5-1.3-1.3-.6 2.6-.9-3.2-1.3 2.6-.4-1.3-1 2.6-1.2-4.7-.8 2.6-.5-1.3-1.5 2.6-.7-3.3-.8 2.6-.8-1.3-.7 2.7-.9-4.4-.8 2.7-1.1-1.3-.8 2.7-1.1-3.5-.9 2.9-.6-1.5-.8 3-.9-5.9-.9 3.1-.6-1.6-.6 3.2-1.1-4.1-.3 3.3-1-1.7-1 3.5-.5-5.7-.7 3.5-.4-1.8-.7 3.7-.7-4.7-.6 3.8-.6-1.9-.6 4-.5-7.3-.8 4-.4-2-.8 4.1-.4-5.2-.4 4.2-.8-2.1-.5 4.3-.3-7-.7 4.3-.5-2.2-.2 4.3-.6-5.3-.6 4.3-.6-2.2-.3 4.2-.7-8-.4 4.2-.6-2-.4 4-.6-5-.5 4-.7-1.9-.6 3.7-.6-6-.3 3.6-1-1.7-.5 3.4-.6-4.2-.7 3.3-1.1-1.6-.8 3-.3-5.3-1.1 2.8-.9-1.3-.7 2.6-.9-3.1-1.4 2.4-.8-1.2-1.2 2.3-.8-3.7-1 2.2-1.1-1-1.7 2.1-.5-2.7-1.2 2.1-1.3-1-1 2.1-1.1-4.2-.9 2.1-1.1-1.1-1.2 2.3-1.2-2.9-1.2 2.3-1-1.1-.9 2.3-.3-3.7-1.1 2.2-1.3-1.1-.2 2.2-.4-2.6-1 2-.5-1-2.1 1.5-1.4-2.3-1.8 1.1-.7"/><path d="M585.03 444.05V407.86M585.03 495.03V528.37" stroke="#222" stroke-opacity="0.75" stroke-width="0.6"/><rect x="580.83" y="444.05" width="8.4" height="50.97" fill="none" stroke="#222" stroke-opacity="0.7" stroke-width="0.75"/><path d="M580.83 464.69h8.4" stroke="#111" stroke-opacity="0.8" stroke-width="1.3"/><path marker-start="url(#m1)" marker-mid="url(#m1)" marker-end="url(#m1)" d="M595.8 528.3l-.3-.2.8-.5-1.2-.4 1-.3-.6-.4 1.2-.4-1.9-.3 1.2-.3-.7-.5 1.3-.4-1.6-.4 1.3-.3-.6-.3 1.3-.2-2.5-.4 1.4-.4-.7-.2 1.5-.5-2-.2 1.6-.4-.8-.3 1.7-.2-2.8-.3 1.8-.2-1-.3 2-.2-2.5-.2 2.1-.4-1.1-.1 2.3-.2-4.6-.3 2.5-.2-1.4-.3 2.8-.2-3.6 0 3-.2-1.6-.3 3.3-.1-5.4-.1 3.4-.2-1.8-.1 3.7-.2-4.7-.1 3.8-.1-1.9-.1 3.9-.2-7.2-.1 4-.1-2.1-.1 4.2-.1-5.2-.1 4.2-.1-2.1-.1 4.2-.1-6.9-.1 4.3-.1-2.2-.1 4.3-.1-5.4-.1 4.3-.1-2.1-.1 4.2-.1-8.2-.1 4.2-.1-2.1-.2 4.2 0-5.2-.2 4.1-.1-2-.1 3.9-.2-6.3-.1 3.9-.1-1.9-.2 3.7-.1-4.6-.1 3.6-.2-1.8-.1 3.5-.2-6.2-.1 3.4-.2-1.7-.1 3.3-.2-4-.2 3.1-.1-1.5-.2 3-.1-4.8-.2 2.9-.1-1.4-.2 2.8-.1-3.5-.2 2.7-.2-1.3-.2 2.5-.2-4.7-.2 2.4-.2-1.1-.2 2.3-.2-2.8-.1 2.1-.3-1-.2 2-.3-3.1-.2 1.8-.3-.8-.3 1.6-.3-2-.2 1.5-.4-.7-.2 1.4-.5-2.4-.4 1.3-.3-.6-.2 1.1-.6-1.4-.2 1.1-.6-.5-.5.9-.5-1.4-.4.8-.8-.4-.4.7-.5-.8-.7.6-1.1-.3-.6.5-.8-.9-.7.4-1.3-.2-1.1.4-.6-.4-1.9.3-.8-.1-1.2.2-2.2-.4-.8.2-15.4 0-5.7.1-7-.1-7.3.1-4.4-.1-.2.2-4.5-.4-.3.2-10.8"/><path d="M595.82 506.42V489.57M595.82 517.67V528.31" stroke="#222" stroke-opacity="0.75" stroke-width="0.6"/><rect x="591.62" y="506.42" width="8.4" height="11.24" fill="none" stroke="#222" stroke-opacity="0.7" stroke-width="0.75"/><path d="M591.62 513.35h8.4" stroke="#111" stroke-opacity="0.8" stroke-width="1.3"/><path marker-start="url(#m2)" marker-mid="url(#m2)" marker-end="url(#m2)" d="M606.6 528.6l-1.2-.1 2.5 0-3.3 0 2.7-.1-1.4 0 2.9-.1-4.8 0 3 0-1.6-.1 3.2 0-4 0 3.3-.1-1.7 0 3.5-.1-6.5 0 3.6-.1-1.8 0 3.8-.1-4.9 0 3.9 0-1.9-.1 4 0-6.6-.1 4.1 0-2.1-.1 4.2 0-5.3-.1 4.3 0-2.2 0 4.3-.1-8.1 0 4.2-.1-2.1 0 4.3 0-5.4-.1 4.3 0-2.1-.1 4.3-.1-7 0 4.3 0-2.1-.1 4.2 0-5.3-.1 4.2 0-2.1-.1 4.2 0-7.5 0 4.1-.1-2 0 4-.1-5 0 4 0-2-.1 3.9 0-6.3-.1 3.8 0-1.9-.1 3.8-.1-4.6 0 3.6-.1-1.8 0 3.5-.1-6.8 0 3.5-.1-1.7 0 3.3-.1-4.1-.1 3.2 0-1.5-.1 3 0-4.8-.1 2.9-.1-1.4-.1 2.7-.1-3.3 0 2.6-.1-1.3-.1 2.5-.1-4.4 0 2.4-.1-1.1-.1 2.2-.1-2.7-.1 2.1-.1-1 0 1.9-.2-3.1-.1 1.9-.1-.9-.1 1.7-.1-2.1-.2 1.6-.1-.8-.1 1.5-.1-2.8-.1 1.5-.1-.7-.1 1.3-.2-1.6-.1 1.3-.2-.6-.2 1.1-.1-1.8-.2 1.1-.2-.5-.1 1-.2-1.3-.2 1-.2-.5-.2 1-.2-1.7-.1.9-.2-.4-.2.8-.2-1-.3.8-.2-.4-.2.6-.3-.9-.2.5-.5-.2-.2.4-.4-.5-.4.4-.5-.2-.3.4-.4-.7-.5.3-.4-.1-.7.2-.7-.3-.4.3-.7-.1-1 .2 0-.3-3.8.1-.5 0-1.2.1-2.4-.1-1.1.1-4.2-.1-.8.2-.4-.3-8.7.1-18.3"/><path d="M606.61 520.90V512.47M606.61 527.06V528.58" stroke="#222" stroke-opacity="0.75" stroke-width="0.6"/><rect x="602.41" y="520.90" width="8.4" height="6.16" fill="none" stroke="#222" stroke-opacity="0.7" stroke-width="0.75"/><path d="M602.41 525.21h8.4" stroke="#111" stroke-opacity="0.8" stroke-width="1.3"/><path marker-start="url(#m3)" marker-mid="url(#m3)" marker-end="url(#m3)" d="M617.4 528.6l-1.9 0 3.9 0-4.9 0 3.9 0-2 0 4 0-6.4 0 3.9 0-2 0 4 0-5 0 4 0-2 0 4 0-7.2 0 4 0-2-.1 4 0-5.1 0 4.1 0-2 0 4 0-6.6 0 4.1 0-2.1 0 4.1 0-5.1 0 4.1 0-2 0 4 0-7.8 0 4.1 0-2 0 4.1 0-5.1 0 4.1 0-2.1 0 4.1 0-6.7 0 4.2 0-2.1 0 4.1 0-5.2-.1 4.2 0-2.1 0 4.2 0-7.6 0 4.2 0-2.1 0 4.2 0-5.3 0 4.3 0-2.2 0 4.3 0-6.9 0 4.2 0-2.1 0 4.3 0-5.3 0 4.2 0-2.1 0 4.2 0-8.3-.1 4.3 0-2.2 0 4.3 0-5.3 0 4.2 0-2.1 0 4.3 0-7 0 4.3 0-2.1 0 4.3 0-5.4 0 4.3 0-2.2 0 4.3 0-7.8-.1 4.3 0-2.1 0 4.3 0-5.4 0 4.3 0-2.1 0 4.3 0-7 0 4.3 0-2.2 0 4.3 0-5.3 0 4.2 0-2.1-.1 4.3 0-8.2 0 4.3 0-2.1 0 4.2 0-5.3 0 4.3 0-2.1 0 4.2 0-6.9-.1 4.2 0-2.1 0 4.2 0-5.2 0 4.1 0-2 0 4.1 0-7.4 0 4-.1-2 0 4 0-5 0 4 0-2 0 4 0-6.4 0 3.9 0-1.9 0 3.8 0-4.8-.1 3.8 0-1.9 0 3.8 0-7.4 0 3.7 0-1.8-.1 3.6 0-4.4 0 3.5 0-1.7-.1 3.2 0-5.1 0 3.1-.1-1.4 0 2.8 0-3.4-.1 2.5-.1-1.2 0 2.2-.1-2.6-.5.7-1.9"/><path d="M617.41 527.98V527.28M617.41 528.48V528.60" stroke="#222" stroke-opacity="0.75" stroke-width="0.6"/><rect x="613.21" y="527.98" width="8.4" height="0.49" fill="none" stroke="#222" stroke-opacity="0.7" stroke-width="0.75"/><path d="M613.21 528.29h8.4" stroke="#111" stroke-opacity="0.8" stroke-width="1.3"/><path marker-start="url(#m4)" marker-mid="url(#m4)" marker-end="url(#m4)" d="M628.2 528.6l-1.9 0 3.8 0-4.8 0 3.9 0-2 0 3.9 0-6.3 0 3.9 0-2 0 4 0-5 0 4 0-2 0 4 0-7.2 0 3.9 0-1.9-.1 3.9 0-4.9 0 4 0-2.1 0 4.1 0-6.6 0 4.1 0-2.1 0 4.1 0-5.1 0 4.1 0-2.1 0 4.1 0-7.7 0 4 0-2 0 4.1 0-5.1 0 4.1 0-2.1 0 4.1 0-6.7 0 4.1 0-2 0 4.1 0-5.2-.1 4.2 0-2.1 0 4.2 0-7.6 0 4.2 0-2.1 0 4.2 0-5.3 0 4.2 0-2.1 0 4.3 0-6.9 0 4.2 0-2.1 0 4.2 0-5.3 0 4.3 0-2.1 0 4.2 0-8.3-.1 4.3 0-2.2 0 4.3 0-5.3 0 4.2 0-2.1 0 4.3 0-7 0 4.3 0-2.1 0 4.2 0-5.3 0 4.3 0-2.2 0 4.3 0-7.8-.1 4.3 0-2.1 0 4.3 0-5.4 0 4.3 0-2.1 0 4.3 0-7 0 4.3 0-2.2 0 4.3 0-5.3 0 4.2-.1-2.1 0 4.3 0-8.2 0 4.3 0-2.1 0 4.2 0-5.3 0 4.3 0-2.2 0 4.3 0-6.9-.1 4.2 0-2.1 0 4.2 0-5.2 0 4.1 0-2 0 4.1 0-7.4 0 4-.1-2 0 4 0-4.9 0 3.9 0-2 0 4 0-6.4-.1 3.9 0-1.9 0 3.7 0-4.6 0 3.7-.1-1.9 0 3.6 0-7 0 3.5 0-1.7-.1 3.4 0-4.1 0 3.2 0-1.5-.1 3 0-4.8 0 2.9-.1-1.4 0 2.7 0-3.2-.1 2.4 0-1.2 0 2.2-.1-3.9 0 2.1-.1"/><path d="M628.20 527.98V527.26M628.20 528.48V528.60" stroke="#222" stroke-opacity="0.75" stroke-width="0.6"/><rect x="624.00" y="527.98" width="8.4" height="0.49" fill="none" stroke="#222" stroke-opacity="0.7" stroke-width="0.75"/><path d="M624.00 528.29h8.4" stroke="#111" stroke-opacity="0.8" stroke-width="1.3"/><path marker-start="url(#m5)" marker-mid="url(#m5)" marker-end="url(#m5)" d="M639 528.6l-2 0 3.9 0-4.8 0 3.9 0-2 0 3.9 0-6.4 0 4 0-2 0 4 0-5 0 4 0-2 0 4 0-7.2 0 3.9 0-2-.1 4 0-5 0 4 0-2 0 4.1 0-6.6 0 4.1 0-2.1 0 4.1 0-5.1 0 4.1 0-2.1 0 4.1 0-7.8 0 4.1 0-2 0 4.1 0-5.2 0 4.2 0-2.1 0 4.1 0-6.7 0 4.1 0-2 0 4.1 0-5.2-.1 4.2 0-2.1 0 4.2 0-7.6 0 4.2 0-2.1 0 4.2 0-5.3 0 4.2 0-2.1 0 4.3 0-6.9 0 4.2 0-2.1 0 4.2 0-5.3 0 4.3 0-2.1 0 4.2 0-8.3-.1 4.3 0-2.2 0 4.3 0-5.3 0 4.2 0-2.1 0 4.3 0-7 0 4.3 0-2.1 0 4.2 0-5.3 0 4.3 0-2.2 0 4.3 0-7.8-.1 4.3 0-2.1 0 4.3 0-5.4 0 4.3 0-2.1 0 4.3 0-7 0 4.3 0-2.2 0 4.3 0-5.3 0 4.2 0-2.1-.1 4.3 0-8.2 0 4.3 0-2.1 0 4.2 0-5.3 0 4.2 0-2.1 0 4.2 0-6.8-.1 4.2 0-2.1 0 4.2 0-5.2 0 4.1 0-2 0 4.1 0-7.4 0 4-.1-2 0 4 0-5 0 4 0-2 0 4 0-6.4 0 3.9 0-1.9 0 3.8 0-4.8-.1 3.8 0-1.9 0 3.8 0-7.4 0 3.7 0-1.8 0 3.6-.1-4.4 0 3.5 0-1.7-.1 3.3 0-5.2 0 3.1-.1-1.5 0 2.8-.1-3.3 0 2.5-.1-1.2 0 2.2-.1-2.6-.5.7-4.4"/><path d="M638.99 527.98V527.25M638.99 528.48V528.60" stroke="#222" stroke-opacity="0.75" stroke-width="0.6"/><rect x="634.79" y="527.98" width="8.4" height="0.49" fill="none" stroke="#222" stroke-opacity="0.7" stroke-width="0.75"/><path d="M634.79 528.29h8.4" stroke="#111" stroke-opacity="0.8" stroke-width="1.3"/><path marker-start="url(#m6)" marker-mid="url(#m6)" marker-end="url(#m6)" d="M649.8 528.5l-.6-.6 1.3-.7-1.8-.7 1.5-.5-.8-.6 1.7-.2-3-.6 1.9-.5-1-.6 2.1-.6-2.6-.6 2.1-.3-1.1-.6 2.2-.6-4-.3 2.2-.7-1.1-.2 2.3-.5-2.9-.7 2.3-.5-1.2-.5 2.4-.2-3.9-.7 2.4-.5-1.2-.4 2.5-.4-3.2-.5 2.6-.4-1.3-.4 2.7-.4-5.1-.3 2.7-.6-1.4-.3 2.8-.4-3.6-.3 2.9-.6-1.5-.2 3-.6-4.9-.3 3.1-.2-1.6-.4 3.2-.5-4-.2 3.2-.4-1.6-.4 3.3-.2-6-.4 3.3-.4-1.7-.2 3.4-.5-4.3-.2 3.5-.4-1.8-.3 3.6-.3-5.8-.2 3.6-.4-1.8-.4 3.6-.3-4.6-.3 3.7-.3-1.8-.3 3.7-.3-7.3-.2 3.7-.4-1.8-.2 3.8-.3-4.9-.5 3.9-.2-1.9-.3 3.9-.4-6.5-.3 4.1-.4-2.1-.1 4.1-.3-5.2-.3 4.2-.3-2.1-.4 4.3-.1-7.8-.4 4.3-.1-2.1-.4 4.3-.1-5.4-.3 4.3-.2-2.1-.2 4.2-.3-6.9-.2 4.2-.2-2.1-.2 4.2-.3-5.2-.2 4.1-.4-2-.1 3.9-.3-7.3-.4 3.8-.2-1.9-.2 3.6-.4-4.3-.3 3.4-.2-1.7-.6 3.1-.2-4.8-.5 2.9-.4-1.4-.4 2.5-.4-2.9-.7 2.2-.5-1.1-.3 1.9-.7-3.2-.7 1.7-.7-.7-1 1.2-.9-1.4-.8 1-1.1-.4-.9.8-1.9-1.3-1 .8-1.4-.4-1.2.7-1.2-.8-2.4.6-1.4-.3-1.3.5-1.4-1-2.7.5-1.5-.2-2.2.4-2-.6-1.9.5-2.2-.3-1.3.6-.3-.8-3.1.4-1.4-.1-4.7.3-3-.5-4.7.4-1.2-.2-.1.3-12.2-.4-1.1.2-9.6"/><path d="M649.79 488.41V454.34M649.79 511.20V528.51" stroke="#222" stroke-opacity="0.75" stroke-width="0.6"/><rect x="645.59" y="488.41" width="8.4" height="22.79" fill="none" stroke="#222" stroke-opacity="0.7" stroke-width="0.75"/><path d="M645.59 499.34h8.4" stroke="#111" stroke-opacity="0.8" stroke-width="1.3"/><path marker-start="url(#m7)" marker-mid="url(#m7)" marker-end="url(#m7)" d="M660.6 528.4l-1.2-.5 2.4-.2-3.2-.5 2.7-.4-1.5-.4 3.1-.2-5.1-.4 3.2-.4-1.7-.3 3.5-.5-4.6-.5 3.8-.2-1.9-.5 4-.4-7.3-.5 4-.3-2-.3 4.1-.4-5.2-.3 4.2-.5-2.1-.4 4.2-.5-6.9-.2 4.3-.4-2.2-.5 4.3-.5-5.3-.2 4.3-.5-2.2-.5 4.3-.2-8.2-.5 4.3-.3-2.1-.4 4.3-.6-5.4-.2 4.3-.5-2.2-.3 4.3-.6-6.9-.3 4.2-.5-2.1-.2 4.3-.3-5.3-.4 4.2-.6-2.1-.4 4.2-.4-7.6-.3 4.2-.5-2.1-.2 4.2-.5-5.3-.4 4.2-.4-2.1-.4 4.2-.4-6.7-.5 4.1-.5-2.1-.4 4.1-.5-5.1-.3 4.1-.5-2-.4 4-.2-7.9-.7 4-.3-1.9-.4 3.9-.3-4.9-.5 3.9-.7-1.9-.2 3.9-.4-6.4-.6 3.9-.5-1.9-.4 3.9-.4-4.9-.5 3.9-.4-1.9-.4 3.8-.5-7-.4 3.9-.5-1.9-.2 3.8-.5-4.8-.4 3.8-.3-1.9-.5 3.7-.4-5.9-.6 3.6-.3-1.8-.5 3.5-.3-4.3-.7 3.4-.4-1.7-.5 3.3-.3-6.1-.9 3.1-.5-1.5-.2 2.9-.7-3.5-.5 2.8-.7-1.3-.6 2.4-.6-3.8-1 2.3-.7-1.1-.6 2-.9-2.4-.9 1.8-.5-.8-1.3 1.5-.6-2.6-1.5 1.3-1.2-.5-2 .9-1.9-1.1-1.4.9-1.4-.4-2.9.7-1.7-1.1-2.3.6-1.6-.3-2.5.6-3.1-.7-1.8.6-2.9-.3-1.6.6-3.5-1.2-1.6.6-2.5-.4-2.1.8-1.7-1.2-2.7 1.1-2.3-.6-1 1.3-.4-2.2-.1 1.4-.5-.7-.3 1.3-2.6-1.6-.3 1.2-1.1-.5-1.4.4-5.5-.6-1.7.3-7.6"/><path d="M660.58 480.24V430.19M660.58 514.43V528.43" stroke="#222" stroke-opacity="0.75" stroke-width="0.6"/><rect x="656.38" y="480.24" width="8.4" height="34.19" fill="none" stroke="#222" stroke-opacity="0.7" stroke-width="0.75"/><path d="M656.38 499.34h8.4" stroke="#111" stroke-opacity="0.8" stroke-width="1.3"/><path marker-start="url(#m8)" marker-mid="url(#m8)" marker-end="url(#m8)" d="M671.4 528.6l-1.7 0 3.4 0-4.3 0 3.5 0-1.8-.1 3.6 0-5.9 0 3.6 0-1.8 0 3.7 0-4.6 0 3.7 0-1.9-.1 3.8 0-6.9 0 3.8 0-1.9 0 3.9 0-4.9 0 3.9 0-2-.1 4 0-6.5 0 4 0-2 0 4.1 0-5.1 0 4.1-.1-2.1 0 4.2 0-8 0 4.2 0-2.1 0 4.2 0-5.3-.1 4.3 0-2.2 0 4.3 0-6.9 0 4.2 0-2.1 0 4.3-.1-5.4 0 4.3 0-2.1 0 4.3 0-7.8 0 4.3 0-2.2 0 4.3-.1-5.3 0 4.2 0-2.1 0 4.3 0-7 0 4.3 0-2.1 0 4.2-.1-5.3 0 4.2 0-2.1 0 4.2 0-8.1-.1 4.1 0-2 0 4.1 0-5.1 0 4-.1-2 0 4 0-6.3-.1 3.8 0-1.9 0 3.7-.1-4.5 0 3.5 0-1.7-.1 3.3 0-5.8-.1 3.1 0-1.4-.1 2.7-.1-3.3 0 2.5-.1-1.1-.1 2.1 0-3.3-.1 1.9-.1-.8-.1 1.5-.1-1.8-.1 1.4-.1-.7-.1 1.2-.1-2.2-.1 1.1-.1-.5-.1 1-.2-1.2-.1.9-.1-.4-.1.8-.1-1.3-.1.8-.1-.4-.2.8-.1-1-.2.8-.1-.4-.1.7-.2-1.2-.1.6-.1-.3-.1.7-.2-.8-.1.6-.2-.3-.2.5-.2-.8-.2.5-.1-.2-.3.4-.2-.5-.2.3-.2-.1-.4.3-.3-.6-.3.3-.2-.1-.4.2-.4-.3-.2.2-.6 0-.9 0-1.1-.1-.8.1-4.5-.1-.4.2-.5-.2-.6.1-.7 0-.2 0-.9-.1-2.9.1-3.8"/><path d="M671.37 524.29V518.79M671.37 528.14V528.59" stroke="#222" stroke-opacity="0.75" stroke-width="0.6"/><rect x="667.17" y="524.29" width="8.4" height="3.85" fill="none" stroke="#222" stroke-opacity="0.7" stroke-width="0.75"/><path d="M667.17 527.52h8.4" stroke="#111" stroke-opacity="0.8" stroke-width="1.3"/><rect x="578.55" y="367.00" width="99.30" height="169.20" fill="none" stroke="#333" stroke-width="1.07"/><rect x="677.85" y="367.00" width="20.4" height="169.20" fill="#D9D9D9" stroke="#333" stroke-width="1.07"/><text x="0" y="0" transform="translate(683.15,453.15) rotate(90)" text-anchor="middle" font-size="11.2" fill="#1A1A1A" font-family="'Liberation Sans', Arial, sans-serif">48</text><path d="M46.3 374.60H49.30" stroke="#333" stroke-width="1.07"/><text x="43" y="377.90" text-anchor="end" font-size="9.2" fill="#4D4D4D" font-family="'Liberation Sans', Arial, sans-serif">100%</text><path d="M46.3 413.10H49.30" stroke="#333" stroke-width="1.07"/><text x="43" y="416.40" text-anchor="end" font-size="9.2" fill="#4D4D4D" font-family="'Liberation Sans', Arial, sans-serif">75%</text><path d="M46.3 451.60H49.30" stroke="#333" stroke-width="1.07"/><text x="43" y="454.90" text-anchor="end" font-size="9.2" fill="#4D4D4D" font-family="'Liberation Sans', Arial, sans-serif">50%</text><path d="M46.3 490.10H49.30" stroke="#333" stroke-width="1.07"/><text x="43" y="493.40" text-anchor="end" font-size="9.2" fill="#4D4D4D" font-family="'Liberation Sans', Arial, sans-serif">25%</text><path d="M46.3 528.60H49.30" stroke="#333" stroke-width="1.07"/><text x="43" y="531.90" text-anchor="end" font-size="9.2" fill="#4D4D4D" font-family="'Liberation Sans', Arial, sans-serif">0%</text><path d="M49.30 683.90H148.60M49.30 645.40H148.60M49.30 606.90H148.60M49.30 568.40H148.60" stroke="#EBEBEB" stroke-width="0.55" fill="none"/><path d="M49.30 703.15H148.60M49.30 664.65H148.60M49.30 626.15H148.60M49.30 587.65H148.60M49.30 549.15H148.60M55.78 541.55V710.75M66.57 541.55V710.75M77.36 541.55V710.75M88.16 541.55V710.75M98.95 541.55V710.75M109.74 541.55V710.75M120.54 541.55V710.75M131.33 541.55V710.75M142.12 541.55V710.75" stroke="#EBEBEB" stroke-width="1.1" fill="none"/><path marker-start="url(#m0)" marker-mid="url(#m0)" marker-end="url(#m0)" d="M55.8 702.8l-1.2-.4 2.5-.8-3.3-.3 2.7-.9-1.5-.5 3.2-.4-5.4-.8 3.4-.4-1.8-.8 3.7-.3-4.7-.7 3.8-.5-1.9-.7 4-.4-7.3-.8 4-.6-2-.4 4.1-.8-5.2-.4 4.2-.8-2.1-.6 4.1-.4-6.7-.9 4.2-.6-2.1-.6 4.1-.6-5.1-.6 4.1-.4-2.1-.8 4.1-.3-7.8-.8 4.1-.6-2-.7 4-.7-5-.7 4-.2-2-.7 4-.5-6.5-.8 4-.5-2-.9 4-.4-5-.8 4-.6-2-.9 3.9-.2-7.1-.6 3.9-.7-1.9-.7 3.9-.9-4.9-.7 3.9-.5-1.9-.5 3.9-.7-6.4-.6 3.9-.8-1.9-.7 3.9-.4-4.9-.7 3.9-.5-1.9-.7 3.9-.8-7.8-.8 4-.6-2-.7 4.1-.6-5.1-.6 4.1-.4-2.1-.8 4.2-.7-6.9-.6 4.3-.5-2.2-.7 4.3-.2-5.3-.9 4.3-.4-2.2-.4 4.3-.6-7.8-.7 4.3-.3-2.1-.7 4.2-.6-5.2-.6 4.1-.3-2-.8 4-.4-6.5-.9 4-.4-2-.7 3.8-.7-4.6-.3 3.6-.9-1.8-.8 3.4-.4-6.3-1.2 3.2-.4-1.5-.9 3-.6-3.6-1 2.8-.8-1.3-1 2.3-1.4-3.6-1.2 2.1-1.1-.9-.9 1.7-1.9-2.1-1.2 1.6-1.7-.7-1.3 1.3-2.6-2.4-1.2 1.3-1.6-.6-2.2 1.2-2.2-1.5-1.3 1.2-1.8-.6-2.5 1.3-1.6-2.1-1.1 1.3-2.5-.7-1.4 1.4-2.1-1.7-1.3 1.4-2.5-.7 0 1.5-3-3.1-2.3 1.6-.3-.8-1.9 1.5-.2-1.8-1.1 1.4-.3-.6-2.1.8-3.1"/><path d="M55.78 640.01V587.03M55.78 683.13V702.82" stroke="#222" stroke-opacity="0.75" stroke-width="0.6"/><rect x="51.58" y="640.01" width="8.4" height="43.12" fill="none" stroke="#222" stroke-opacity="0.7" stroke-width="0.75"/><path d="M51.58 661.57h8.4" stroke="#111" stroke-opacity="0.8" stroke-width="1.3"/><path marker-start="url(#m1)" marker-mid="url(#m1)" marker-end="url(#m1)" d="M66.6 703.1l-.6-.1 1.2-.1-1.7-.1 1.5-.1-.8 0 1.7-.1-3-.1 1.9-.1-1-.1 2.1-.1-2.7 0 2.2-.1-1.1-.1 2.3-.1-4.3-.1 2.4-.1-1.2 0 2.5-.1-3.3-.1 2.7-.1-1.3 0 2.7-.1-4.6-.1 2.9-.1-1.4 0 2.9-.1-3.7-.1 3-.1-1.5 0 3.2 0-6.2-.1 3.3-.1-1.7 0 3.4-.1-4.3-.1 3.5 0-1.8-.1 3.6 0-5.9-.1 3.6-.1-1.8 0 3.7-.1-4.7 0 3.8-.1-1.9 0 3.9 0-7.1-.1 3.9-.1-2 0 4.1 0-5.1-.1 4.1 0-2.1-.1 4.2 0-6.8-.1 4.2 0-2.1-.1 4.2 0-5.3-.1 4.3 0-2.2-.1 4.3 0-8.3-.1 4.2 0-2.1-.1 4.3 0-5.4 0 4.3-.1-2.1-.1 4.2 0-6.9 0 4.3-.1-2.2 0 4.3-.1-5.3 0 4.2-.1-2.1 0 4.2 0-7.5-.1 4.1 0-2 0 4-.1-5 0 4-.1-2 0 3.9 0-6.3-.1 3.8-.1-1.8 0 3.6 0-4.5-.1 3.5-.1-1.7 0 3.3-.1-6.2 0 3.2-.1-1.5 0 3-.1-3.6-.1 2.8-.1-1.3-.1 2.4 0-3.8-.2 2.2-.1-1-.1 2 0-2.4-.2 1.8-.1-.9-.1 1.4-.2-2.4-.1 1.3-.3-.5-.1.9-.2-1.1-.1.8-.3-.3-.3.5-.5-.8-.3.5-.2-.2-.4.3-.5-.4-.3.3-.4-.1-3.6.2-.5-.4-.3.2-4.4-.1-13.2.2 0-.2-1.1.1-3.6 0-32.3 0-54.1"/><path d="M66.57 697.14V692.07M66.57 700.53V703.09" stroke="#222" stroke-opacity="0.75" stroke-width="0.6"/><rect x="62.37" y="697.14" width="8.4" height="3.39" fill="none" stroke="#222" stroke-opacity="0.7" stroke-width="0.75"/><path d="M62.37 698.84h8.4" stroke="#111" stroke-opacity="0.8" stroke-width="1.3"/><path marker-start="url(#m2)" marker-mid="url(#m2)" marker-end="url(#m2)" d="M77.4 703.1l-1.3 0 2.6 0-3.3 0 2.6 0-1.3-.1 2.8 0-4.7 0 2.9 0-1.4 0 3-.1-3.9 0 3.1 0-1.5 0 3.2-.1-5.9 0 3.3 0-1.7 0 3.4 0-4.3-.1 3.5 0-1.8 0 3.6 0-5.9-.1 3.7 0-1.9 0 3.8 0-4.8-.1 3.9 0-2 0 3.9 0-7.5-.1 4 0-2 0 4 0-5.1-.1 4.1 0-2 0 4.1 0-6.8-.1 4.2 0-2.1 0 4.2-.1-5.3 0 4.3 0-2.1 0 4.2-.1-7.7 0 4.3 0-2.2 0 4.3-.1-5.4 0 4.3 0-2.1 0 4.3-.1-7 0 4.3 0-2.1-.1 4.2 0-5.3 0 4.2 0-2.1-.1 4.2 0-8.2 0 4.2-.1-2 0 4.1 0-5.1 0 4-.1-2 0 4 0-6.5-.1 4 0-1.9 0 3.9 0-4.9-.1 3.9 0-2 0 3.8 0-6.8-.1 3.8 0-1.9 0 3.7 0-4.6-.1 3.6 0-1.7 0 3.4 0-5.6-.1 3.5 0-1.7 0 3.3-.1-4.1 0 3.2 0-1.6-.1 3.1 0-5.8-.1 3 0-1.4 0 2.8-.1-3.4 0 2.6-.1-1.2 0 2.4-.1-3.9-.1 2.3 0-1-.1 2 0-2.4-.1 1.8-.1-.9-.1 1.6-.1-2.7-.1 1.4-.1-.6-.1 1.1-.1-1.3-.1 1-.2-.4-.2.6-.1-1-.2.6-.3-.3-.2.4-.3-.4-.2.3-.6-.1-.1.1-1.7-.3-.4.2-.7-.1-1.1.1-1.6-.1-1 .1-1.2 0-2.2 0-6.5"/><path d="M77.36 700.38V697.55M77.36 702.38V703.13" stroke="#222" stroke-opacity="0.75" stroke-width="0.6"/><rect x="73.16" y="700.38" width="8.4" height="2.00" fill="none" stroke="#222" stroke-opacity="0.7" stroke-width="0.75"/><path d="M73.16 701.46h8.4" stroke="#111" stroke-opacity="0.8" stroke-width="1.3"/><path marker-start="url(#m3)" marker-mid="url(#m3)" marker-end="url(#m3)" d="M88.2 703.1l-2 0 3.9 0-4.9 0 3.9 0-1.9 0 3.9 0-6.4 0 3.9 0-1.9 0 3.9 0-4.9 0 3.9 0-1.9 0 3.9 0-7.2 0 4 0-2 0 4 0-5 0 4 0-2 0 4 0-6.5 0 4 0-2 0 4 0-5 0 4-.1-2 0 4.1 0-7.8 0 4.1 0-2.1 0 4.1 0-5.1 0 4.1 0-2 0 4.1 0-6.7 0 4.1 0-2.1 0 4.2 0-5.2 0 4.1 0-2 0 4.1 0-7.5 0 4.1 0-2-.1 4.2 0-5.3 0 4.2 0-2.1 0 4.2 0-6.8 0 4.2 0-2.1 0 4.2 0-5.3 0 4.3 0-2.2 0 4.3 0-8.3 0 4.2 0-2.1 0 4.3-.1-5.4 0 4.3 0-2.1 0 4.2 0-6.9 0 4.3 0-2.2 0 4.3 0-5.4 0 4.3 0-2.1 0 4.3 0-7.8 0 4.3-.1-2.2 0 4.3 0-5.3 0 4.3 0-2.2 0 4.3 0-7 0 4.3 0-2.1 0 4.3 0-5.4 0 4.3-.1-2.1 0 4.2 0-8.1 0 4.3 0-2.1 0 4.1 0-5.2 0 4.2-.1-2.1 0 4.1 0-6.6 0 4.1 0-2.1 0 4-.1-4.9 0 3.9 0-1.9 0 3.7-.1-6.7 0 3.7 0-1.8-.1 3.5 0-4.3 0 3.4 0-1.7-.1 3.2 0-5.1 0 3.1-.1-1.5 0 2.8 0-3.5-.1 2.7 0-1.3 0 2.6 0-5 0 2.5-.1-1.2 0 2.3 0-2.8 0 2.2 0-1.1 0 2.2-.1"/><path d="M88.16 702.53V701.82M88.16 703.03V703.15" stroke="#222" stroke-opacity="0.75" stroke-width="0.6"/><rect x="83.96" y="702.53" width="8.4" height="0.49" fill="none" stroke="#222" stroke-opacity="0.7" stroke-width="0.75"/><path d="M83.96 702.84h8.4" stroke="#111" stroke-opacity="0.8" stroke-width="1.3"/><path marker-start="url(#m4)" marker-mid="url(#m4)" marker-end="url(#m4)" d="M98.9 703.1l-1.9 0 3.9 0-4.9 0 3.9 0-1.9 0 3.9 0-6.4 0 3.9 0-1.9 0 3.9 0-4.9 0 3.9 0-1.9 0 3.9 0-7.2 0 4 0-2 0 4 0-5 0 4 0-2 0 4 0-6.5 0 4 0-2 0 4 0-5 0 4-.1-2 0 4.1 0-7.8 0 4.1 0-2.1 0 4.1 0-5.1 0 4.1 0-2.1 0 4.2 0-6.7 0 4.1 0-2.1 0 4.2 0-5.2 0 4.1 0-2 0 4.1 0-7.5 0 4.1 0-2.1 0 4.2-.1-5.2 0 4.2 0-2.1 0 4.2 0-6.9 0 4.3 0-2.1 0 4.2 0-5.3 0 4.2 0-2.1 0 4.3 0-8.4 0 4.3 0-2.1 0 4.3-.1-5.4 0 4.3 0-2.2 0 4.3 0-6.9 0 4.3 0-2.2 0 4.3 0-5.4 0 4.3 0-2.1 0 4.3 0-7.8 0 4.3 0-2.2-.1 4.3 0-5.3 0 4.3 0-2.2 0 4.3 0-7 0 4.3 0-2.1 0 4.2 0-5.3-.1 4.3 0-2.1 0 4.2 0-8.1 0 4.2 0-2.1 0 4.2 0-5.2 0 4.2-.1-2.1 0 4.1 0-6.6 0 4 0-2 0 4-.1-4.9 0 3.9 0-2 0 3.8-.1-6.8 0 3.8 0-1.9 0 3.6-.1-4.4 0 3.4-.1-1.6 0 3.2 0-5.1 0 3.1-.1-1.5 0 2.8 0-3.5-.1 2.7 0-1.3 0 2.6 0-5-.1 2.5 0-1.2 0 2.3 0-2.8 0 2.2 0-1.1 0 2.2-.1"/><path d="M98.95 702.53V701.80M98.95 703.03V703.15" stroke="#222" stroke-opacity="0.75" stroke-width="0.6"/><rect x="94.75" y="702.53" width="8.4" height="0.49" fill="none" stroke="#222" stroke-opacity="0.7" stroke-width="0.75"/><path d="M94.75 702.84h8.4" stroke="#111" stroke-opacity="0.8" stroke-width="1.3"/><path marker-start="url(#m5)" marker-mid="url(#m5)" marker-end="url(#m5)" d="M109.7 703.1l-1.9 0 3.9 0-4.9 0 3.9 0-1.9 0 3.9 0-6.4 0 3.9 0-1.9 0 3.9 0-4.9 0 3.9 0-2 0 4 0-7.2 0 4 0-2 0 4 0-5 0 4 0-2 0 4 0-6.5 0 4 0-2 0 4 0-5 0 4 0-2-.1 4.1 0-7.8 0 4.1 0-2.1 0 4.1 0-5.1 0 4.1 0-2.1 0 4.2 0-6.7 0 4.1 0-2.1 0 4.2 0-5.2 0 4.1 0-2 0 4.1 0-7.5 0 4.1 0-2.1 0 4.2-.1-5.2 0 4.2 0-2.1 0 4.2 0-6.9 0 4.3 0-2.1 0 4.2 0-5.3 0 4.2 0-2.1 0 4.3 0-8.4 0 4.3 0-2.1 0 4.2-.1-5.3 0 4.3 0-2.2 0 4.3 0-6.9 0 4.2 0-2.1 0 4.3 0-5.4 0 4.3 0-2.1 0 4.3 0-7.8 0 4.3-.1-2.2 0 4.3 0-5.3 0 4.3 0-2.2 0 4.3 0-7 0 4.3 0-2.1 0 4.2 0-5.3-.1 4.3 0-2.2 0 4.3 0-8.1 0 4.2 0-2.1 0 4.2 0-5.2 0 4.2-.1-2.1 0 4.1 0-6.6 0 4 0-2 0 4-.1-4.9 0 3.9 0-2 0 3.8-.1-6.8 0 3.7 0-1.8 0 3.6-.1-4.4 0 3.4 0-1.6-.1 3.2 0-5.1 0 3.1-.1-1.5 0 2.8 0-3.5-.1 2.7 0-1.3 0 2.5 0-4.9-.1 2.5 0-1.2 0 2.3 0-2.8 0 2.2 0-1.1 0 2.2-.1"/><path d="M109.74 702.53V701.81M109.74 703.03V703.15" stroke="#222" stroke-opacity="0.75" stroke-width="0.6"/><rect x="105.54" y="702.53" width="8.4" height="0.49" fill="none" stroke="#222" stroke-opacity="0.7" stroke-width="0.75"/><path d="M105.54 702.84h8.4" stroke="#111" stroke-opacity="0.8" stroke-width="1.3"/><path marker-start="url(#m6)" marker-mid="url(#m6)" marker-end="url(#m6)" d="M120.5 702.7l-.6-.9 1.4-1.2-2-.9 1.7-.9-.9-.9 1.9-.6-3.3-1.5 2.1-.6-1.1-1 2.2-.6-2.8-1.4 2.3-.7-1.2-.8 2.4-.7-4.4-1.3 2.5-.7-1.3-.9 2.6-.3-3.3-1.4 2.7-.4-1.4-.7 2.7-.7-4.4-.9 2.8-.8-1.5-.7 3-.9-3.7-.5 3-.7-1.6-1 3.2-.7-6.1-.4 3.2-.9-1.7-.7 3.5-.3-4.4-.9 3.6-.5-1.9-.4 3.8-.8-6.2-.6 3.8-.4-1.9-.6 4-.4-5.1-.7 4.1-.2-2.1-.5 4.2-.5-7.6-.4 4.2-.7-2.1-.3 4.3-.8-5.4-.2 4.3-.6-2.1-.4 4.3-.3-7-.6 4.3-.6-2.2-.2 4.3-.6-5.3-.6 4.2-.6-2.1-.3 4.2-.6-8.1-.3 4.1-.6-2-.6 4-.5-5-.5 4-.7-2-.6 3.9-.4-6.3-.5 3.9-.6-1.9-.7 3.8-.4-4.7-.5 3.7-.7-1.9-.6 3.7-.6-6.6-.7 3.6-.4-1.8-.6 3.6-.3-4.4-.9 3.5-.7-1.7-.3 3.3-.9-5.4-.6 3.3-.4-1.6-.9 3.1-.7-3.8-.3 3-.7-1.5-.9 2.8-.5-5.2-.9 2.7-1-1.3-.5 2.5-.8-3-1 2.3-.9-1.1-1.2 2.1-.4-3.3-1.4 2-.8-.9-1.6 1.7-.7-2.1-1.3 1.6-1.3-.8-1.9 1.4-1.3-2.5-.8 1.4-2-.7-1.3 1.3-1.1-1.6-2 1.3-2-.7-1.3 1.5-1-2.4-1.5 1.5-1.3-.8-2 1.8-1.2-2.4-1.5 2-.7-1-.1 2-.6-3.9-.1 2-1.6-1-.7 1.8-.5-2.1-.4 1.6-2.9-.6-.5.5-5.7"/><path d="M120.54 636.47V592.42M120.54 675.43V702.67" stroke="#222" stroke-opacity="0.75" stroke-width="0.6"/><rect x="116.34" y="636.47" width="8.4" height="38.96" fill="none" stroke="#222" stroke-opacity="0.7" stroke-width="0.75"/><path d="M116.34 658.18h8.4" stroke="#111" stroke-opacity="0.8" stroke-width="1.3"/><path marker-start="url(#m7)" marker-mid="url(#m7)" marker-end="url(#m7)" d="M131.3 702.9l-.5-.9 1.1-.8-1.6-1.2 1.4-.8-.8-1 1.7-.9-2.8-.6 1.8-.8-1-1 1.9-.9-2.4-.7 2-.9-1-.8 2-.4-3.7-1 2.1-.9-1.1-.7 2.2-.4-2.8-.9 2.3-.9-1.2-.6 2.4-.4-3.9-.7 2.4-.9-1.3-.7 2.6-.3-3.3-.7 2.7-.7-1.3-.6 2.8-.4-5.5-.8 2.9-.7-1.5-.3 3.1-.6-4-.5 3.3-.5-1.7-.4 3.4-.6-5.6-.4 3.5-.6-1.8-.4 3.7-.4-4.7-.4 3.8-.4-1.9-.5 3.9-.5-7.2-.3 4-.5-2-.4 4-.2-5-.5 4-.2-2-.5 4.1-.3-6.7-.6 4.1-.3-2-.5 4.1-.4-5.2-.1 4.2-.5-2.1-.3 4.2-.7-8.2-.3 4.2-.3-2.1-.5 4.2-.3-5.3-.4 4.3-.4-2.2-.5 4.3-.6-7-.3 4.3-.4-2.1-.4 4.3-.4-5.4-.3 4.3-.3-2.1-.3 4.2-.2-7.7-.5 4.3-.4-2.1-.3 4.1-.4-5.1-.2 4-.6-1.9-.3 3.8-.4-6.2-.3 3.8-.5-1.8-.5 3.5-.5-4.3-.4 3.3-.5-1.6-.6 3-.5-5.6-.4 2.9-.9-1.3-.4 2.5-.7-2.9-.9 2.2-.3-1.1-1.1 1.8-.7-2.7-.9 1.6-1.4-.7-1 1.1-1.9-1.2-2.3.9-.7-.4-2.7.7-1.9-1.3-2.5.7-2-.3-1.3.6-2.9-.8-1.7.6-2.8-.3-3 .7-1.1-1-2.6.6-2.3-.3-2.4.6-2.4-.9-2.3.9-2.1-.5-.6 1.1-3.4-2.1-.2 1-.2-.4-2 .9-.1-1-1.8.6-8.6-.2-.2.3-4.8"/><path d="M131.33 648.94V605.83M131.33 678.36V702.88" stroke="#222" stroke-opacity="0.75" stroke-width="0.6"/><rect x="127.13" y="648.94" width="8.4" height="29.41" fill="none" stroke="#222" stroke-opacity="0.7" stroke-width="0.75"/><path d="M127.13 664.19h8.4" stroke="#111" stroke-opacity="0.8" stroke-width="1.3"/><path marker-start="url(#m8)" marker-mid="url(#m8)" marker-end="url(#m8)" d="M142.1 703.1l-.6-.1 1.3 0-1.8-.1 1.5-.1-.8-.1 1.7 0-2.9-.1 1.9-.1-1 0 2-.1-2.6 0 2.1-.1-1.1-.1 2.3 0-4.2-.1 2.4-.1-1.2 0 2.4-.1-3.1-.1 2.5 0-1.3-.1 2.7 0-4.3-.1 2.6-.1-1.3 0 2.7-.1-3.4 0 2.8-.1-1.5-.1 2.9 0-5.5-.1 2.9 0-1.5-.1 3-.1-3.7 0 3 0-1.6-.1 3.2-.1-5.2 0 3.2-.1-1.6 0 3.3-.1-4.1 0 3.3-.1-1.7-.1 3.4 0-6.2-.1 3.5 0-1.8-.1 3.6 0-4.6-.1 3.7 0-1.9-.1 3.9 0-6.3-.1 3.9 0-2-.1 4 0-5 0 4-.1-2 0 4.2-.1-8.2 0 4.2-.1-2.1 0 4.2 0-5.3-.1 4.3 0-2.2-.1 4.3 0-7 0 4.3-.1-2.1 0 4.3 0-5.4 0 4.3-.1-2.1 0 4.2 0-7.7 0 4.3-.1-2.2 0 4.2 0-5.2-.1 4.2 0-2.1 0 4.1 0-6.6 0 4-.1-2 0 4 0-4.9 0 3.9-.1-2 0 3.9-.1-7.2 0 3.7 0-1.8-.1 3.5 0-4.3-.1 3.4 0-1.6-.1 3-.1-4.8 0 2.9-.1-1.4-.1 2.5-.1-2.9-.1 2.2-.1-1-.1 1.7-.1-2.8-.2 1.4-.1-.6-.2 1-.1-1.1-.3.8-.3-.4-.1.7-.2-1-.3.5-.3-.2-.3.4-.4-.4-.3.2-.3-.1-2.8.2-1.6-.4-.2.2-.9-.1-.5.2-.8-.2-4.5.2-.4-.1-7.6.1-1.4"/><path d="M142.12 698.22V694.27M142.12 700.99V703.09" stroke="#222" stroke-opacity="0.75" stroke-width="0.6"/><rect x="137.92" y="698.22" width="8.4" height="2.77" fill="none" stroke="#222" stroke-opacity="0.7" stroke-width="0.75"/><path d="M137.92 699.30h8.4" stroke="#111" stroke-opacity="0.8" stroke-width="1.3"/><rect x="49.30" y="541.55" width="99.30" height="169.20" fill="none" stroke="#333" stroke-width="1.07"/><path d="M155.15 683.90H254.45M155.15 645.40H254.45M155.15 606.90H254.45M155.15 568.40H254.45" stroke="#EBEBEB" stroke-width="0.55" fill="none"/><path d="M155.15 703.15H254.45M155.15 664.65H254.45M155.15 626.15H254.45M155.15 587.65H254.45M155.15 549.15H254.45M161.63 541.55V710.75M172.42 541.55V710.75M183.21 541.55V710.75M194.01 541.55V710.75M204.80 541.55V710.75M215.59 541.55V710.75M226.39 541.55V710.75M237.18 541.55V710.75M247.97 541.55V710.75" stroke="#EBEBEB" stroke-width="1.1" fill="none"/><path marker-start="url(#m0)" marker-mid="url(#m0)" marker-end="url(#m0)" d="M161.6 702.7l-.7-.8 1.5-.6-2.1-.7 1.8-1.2-1-.3 2.2-1-3.7-1 2.3-.7-1.2-.4 2.5-.8-3.2-1.1 2.6-.6-1.3-.6 2.6-.4-4.8-1.2 2.7-.6-1.4-.5 2.8-1-3.5-.5 2.8-.7-1.4-.8 2.9-.7-4.8-.3 3-1-1.5-.4 3.1-.5-4-.9 3.2-.5-1.6-.6 3.3-.7-6.3-.7 3.3-.3-1.7-.8 3.5-.4-4.4-.6 3.5-.6-1.8-.6 3.7-.4-6-.7 3.7-.3-1.9-.7 3.9-.6-4.9-.3 3.9-.4-1.9-.5 3.9-.7-7.2-.4 4-.5-2-.3 4-.7-5.1-.5 4.1-.4-2-.4 4.1-.4-6.7-.5 4.1-.5-2-.6 4.1-.5-5.2-.2 4.2-.4-2.1-.6 4.2-.4-8.2-.6 4.2-.4-2.1-.8 4.2-.2-5.3-.7 4.3-.4-2.2-.5 4.3-.5-7-.5 4.3-.4-2.1-.4 4.3-.5-5.4-.2 4.3-.5-2.1-.6 4.2-.2-7.7-.5 4.3-.6-2.1-.4 4.1-.2-5.1-.5 4-.7-2-.2 4-.6-6.3-.3 3.8-.6-1.9-.7 3.6-.5-4.4-.5 3.4-.6-1.6-.6 3.1-.5-5.9-.4 3.1-1-1.4-.7 2.7-.6-3.2-.6 2.4-1.1-1.1-.7 2.1-.8-3.2-1.1 1.8-1-.8-1.5 1.5-1.2-1.7-1.2 1.2-2.3-.6-1.5 1.1-1.7-1.9-1.5 1-1.1-.5-1.7 1-2.8-1.2-1.4 1-1.1-.5-2.3 1-2.4-1.7-1.2 1.1-1.6-.6-2.1 1.3-1.5-1.7-1.4 1.5-1.3-.8-.7 1.6-1.3-3.1-1.2 1.5-.2-.7-.1 1.4-1.6-1.7-.5 1.2-3.9-.4-.1.4-5.8"/><path d="M161.63 645.55V599.88M161.63 679.74V702.71" stroke="#222" stroke-opacity="0.75" stroke-width="0.6"/><rect x="157.43" y="645.55" width="8.4" height="34.19" fill="none" stroke="#222" stroke-opacity="0.7" stroke-width="0.75"/><path d="M157.43 663.11h8.4" stroke="#111" stroke-opacity="0.8" stroke-width="1.3"/><path marker-start="url(#m1)" marker-mid="url(#m1)" marker-end="url(#m1)" d="M172.4 703.1l-.3-.3.6-.2-.8-.2.7-.2-.4-.3.8-.1-1.3-.3.8-.2-.4-.2.9-.2-1.2-.2 1-.1-.5-.2 1-.2-1.9-.2 1.1-.3-.6-.1 1.2-.1-1.5-.2 1.2-.1-.6-.3 1.5-.1-2.6-.1 1.6-.2-.9-.1 2-.1-2.6-.1 2.2-.1-1.1-.1 2.5-.1-5-.1 2.7-.1-1.5-.1 3.1-.1-4 0 3.2-.1-1.6 0 3.4-.1-5.7 0 3.6-.1-1.9-.1 3.8 0-4.8-.1 3.9 0-2 0 4-.1-7.2 0 4-.1-2 0 4.1 0-5.2-.1 4.2 0-2.1-.1 4.2 0-6.9 0 4.3 0-2.2-.1 4.3 0-5.4-.1 4.3 0-2.1-.1 4.3 0-8.4 0 4.3-.1-2.1 0 4.2-.1-5.3 0 4.2-.1-2.1 0 4.2-.1-6.7 0 4.1-.1-2 0 4-.1-5 0 3.9-.1-1.9-.1 3.8 0-6.8-.1 3.7 0-1.8-.1 3.6 0-4.5 0 3.6-.1-1.8-.1 3.4 0-5.4-.1 3.3 0-1.6-.1 3-.1-3.7 0 2.9-.1-1.4-.1 2.7-.1-5-.1 2.5 0-1.2-.1 2.4-.1-2.8-.1 2.1-.1-1-.1 1.9-.1-3-.2 1.8 0-.8-.2 1.6 0-1.9-.2 1.4-.1-.7-.2 1.2-.2-2.1-.1 1.1-.2-.4-.2.8-.3-1-.1.8-.4-.4-.2.6-.5-.8-.3.4-.3-.2-.5.4-.3-.4-.7.2-5-.1-2.1.1-3.7-.2-4.5.1-14 0-10.1.1-4.6-.1-6.7 0-2 0-7 .1-34.3"/><path d="M172.42 693.91V688.58M172.42 697.61V703.07" stroke="#222" stroke-opacity="0.75" stroke-width="0.6"/><rect x="168.22" y="693.91" width="8.4" height="3.70" fill="none" stroke="#222" stroke-opacity="0.7" stroke-width="0.75"/><path d="M168.22 696.07h8.4" stroke="#111" stroke-opacity="0.8" stroke-width="1.3"/><path marker-start="url(#m2)" marker-mid="url(#m2)" marker-end="url(#m2)" d="M183.2 703.1l-.5-.1 1.1-.1-1.5-.1 1.3-.2-.8-.1 1.6-.1-2.7-.1 1.7-.1-.9-.1 1.9-.2-2.4 0 2-.1-1.1-.2 2.2 0-4-.2 2.3 0-1.2-.1 2.4-.1-3.1-.2 2.5 0-1.3-.1 2.7-.1-4.4-.1 2.8-.1-1.5-.1 3-.1-3.8 0 3.1-.1-1.6-.1 3.3 0-6.4-.1 3.4-.1-1.8-.1 3.6 0-4.6-.1 3.8-.1-1.9 0 3.9-.1-6.4 0 3.9-.1-2 0 4.1-.1-5.1 0 4.1-.1-2.1 0 4.2-.1-7.6 0 4.2-.1-2.1 0 4.3-.1-5.4 0 4.3 0-2.2-.1 4.3 0-6.9-.1 4.3 0-2.2 0 4.3-.1-5.4-.1 4.3 0-2.1 0 4.2-.1-8.2 0 4.2-.1-2.1-.1 4.1 0-5.1-.1 4.1 0-2-.1 3.9 0-6.3-.1 3.9-.1-1.9-.1 3.7 0-4.6-.1 3.6 0-1.8-.1 3.5 0-6.3-.1 3.5 0-1.7-.1 3.3-.1-4-.1 3.1 0-1.5-.1 3-.1-4.8 0 2.9-.1-1.4-.1 2.7-.1-3.3-.1 2.5-.1-1.2-.1 2.3-.1-4.3-.1 2.2 0-1-.1 2-.2-2.4-.1 1.8-.1-.8-.1 1.6-.1-2.6-.2 1.6-.1-.7-.2 1.3-.1-1.6-.3 1.2-.1-.6-.1 1.1-.3-1.9-.1 1-.3-.4-.2.8-.3-.9-.3.6-.3-.3-.5.5-.2-.7-.6.4-.3-.2-.6.4-.2-.4-.7.2-1.5-.1-1 .4-1-.8-.3.4-.1-.2-.2.4-.4-.2-2.9 0-6.7 0-4.5.1-8.1"/><path d="M183.21 695.60V689.51M183.21 699.92V703.12" stroke="#222" stroke-opacity="0.75" stroke-width="0.6"/><rect x="179.01" y="695.60" width="8.4" height="4.31" fill="none" stroke="#222" stroke-opacity="0.7" stroke-width="0.75"/><path d="M179.01 698.22h8.4" stroke="#111" stroke-opacity="0.8" stroke-width="1.3"/><path marker-start="url(#m3)" marker-mid="url(#m3)" marker-end="url(#m3)" d="M194 703.1l-1.9 0 3.8 0-4.8 0 3.9 0-2 0 3.9 0-6.3 0 3.9 0-2 0 4 0-5 0 4 0-2 0 4 0-7.2 0 4 0-2 0 4 0-5 0 4 0-2 0 4 0-6.6 0 4.1 0-2.1 0 4.1 0-5.1 0 4.1-.1-2 0 4 0-7.7 0 4 0-2 0 4.1 0-5.1 0 4.1 0-2.1 0 4.1 0-6.7 0 4.2 0-2.1 0 4.1 0-5.2 0 4.2 0-2.1 0 4.2 0-7.6 0 4.2 0-2.1-.1 4.2 0-5.3 0 4.3 0-2.2 0 4.3 0-6.9 0 4.2 0-2.1 0 4.3 0-5.4 0 4.3 0-2.1 0 4.2 0-8.3 0 4.3 0-2.2 0 4.3 0-5.3-.1 4.2 0-2.1 0 4.3 0-7 0 4.3 0-2.1 0 4.3 0-5.4 0 4.3 0-2.2 0 4.3 0-7.8 0 4.3-.1-2.1 0 4.3 0-5.4 0 4.3 0-2.1 0 4.3 0-7 0 4.3 0-2.2 0 4.3 0-5.3-.1 4.2 0-2.1 0 4.2 0-8 0 4.2 0-2.1 0 4.2 0-5.2 0 4.1-.1-2 0 4.1 0-6.7 0 4.1 0-2 0 4-.1-5 0 3.9 0-1.9 0 3.8-.1-6.8 0 3.7 0-1.8 0 3.5-.1-4.3 0 3.4 0-1.6-.1 3.1 0-5.1 0 3.1-.1-1.5 0 2.9 0-3.5 0 2.7-.1-1.3 0 2.5 0-4.9-.1 2.4 0-1.2 0 2.4 0-2.9 0 2.3 0-1.1 0 2.2-.1"/><path d="M194.01 702.53V701.80M194.01 703.03V703.15" stroke="#222" stroke-opacity="0.75" stroke-width="0.6"/><rect x="189.81" y="702.53" width="8.4" height="0.49" fill="none" stroke="#222" stroke-opacity="0.7" stroke-width="0.75"/><path d="M189.81 702.84h8.4" stroke="#111" stroke-opacity="0.8" stroke-width="1.3"/><path marker-start="url(#m4)" marker-mid="url(#m4)" marker-end="url(#m4)" d="M204.8 703.1l-1.9 0 3.8 0-4.8 0 3.9 0-2 0 3.9 0-6.3 0 3.9 0-2 0 4 0-5 0 4 0-2 0 4 0-7.2 0 3.9 0-1.9 0 3.9 0-4.9 0 4 0-2.1 0 4.1 0-6.6 0 4.1 0-2.1 0 4.1 0-5.1 0 4.1-.1-2.1 0 4.1 0-7.8 0 4.1 0-2 0 4.1 0-5.2 0 4.2 0-2.1 0 4.1 0-6.7 0 4.1 0-2 0 4.1 0-5.2 0 4.2 0-2.1 0 4.2 0-7.6 0 4.2 0-2.1 0 4.2-.1-5.3 0 4.2 0-2.1 0 4.3 0-6.9 0 4.2 0-2.1 0 4.3 0-5.4 0 4.3 0-2.1 0 4.2 0-8.3 0 4.3 0-2.2 0 4.3 0-5.3-.1 4.2 0-2.1 0 4.3 0-7 0 4.3 0-2.1 0 4.3 0-5.4 0 4.3 0-2.2 0 4.3 0-7.8 0 4.3-.1-2.1 0 4.3 0-5.4 0 4.3 0-2.1 0 4.2 0-6.9 0 4.3 0-2.2 0 4.3 0-5.3-.1 4.2 0-2.1 0 4.2 0-8 0 4.2 0-2.1 0 4.2 0-5.2 0 4.1-.1-2 0 4.1 0-6.7 0 4.1 0-2 0 4-.1-5 0 3.9 0-1.9 0 3.8-.1-6.8 0 3.7 0-1.8 0 3.5-.1-4.3 0 3.4 0-1.7-.1 3.2 0-5.1 0 3.1-.1-1.5 0 2.9 0-3.5 0 2.7-.1-1.3 0 2.5 0-5 0 2.5-.1-1.2 0 2.4 0-2.9 0 2.3 0-1.1 0 2.1-.1"/><path d="M204.80 702.53V701.81M204.80 703.03V703.15" stroke="#222" stroke-opacity="0.75" stroke-width="0.6"/><rect x="200.60" y="702.53" width="8.4" height="0.49" fill="none" stroke="#222" stroke-opacity="0.7" stroke-width="0.75"/><path d="M200.60 702.84h8.4" stroke="#111" stroke-opacity="0.8" stroke-width="1.3"/><path marker-start="url(#m5)" marker-mid="url(#m5)" marker-end="url(#m5)" d="M215.6 703.1l-1.9 0 3.8 0-4.8 0 3.9 0-2 0 3.9 0-6.3 0 3.9 0-2 0 4 0-5 0 4 0-2 0 4 0-7.2 0 3.9 0-2 0 4 0-5 0 4 0-2 0 4.1 0-6.6 0 4 0-2 0 4.1 0-5.1 0 4.1-.1-2.1 0 4.1 0-7.8 0 4.1 0-2 0 4.1 0-5.2 0 4.2 0-2.1 0 4.1 0-6.7 0 4.1 0-2 0 4.1 0-5.2 0 4.2 0-2.1 0 4.2 0-7.6 0 4.2 0-2.1-.1 4.2 0-5.3 0 4.2 0-2.1 0 4.3 0-6.9 0 4.2 0-2.1 0 4.2 0-5.3 0 4.3 0-2.1 0 4.2 0-8.3 0 4.3 0-2.2 0 4.3-.1-5.4 0 4.3 0-2.1 0 4.3 0-7 0 4.3 0-2.2 0 4.3 0-5.3 0 4.3 0-2.2 0 4.3 0-7.8 0 4.3 0-2.1-.1 4.3 0-5.4 0 4.3 0-2.1 0 4.2 0-6.9 0 4.3 0-2.2 0 4.3 0-5.3-.1 4.2 0-2.1 0 4.2 0-8 0 4.2 0-2.1 0 4.2 0-5.2 0 4.1-.1-2 0 4.1 0-6.7 0 4.1 0-2 0 4-.1-5 0 3.9 0-1.9 0 3.8-.1-6.8 0 3.7 0-1.8-.1 3.5 0-4.3 0 3.4 0-1.7-.1 3.2 0-5.1 0 3.1-.1-1.5 0 2.9 0-3.5-.1 2.7 0-1.3 0 2.5 0-5 0 2.5-.1-1.2 0 2.4 0-2.9 0 2.3 0-1.1 0 2.1-.1"/><path d="M215.59 702.53V701.81M215.59 703.03V703.15" stroke="#222" stroke-opacity="0.75" stroke-width="0.6"/><rect x="211.39" y="702.53" width="8.4" height="0.49" fill="none" stroke="#222" stroke-opacity="0.7" stroke-width="0.75"/><path d="M211.39 702.84h8.4" stroke="#111" stroke-opacity="0.8" stroke-width="1.3"/><path marker-start="url(#m6)" marker-mid="url(#m6)" marker-end="url(#m6)" d="M226.4 702.6l-.5-1.1 1.1-.9-1.6-1.2 1.3-1.1-.7-.8 1.6-1-2.6-.8 1.6-1.3-.9-1 1.8-.9-2.2-.8 1.8-1.1-.9-1.1 1.8-.9-3.3-.8 1.8-1.4-.9-.4 1.9-1.1-2.4-.8 1.9-1.1-1-1.1 2-.3-3.3-1.3 2.1-1-1.1-.3 2.1-1-2.6-1 2.1-.7-1.1-.7 2.3-.9-4.3-1 2.3-.7-1.2-.7 2.4-.8-3.1-.8 2.5-.7-1.3-.6 2.6-.5-4.2-1 2.6-.5-1.3-.8 2.6-.4-3.3-.8 2.7-.8-1.4-.5 2.8-.6-5-.6 2.8-1-1.5-.4 2.9-.5-3.6-.9 2.9-.7-1.5-.6 3.1-.7-5-.4 3.1-.5-1.6-.6 3.2-.7-4.1-.6 3.4-.6-1.7-.2 3.5-.9-6.9-.5 3.5-.4-1.8-.5 3.7-.8-4.7-.3 3.8-.5-1.9-.4 4-.6-6.6-.3 4.1-.5-2.1-.5 4.2-.4-5.3-.3 4.2-.4-2.1-.6 4.3-.3-7.8-.5 4.3-.1-2.1-.4 4.3-.4-5.4-.5 4.3-.3-2.1-.4 4.2-.3-6.8-.4 4.1-.5-2-.3 4-.5-4.9-.4 3.8-.5-1.9-.4 3.6-.5-6.8-.4 3.5-.6-1.6-.7 3.2-.4-3.8-.6 2.9-.8-1.4-.5 2.6-.9-3.9-1 2.3-.4-1.1-1.2 2-.8-2.3-1.7 1.7-1.1-.8-.5 1.4-1.2-2.5-1.8 1.3-1.4-.6-.6 1.3-2.1-1.6-1.2 1.3-1.5-.7-.5 1.4-2.2-2.3-.5 1.4-1.6-.7-1.2 1.5-1.3-1.9-1.5 1.5-.5-.7-.1 1.5-1.5-3-1.9 1.5-1-.7-1.1 1.4-.9-1.7-.1 1.3-1.6-.6-.3.8-2.9"/><path d="M226.39 636.01V597.81M226.39 672.20V702.58" stroke="#222" stroke-opacity="0.75" stroke-width="0.6"/><rect x="222.19" y="636.01" width="8.4" height="36.19" fill="none" stroke="#222" stroke-opacity="0.7" stroke-width="0.75"/><path d="M222.19 651.10h8.4" stroke="#111" stroke-opacity="0.8" stroke-width="1.3"/><path marker-start="url(#m7)" marker-mid="url(#m7)" marker-end="url(#m7)" d="M237.2 702.7l-.5-1.1 1-.7-1.5-.9 1.3-1.2-.7-.6 1.5-1.3-2.5-.6 1.6-1-.8-.9 1.6-1.2-2.1-.7 1.7-1-.8-.6 1.8-.6-3.3-.9 1.8-1-1-.4 2-1.2-2.5-.6 2-.7-1-.8 2.1-.7-3.5-.9 2.2-.5-1.2-.8 2.5-.5-3.2-.8 2.6-.3-1.3-.9 2.8-.5-5.4-.4 2.9-.6-1.6-.4 3.2-.7-4.1-.4 3.3-.5-1.7-.4 3.6-.5-5.9-.4 3.7-.5-1.9-.5 3.8-.3-4.9-.5 4-.3-2-.3 4.1-.3-7.5-.4 4.2-.4-2.1-.2 4.2-.5-5.3-.4 4.2-.3-2.1-.3 4.3-.3-7-.3 4.3-.5-2.1-.3 4.3-.3-5.4-.2 4.3-.5-2.2-.3 4.3-.5-8.3-.3 4.2-.5-2.1-.2 4.2-.6-5.2-.4 4.2-.4-2.1-.4 4.1-.3-6.6-.3 4-.6-2-.3 4-.3-4.9-.3 3.9-.6-1.9-.2 3.8-.4-7-.5 3.9-.2-1.9-.6 3.7-.2-4.6-.4 3.7-.5-1.8-.4 3.4-.5-5.5-.4 3.3-.5-1.6-.3 3.2-.4-3.8-.9 2.9-.4-1.5-.4 2.7-.7-4.9-.7 2.5-.6-1.2-.4 2.3-.9-2.7-.5 2.1-.5-1-1 1.7-.9-2.5-1.2 1.4-.8-.6-1.3 1.1-1.9-1.3-1.2 1-1.5-.5-1.8.8-1.6-1.4-1.6.8-1.3-.4-2.3.7-2.6-.9-1 .7-1.9-.3-2 .7-2.3-1.2-2 .8-1.8-.4-1.9.9-1.6-1.2-1.5 1-1.2-.5-.9.9-.6-1.9-3.4 1-1.4-.5-.5 1-.6-1.2-2.3.9-.3-.4-1.6.4-4.1"/><path d="M237.18 648.33V606.04M237.18 677.12V702.69" stroke="#222" stroke-opacity="0.75" stroke-width="0.6"/><rect x="232.98" y="648.33" width="8.4" height="28.80" fill="none" stroke="#222" stroke-opacity="0.7" stroke-width="0.75"/><path d="M232.98 664.19h8.4" stroke="#111" stroke-opacity="0.8" stroke-width="1.3"/><path marker-start="url(#m8)" marker-mid="url(#m8)" marker-end="url(#m8)" d="M248 703.1l-.7-.1 1.4-.1-2 0 1.7-.1-.9-.1 1.9 0-3.2-.1 2-.1-1.1-.1 2.3 0-3-.1 2.5-.1-1.3-.1 2.7 0-4.9-.1 2.8-.1-1.5 0 2.9-.1-3.7-.1 3 0-1.5-.1 3.2-.1-5.3 0 3.3-.1-1.7-.1 3.4 0-4.3-.1 3.5-.1-1.8 0 3.7-.1-7 0 3.7-.1-1.9-.1 3.8 0-4.8-.1 3.9 0-2 0 4-.1-6.5-.1 4 0-2-.1 4.1 0-5.2 0 4.2-.1-2.1 0 4.2-.1-7.7 0 4.3 0-2.2-.1 4.3 0-5.3-.1 4.2 0-2.1 0 4.3-.1-7 0 4.3-.1-2.1 0 4.3-.1-5.4 0 4.3-.1-2.2 0 4.3-.1-8.3 0 4.2 0-2-.1 4.1-.1-5.2 0 4.2 0-2.1-.1 4.1-.1-6.5 0 3.9-.1-1.9 0 3.9-.1-4.9 0 3.8-.1-1.8 0 3.7 0-6.7-.1 3.7-.1-1.8 0 3.5-.1-4.3 0 3.4-.1-1.7 0 3.3-.1-5.2-.1 3.1 0-1.5-.1 2.9 0-3.6-.1 2.8-.1-1.4-.1 2.7 0-4.9-.1 2.5-.1-1.2-.1 2.3-.1-2.7-.1 2.1-.1-1-.1 1.8-.1-2.9-.1 1.8-.1-.8-.2 1.4-.1-1.7-.1 1.3-.2-.6-.2 1-.2-1.7-.3.9-.2-.4-.1.7-.2-.8-.4.6-.3-.3-.3.5-.3-.8-.3.5-.3-.3-.5.5-.2-.5-.4.3-.5-.1-.8.3 0-.7-.6.4-.5-.2-.2.3-4.2-.3-.6.2-.4 0-1.5 0-4"/><path d="M247.97 697.14V692.03M247.97 700.84V703.13" stroke="#222" stroke-opacity="0.75" stroke-width="0.6"/><rect x="243.77" y="697.14" width="8.4" height="3.70" fill="none" stroke="#222" stroke-opacity="0.7" stroke-width="0.75"/><path d="M243.77 699.30h8.4" stroke="#111" stroke-opacity="0.8" stroke-width="1.3"/><rect x="155.15" y="541.55" width="99.30" height="169.20" fill="none" stroke="#333" stroke-width="1.07"/><path d="M261.00 683.90H360.30M261.00 645.40H360.30M261.00 606.90H360.30M261.00 568.40H360.30" stroke="#EBEBEB" stroke-width="0.55" fill="none"/><path d="M261.00 703.15H360.30M261.00 664.65H360.30M261.00 626.15H360.30M261.00 587.65H360.30M261.00 549.15H360.30M267.48 541.55V710.75M278.27 541.55V710.75M289.06 541.55V710.75M299.86 541.55V710.75M310.65 541.55V710.75M321.44 541.55V710.75M332.24 541.55V710.75M343.03 541.55V710.75M353.82 541.55V710.75" stroke="#EBEBEB" stroke-width="1.1" fill="none"/><path marker-start="url(#m0)" marker-mid="url(#m0)" marker-end="url(#m0)" d="M267.5 702.8l-1-.2 2.1-.7-2.9-.6 2.4-.4-1.3-.5 2.8-.5-4.6-.4 2.9-.7-1.6-.6 3.2-.4-4.1-.6 3.4-.4-1.8-.4 3.6-.6-6.6-.6 3.7-.3-1.9-.7 3.8-.3-4.8-.5 3.9-.4-2-.7 4-.6-6.5-.2 4-.8-2-.5 4.1-.4-5.1-.4 4.1-.6-2.1-.5 4.2-.5-8-.3 4.2-.5-2.1-.6 4.2-.3-5.3-.5 4.3-.6-2.2-.4 4.3-.4-6.9-.5 4.2-.5-2.1-.4 4.3-.4-5.4-.5 4.3-.5-2.1-.4 4.3-.4-7.8-.4 4.3-.4-2.1-.5 4.2-.5-5.3-.2 4.2-.7-2.1-.3 4.2-.4-6.7-.6 4.1-.4-2.1-.5 4-.5-4.9-.5 3.9-.5-1.9-.4 3.8-.3-7.4-.8 3.7-.5-1.8-.4 3.6-.6-4.4-.7 3.5-.8-1.7-.2 3.3-.9-5.3-.6 3.2-.3-1.6-.9 3.2-.5-3.9-.7 3.1-.3-1.5-.9 2.9-.7-5.3-.4 2.9-1-1.4-.2 2.7-1-3.3-.7 2.6-.8-1.3-.8 2.6-.3-4-1.3 2.4-.3-1.2-1 2.2-1-2.7-.7 2.1-.7-1-1 1.9-1.2-3.6-.6 1.9-1.4-.9-.9 1.6-1.2-1.9-1.3 1.5-.8-.7-1.6 1.3-1.5-2-1.4 1.2-1.8-.6-1.2 1-1.9-1.1-2.6.8-1.9-.4-2.4.7-2.4-1.2-2.2.6-3.3-.3-2.8.7-1.3-.8-4.3.6-1.3-.3-3.1.7-3.3-1.2-1.4.7-2.7-.3-2.1.8-2.9-1.2-3.1 1.1-1.1-.5-1.9 1.2-.9-2.4-.2 1.2-.6-.6-1.9 1.1-.3-1.3-.8.9-4.4-.2-3.8.2-7.5"/><path d="M267.48 644.01V584.87M267.48 686.36V702.78" stroke="#222" stroke-opacity="0.75" stroke-width="0.6"/><rect x="263.28" y="644.01" width="8.4" height="42.35" fill="none" stroke="#222" stroke-opacity="0.7" stroke-width="0.75"/><path d="M263.28 670.50h8.4" stroke="#111" stroke-opacity="0.8" stroke-width="1.3"/><path marker-start="url(#m1)" marker-mid="url(#m1)" marker-end="url(#m1)" d="M278.3 703.1l-.4-.2.8-.3-1.2-.1 1-.2-.5-.4 1.2-.1-2-.1 1.2-.2-.6-.2 1.3-.2-1.7-.3 1.4-.1-.7-.3 1.4-.1-2.6-.2 1.5-.2-.8-.2 1.6-.1-2.1-.2 1.7-.1-.9-.2 1.9-.1-3.1-.2 2-.1-1.1-.2 2.3-.1-3-.1 2.5-.1-1.3-.1 2.8-.2-5.5-.1 3-.1-1.6-.1 3.2 0-4.2-.1 3.5-.2-1.8 0 3.7-.1-6.1 0 3.8-.1-2-.1 4-.1-5.1 0 4.1-.1-2 0 4.2-.1-7.7 0 4.3-.1-2.2-.1 4.3 0-5.3 0 4.2-.1-2.1-.1 4.3 0-7-.1 4.3 0-2.1-.1 4.2 0-5.3-.1 4.2 0-2.1-.1 4.1-.1-7.9 0 4-.1-1.9-.1 3.8-.1-4.7-.1 3.7 0-1.8-.1 3.5-.1-5.5-.1 3.3-.1-1.6-.1 3.2 0-3.9-.1 3-.1-1.4-.1 2.8-.1-5-.1 2.7-.1-1.3-.2 2.5 0-3-.2 2.3 0-1.1-.2 2.2-.1-3.5-.1 2.1-.2-1-.1 1.9-.2-2.4-.1 1.9-.1-.9-.2 1.7-.2-3.2-.1 1.6-.1-.7-.2 1.5-.2-1.8-.1 1.4-.3-.7-.2 1.3-.2-2-.2 1.2-.1-.6-.2 1.1-.3-1.3-.2 1-.2-.5-.4.8-.2-1.4-.3.7-.4-.3-.1.6-.6-.7-.4.6-.4-.3-.7.4-.2-.6-.7.3-.7-.1-.7.3-1-.3-.4.1-3.5 0-10.1.1-1.4-.2-1.5.1-4.8-.1-6.2.1-1-.1-34.7.1-10.3-.1-.2.1-10.5"/><path d="M278.27 691.29V682.57M278.27 697.61V703.11" stroke="#222" stroke-opacity="0.75" stroke-width="0.6"/><rect x="274.07" y="691.29" width="8.4" height="6.31" fill="none" stroke="#222" stroke-opacity="0.7" stroke-width="0.75"/><path d="M274.07 695.45h8.4" stroke="#111" stroke-opacity="0.8" stroke-width="1.3"/><path marker-start="url(#m2)" marker-mid="url(#m2)" marker-end="url(#m2)" d="M289.1 703.1l-1.3 0 2.6 0-3.4-.1 2.8 0-1.4 0 2.9-.1-4.9 0 3.1 0-1.6-.1 3.2 0-4.1 0 3.3-.1-1.7 0 3.6-.1-6.5 0 3.6 0-1.9 0 3.8-.1-4.8 0 3.9-.1-2 0 4 0-6.5-.1 4 0-2-.1 4.1 0-5.2 0 4.2-.1-2.1 0 4.2 0-8.1-.1 4.3 0-2.1-.1 4.2 0-5.3-.1 4.3 0-2.2 0 4.3-.1-7 0 4.3-.1-2.1 0 4.3 0-5.4-.1 4.3 0-2.1-.1 4.2 0-7.6 0 4.2-.1-2.1 0 4.1-.1-5.1 0 4.1-.1-2.1 0 4.1-.1-6.6 0 4-.1-1.9 0 3.9-.1-4.9 0 3.9-.1-2 0 3.8-.1-7.3 0 3.7-.1-1.8 0 3.7-.1-4.6 0 3.6-.1-1.8 0 3.6-.1-5.7 0 3.5-.1-1.8 0 3.4-.1-4.2 0 3.4-.1-1.7 0 3.2-.1-5.8 0 3.2-.1-1.6 0 3.1-.1-3.8 0 3-.1-1.4 0 2.8-.1-4.6-.1 2.8 0-1.3-.1 2.6-.1-3.2-.1 2.5 0-1.2-.1 2.3-.1-4.4 0 2.3-.1-1.1-.1 2.1-.1-2.5-.1 1.9-.1-.9-.1 1.7-.1-2.7-.1 1.6-.1-.7-.2 1.4-.1-1.7 0 1.3-.3-.6-.1 1-.1-1.8-.2 1-.2-.4-.3.7-.2-.8-.3.6-.2-.3-.4.5-.3-.8-.2.5-.5-.2-.3.3-.4-.3-.7.1-4.3 0-4.8 0-4.2-.1-2.2.1-4.5-.1-1.1.1-9-.1-10.7.1-1.1-.1-.6.1-10.7"/><path d="M289.06 698.22V692.92M289.06 701.92V703.13" stroke="#222" stroke-opacity="0.75" stroke-width="0.6"/><rect x="284.86" y="698.22" width="8.4" height="3.70" fill="none" stroke="#222" stroke-opacity="0.7" stroke-width="0.75"/><path d="M284.86 700.38h8.4" stroke="#111" stroke-opacity="0.8" stroke-width="1.3"/><path marker-start="url(#m3)" marker-mid="url(#m3)" marker-end="url(#m3)" d="M299.9 703.1l-2 0 3.9 0-4.9 0 3.9 0-1.9 0 3.9 0-6.4 0 3.9 0-1.9 0 3.9 0-4.9 0 3.9 0-1.9 0 3.9 0-7.2 0 4 0-2 0 4 0-5 0 4 0-2 0 4 0-6.5 0 4 0-2 0 4 0-5 0 4-.1-2 0 4.1 0-7.8 0 4.1 0-2.1 0 4.1 0-5.1 0 4.1 0-2 0 4.1 0-6.7 0 4.1 0-2.1 0 4.2 0-5.2 0 4.1 0-2 0 4.1 0-7.5 0 4.1 0-2 0 4.2-.1-5.3 0 4.2 0-2.1 0 4.2 0-6.8 0 4.2 0-2.1 0 4.2 0-5.3 0 4.3 0-2.2 0 4.3 0-8.3 0 4.2 0-2.1 0 4.3-.1-5.4 0 4.3 0-2.1 0 4.2 0-6.9 0 4.3 0-2.2 0 4.3 0-5.4 0 4.3 0-2.1 0 4.3 0-7.8 0 4.3 0-2.2-.1 4.3 0-5.3 0 4.3 0-2.2 0 4.3 0-7 0 4.3 0-2.1 0 4.3 0-5.4-.1 4.3 0-2.1 0 4.2 0-8.1 0 4.3 0-2.1 0 4.1 0-5.2 0 4.2-.1-2.1 0 4.1 0-6.6 0 4.1 0-2.1 0 4-.1-4.9 0 3.9 0-1.9 0 3.7-.1-6.7 0 3.7 0-1.8-.1 3.5 0-4.3 0 3.4 0-1.7-.1 3.2 0-5.1 0 3.1-.1-1.5 0 2.8 0-3.5-.1 2.8 0-1.4 0 2.6 0-5-.1 2.5 0-1.2 0 2.3 0-2.8 0 2.2 0-1.1 0 2.2-.1"/><path d="M299.86 702.53V701.80M299.86 703.03V703.15" stroke="#222" stroke-opacity="0.75" stroke-width="0.6"/><rect x="295.66" y="702.53" width="8.4" height="0.49" fill="none" stroke="#222" stroke-opacity="0.7" stroke-width="0.75"/><path d="M295.66 702.84h8.4" stroke="#111" stroke-opacity="0.8" stroke-width="1.3"/><path marker-start="url(#m4)" marker-mid="url(#m4)" marker-end="url(#m4)" d="M310.6 703.1l-1.9 0 3.9 0-4.9 0 3.9 0-1.9 0 3.9 0-6.4 0 3.9 0-1.9 0 3.9 0-4.9 0 3.9 0-1.9 0 3.9 0-7.2 0 4 0-2 0 4 0-5 0 4 0-2 0 4 0-6.5 0 4 0-2 0 4 0-5 0 4-.1-2 0 4.1 0-7.8 0 4.1 0-2.1 0 4.1 0-5.1 0 4.1 0-2.1 0 4.2 0-6.7 0 4.1 0-2.1 0 4.2 0-5.2 0 4.1 0-2 0 4.1 0-7.5 0 4.1 0-2.1 0 4.2-.1-5.2 0 4.2 0-2.1 0 4.2 0-6.9 0 4.3 0-2.1 0 4.2 0-5.3 0 4.2 0-2.1 0 4.3 0-8.3 0 4.2 0-2.1 0 4.3-.1-5.4 0 4.3 0-2.2 0 4.3 0-6.9 0 4.3 0-2.2 0 4.3 0-5.4 0 4.3 0-2.1 0 4.3 0-7.8 0 4.3-.1-2.2 0 4.3 0-5.3 0 4.3 0-2.2 0 4.3 0-7 0 4.3 0-2.1 0 4.3 0-5.4-.1 4.3 0-2.1 0 4.2 0-8.1 0 4.2 0-2.1 0 4.2 0-5.2 0 4.2-.1-2.1 0 4.1 0-6.6 0 4 0-2 0 4-.1-4.9 0 3.9 0-1.9 0 3.7-.1-6.8 0 3.7 0-1.7-.1 3.5 0-4.3 0 3.4 0-1.7-.1 3.2 0-5.1 0 3.1-.1-1.5 0 2.8 0-3.5 0 2.7-.1-1.3 0 2.5 0-4.9-.1 2.5 0-1.2 0 2.3 0-2.8 0 2.2 0-1.1 0 2.2-.1"/><path d="M310.65 702.53V701.81M310.65 703.03V703.15" stroke="#222" stroke-opacity="0.75" stroke-width="0.6"/><rect x="306.45" y="702.53" width="8.4" height="0.49" fill="none" stroke="#222" stroke-opacity="0.7" stroke-width="0.75"/><path d="M306.45 702.84h8.4" stroke="#111" stroke-opacity="0.8" stroke-width="1.3"/><path marker-start="url(#m5)" marker-mid="url(#m5)" marker-end="url(#m5)" d="M321.4 703.1l-1.9 0 3.9 0-4.9 0 3.9 0-1.9 0 3.9 0-6.4 0 3.9 0-1.9 0 3.9 0-4.9 0 3.9 0-2 0 4 0-7.2 0 4 0-2 0 4 0-5 0 4 0-2 0 4 0-6.5 0 4 0-2 0 4 0-5 0 4 0-2-.1 4.1 0-7.8 0 4.1 0-2.1 0 4.1 0-5.1 0 4.1 0-2.1 0 4.2 0-6.7 0 4.1 0-2.1 0 4.2 0-5.2 0 4.1 0-2 0 4.1 0-7.6 0 4.2 0-2.1 0 4.2-.1-5.2 0 4.2 0-2.1 0 4.2 0-6.9 0 4.3 0-2.1 0 4.2 0-5.3 0 4.2 0-2.1 0 4.3 0-8.4 0 4.3 0-2.1 0 4.2-.1-5.3 0 4.3 0-2.2 0 4.3 0-6.9 0 4.2 0-2.1 0 4.3 0-5.4 0 4.3 0-2.1 0 4.3 0-7.8 0 4.3-.1-2.2 0 4.3 0-5.3 0 4.3 0-2.2 0 4.3 0-7 0 4.3 0-2.1 0 4.2 0-5.3-.1 4.3 0-2.2 0 4.3 0-8.1 0 4.2 0-2.1 0 4.2 0-5.2 0 4.2-.1-2.1 0 4.1 0-6.6 0 4 0-2 0 4-.1-4.9 0 3.9 0-2 0 3.8-.1-6.8 0 3.7 0-1.8 0 3.6-.1-4.3 0 3.3 0-1.6-.1 3.2 0-5.1 0 3.1-.1-1.5 0 2.8 0-3.5-.1 2.7 0-1.3 0 2.5 0-4.9 0 2.5-.1-1.2 0 2.3 0-2.8 0 2.2 0-1.1 0 2.2-.1"/><path d="M321.44 702.53V701.80M321.44 703.03V703.15" stroke="#222" stroke-opacity="0.75" stroke-width="0.6"/><rect x="317.24" y="702.53" width="8.4" height="0.49" fill="none" stroke="#222" stroke-opacity="0.7" stroke-width="0.75"/><path d="M317.24 702.84h8.4" stroke="#111" stroke-opacity="0.8" stroke-width="1.3"/><path marker-start="url(#m6)" marker-mid="url(#m6)" marker-end="url(#m6)" d="M332.2 702.6l-.4-1.5.9-1-1.3-1.4 1.1-.8-.6-1.1 1.3-1.7-2.1-1.1 1.3-1.1-.7-.7 1.4-1.7-1.7-.7 1.4-1.2-.7-1 1.4-1-2.7-1.4 1.5-1.1-.8-1.1 1.6-.4-2-1.1 1.7-1.3-.9-.5 1.8-1-2.9-1.3 1.8-.5-.9-1 1.9-1-2.5-.6 2-.8-1-1.1 2.2-.7-4.2-.9 2.2-.4-1.2-.6 2.4-1.1-3-.4 2.4-.6-1.2-.6 2.6-.9-4.4-.6 2.8-.7-1.4-.2 2.8-.7-3.6-.6 2.9-.6-1.4-.6 3-.6-5.6-.3 3.1-.8-1.6-.4 3.3-.5-4.1-.6 3.3-.3-1.7-.7 3.4-.4-5.6-.5 3.5-.5-1.8-.5 3.6-.4-4.5-.6 3.7-.4-1.9-.3 3.8-.4-7.4-.7 3.8-.4-2-.5 4-.5-5-.4 4-.3-2-.6 4.1-.4-6.7-.3 4.1-.5-2.1-.4 4.3-.4-5.4-.2 4.3-.4-2.1-.4 4.3-.4-7.8-.3 4.3-.5-2.2-.3 4.3-.4-5.3-.3 4.2-.3-2.1-.5 4.2-.1-6.7-.4 4-.5-1.9-.5 3.9-.2-4.8-.7 3.7-.4-1.8-.3 3.4-.5-6.4-.4 3.3-.7-1.6-.3 3-.8-3.5-.5 2.7-.5-1.2-.8 2.2-.7-3.5-.7 2-1.4-.8-1.2 1.6-.6-1.9-1.4 1.4-1.7-.7-.7 1.2-2.1-2.1-.7 1.2-1.6-.6-1.4 1.1-1.3-1.3-2.3 1-1-.5-1.9 1-1.1-1.6-1.4 1-1.4-.5-2.1.9-.9-1.2-1.9 1.1-2.4-.6-1.6 1.5-1.6-2.9-1 1.4-.2-.7-.3 1.5-.1-1.8-1.3 1.4-.3-.6-1.3.7-3.3"/><path d="M332.24 637.08V594.12M332.24 669.42V702.55" stroke="#222" stroke-opacity="0.75" stroke-width="0.6"/><rect x="328.04" y="637.08" width="8.4" height="32.34" fill="none" stroke="#222" stroke-opacity="0.7" stroke-width="0.75"/><path d="M328.04 651.56h8.4" stroke="#111" stroke-opacity="0.8" stroke-width="1.3"/><path marker-start="url(#m7)" marker-mid="url(#m7)" marker-end="url(#m7)" d="M343 702.6l-.7-.9 1.5-.8-2.1-.9 1.8-.3-1-1.2 2.1-.3-3.4-.8 2.1-1.1-1.1-.8 2.3-.9-3-.7 2.4-.3-1.2-.9 2.5-.8-4.5-.5 2.5-1-1.3-.5 2.6-.7-3.3-1.1 2.6-.3-1.3-1 2.7-.7-4.4-.5 2.7-.8-1.3-.4 2.8-.8-3.6-.6 2.9-.6-1.5-.9 3.1-.5-5.9-.5 3.1-.6-1.6-.6 3.3-.8-4.2-.5 3.4-.4-1.7-.7 3.4-.3-5.6-.7 3.5-.3-1.8-.5 3.6-.6-4.5-.5 3.6-.6-1.8-.5 3.7-.6-6.8-.4 3.8-.6-1.9-.3 3.8-.6-4.8-.3 3.9-.5-2-.4 3.9-.5-6.4-.6 4-.5-2-.5 4-.3-5-.5 4-.5-2-.4 4.1-.5-8-.3 4.1-.5-2.1-.5 4.2-.5-5.2-.7 4.2-.5-2.2-.4 4.3-.5-6.9-.3 4.2-.6-2.1-.4 4.3-.3-5.4-.5 4.3-.2-2.1-.5 4.2-.3-7.7-.5 4.3-.3-2.1-.4 4.1-.6-5.1-.3 4.1-.3-2.1-.5 4-.5-6.4-.3 3.9-.5-1.9-.5 3.7-.5-4.5-.6 3.4-.7-1.6-.3 3.1-.8-5.8-.6 3-.3-1.4-.8 2.6-.9-3-.9 2.3-.6-1.1-.8 1.9-.8-2.9-1 1.7-1.8-.7-.9 1.2-2.2-1.4-1.2 1-2.1-.4-1.3.8-2.5-1.5-2.3.8-2.2-.4-2.2.8-1.9-.9-1.6.7-2.9-.4-1.7.7-3.2-1.1-1.8.7-2.1-.4-2.7.8-1.6-.9-1.5.8-5.1-.5-.8 1.1-1.2-2.3-1.8 1.2-1.1-.6-.5 1.2-1.1-1.4-.5 1.1-2.2-.4-3.1.4-2.5"/><path d="M343.03 645.71V596.84M343.03 679.13V702.58" stroke="#222" stroke-opacity="0.75" stroke-width="0.6"/><rect x="338.83" y="645.71" width="8.4" height="33.42" fill="none" stroke="#222" stroke-opacity="0.7" stroke-width="0.75"/><path d="M338.83 662.49h8.4" stroke="#111" stroke-opacity="0.8" stroke-width="1.3"/><path marker-start="url(#m8)" marker-mid="url(#m8)" marker-end="url(#m8)" d="M353.8 703.1l-.6-.1 1.3-.1-1.7-.1 1.4-.1-.8-.1 1.7-.1-2.9-.1 1.9-.1-1-.1 2 0-2.6-.1 2.2-.1-1.2-.1 2.4-.1-4.4-.1 2.5-.1-1.3-.1 2.6 0-3.3-.1 2.7-.1-1.4-.1 2.8 0-4.6-.1 2.9-.1-1.5 0 3-.1-3.8-.1 3.1-.1-1.6-.1 3.4 0-6.5-.1 3.4 0-1.7-.1 3.5-.1-4.5 0 3.7-.1-1.9-.1 3.8 0-6.2 0 3.8-.1-1.9-.1 3.9 0-4.9-.1 3.9 0-2-.1 4.1 0-7.4-.1 4.1 0-2.1-.1 4.2 0-5.2 0 4.2-.1-2.1 0 4.2-.1-6.9 0 4.3-.1-2.2 0 4.3 0-5.4-.1 4.3-.1-2.1 0 4.3-.1-8.4 0 4.3-.1-2.2 0 4.3-.1-5.3 0 4.3-.1-2.2 0 4.2-.1-6.8 0 4.2-.1-2.1 0 4.2-.1-5.2 0 4.1 0-2-.1 4 0-7.2-.1 3.9 0-1.9-.1 3.8 0-4.7-.1 3.7 0-1.8-.1 3.6 0-5.8-.1 3.5 0-1.7-.1 3.4-.1-4.1 0 3.1-.1-1.5 0 3-.1-5.6-.1 2.9-.1-1.4-.1 2.6-.1-3.1 0 2.4-.1-1.1-.2 2-.1-3.2 0 1.9-.2-.8-.1 1.6-.1-1.9-.2 1.4-.2-.7-.1 1.1-.2-1.9-.2 1-.2-.4-.3.8-.3-.9-.2.7-.3-.4-.2.6-.4-.9-.2.5-.4-.2-.4.5-.3-.6-.4.4-.6-.2-.2.4-.6-.7-.5.3-.3 0-2.8.1-2.9-.2-1.4.2-.2-.1-2.1.1-3.5"/><path d="M353.82 696.68V691.58M353.82 700.38V703.13" stroke="#222" stroke-opacity="0.75" stroke-width="0.6"/><rect x="349.62" y="696.68" width="8.4" height="3.70" fill="none" stroke="#222" stroke-opacity="0.7" stroke-width="0.75"/><path d="M349.62 698.68h8.4" stroke="#111" stroke-opacity="0.8" stroke-width="1.3"/><rect x="261.00" y="541.55" width="99.30" height="169.20" fill="none" stroke="#333" stroke-width="1.07"/><path d="M366.85 683.90H466.15M366.85 645.40H466.15M366.85 606.90H466.15M366.85 568.40H466.15" stroke="#EBEBEB" stroke-width="0.55" fill="none"/><path d="M366.85 703.15H466.15M366.85 664.65H466.15M366.85 626.15H466.15M366.85 587.65H466.15M366.85 549.15H466.15M373.33 541.55V710.75M384.12 541.55V710.75M394.91 541.55V710.75M405.71 541.55V710.75M416.50 541.55V710.75M427.29 541.55V710.75M438.09 541.55V710.75M448.88 541.55V710.75M459.67 541.55V710.75" stroke="#EBEBEB" stroke-width="1.1" fill="none"/><path marker-start="url(#m0)" marker-mid="url(#m0)" marker-end="url(#m0)" d="M373.3 703l-.9-.7 2-.4-2.7-.4 2.2-.6-1.2-.4 2.7-.5-4.6-.6 2.9-.3-1.5-.8 3.1-.2-4-.6 3.3-.6-1.7-.3 3.4-.7-6.2-.2 3.4-.7-1.7-.5 3.5-.3-4.4-.7 3.5-.5-1.7-.4 3.6-.4-5.9-.5 3.6-.3-1.8-.7 3.6-.3-4.5-.4 3.6-.6-1.8-.4 3.7-.5-7.1-.6 3.7-.3-1.8-.4 3.7-.7-4.7-.4 3.8-.5-1.9-.3 3.8-.4-6.2-.5 3.8-.4-1.9-.3 3.9-.5-4.9-.6 3.9-.3-1.9-.5 3.9-.6-7.1-.3 3.9-.3-2-.5 4-.4-5-.6 4-.3-2-.6 4-.2-6.5-.5 4-.4-2-.6 4-.2-5-.5 4-.6-2-.4 4.1-.5-8-.3 4.1-.4-2.1-.6 4.2-.4-5.2-.3 4.1-.4-2.1-.6 4.3-.5-6.9-.2 4.2-.4-2.1-.5 4.3-.4-5.4-.2 4.3-.5-2.1-.2 4.2-.4-7.7-.5 4.3-.3-2.1-.4 4.1-.3-5.1-.4 4.1-.4-2.1-.2 4-.6-6.3-.3 3.8-.4-1.9-.5 3.6-.4-4.3-.7 3.3-.2-1.6-.6 3.1-.5-5.7-.8 2.9-.5-1.3-.9 2.4-.5-2.9-.6 2.2-1-1-.8 1.8-.8-2.7-.7 1.5-1.7-.5-1.5 1-1.7-1.2-1.9.9-1.9-.4-1.8.7-1.3-1.3-1.9.7-2.5-.3-3.1.6-1.7-.8-1.9.6-3.2-.3-2.5.7-1.6-1.1-2.1.7-3.6-.3-.9.6-2.4-.9-3.4.8-2.6-.4 0 .8-.1-1.5-2.1.7-6-.3-4.1.7-.5-.9-.4.7-4.5-.3-.7.3-5.6"/><path d="M373.33 656.64V612.10M373.33 686.98V703.02" stroke="#222" stroke-opacity="0.75" stroke-width="0.6"/><rect x="369.13" y="656.64" width="8.4" height="30.34" fill="none" stroke="#222" stroke-opacity="0.7" stroke-width="0.75"/><path d="M369.13 672.20h8.4" stroke="#111" stroke-opacity="0.8" stroke-width="1.3"/><path marker-start="url(#m1)" marker-mid="url(#m1)" marker-end="url(#m1)" d="M384.1 703.1l-.4-.3.9-.2-1.3-.3 1.1-.2-.6-.3 1.3-.3-2.1-.1 1.3-.3-.7-.3 1.4-.2-1.8-.2 1.5-.2-.8-.1 1.6-.3-2.9-.2 1.6-.2-.8-.1 1.7-.3-2.2-.2 1.8-.1-.9-.2 1.9-.2-3.2-.1 2-.3-1.1-.1 2.3-.1-2.9-.2 2.4-.2-1.2-.1 2.7-.2-5.3-.1 2.8-.1-1.5-.1 3.1-.1-4-.1 3.3-.1-1.7-.1 3.5-.1-5.9-.1 3.7-.1-1.9-.1 3.9-.1-5 0 4.1-.1-2.1-.1 4.2-.1-7.6-.1 4.2 0-2.1-.1 4.3-.1-5.4 0 4.3-.1-2.2-.1 4.3 0-6.9-.1 4.3-.1-2.2-.1 4.3 0-5.3-.1 4.2-.1-2.1-.1 4.1-.1-8 0 4.1-.1-2-.1 3.9-.1-4.8-.1 3.8-.1-1.9-.1 3.7-.1-5.9-.1 3.6-.1-1.7-.1 3.4-.1-4.3 0 3.4-.2-1.6 0 3.2-.1-5.8-.2 3.2-.1-1.6-.1 3.1-.1-3.7-.1 2.9-.1-1.5-.1 2.8-.2-4.4-.1 2.6-.1-1.2-.1 2.4-.2-3-.1 2.3-.1-1.1-.2 2.1-.2-3.9-.1 2-.2-.9-.2 1.8-.2-2.2-.2 1.7-.2-.8-.1 1.5-.3-2.4-.1 1.5-.3-.7-.3 1.2-.3-1.5-.1 1.2-.3-.6-.3 1-.3-1.6-.5.8-.2-.3-.5.6-.4-.7-.6.5-.6-.3-.3.5-.7-.7-.6.4-1.1-.2-.3.3-1.1-.3-1.1.2-3-.1-1.3.2-1.6-.4-8.2.2-.9 0-3 .1-22.6-.2-7.1.1-7 0-5.2.2-.8"/><path d="M384.12 689.60V679.32M384.12 696.68V703.10" stroke="#222" stroke-opacity="0.75" stroke-width="0.6"/><rect x="379.92" y="689.60" width="8.4" height="7.08" fill="none" stroke="#222" stroke-opacity="0.7" stroke-width="0.75"/><path d="M379.92 693.91h8.4" stroke="#111" stroke-opacity="0.8" stroke-width="1.3"/><path marker-start="url(#m2)" marker-mid="url(#m2)" marker-end="url(#m2)" d="M394.9 703.1l-1.3 0 2.7 0-3.5 0 2.8 0-1.4-.1 3 0-4.9 0 3 0-1.6-.1 3.2 0-4 0 3.2 0-1.6 0 3.4-.1-6.2 0 3.4 0-1.7 0 3.5 0-4.5-.1 3.7 0-1.9 0 3.8 0-6.2-.1 3.8 0-1.9 0 3.9 0-4.9-.1 4 0-2 0 4 0-7.7-.1 4 0-2 0 4.1 0-5.2-.1 4.2 0-2.1 0 4.2 0-6.9-.1 4.3 0-2.2 0 4.3 0-5.3-.1 4.3 0-2.2 0 4.3 0-7.8-.1 4.3 0-2.1 0 4.3 0-5.4-.1 4.3 0-2.2 0 4.3 0-6.9-.1 4.2 0-2.1 0 4.2-.1-5.2 0 4.1 0-2-.1 4.1 0-8 0 4.1 0-2-.1 3.9 0-4.8 0 3.8-.1-1.9 0 3.8-.1-6.1 0 3.7 0-1.8 0 3.6-.1-4.4 0 3.5-.1-1.8 0 3.4 0-6.1-.1 3.4 0-1.6 0 3.2-.1-4 0 3.1-.1-1.5 0 3 0-4.8-.1 2.9 0-1.4-.1 2.7 0-3.3-.1 2.6 0-1.3-.1 2.4 0-4.5-.1 2.3-.1-1.1 0 2.1-.1-2.5-.1 2 0-1-.1 1.8-.1-2.8 0 1.7-.2-.8 0 1.5-.1-1.8-.1 1.4-.1-.7-.1 1.2-.1-2-.1 1-.1-.4-.2.8-.1-1-.2.7-.2-.3-.1.6-.3-.9-.3.5-.2-.2-.2.4-.3-.4-.4.2-.2-.1-.3.1-1.3-.2-1.7.1-.9 0-.6.1-1.1-.1-1.1 0-11.8 0-6.5 0-10.3"/><path d="M394.91 699.92V696.38M394.91 702.38V703.13" stroke="#222" stroke-opacity="0.75" stroke-width="0.6"/><rect x="390.71" y="699.92" width="8.4" height="2.46" fill="none" stroke="#222" stroke-opacity="0.7" stroke-width="0.75"/><path d="M390.71 701.46h8.4" stroke="#111" stroke-opacity="0.8" stroke-width="1.3"/><path marker-start="url(#m3)" marker-mid="url(#m3)" marker-end="url(#m3)" d="M405.7 703.1l-1.9 0 3.8 0-4.8 0 3.9 0-2 0 3.9 0-6.3 0 3.9 0-2 0 4 0-5 0 4 0-2 0 4 0-7.2 0 4 0-2 0 4 0-5 0 4 0-2 0 4 0-6.6 0 4.1 0-2.1 0 4.1 0-5.1 0 4.1-.1-2 0 4 0-7.7 0 4 0-2 0 4.1 0-5.1 0 4.1 0-2.1 0 4.1 0-6.7 0 4.2 0-2.1 0 4.1 0-5.2 0 4.2 0-2.1 0 4.2 0-7.6 0 4.2 0-2.1-.1 4.2 0-5.3 0 4.3 0-2.2 0 4.3 0-6.9 0 4.2 0-2.1 0 4.3 0-5.4 0 4.3 0-2.1 0 4.2 0-8.3 0 4.3 0-2.2 0 4.3-.1-5.3 0 4.2 0-2.1 0 4.3 0-7 0 4.3 0-2.1 0 4.3 0-5.4 0 4.3 0-2.2 0 4.3 0-7.8 0 4.3 0-2.1-.1 4.3 0-5.4 0 4.3 0-2.1 0 4.3 0-7 0 4.3 0-2.2 0 4.3 0-5.3-.1 4.2 0-2.1 0 4.2 0-8 0 4.2 0-2.1 0 4.2 0-5.2 0 4.1-.1-2 0 4.1 0-6.7 0 4.1 0-2 0 4-.1-5 0 3.9 0-1.9 0 3.8-.1-6.8 0 3.7 0-1.8 0 3.6-.1-4.4 0 3.4-.1-1.7 0 3.2 0-5 0 3-.1-1.5 0 2.9 0-3.5-.1 2.7 0-1.3 0 2.5 0-4.9-.1 2.4 0-1.1 0 2.3 0-2.9 0 2.3 0-1.1 0 2.2-.1"/><path d="M405.71 702.53V701.80M405.71 703.03V703.15" stroke="#222" stroke-opacity="0.75" stroke-width="0.6"/><rect x="401.51" y="702.53" width="8.4" height="0.49" fill="none" stroke="#222" stroke-opacity="0.7" stroke-width="0.75"/><path d="M401.51 702.84h8.4" stroke="#111" stroke-opacity="0.8" stroke-width="1.3"/><path marker-start="url(#m4)" marker-mid="url(#m4)" marker-end="url(#m4)" d="M416.5 703.1l-1.9 0 3.8 0-4.8 0 3.9 0-2 0 3.9 0-6.3 0 3.9 0-2 0 4 0-5 0 4 0-2 0 4 0-7.2 0 3.9 0-1.9 0 3.9 0-4.9 0 4 0-2.1 0 4.1 0-6.6 0 4.1 0-2.1 0 4.1 0-5.1 0 4.1-.1-2.1 0 4.1 0-7.8 0 4.1 0-2 0 4.1 0-5.2 0 4.2 0-2.1 0 4.1 0-6.7 0 4.1 0-2 0 4.1 0-5.2 0 4.2 0-2.1 0 4.2 0-7.6 0 4.2 0-2.1 0 4.2-.1-5.3 0 4.2 0-2.1 0 4.3 0-6.9 0 4.2 0-2.1 0 4.3 0-5.4 0 4.3 0-2.1 0 4.2 0-8.3 0 4.3 0-2.2 0 4.3-.1-5.3 0 4.2 0-2.1 0 4.3 0-7 0 4.3 0-2.1 0 4.3 0-5.4 0 4.3 0-2.2 0 4.3 0-7.8 0 4.3-.1-2.1 0 4.3 0-5.4 0 4.3 0-2.1 0 4.2 0-6.9 0 4.3 0-2.2 0 4.3 0-5.3-.1 4.2 0-2.1 0 4.2 0-8 0 4.2 0-2.1 0 4.2 0-5.2 0 4.1-.1-2 0 4.1 0-6.7 0 4.1 0-2 0 4-.1-5 0 3.9 0-1.9 0 3.8-.1-6.8 0 3.7 0-1.8 0 3.6-.1-4.4 0 3.4-.1-1.7 0 3.2 0-5.1 0 3.1-.1-1.5 0 2.9 0-3.5 0 2.7-.1-1.3 0 2.5 0-4.9-.1 2.4 0-1.2 0 2.4 0-2.9 0 2.3 0-1.1 0 2.1-.1"/><path d="M416.50 702.53V701.80M416.50 703.03V703.15" stroke="#222" stroke-opacity="0.75" stroke-width="0.6"/><rect x="412.30" y="702.53" width="8.4" height="0.49" fill="none" stroke="#222" stroke-opacity="0.7" stroke-width="0.75"/><path d="M412.30 702.84h8.4" stroke="#111" stroke-opacity="0.8" stroke-width="1.3"/><path marker-start="url(#m5)" marker-mid="url(#m5)" marker-end="url(#m5)" d="M427.3 703.1l-1.9 0 3.8 0-4.8 0 3.9 0-2 0 3.9 0-6.3 0 3.9 0-2 0 4 0-5 0 4 0-2 0 4 0-7.2 0 3.9 0-1.9 0 3.9 0-5 0 4 0-2 0 4.1 0-6.6 0 4 0-2 0 4.1 0-5.1 0 4.1-.1-2.1 0 4.1 0-7.8 0 4.1 0-2 0 4.1 0-5.2 0 4.2 0-2.1 0 4.1 0-6.7 0 4.1 0-2 0 4.1 0-5.2 0 4.2 0-2.1 0 4.2 0-7.6 0 4.2 0-2.1-.1 4.2 0-5.3 0 4.2 0-2.1 0 4.3 0-6.9 0 4.2 0-2.1 0 4.2 0-5.3 0 4.3 0-2.1 0 4.2 0-8.3 0 4.3 0-2.2 0 4.3-.1-5.4 0 4.3 0-2.1 0 4.3 0-7 0 4.3 0-2.2 0 4.3 0-5.3 0 4.3 0-2.2 0 4.3 0-7.8 0 4.3-.1-2.1 0 4.3 0-5.4 0 4.3 0-2.1 0 4.2 0-6.9 0 4.3 0-2.2 0 4.3 0-5.3-.1 4.2 0-2.1 0 4.2 0-8 0 4.2 0-2.1 0 4.2 0-5.2 0 4.1-.1-2 0 4.1 0-6.7 0 4.1 0-2 0 4-.1-5 0 3.9 0-1.9 0 3.8-.1-6.8 0 3.7 0-1.8-.1 3.5 0-4.3 0 3.4 0-1.7-.1 3.2 0-5.1 0 3.1-.1-1.5 0 2.9 0-3.5 0 2.7-.1-1.3 0 2.5 0-5 0 2.5-.1-1.2 0 2.4 0-2.9 0 2.3 0-1.1 0 2.1-.1"/><path d="M427.29 702.53V701.81M427.29 703.03V703.15" stroke="#222" stroke-opacity="0.75" stroke-width="0.6"/><rect x="423.09" y="702.53" width="8.4" height="0.49" fill="none" stroke="#222" stroke-opacity="0.7" stroke-width="0.75"/><path d="M423.09 702.84h8.4" stroke="#111" stroke-opacity="0.8" stroke-width="1.3"/><path marker-start="url(#m6)" marker-mid="url(#m6)" marker-end="url(#m6)" d="M438.1 702.4l-.5-.6 1.1-1-1.7-1.7 1.5-.7-.8-1.3 1.7-1.2-2.9-1 1.8-.6-.9-1.2 1.9-1.3-2.5-1.2 2-.5-1-1.4 2.1-.6-3.8-1 2.1-1.2-1.1-.8 2.2-.8-2.8-1.2 2.3-.6-1.2-1.2 2.5-.7-4-.7 2.5-.7-1.3-.7 2.6-1.1-3.4-.9 2.8-.7-1.4-.8 3-.5-5.8-.8 3.1-.5-1.6-.7 3.2-.9-4.2-.7 3.5-.4-1.8-.8 3.6-.5-6-.7 3.8-.3-1.9-.5 3.8-.6-4.9-.6 4-.5-2-.4 4.1-.7-7.5-.4 4.2-.4-2.1-.5 4.2-.4-5.3-.5 4.3-.5-2.2-.4 4.3-.4-7-.5 4.3-.5-2.1-.7 4.3-.3-5.4-.4 4.3-.5-2.1-.7 4.2-.3-8.3-.6 4.3-.6-2.2-.3 4.3-.7-5.3-.3 4.2-.7-2.1-.8 4.2-.3-6.8-.4 4.2-.8-2.1-.3 4.1-.5-5.1-.4 4.1-.5-2.1-.6 4.1-.3-7.3-.7 4-.5-2-.4 3.9-.7-4.8-.3 3.8-.4-1.9-.5 3.7-.9-5.8-.5 3.5-.5-1.7-.6 3.3-.4-4.1-1 3.2-.5-1.6-.5 2.9-1.1-5.3-.6 2.7-.6-1.2-1 2.4-.8-2.9-.8 2.2-.6-1-1.3 1.9-1.1-2.9-1.4 1.7-.8-.8-2.1 1.4-.9-1.6-1.8 1.2-1.8-.6-1.9 1-1.3-1.7-2.5.9-2-.5-2.4.9-2-1.1-1.7.9-2.8-.4-2.3.9-1.6-1.5-1.7.9-2.5-.4-1.2.8-2.8-1.1-1.7 1-3.5-.5-2.1 1.3-1.5-2.6-.8 1.3-.3-.7-.8 1.3-1.7-1.4-2.3 1-1.4-.5 0 .7-4.2"/><path d="M438.09 634.62V579.46M438.09 672.20V702.39" stroke="#222" stroke-opacity="0.75" stroke-width="0.6"/><rect x="433.89" y="634.62" width="8.4" height="37.58" fill="none" stroke="#222" stroke-opacity="0.7" stroke-width="0.75"/><path d="M433.89 654.79h8.4" stroke="#111" stroke-opacity="0.8" stroke-width="1.3"/><path marker-start="url(#m7)" marker-mid="url(#m7)" marker-end="url(#m7)" d="M448.9 702.3l-.5-1.2 1-1.1-1.3-.5 1.1-1.5-.6-.6 1.3-1.2-2.2-1.5 1.4-.7-.7-1.4 1.4-.7-1.8-.7 1.4-1.4-.7-.8 1.5-1.3-2.8-.7 1.6-.6-.8-1.4 1.6-.9-2.1-.4 1.7-1.3-.9-.4 1.9-.8-3.1-1.2 1.9-.7-1-.7 2.2-1-2.7-.2 2.2-1-1.2-.7 2.5-.6-4.8-.5 2.6-.5-1.4-.5 2.8-.9-3.6-.2 2.9-.5-1.5-.8 3.2-.2-5.3-.5 3.3-.5-1.7-.5 3.5-.4-4.5-.5 3.7-.3-1.9-.5 3.9-.3-7.1-.4 4-.3-2-.3 4-.5-5.1-.3 4.1-.3-2.1-.5 4.2-.1-6.8-.6 4.2-.2-2.1-.5 4.2-.3-5.3-.4 4.3-.4-2.2-.1 4.3-.5-8.3-.4 4.2-.4-2.1-.3 4.3-.4-5.4-.5 4.3-.2-2.1-.6 4.3-.4-7-.1 4.3-.5-2.2-.4 4.3-.2-5.3-.4 4.2-.4-2.1-.3 4.2-.4-7.6-.3 4.2-.2-2.1-.4 4.1-.4-5-.2 4-.5-2-.4 3.9-.3-6.2-.4 3.7-.3-1.8-.5 3.5-.4-4.3-.4 3.4-.4-1.7-.5 3.1-.4-5.6-.7 2.8-.7-1.3-.4 2.4-.9-2.8-.3 2.2-.7-1-1 1.8-.6-2.7-1.1 1.5-1.4-.6-.4 1.1-2.1-1.3-.9 1-2.1-.5-1 .8-2.4-1.4-1 .8-2.1-.4-2.4.7-2-.8-1.5.6-2.7-.3-2.1.6-1.4-.9-3.3.5-2.3-.3-2 .6-2.1-.7-3 .6-3.1-.3-3.5.8-.6-1.7-.3.9-2.5-.5-1.1 1-.1-1.1-2.7.8-.2-.3-5 .2-15.2"/><path d="M448.88 645.55V605.29M448.88 673.27V702.26" stroke="#222" stroke-opacity="0.75" stroke-width="0.6"/><rect x="444.68" y="645.55" width="8.4" height="27.72" fill="none" stroke="#222" stroke-opacity="0.7" stroke-width="0.75"/><path d="M444.68 659.88h8.4" stroke="#111" stroke-opacity="0.8" stroke-width="1.3"/><path marker-start="url(#m8)" marker-mid="url(#m8)" marker-end="url(#m8)" d="M459.7 703.1l-.6-.1 1.2-.1-1.6-.1 1.3-.1-.7-.1 1.5-.1-2.6-.1 1.7-.1-.9 0 1.9-.2-2.4 0 1.9-.1-1-.1 2.2-.1-4-.1 2.2-.1-1.1-.1 2.3 0-3-.1 2.5-.1-1.3-.1 2.6 0-4.3-.1 2.7-.1-1.4-.1 2.9-.1-3.7 0 3-.1-1.5-.1 3.1 0-6-.1 3.2 0-1.7-.1 3.4-.1-4.3 0 3.5-.1-1.8 0 3.6-.1-5.9 0 3.7-.1-1.9 0 3.8-.1-4.8 0 3.9-.1-2 0 4-.1-7.3 0 4.1-.1-2.1 0 4.1 0-5.1-.1 4.1 0-2.1-.1 4.2 0-6.8 0 4.2-.1-2.1 0 4.2-.1-5.3 0 4.3 0-2.2-.1 4.3 0-8.4-.1 4.3 0-2.1-.1 4.3 0-5.4-.1 4.3 0-2.1 0 4.2-.1-6.9 0 4.3-.1-2.1 0 4.1-.1-5.1 0 4.1 0-2.1-.1 4.1 0-7.3-.1 4 0-2 0 3.9-.1-4.8 0 3.8-.1-1.9 0 3.8 0-6-.1 3.6 0-1.8-.1 3.5-.1-4.3 0 3.4 0-1.7-.1 3.2-.1-6 0 3.1-.1-1.4-.1 2.8-.1-3.4 0 2.6-.1-1.2-.1 2.3-.1-3.6 0 2.1-.1-.9-.2 1.8 0-2.2-.2 1.6-.1-.7-.2 1.2-.1-2.2-.2 1.2-.2-.5-.1.9-.2-1-.2.7-.3-.3-.3.6-.2-.9-.3.5-.5-.2-.3.4-.2-.5-.5.3-.4-.1-1.4.1-.6-.3-5.6.2-.8-.1-.3.2-1.3-.2-.6.1-5.7 0-1.9 0-8.9"/><path d="M459.67 697.14V692.55M459.67 700.38V703.09" stroke="#222" stroke-opacity="0.75" stroke-width="0.6"/><rect x="455.47" y="697.14" width="8.4" height="3.23" fill="none" stroke="#222" stroke-opacity="0.7" stroke-width="0.75"/><path d="M455.47 698.84h8.4" stroke="#111" stroke-opacity="0.8" stroke-width="1.3"/><rect x="366.85" y="541.55" width="99.30" height="169.20" fill="none" stroke="#333" stroke-width="1.07"/><path d="M472.70 683.90H572.00M472.70 645.40H572.00M472.70 606.90H572.00M472.70 568.40H572.00" stroke="#EBEBEB" stroke-width="0.55" fill="none"/><path d="M472.70 703.15H572.00M472.70 664.65H572.00M472.70 626.15H572.00M472.70 587.65H572.00M472.70 549.15H572.00M479.18 541.55V710.75M489.97 541.55V710.75M500.76 541.55V710.75M511.56 541.55V710.75M522.35 541.55V710.75M533.14 541.55V710.75M543.94 541.55V710.75M554.73 541.55V710.75M565.52 541.55V710.75" stroke="#EBEBEB" stroke-width="1.1" fill="none"/><path marker-start="url(#m0)" marker-mid="url(#m0)" marker-end="url(#m0)" d="M479.2 702.8l-1.3-.4 2.6-.4-3.4-.6 2.8-.6-1.5-.4 3.2-.5-5.4-.4 3.4-.5-1.8-.5 3.7-.6-4.8-.7 4-.3-2-.7 4.1-.5-7.5-.6 4.1-.4-2.1-.3 4.3-.6-5.4-.5 4.3-.6-2.1-.6 4.3-.6-7-.6 4.3-.5-2.2-.7 4.3-.6-5.3-.3 4.2-.7-2.1-.6 4.2-.5-8-.4 4.2-.8-2.1-.4 4.2-.9-5.2-.3 4.1-.5-2-.6 4-.8-6.5-.7 4-.4-2-.5 3.9-.9-4.8-.4 3.8-.8-1.9-.4 3.8-.6-6.9-.9 3.8-.3-1.8-.8 3.7-.5-4.6-.8 3.6-.4-1.8-.7 3.6-.8-5.8-.7 3.6-.4-1.8-.6 3.5-1.1-4.4-.5 3.5-.8-1.7-.6 3.4-.4-6.7-1.1 3.4-.7-1.7-.7 3.4-.6-4.2-.6 3.4-.8-1.7-.9 3.3-.4-5.4-.9 3.3-.6-1.6-.8 3.3-.6-4.1-.9 3.2-.6-1.6-.7 3.2-.4-5.7-.9 3.1-1-1.5-.6 3-.6-3.7-.9 2.9-.5-1.4-.7 2.8-1.1-4.5-.9 2.7-.8-1.3-.5 2.6-1.2-3.2-1 2.5-.9-1.2-.7 2.4-1.1-4.6-.8 2.4-1-1.1-.9 2.2-1.1-2.7-.7 2.1-1.4-1-1.3 1.9-.6-3-1.5 1.8-1.6-.9-.9 1.6-1.4-1.9-2.1 1.5-1.1-.7-1.8 1.3-1.7-2.4-1.5 1.3-1.4-.6-2 1.3-1.6-1.7-1.2 1.3-1.7-.6-1.6 1.3-2-2.2-2.4 1.4-1.1-.7-1.2 1.6-2.1-2.2-1.8 1.9-1-1-1.9 2-.7-3.8-1.1 1.9-.2-.9-.2 1.8-.4-2.3 0 1.8-.3-.8-1.9.6-8.4"/><path d="M479.18 636.01V585.03M479.18 685.13V702.81" stroke="#222" stroke-opacity="0.75" stroke-width="0.6"/><rect x="474.98" y="636.01" width="8.4" height="49.13" fill="none" stroke="#222" stroke-opacity="0.7" stroke-width="0.75"/><path d="M474.98 663.57h8.4" stroke="#111" stroke-opacity="0.8" stroke-width="1.3"/><path marker-start="url(#m1)" marker-mid="url(#m1)" marker-end="url(#m1)" d="M490 703.1l-.3-.3.6-.3-1-.2.9-.3-.5-.2 1-.3-1.6-.2 1-.3-.5-.2 1-.1-1.3-.3 1.1-.3-.6-.2 1.2-.2-2.2-.2 1.3-.2-.7-.2 1.4-.2-1.8-.2 1.4-.1-.7-.2 1.6-.2-2.7-.2 1.7-.1-.9-.1 2-.3-2.6 0 2.2-.3-1.2-.1 2.6-.1-5.1-.1 2.8-.1-1.5-.1 3-.1-4-.1 3.3-.1-1.7 0 3.6-.1-5.9-.1 3.7-.1-2 0 4-.1-5-.1 4 0-2-.1 4.1 0-7.5-.1 4.2 0-2.2-.1 4.3-.1-5.3 0 4.2-.1-2.1 0 4.3-.1-7 0 4.3-.1-2.1 0 4.2-.1-5.3 0 4.2-.1-2.1-.1 4.2 0-8-.1 4 0-2-.1 4-.1-4.8-.1 3.8-.1-1.9 0 3.6-.1-5.7-.1 3.5-.1-1.7-.1 3.3 0-4.1-.2 3.2 0-1.6-.1 3-.1-5.3-.1 2.9-.1-1.4-.1 2.7-.1-3.3-.1 2.6-.1-1.3-.1 2.5-.1-3.9-.1 2.3-.2-1.1-.1 2.2 0-2.7-.2 2.1-.1-1-.2 1.9-.1-3.5-.2 1.8-.1-.9-.2 1.7-.1-2-.2 1.5-.1-.7-.2 1.4-.3-2.2-.1 1.3-.2-.6-.1 1.2-.3-1.5-.3 1.1-.2-.5-.2.9-.2-1.6-.2.9-.5-.4-.2.7-.3-.8-.5.5-.5-.2-.5.4-.6-.6-.5.4-.7-.2-.8.3-.3-.4-1.1.3-.4-.1-.9.1-10.3-.2-2.1.1-21.7-.1-7.5.1-18.9-.1-.9.1-18.2-.1-1.4.1-20.2"/><path d="M489.97 690.68V681.69M489.97 696.68V703.08" stroke="#222" stroke-opacity="0.75" stroke-width="0.6"/><rect x="485.77" y="690.68" width="8.4" height="6.01" fill="none" stroke="#222" stroke-opacity="0.7" stroke-width="0.75"/><path d="M485.77 694.53h8.4" stroke="#111" stroke-opacity="0.8" stroke-width="1.3"/><path marker-start="url(#m2)" marker-mid="url(#m2)" marker-end="url(#m2)" d="M500.8 703.1l-1.1-.1 2.2 0-2.9-.1 2.4 0-1.3-.1 2.8-.1-4.7 0 2.9-.1-1.5-.1 3.2 0-4.2-.1 3.5-.1-1.8 0 3.7-.1-6.7 0 3.7-.1-1.9-.1 3.9 0-5-.1 4-.1-2 0 4.1-.1-6.7-.1 4.1 0-2-.1 4.1 0-5.2-.1 4.2-.1-2.1 0 4.3-.1-8.2-.1 4.3 0-2.1-.1 4.2-.1-5.3 0 4.3-.1-2.2 0 4.3-.1-7-.1 4.3 0-2.1-.1 4.3 0-5.4-.1 4.3-.1-2.1 0 4.2-.1-7.7 0 4.3-.1-2.2-.1 4.3 0-5.3-.1 4.2-.1-2.1 0 4.2-.1-6.8-.1 4.2 0-2.1-.1 4.1 0-5.1-.1 4.1-.1-2.1-.1 4.1 0-7.9-.1 4 0-2-.1 4-.1-5-.1 4 0-2-.1 4 0-6.4-.2 3.9 0-1.9-.1 3.8 0-4.8-.1 3.8-.1-1.8 0 3.7-.1-6.7-.1 3.6 0-1.8-.1 3.6-.1-4.4 0 3.5-.1-1.7 0 3.3-.1-5.3-.1 3.2-.1-1.6-.1 3.1-.1-3.7 0 2.9-.1-1.5-.2 2.7 0-5-.1 2.6-.1-1.2-.1 2.3-.2-2.7-.1 2.1-.1-1-.2 1.8-.2-2.8-.1 1.6-.1-.7-.2 1.4-.1-1.7-.2 1.3-.2-.6-.3 1-.2-1.8-.2 1-.3-.5-.2.8-.4-.9-.3.7-.4-.3-.5.5-.5-.8-.2.5-.4-.2-.7.4-.5-.6-.7.4-.5-.1-.1.1-1.4-.4-3.6.3-.4-.2-.6.2-9.4-.1-6.3.1-4.6-.1-2.6.1-2.6"/><path d="M500.76 696.07V689.06M500.76 700.99V703.10" stroke="#222" stroke-opacity="0.75" stroke-width="0.6"/><rect x="496.56" y="696.07" width="8.4" height="4.93" fill="none" stroke="#222" stroke-opacity="0.7" stroke-width="0.75"/><path d="M496.56 698.84h8.4" stroke="#111" stroke-opacity="0.8" stroke-width="1.3"/><path marker-start="url(#m3)" marker-mid="url(#m3)" marker-end="url(#m3)" d="M511.6 703.1l-2 0 3.9 0-4.9 0 3.9 0-1.9 0 3.9 0-6.4 0 3.9 0-1.9 0 3.9 0-4.9 0 3.9 0-1.9 0 3.9 0-7.2 0 4 0-2 0 4 0-5 0 4 0-2 0 4 0-6.5 0 4 0-2 0 4 0-5 0 4-.1-2 0 4.1 0-7.8 0 4.1 0-2.1 0 4.1 0-5.1 0 4.1 0-2 0 4.1 0-6.7 0 4.1 0-2.1 0 4.2 0-5.2 0 4.1 0-2 0 4.1 0-7.5 0 4.1 0-2 0 4.2-.1-5.3 0 4.2 0-2.1 0 4.2 0-6.8 0 4.2 0-2.1 0 4.2 0-5.3 0 4.3 0-2.2 0 4.3 0-8.3 0 4.2 0-2.1 0 4.3 0-5.4-.1 4.3 0-2.1 0 4.2 0-6.9 0 4.3 0-2.2 0 4.3 0-5.4 0 4.3 0-2.1 0 4.3 0-7.8 0 4.3-.1-2.2 0 4.3 0-5.3 0 4.3 0-2.2 0 4.3 0-7 0 4.3 0-2.1 0 4.3 0-5.4-.1 4.3 0-2.1 0 4.2 0-8.1 0 4.3 0-2.1 0 4.1 0-5.2 0 4.2-.1-2.1 0 4.1 0-6.6 0 4.1 0-2.1 0 4-.1-4.9 0 3.9 0-1.9 0 3.8-.1-6.9 0 3.8 0-1.8-.1 3.5 0-4.3 0 3.4 0-1.7-.1 3.2 0-5.1 0 3.1-.1-1.5 0 2.8 0-3.5 0 2.8-.1-1.4 0 2.6 0-5-.1 2.5 0-1.2 0 2.3 0-2.8 0 2.2 0-1.1 0 2.2-.1"/><path d="M511.56 702.53V701.80M511.56 703.03V703.15" stroke="#222" stroke-opacity="0.75" stroke-width="0.6"/><rect x="507.36" y="702.53" width="8.4" height="0.49" fill="none" stroke="#222" stroke-opacity="0.7" stroke-width="0.75"/><path d="M507.36 702.84h8.4" stroke="#111" stroke-opacity="0.8" stroke-width="1.3"/><path marker-start="url(#m4)" marker-mid="url(#m4)" marker-end="url(#m4)" d="M522.4 703.1l-2 0 3.9 0-4.9 0 3.9 0-1.9 0 3.9 0-6.4 0 3.9 0-1.9 0 3.9 0-4.9 0 3.9 0-1.9 0 3.9 0-7.2 0 4 0-2 0 4 0-5 0 4 0-2 0 4 0-6.5 0 4 0-2 0 4 0-5 0 4-.1-2 0 4.1 0-7.8 0 4.1 0-2.1 0 4.1 0-5.1 0 4.1 0-2.1 0 4.2 0-6.7 0 4.1 0-2.1 0 4.2 0-5.2 0 4.1 0-2 0 4.1 0-7.6 0 4.2 0-2.1 0 4.3-.1-5.3 0 4.2 0-2.1 0 4.2 0-6.9 0 4.3 0-2.1 0 4.2 0-5.3 0 4.2 0-2.1 0 4.3 0-8.4 0 4.3 0-2.1 0 4.3 0-5.4-.1 4.3 0-2.2 0 4.3 0-6.9 0 4.3 0-2.2 0 4.3 0-5.4 0 4.3 0-2.1 0 4.3 0-7.8 0 4.3-.1-2.2 0 4.3 0-5.3 0 4.3 0-2.2 0 4.3 0-7 0 4.3 0-2.1 0 4.2 0-5.3-.1 4.3 0-2.1 0 4.2 0-8.1 0 4.2 0-2 0 4.1 0-5.2 0 4.2-.1-2.1 0 4.1 0-6.6 0 4 0-2 0 4.1 0-5.1 0 4-.1-2 0 4 0-7.1 0 3.9 0-2 0 3.9 0-4.8 0 3.8-.1-1.9 0 3.7 0-5.9 0 3.6-.1-1.8 0 3.4 0-4.2 0 3.3-.1-1.6 0 3 0-5.8-.1 2.9 0-1.4 0 2.6-.1-3 0 2.3-.1-.9-.3 1.1-.2"/><path d="M522.35 702.53V701.80M522.35 703.03V703.15" stroke="#222" stroke-opacity="0.75" stroke-width="0.6"/><rect x="518.15" y="702.53" width="8.4" height="0.49" fill="none" stroke="#222" stroke-opacity="0.7" stroke-width="0.75"/><path d="M518.15 702.84h8.4" stroke="#111" stroke-opacity="0.8" stroke-width="1.3"/><path marker-start="url(#m5)" marker-mid="url(#m5)" marker-end="url(#m5)" d="M533.1 703.1l-1.9 0 3.9 0-4.9 0 3.9 0-1.9 0 3.9 0-6.4 0 3.9 0-1.9 0 3.9 0-4.9 0 3.9 0-2 0 4 0-7.2 0 4 0-2 0 4 0-5 0 4 0-2 0 4 0-6.5 0 4 0-2 0 4 0-5 0 4-.1-2 0 4.1 0-7.8 0 4.1 0-2.1 0 4.1 0-5.1 0 4.1 0-2.1 0 4.2 0-6.7 0 4.1 0-2.1 0 4.2 0-5.2 0 4.1 0-2 0 4.1 0-7.5 0 4.1 0-2.1 0 4.2-.1-5.2 0 4.2 0-2.1 0 4.2 0-6.9 0 4.3 0-2.1 0 4.2 0-5.3 0 4.2 0-2.1 0 4.3 0-8.4 0 4.3 0-2.1 0 4.3-.1-5.4 0 4.3 0-2.2 0 4.3 0-6.9 0 4.2 0-2.1 0 4.3 0-5.4 0 4.3 0-2.1 0 4.3 0-7.8 0 4.3-.1-2.2 0 4.3 0-5.3 0 4.3 0-2.2 0 4.3 0-7 0 4.3 0-2.1 0 4.2 0-5.3 0 4.3-.1-2.2 0 4.3 0-8.1 0 4.2 0-2.1 0 4.2 0-5.2 0 4.2-.1-2.1 0 4.1 0-6.6 0 4 0-2 0 4-.1-4.9 0 3.9 0-2 0 3.9-.1-6.9 0 3.7 0-1.8-.1 3.6 0-4.4 0 3.4-.1-1.6 0 3.1 0-5 0 3-.1-1.4 0 2.8 0-3.5 0 2.7-.1-1.3 0 2.6 0-5 0 2.5-.1-1.2 0 2.3 0-2.8 0 2.2 0-1.1 0 2.2-.1"/><path d="M533.14 702.53V701.80M533.14 703.03V703.15" stroke="#222" stroke-opacity="0.75" stroke-width="0.6"/><rect x="528.94" y="702.53" width="8.4" height="0.49" fill="none" stroke="#222" stroke-opacity="0.7" stroke-width="0.75"/><path d="M528.94 702.84h8.4" stroke="#111" stroke-opacity="0.8" stroke-width="1.3"/><path marker-start="url(#m6)" marker-mid="url(#m6)" marker-end="url(#m6)" d="M543.9 702.8l-.6-.9 1.4-1.1-2-.8 1.7-1.2-.9-.8 2-.9-3.4-.6 2.1-1.1-1.1-.6 2.3-1.3-2.9-.7 2.3-1.1-1.2-.8 2.4-.5-4.3-1.1 2.4-.7-1.3-1 2.6-.8-3.2-.8 2.5-.7-1.3-.7 2.7-.8-4.3-1 2.6-.4-1.3-1.1 2.7-.5-3.4-.8 2.8-.6-1.4-1 2.8-.6-5.5-.7 2.9-.8-1.5-.6 3.1-1-3.9-.5 3.1-.5-1.5-.6 3.1-.8-5.2-.5 3.2-.9-1.6-.4 3.3-.9-4.2-.6 3.4-.3-1.7-.8 3.5-.6-6.3-.5 3.5-.9-1.8-.2 3.5-.7-4.4-.7 3.6-.4-1.8-.6 3.6-.5-5.9-.8 3.6-.6-1.8-.4 3.7-.6-4.7-.7 3.8-.5-1.9-.4 3.9-.7-7.6-.6 3.9-.4-2-.7 4-.6-5-.3 4-.8-2-.3 4.1-.7-6.8-.4 4.2-.4-2.1-.7 4.3-.5-5.4-.3 4.3-.5-2.1-.5 4.3-.5-7.8-.3 4.3-.4-2.2-.5 4.3-.5-5.3-.6 4.2-.4-2.1-.4 4.1-.6-6.6-.5 4-.4-1.9-.4 3.9-.5-4.8-.8 3.7-.2-1.8-.8 3.5-.4-6.6-.6 3.4-.6-1.6-.8 3.1-.7-3.7-.9 2.9-.3-1.4-.8 2.5-1.3-3.9-.5 2.3-1.3-1-.9 1.9-1.2-2.3-.8 1.8-1.4-.9-.9 1.6-2-2.8-1 1.5-.9-.7-1.4 1.4-2.2-1.8-.7 1.4-1.8-.7-1.2 1.5-1.7-2.4-.9 1.5-1.6-.8-.9 1.8-1.9-2.3-1.2 1.8-.6-.9-1.4 1.9 0-3.7-.8 1.9-.6-.9-1.6 1.6-1.1-1.9-.3 1.5-1.4-.6-2 .7-3"/><path d="M543.94 637.55V597.04M543.94 675.43V702.84" stroke="#222" stroke-opacity="0.75" stroke-width="0.6"/><rect x="539.74" y="637.55" width="8.4" height="37.88" fill="none" stroke="#222" stroke-opacity="0.7" stroke-width="0.75"/><path d="M539.74 655.41h8.4" stroke="#111" stroke-opacity="0.8" stroke-width="1.3"/><path marker-start="url(#m7)" marker-mid="url(#m7)" marker-end="url(#m7)" d="M554.7 703l-.5-1.3 1.1-.9-1.5-.7 1.3-.9-.7-.7 1.5-1-2.5-.6 1.5-1-.8-.7 1.7-.7-2.1-.7 1.7-1-.9-.9 1.8-.6-3.3-.6 1.8-.6-.9-.6 1.9-.8-2.4-.9 2-.5-1.1-.7 2.2-.8-3.6-.5 2.3-.7-1.2-.6 2.4-.5-3.1-.8 2.6-.5-1.3-.2 2.8-.9-5.5-.2 2.9-.6-1.5-.3 3.2-.5-4.2-.6 3.4-.4-1.7-.2 3.6-.5-6-.4 3.7-.3-1.9-.3 3.9-.5-4.9-.4 4-.3-2.1-.2 4.2-.4-7.6-.3 4.2-.3-2.1-.4 4.3-.2-5.4-.3 4.3-.2-2.1-.4 4.3-.3-7-.2 4.3-.3-2.2-.4 4.3-.3-5.3-.2 4.2-.4-2.1-.2 4.2-.4-8.1-.4 4.1-.2-2-.4 4-.4-5-.5 4-.3-2-.4 3.9-.5-6.2-.3 3.8-.5-1.9-.2 3.7-.4-4.6-.5 3.6-.3-1.8-.2 3.5-.5-6.2-.3 3.4-.5-1.7-.4 3.3-.3-4-.4 3.2-.3-1.6-.6 3-.4-4.8-.5 2.9-.6-1.4-.5 2.7-.2-3.3-.6 2.6-.7-1.3-.5 2.3-.7-4.3-.4 2.2-.9-1-.5 1.9-.8-2.2-.4 1.7-.8-.8-1 1.4-1-2.1-.8 1.2-1.3-.5-.9.9-1.8-1-1.2.7-2.3-.3-1.1.6-1.8-1.1-2.1.6-1.7-.3-2.8.6-1.8-.7-1.9.5-2.1-.2-2.4.5-1.7-.9-2.5.6-2.3-.4-1.5.9-1.1-1.2-2 1.1-1.7-.6-.1 1.1-.2-2.2-.3 1.1-1.9-.4-2.4.9-1-1-.9.7-2.3-.3-.9.2-6.9"/><path d="M554.73 652.18V611.47M554.73 679.74V702.96" stroke="#222" stroke-opacity="0.75" stroke-width="0.6"/><rect x="550.53" y="652.18" width="8.4" height="27.57" fill="none" stroke="#222" stroke-opacity="0.7" stroke-width="0.75"/><path d="M550.53 668.35h8.4" stroke="#111" stroke-opacity="0.8" stroke-width="1.3"/><path marker-start="url(#m8)" marker-mid="url(#m8)" marker-end="url(#m8)" d="M565.5 703.1l-.5 0 1.1-.1-1.5-.1 1.3-.1-.7 0 1.4-.1-2.4-.1 1.5-.1-.8-.1 1.8 0-2.4-.1 2-.1-1 0 2.1-.1-3.9 0 2.2-.1-1.2-.1 2.4-.1-3 0 2.4-.1-1.3 0 2.7-.1-4.4-.1 2.7 0-1.4-.1 2.9 0-3.6-.1 2.9 0-1.5-.1 3.2-.1-6 0 3.1 0-1.6-.1 3.3 0-4.2-.1 3.4 0-1.7-.1 3.5 0-5.8-.1 3.6 0-1.8 0 3.7-.1-4.7 0 3.8-.1-1.9 0 3.9 0-7.2-.1 4 0-2 0 4-.1-5.1 0 4.1 0-2-.1 4.1 0-6.7 0 4.1-.1-2.1 0 4.3 0-5.3-.1 4.2 0-2.1 0 4.3-.1-8.4 0 4.3 0-2.2-.1 4.3 0-5.3 0 4.3-.1-2.2 0 4.3 0-6.9-.1 4.2 0-2.1 0 4.2 0-5.2-.1 4.2 0-2.1 0 4.1 0-7.5-.1 4.1 0-2 0 4.1 0-5.1-.1 4 0-2 0 4 0-6.4-.1 3.9 0-1.9 0 3.8-.1-4.7 0 3.7 0-1.8-.1 3.5 0-6.7 0 3.5-.1-1.7 0 3.3-.1-4 0 3.1-.1-1.5 0 2.9-.1-4.5 0 2.7-.1-1.3-.1 2.4-.1-2.8-.1 2.1 0-1-.1 1.7-.1-2.9-.2 1.5-.1-.6-.2 1.1-.1-1.3-.2.9-.2-.4-.2.7-.1-1.1-.2.7-.3-.3-.2.5-.3-.6-.2.4-.3-.2-.2.4-.2-.6-.6.2-.1 0-3 .1-2.7-.1-1.6.1-3.9-.1-.1.1-3.7"/><path d="M565.52 698.68V695.45M565.52 700.99V703.11" stroke="#222" stroke-opacity="0.75" stroke-width="0.6"/><rect x="561.32" y="698.68" width="8.4" height="2.31" fill="none" stroke="#222" stroke-opacity="0.7" stroke-width="0.75"/><path d="M561.32 699.76h8.4" stroke="#111" stroke-opacity="0.8" stroke-width="1.3"/><rect x="472.70" y="541.55" width="99.30" height="169.20" fill="none" stroke="#333" stroke-width="1.07"/><path d="M578.55 683.90H677.85M578.55 645.40H677.85M578.55 606.90H677.85M578.55 568.40H677.85" stroke="#EBEBEB" stroke-width="0.55" fill="none"/><path d="M578.55 703.15H677.85M578.55 664.65H677.85M578.55 626.15H677.85M578.55 587.65H677.85M578.55 549.15H677.85M585.03 541.55V710.75M595.82 541.55V710.75M606.61 541.55V710.75M617.41 541.55V710.75M628.20 541.55V710.75M638.99 541.55V710.75M649.79 541.55V710.75M660.58 541.55V710.75M671.37 541.55V710.75" stroke="#EBEBEB" stroke-width="1.1" fill="none"/><path marker-start="url(#m0)" marker-mid="url(#m0)" marker-end="url(#m0)" d="M585 702.4l-.5-.9 1.1-2.3-1.6-1.1 1.4-1.3-.8-1.6 1.6-1.1-2.6-.9 1.6-2-.8-1.5 1.7-.6-2.2-2 1.8-1-.9-1.7 1.9-1-3.5-.9 1.9-1.2-.9-1.6 1.9-1.2-2.4-.9 1.9-1.8-.9-.7 1.9-1.8-3.2-.9 2-1.3-1-1.3 2-1.1-2.5-1.5 2-1-1-.7 2.1-1.7-4-1.1 2.1-.9-1.1-1.4 2.2-1.1-2.7-.8 2.1-1.3-1.1-1.3 2.3-.9-3.7-1 2.3-.8-1.1-1.4 2.2-1.1-2.8-1.2 2.3-.9-1.2-1.4 2.3-1.2-4.2-.4 2.3-1.5-1.2-.7 2.5-1.4-3.1-1.1 2.5-1.1-1.3-.7 2.6-.7-4.2-.9 2.6-1-1.3-1.3 2.8-.9-3.6-.8 2.9-1.2-1.5-.7 3.2-.9-6.3-1 3.3-.5-1.7-.8 3.4-.6-4.4-.8 3.6-.9-1.9-.9 3.8-.6-6.2-.5 3.9-.7-2-.9 4-.3-5.1-.9 4.1-.3-2-.6 4.2-.7-7.7-.3 4.3-.6-2.2-.7 4.3-.5-5.4-.3 4.3-.7-2.1-.6 4.3-.4-6.9-.6 4.2-.5-2.1-.6 4.1-.4-5.1-.8 4-.5-2-.4 3.9-.8-7.3-.5 3.8-.9-1.8-.4 3.5-.9-4.2-.6 3.3-1.1-1.6-.6 3-1-4.7-1.1 2.8-1-1.3-.6 2.4-1.4-2.9-1.2 2.2-1.5-1-.7 2-1.1-3.6-2 1.9-1.2-.9-1.4 1.9-1.1-2.4-1.3 1.9-1.4-1-1.1 2.1-1.5-3.4-1.4 2.1-.7-1.1-1.6 2.2-.9-2.7-1.9 2.2-.6-1.1-1.2 2.1-.9-4.2-.2 2.1-.6-1 0 2-2.5-2.3-.4 1.8-.3-.8-1.9.9-3.7"/><path d="M585.03 606.13V566.55M585.03 660.34V702.42" stroke="#222" stroke-opacity="0.75" stroke-width="0.6"/><rect x="580.83" y="606.13" width="8.4" height="54.21" fill="none" stroke="#222" stroke-opacity="0.7" stroke-width="0.75"/><path d="M580.83 626.77h8.4" stroke="#111" stroke-opacity="0.8" stroke-width="1.3"/><path marker-start="url(#m1)" marker-mid="url(#m1)" marker-end="url(#m1)" d="M595.8 703l-.5-.2 1.1 0-1.6-.3 1.4-.2-.8-.1 1.7-.2-2.8-.2 1.7-.1-.9-.2 1.9-.2-2.4-.1 2-.2-1-.2 2-.1-3.8-.2 2.2-.1-1.1-.1 2.2-.2-2.8-.1 2.2-.1-1.1-.2 2.4-.1-4-.2 2.5-.1-1.3-.1 2.7-.2-3.5-.1 2.9-.1-1.5-.1 3.1-.1-5.9-.1 3.1-.1-1.7-.2 3.5-.1-4.4-.1 3.5 0-1.8-.1 3.8-.1-6.2-.1 3.8-.1-2-.1 4.1 0-5.1-.1 4.1-.1-2.1-.1 4.2 0-7.6-.1 4.2-.1-2.1 0 4.3-.1-5.4-.1 4.3-.1-2.2 0 4.3-.1-6.9-.1 4.3 0-2.2-.1 4.2-.1-5.2 0 4.2-.1-2.1-.1 4.1 0-7.9-.2 4 0-2-.1 3.9-.1-4.8-.1 3.8-.1-1.8-.1 3.6-.1-5.8-.1 3.5-.1-1.7-.1 3.4-.1-4.2-.1 3.3 0-1.6-.2 3.1-.1-5.6 0 3.1-.1-1.5-.2 2.9-.1-3.6-.1 2.8-.1-1.3-.1 2.6-.1-4.2-.1 2.5-.2-1.2-.2 2.3 0-2.8-.2 2.2-.2-1.1-.1 2-.1-3.7-.3 1.9-.1-.9-.2 1.7-.2-2-.1 1.6-.3-.8-.2 1.5-.2-2.3-.2 1.4-.2-.7-.2 1.2-.3-1.5-.2 1.2-.2-.6-.2.9-.5-1.5-.3.8-.5-.4-.4.7-.3-.8-.5.6-.3-.2-.7.4-.7-.7-.6.4-.9-.2-.4.3-1-.3-.6.2-15.7-.1-5.3.2-.7-.3-7 .1-6.3 0-2.5.1-2-.3-.2.2-14.7 0-22 .1-9.7"/><path d="M595.82 691.29V681.78M595.82 698.22V703.00" stroke="#222" stroke-opacity="0.75" stroke-width="0.6"/><rect x="591.62" y="691.29" width="8.4" height="6.93" fill="none" stroke="#222" stroke-opacity="0.7" stroke-width="0.75"/><path d="M591.62 695.60h8.4" stroke="#111" stroke-opacity="0.8" stroke-width="1.3"/><path marker-start="url(#m2)" marker-mid="url(#m2)" marker-end="url(#m2)" d="M606.6 703.1l-.4-.2.9-.1-1.3-.2 1.1-.2-.6-.1 1.4-.1-2.4-.2 1.5-.1-.8-.2 1.6-.2-2-.1 1.7-.1-.9-.1 1.8-.2-3.3-.1 1.8-.2-.9-.1 1.9-.1-2.5-.2 2-.1-1-.1 2.2-.1-3.6-.1 2.2-.2-1.1-.1 2.4-.1-3.1 0 2.6-.2-1.4-.1 2.8 0-5.4-.2 2.9-.1-1.5 0 3.1-.1-4-.1 3.2-.1-1.6-.1 3.4-.1-5.6 0 3.5-.1-1.8 0 3.6-.1-4.6-.1 3.7-.1-1.8 0 3.8-.1-7-.1 3.9 0-2 0 4-.1-5-.1 4 0-2-.1 4.1 0-6.7-.1 4.1 0-2.1-.1 4.2-.1-5.2 0 4.2-.1-2.1-.1 4.3 0-8.4-.1 4.3 0-2.2-.1 4.3 0-5.3-.1 4.3-.1-2.2 0 4.3-.1-7-.1 4.3 0-2.1-.1 4.2 0-5.3-.1 4.2 0-2-.1 4.1-.1-7.5 0 4.1-.1-2 0 4 0-4.9-.1 3.9-.1-1.9 0 3.7-.1-6-.1 3.7 0-1.8-.1 3.4-.1-4.3 0 3.4-.1-1.6-.1 3.1-.1-5.9 0 3-.1-1.3-.1 2.7-.1-3.2-.1 2.4-.1-1.1-.2 2.1-.1-3.4-.1 2-.1-.9-.2 1.7-.1-2-.1 1.5-.3-.7-.1 1.2-.2-2.1-.1 1.1-.3-.4-.3.8-.3-.9-.4.6-.1-.3-.6.6-.4-.9-.2.5-.6-.2-.4.3-.8-.3-.2.2-2.8-.1-13.4.1-6.5-.2-3.6.1-1.4 0-4.1.1-2.2-.2-.7.1-11.3 0-6.2.1-16.3"/><path d="M606.61 694.37V688.27M606.61 698.84V703.05" stroke="#222" stroke-opacity="0.75" stroke-width="0.6"/><rect x="602.41" y="694.37" width="8.4" height="4.47" fill="none" stroke="#222" stroke-opacity="0.7" stroke-width="0.75"/><path d="M602.41 696.68h8.4" stroke="#111" stroke-opacity="0.8" stroke-width="1.3"/><path marker-start="url(#m3)" marker-mid="url(#m3)" marker-end="url(#m3)" d="M617.4 703.1l-1.9 0 3.8 0-4.8 0 3.9 0-2 0 3.9 0-6.3 0 3.9 0-2 0 4 0-5 0 4 0-2 0 4 0-7.2 0 4 0-2 0 4 0-5 0 4 0-2 0 4 0-6.6 0 4.1 0-2.1 0 4.1 0-5.1 0 4.1-.1-2 0 4 0-7.7 0 4 0-2 0 4.1 0-5.1 0 4.1 0-2.1 0 4.1 0-6.7 0 4.2 0-2.1 0 4.1 0-5.2 0 4.2 0-2.1 0 4.2 0-7.6 0 4.2 0-2.1 0 4.2-.1-5.3 0 4.3 0-2.2 0 4.3 0-6.9 0 4.2 0-2.1 0 4.3 0-5.4 0 4.3 0-2.1 0 4.2 0-8.3 0 4.3 0-2.2 0 4.3-.1-5.3 0 4.2 0-2.1 0 4.3 0-7 0 4.3 0-2.1 0 4.3 0-5.4 0 4.3 0-2.2 0 4.3 0-7.8 0 4.3-.1-2.1 0 4.3 0-5.4 0 4.3 0-2.1 0 4.3 0-7 0 4.3 0-2.2 0 4.3 0-5.3-.1 4.2 0-2.1 0 4.2 0-8 0 4.2 0-2.1 0 4.2 0-5.2 0 4.1-.1-2 0 4.1 0-6.7 0 4.1 0-2 0 4-.1-5 0 3.9 0-1.9 0 3.8-.1-6.8 0 3.7 0-1.8 0 3.5-.1-4.3 0 3.4 0-1.6-.1 3.1 0-5.1 0 3.1-.1-1.5 0 2.9 0-3.5 0 2.7-.1-1.3 0 2.5 0-4.9-.1 2.4 0-1.2 0 2.4 0-2.9 0 2.3 0-1.1 0 2.2-.1"/><path d="M617.41 702.53V701.82M617.41 703.03V703.15" stroke="#222" stroke-opacity="0.75" stroke-width="0.6"/><rect x="613.21" y="702.53" width="8.4" height="0.49" fill="none" stroke="#222" stroke-opacity="0.7" stroke-width="0.75"/><path d="M613.21 702.84h8.4" stroke="#111" stroke-opacity="0.8" stroke-width="1.3"/><path marker-start="url(#m4)" marker-mid="url(#m4)" marker-end="url(#m4)" d="M628.2 703.1l-1.9 0 3.8 0-4.8 0 3.9 0-2 0 3.9 0-6.3 0 3.9 0-2 0 4 0-5 0 4 0-2 0 4 0-7.2 0 3.9 0-1.9 0 3.9 0-4.9 0 4 0-2.1 0 4.1 0-6.6 0 4.1 0-2.1 0 4.1 0-5.1 0 4.1-.1-2.1 0 4.1 0-7.8 0 4.1 0-2 0 4.1 0-5.2 0 4.2 0-2.1 0 4.1 0-6.7 0 4.1 0-2 0 4.1 0-5.2 0 4.2 0-2.1 0 4.2 0-7.6 0 4.2 0-2.1-.1 4.2 0-5.3 0 4.2 0-2.1 0 4.3 0-6.9 0 4.2 0-2.1 0 4.3 0-5.4 0 4.3 0-2.1 0 4.2 0-8.3 0 4.3 0-2.2 0 4.3-.1-5.3 0 4.2 0-2.1 0 4.3 0-7 0 4.3 0-2.1 0 4.3 0-5.4 0 4.3 0-2.2 0 4.3 0-7.8 0 4.3-.1-2.1 0 4.3 0-5.4 0 4.3 0-2.1 0 4.2 0-6.9 0 4.3 0-2.2 0 4.3 0-5.3-.1 4.2 0-2.1 0 4.2 0-8 0 4.2 0-2.1 0 4.2 0-5.2 0 4.1-.1-2 0 4.1 0-6.7 0 4.1 0-2 0 4-.1-5 0 3.9 0-1.9 0 3.8-.1-6.8 0 3.7 0-1.8 0 3.6-.1-4.4 0 3.4-.1-1.7 0 3.2 0-5.1 0 3.1-.1-1.5 0 2.9 0-3.5-.1 2.7 0-1.3 0 2.5 0-5 0 2.5-.1-1.2 0 2.4 0-2.9 0 2.3 0-1.1 0 2.1-.1"/><path d="M628.20 702.53V701.80M628.20 703.03V703.15" stroke="#222" stroke-opacity="0.75" stroke-width="0.6"/><rect x="624.00" y="702.53" width="8.4" height="0.49" fill="none" stroke="#222" stroke-opacity="0.7" stroke-width="0.75"/><path d="M624.00 702.84h8.4" stroke="#111" stroke-opacity="0.8" stroke-width="1.3"/><path marker-start="url(#m5)" marker-mid="url(#m5)" marker-end="url(#m5)" d="M639 703.1l-1.9 0 3.8 0-4.8 0 3.9 0-2 0 3.9 0-6.3 0 3.9 0-2 0 4 0-5 0 4 0-2 0 4 0-7.2 0 3.9 0-1.9 0 3.9 0-5 0 4 0-2 0 4.1 0-6.6 0 4.1 0-2.1 0 4.1 0-5.1 0 4.1 0-2.1-.1 4.1 0-7.8 0 4.1 0-2 0 4.1 0-5.2 0 4.2 0-2.1 0 4.1 0-6.7 0 4.1 0-2 0 4.1 0-5.2 0 4.2 0-2.1 0 4.2 0-7.6 0 4.2 0-2.1 0 4.2-.1-5.3 0 4.2 0-2.1 0 4.3 0-6.9 0 4.2 0-2.1 0 4.2 0-5.3 0 4.3 0-2.1 0 4.2 0-8.3 0 4.3 0-2.2 0 4.3 0-5.4-.1 4.3 0-2.1 0 4.3 0-7 0 4.3 0-2.2 0 4.3 0-5.3 0 4.3 0-2.2 0 4.3 0-7.8 0 4.3-.1-2.1 0 4.3 0-5.4 0 4.3 0-2.1 0 4.2 0-6.9 0 4.3 0-2.2 0 4.3 0-5.3-.1 4.2 0-2.1 0 4.2 0-8 0 4.2 0-2.1 0 4.2 0-5.2 0 4.1-.1-2 0 4.1 0-6.7 0 4.1 0-2 0 4-.1-5 0 3.9 0-1.9 0 3.8-.1-6.8 0 3.7 0-1.8-.1 3.5 0-4.3 0 3.4 0-1.7-.1 3.2 0-5.1 0 3.1-.1-1.5 0 2.9 0-3.5 0 2.7-.1-1.3 0 2.5 0-5 0 2.5-.1-1.2 0 2.4 0-2.9 0 2.3 0-1.1 0 2.1-.1"/><path d="M638.99 702.53V701.80M638.99 703.03V703.15" stroke="#222" stroke-opacity="0.75" stroke-width="0.6"/><rect x="634.79" y="702.53" width="8.4" height="0.49" fill="none" stroke="#222" stroke-opacity="0.7" stroke-width="0.75"/><path d="M634.79 702.84h8.4" stroke="#111" stroke-opacity="0.8" stroke-width="1.3"/><path marker-start="url(#m6)" marker-mid="url(#m6)" marker-end="url(#m6)" d="M649.8 703l-1.3-.2 2.7-.3-3.6-.3 2.9-.1-1.5-.3 3.2-.3-5.4-.3 3.4-.2-1.8-.5 3.7-.3-4.7-.2 3.8-.3-1.9-.3 4-.3-7.4-.2 4.1-.2-2.1-.5 4.3-.2-5.3-.4 4.2-.3-2.1-.3 4.3-.3-7-.3 4.3-.4-2.2-.2 4.3-.5-5.3-.4 4.2-.3-2.1-.2 4.2-.5-7.9-.4 4.1-.2-2-.3 4-.3-5-.4 4-.6-2-.3 3.9-.3-6.2-.5 3.8-.2-1.9-.4 3.7-.4-4.6-.6 3.6-.2-1.7-.4 3.5-.4-6.4-.6 3.5-.4-1.7-.4 3.4-.3-4.2-.5 3.3-.4-1.6-.4 3.3-.5-5.4-.4 3.3-.4-1.6-.5 3.2-.5-4-.5 3.2-.3-1.6-.6 3.3-.3-6.4-.7 3.2-.3-1.6-.5 3.3-.3-4.2-.6 3.4-.2-1.7-.6 3.4-.5-5.5-.4 3.4-.5-1.7-.2 3.4-.5-4.3-.2 3.4-.6-1.7-.2 3.4-.4-6.1-.3 3.3-.5-1.6-.3 3.3-.5-4.1-.3 3.2-.4-1.6-.4 3.1-.5-4.9-.5 3-.2-1.5-.5 2.9-.5-3.5-.6 2.7-.4-1.3-.9 2.4-.4-4.5-.4 2.3-1-1-.6 1.9-.6-2.3-.6 1.8-.8-.8-1 1.4-.5-2.1-1.4 1.2-1.2-.5-1.5.9-1.8-1.1-1.6.8-.9-.4-2.3.7-2.3-1.1-1.5.5-2.2-.2-3 .5-1.5-.7-2.2.6-2.8-.3-2.1.6-2.2-1-.8.6-3.2-.3-2.3.7-.6-.9-2.4.7-1.5-.3-3.6.7-.2-1.5-.1.8-3.8-.4-.1.8-2.6-1-1.1.8-.4-.4-.8.4-5.2"/><path d="M649.79 662.49V620.34M649.79 692.83V702.96" stroke="#222" stroke-opacity="0.75" stroke-width="0.6"/><rect x="645.59" y="662.49" width="8.4" height="30.34" fill="none" stroke="#222" stroke-opacity="0.7" stroke-width="0.75"/><path d="M645.59 678.66h8.4" stroke="#111" stroke-opacity="0.8" stroke-width="1.3"/><path marker-start="url(#m7)" marker-mid="url(#m7)" marker-end="url(#m7)" d="M660.6 702.8l-.9-.4 1.8-.4-2.4-.4 2-.4-1.1-.6 2.4-.4-4-.2 2.5-.4-1.3-.4 2.8-.7-3.6-.2 2.9-.4-1.5-.4 3.2-.6-5.9-.4 3.3-.4-1.7-.2 3.4-.5-4.3-.4 3.5-.4-1.8-.5 3.6-.3-5.9-.5 3.7-.2-1.9-.4 3.8-.5-4.8-.4 3.9-.4-2-.1 4-.4-7.6-.6 4-.3-2-.3 4.1-.5-5.2-.3 4.1-.2-2-.4 4.2-.3-6.9-.3 4.2-.4-2.1-.2 4.3-.3-5.4-.3 4.3-.3-2.1-.2 4.3-.4-7.8-.3 4.3-.3-2.2-.2 4.3-.4-5.3-.2 4.2-.3-2.1-.4 4.2-.2-6.8-.3 4.2-.4-2.1-.3 4.1-.2-5-.4 3.9-.2-1.9-.4 3.7-.6-7.3-.3 3.7-.4-1.8-.4 3.6-.4-4.4-.3 3.5-.3-1.7-.6 3.3-.4-5.2-.5 3.1-.3-1.5-.6 3-.5-3.7-.4 2.9-.4-1.4-.6 2.6-.6-4.7-.4 2.6-.4-1.3-.6 2.4-.8-2.9-.6 2.3-.5-1.1-.4 2.1-.9-3.3-.6 2-.4-1-.8 1.9-.8-2.3-.7 1.7-.9-.8-.9 1.6-.4-3-1.1 1.5-.8-.7-.7 1.4-1.1-1.6-1.2 1.2-.9-.5-1.1 1-.4-1.6-2.1.9-1.1-.4-2 .8-1.1-.9-2 .6-2.1-.3-2.5.6-2.4-1-1.9.5-2.6-.2-2 .5-2.4-.6-2 .4-2-.2-3.9.5-2.3-.8-1.4.5-2.8-.3-1.9.6-2.9-.7-2.7.6-1.6-.3-1.2.7-4.7-1.5 0 .8-.2-.4-.3.8-.6-.8-3.3.4-5.9-.1-3 .2-7.4"/><path d="M660.58 657.10V608.42M660.58 689.60V702.80" stroke="#222" stroke-opacity="0.75" stroke-width="0.6"/><rect x="656.38" y="657.10" width="8.4" height="32.49" fill="none" stroke="#222" stroke-opacity="0.7" stroke-width="0.75"/><path d="M656.38 678.66h8.4" stroke="#111" stroke-opacity="0.8" stroke-width="1.3"/><path marker-start="url(#m8)" marker-mid="url(#m8)" marker-end="url(#m8)" d="M671.4 703.1l-1.1 0 2.1 0-2.7-.1 2.3 0-1.2-.1 2.4 0-4.1 0 2.6-.1-1.4 0 2.8-.1-3.5 0 2.9 0-1.5-.1 3.1 0-5.7 0 3.2-.1-1.7 0 3.4 0-4.3-.1 3.5 0-1.8 0 3.6-.1-5.9 0 3.7-.1-1.9 0 3.8 0-4.8-.1 3.9 0-2 0 4-.1-7.6 0 4 0-2-.1 4.1 0-5.2 0 4.1-.1-2 0 4.2 0-6.9-.1 4.2 0-2.1 0 4.3-.1-5.4 0 4.3 0-2.1-.1 4.3 0-7.8 0 4.3 0-2.2-.1 4.3 0-5.3 0 4.2-.1-2.1 0 4.3 0-7 0 4.3-.1-2.1 0 4.2-.1-5.3 0 4.2 0-2.1 0 4.2-.1-8.1 0 4.1-.1-2 0 4.1 0-5.1-.1 4 0-2 0 4-.1-6.4 0 3.9 0-1.9-.1 3.8 0-4.7-.1 3.7 0-1.8 0 3.6 0-6.5-.1 3.6 0-1.8-.1 3.5 0-4.3 0 3.4-.1-1.7 0 3.3-.1-5.3 0 3.2 0-1.5-.1 3 0-3.7-.1 2.9 0-1.5-.1 2.7 0-5-.1 2.6-.1-1.2 0 2.4-.1-2.9-.1 2.2-.1-1 0 1.9-.1-3.1-.1 1.9 0-.9-.2 1.6 0-1.9-.1 1.5-.2-.7 0 1.1-.2-2-.1 1.1-.2-.5-.1.9-.2-1-.2.7-.1-.3-.2.5-.4-.8-.2.5-.3-.2-.3.3-.2-.4-.4.3-.1-.1-2.6.1-.1-.2-1.2.1-1.7-.1-.4.2-.4-.2-.6.1-1.6 0-5.6 0-1.3"/><path d="M671.37 699.30V695.54M671.37 701.92V703.12" stroke="#222" stroke-opacity="0.75" stroke-width="0.6"/><rect x="667.17" y="699.30" width="8.4" height="2.62" fill="none" stroke="#222" stroke-opacity="0.7" stroke-width="0.75"/><path d="M667.17 700.84h8.4" stroke="#111" stroke-opacity="0.8" stroke-width="1.3"/><rect x="578.55" y="541.55" width="99.30" height="169.20" fill="none" stroke="#333" stroke-width="1.07"/><rect x="677.85" y="541.55" width="20.4" height="169.20" fill="#D9D9D9" stroke="#333" stroke-width="1.07"/><text x="0" y="0" transform="translate(683.15,627.25) rotate(90)" text-anchor="middle" font-size="11.2" fill="#1A1A1A" font-family="'Liberation Sans', Arial, sans-serif">72</text><path d="M46.3 549.15H49.30" stroke="#333" stroke-width="1.07"/><text x="43" y="552.45" text-anchor="end" font-size="9.2" fill="#4D4D4D" font-family="'Liberation Sans', Arial, sans-serif">100%</text><path d="M46.3 587.65H49.30" stroke="#333" stroke-width="1.07"/><text x="43" y="590.95" text-anchor="end" font-size="9.2" fill="#4D4D4D" font-family="'Liberation Sans', Arial, sans-serif">75%</text><path d="M46.3 626.15H49.30" stroke="#333" stroke-width="1.07"/><text x="43" y="629.45" text-anchor="end" font-size="9.2" fill="#4D4D4D" font-family="'Liberation Sans', Arial, sans-serif">50%</text><path d="M46.3 664.65H49.30" stroke="#333" stroke-width="1.07"/><text x="43" y="667.95" text-anchor="end" font-size="9.2" fill="#4D4D4D" font-family="'Liberation Sans', Arial, sans-serif">25%</text><path d="M46.3 703.15H49.30" stroke="#333" stroke-width="1.07"/><text x="43" y="706.45" text-anchor="end" font-size="9.2" fill="#4D4D4D" font-family="'Liberation Sans', Arial, sans-serif">0%</text><rect x="49.30" y="0.4" width="99.30" height="17.50" fill="#D9D9D9" stroke="#333" stroke-width="1.07"/><text x="100.55" y="14.0" text-anchor="middle" font-size="11.2" fill="#1A1A1A" font-family="'Liberation Sans', Arial, sans-serif">1</text><path d="M55.78 710.75V713.75" stroke="#333" stroke-width="1.07"/><text x="0" y="0" transform="translate(54.58,717.75) rotate(90) scale(0.98,1)" font-size="8" fill="#4D4D4D" font-family="'Liberation Sans', Arial, sans-serif">age</text><path d="M66.57 710.75V713.75" stroke="#333" stroke-width="1.07"/><text x="0" y="0" transform="translate(65.37,717.75) rotate(90) scale(1.0,1)" font-size="8" fill="#4D4D4D" font-family="'Liberation Sans', Arial, sans-serif">los</text><path d="M77.36 710.75V713.75" stroke="#333" stroke-width="1.07"/><text x="0" y="0" transform="translate(76.16,717.75) rotate(90) scale(0.975,1)" font-size="8" fill="#4D4D4D" font-family="'Liberation Sans', Arial, sans-serif">biochemistry</text><path d="M88.16 710.75V713.75" stroke="#333" stroke-width="1.07"/><text x="0" y="0" transform="translate(86.96,717.75) rotate(90) scale(0.95,1)" font-size="8" fill="#4D4D4D" font-family="'Liberation Sans', Arial, sans-serif">diagnoses</text><path d="M98.95 710.75V713.75" stroke="#333" stroke-width="1.07"/><text x="0" y="0" transform="translate(97.75,717.75) rotate(90) scale(0.98,1)" font-size="8" fill="#4D4D4D" font-family="'Liberation Sans', Arial, sans-serif">operations</text><path d="M109.74 710.75V713.75" stroke="#333" stroke-width="1.07"/><text x="0" y="0" transform="translate(108.54,717.75) rotate(90) scale(0.957,1)" font-size="8" fill="#4D4D4D" font-family="'Liberation Sans', Arial, sans-serif">examinations</text><path d="M120.54 710.75V713.75" stroke="#333" stroke-width="1.07"/><text x="0" y="0" transform="translate(119.34,717.75) rotate(90) scale(1.0,1)" font-size="8" fill="#4D4D4D" font-family="'Liberation Sans', Arial, sans-serif">monitors</text><path d="M131.33 710.75V713.75" stroke="#333" stroke-width="1.07"/><text x="0" y="0" transform="translate(130.13,717.75) rotate(90) scale(1.0,1)" font-size="8" fill="#4D4D4D" font-family="'Liberation Sans', Arial, sans-serif">chart</text><path d="M142.12 710.75V713.75" stroke="#333" stroke-width="1.07"/><text x="0" y="0" transform="translate(140.92,717.75) rotate(90) scale(1.0,1)" font-size="8" fill="#4D4D4D" font-family="'Liberation Sans', Arial, sans-serif">medication</text><rect x="155.15" y="0.4" width="99.30" height="17.50" fill="#D9D9D9" stroke="#333" stroke-width="1.07"/><text x="205.80" y="14.0" text-anchor="middle" font-size="11.2" fill="#1A1A1A" font-family="'Liberation Sans', Arial, sans-serif">7</text><path d="M161.63 710.75V713.75" stroke="#333" stroke-width="1.07"/><text x="0" y="0" transform="translate(160.43,717.75) rotate(90) scale(0.98,1)" font-size="8" fill="#4D4D4D" font-family="'Liberation Sans', Arial, sans-serif">age</text><path d="M172.42 710.75V713.75" stroke="#333" stroke-width="1.07"/><text x="0" y="0" transform="translate(171.22,717.75) rotate(90) scale(1.0,1)" font-size="8" fill="#4D4D4D" font-family="'Liberation Sans', Arial, sans-serif">los</text><path d="M183.21 710.75V713.75" stroke="#333" stroke-width="1.07"/><text x="0" y="0" transform="translate(182.01,717.75) rotate(90) scale(0.975,1)" font-size="8" fill="#4D4D4D" font-family="'Liberation Sans', Arial, sans-serif">biochemistry</text><path d="M194.01 710.75V713.75" stroke="#333" stroke-width="1.07"/><text x="0" y="0" transform="translate(192.81,717.75) rotate(90) scale(0.95,1)" font-size="8" fill="#4D4D4D" font-family="'Liberation Sans', Arial, sans-serif">diagnoses</text><path d="M204.80 710.75V713.75" stroke="#333" stroke-width="1.07"/><text x="0" y="0" transform="translate(203.60,717.75) rotate(90) scale(0.98,1)" font-size="8" fill="#4D4D4D" font-family="'Liberation Sans', Arial, sans-serif">operations</text><path d="M215.59 710.75V713.75" stroke="#333" stroke-width="1.07"/><text x="0" y="0" transform="translate(214.39,717.75) rotate(90) scale(0.957,1)" font-size="8" fill="#4D4D4D" font-family="'Liberation Sans', Arial, sans-serif">examinations</text><path d="M226.39 710.75V713.75" stroke="#333" stroke-width="1.07"/><text x="0" y="0" transform="translate(225.19,717.75) rotate(90) scale(1.0,1)" font-size="8" fill="#4D4D4D" font-family="'Liberation Sans', Arial, sans-serif">monitors</text><path d="M237.18 710.75V713.75" stroke="#333" stroke-width="1.07"/><text x="0" y="0" transform="translate(235.98,717.75) rotate(90) scale(1.0,1)" font-size="8" fill="#4D4D4D" font-family="'Liberation Sans', Arial, sans-serif">chart</text><path d="M247.97 710.75V713.75" stroke="#333" stroke-width="1.07"/><text x="0" y="0" transform="translate(246.77,717.75) rotate(90) scale(1.0,1)" font-size="8" fill="#4D4D4D" font-family="'Liberation Sans', Arial, sans-serif">medication</text><rect x="261.00" y="0.4" width="99.30" height="17.50" fill="#D9D9D9" stroke="#333" stroke-width="1.07"/><text x="310.45" y="14.0" text-anchor="middle" font-size="11.2" fill="#1A1A1A" font-family="'Liberation Sans', Arial, sans-serif">14</text><path d="M267.48 710.75V713.75" stroke="#333" stroke-width="1.07"/><text x="0" y="0" transform="translate(266.28,717.75) rotate(90) scale(0.98,1)" font-size="8" fill="#4D4D4D" font-family="'Liberation Sans', Arial, sans-serif">age</text><path d="M278.27 710.75V713.75" stroke="#333" stroke-width="1.07"/><text x="0" y="0" transform="translate(277.07,717.75) rotate(90) scale(1.0,1)" font-size="8" fill="#4D4D4D" font-family="'Liberation Sans', Arial, sans-serif">los</text><path d="M289.06 710.75V713.75" stroke="#333" stroke-width="1.07"/><text x="0" y="0" transform="translate(287.86,717.75) rotate(90) scale(0.975,1)" font-size="8" fill="#4D4D4D" font-family="'Liberation Sans', Arial, sans-serif">biochemistry</text><path d="M299.86 710.75V713.75" stroke="#333" stroke-width="1.07"/><text x="0" y="0" transform="translate(298.66,717.75) rotate(90) scale(0.95,1)" font-size="8" fill="#4D4D4D" font-family="'Liberation Sans', Arial, sans-serif">diagnoses</text><path d="M310.65 710.75V713.75" stroke="#333" stroke-width="1.07"/><text x="0" y="0" transform="translate(309.45,717.75) rotate(90) scale(0.98,1)" font-size="8" fill="#4D4D4D" font-family="'Liberation Sans', Arial, sans-serif">operations</text><path d="M321.44 710.75V713.75" stroke="#333" stroke-width="1.07"/><text x="0" y="0" transform="translate(320.24,717.75) rotate(90) scale(0.957,1)" font-size="8" fill="#4D4D4D" font-family="'Liberation Sans', Arial, sans-serif">examinations</text><path d="M332.24 710.75V713.75" stroke="#333" stroke-width="1.07"/><text x="0" y="0" transform="translate(331.04,717.75) rotate(90) scale(1.0,1)" font-size="8" fill="#4D4D4D" font-family="'Liberation Sans', Arial, sans-serif">monitors</text><path d="M343.03 710.75V713.75" stroke="#333" stroke-width="1.07"/><text x="0" y="0" transform="translate(341.83,717.75) rotate(90) scale(1.0,1)" font-size="8" fill="#4D4D4D" font-family="'Liberation Sans', Arial, sans-serif">chart</text><path d="M353.82 710.75V713.75" stroke="#333" stroke-width="1.07"/><text x="0" y="0" transform="translate(352.62,717.75) rotate(90) scale(1.0,1)" font-size="8" fill="#4D4D4D" font-family="'Liberation Sans', Arial, sans-serif">medication</text><rect x="366.85" y="0.4" width="99.30" height="17.50" fill="#D9D9D9" stroke="#333" stroke-width="1.07"/><text x="415.90" y="14.0" text-anchor="middle" font-size="11.2" fill="#1A1A1A" font-family="'Liberation Sans', Arial, sans-serif">30</text><path d="M373.33 710.75V713.75" stroke="#333" stroke-width="1.07"/><text x="0" y="0" transform="translate(372.13,717.75) rotate(90) scale(0.98,1)" font-size="8" fill="#4D4D4D" font-family="'Liberation Sans', Arial, sans-serif">age</text><path d="M384.12 710.75V713.75" stroke="#333" stroke-width="1.07"/><text x="0" y="0" transform="translate(382.92,717.75) rotate(90) scale(1.0,1)" font-size="8" fill="#4D4D4D" font-family="'Liberation Sans', Arial, sans-serif">los</text><path d="M394.91 710.75V713.75" stroke="#333" stroke-width="1.07"/><text x="0" y="0" transform="translate(393.71,717.75) rotate(90) scale(0.975,1)" font-size="8" fill="#4D4D4D" font-family="'Liberation Sans', Arial, sans-serif">biochemistry</text><path d="M405.71 710.75V713.75" stroke="#333" stroke-width="1.07"/><text x="0" y="0" transform="translate(404.51,717.75) rotate(90) scale(0.95,1)" font-size="8" fill="#4D4D4D" font-family="'Liberation Sans', Arial, sans-serif">diagnoses</text><path d="M416.50 710.75V713.75" stroke="#333" stroke-width="1.07"/><text x="0" y="0" transform="translate(415.30,717.75) rotate(90) scale(0.98,1)" font-size="8" fill="#4D4D4D" font-family="'Liberation Sans', Arial, sans-serif">operations</text><path d="M427.29 710.75V713.75" stroke="#333" stroke-width="1.07"/><text x="0" y="0" transform="translate(426.09,717.75) rotate(90) scale(0.957,1)" font-size="8" fill="#4D4D4D" font-family="'Liberation Sans', Arial, sans-serif">examinations</text><path d="M438.09 710.75V713.75" stroke="#333" stroke-width="1.07"/><text x="0" y="0" transform="translate(436.89,717.75) rotate(90) scale(1.0,1)" font-size="8" fill="#4D4D4D" font-family="'Liberation Sans', Arial, sans-serif">monitors</text><path d="M448.88 710.75V713.75" stroke="#333" stroke-width="1.07"/><text x="0" y="0" transform="translate(447.68,717.75) rotate(90) scale(1.0,1)" font-size="8" fill="#4D4D4D" font-family="'Liberation Sans', Arial, sans-serif">chart</text><path d="M459.67 710.75V713.75" stroke="#333" stroke-width="1.07"/><text x="0" y="0" transform="translate(458.47,717.75) rotate(90) scale(1.0,1)" font-size="8" fill="#4D4D4D" font-family="'Liberation Sans', Arial, sans-serif">medication</text><rect x="472.70" y="0.4" width="99.30" height="17.50" fill="#D9D9D9" stroke="#333" stroke-width="1.07"/><text x="520.55" y="14.0" text-anchor="middle" font-size="11.2" fill="#1A1A1A" font-family="'Liberation Sans', Arial, sans-serif">90</text><path d="M479.18 710.75V713.75" stroke="#333" stroke-width="1.07"/><text x="0" y="0" transform="translate(477.98,717.75) rotate(90) scale(0.98,1)" font-size="8" fill="#4D4D4D" font-family="'Liberation Sans', Arial, sans-serif">age</text><path d="M489.97 710.75V713.75" stroke="#333" stroke-width="1.07"/><text x="0" y="0" transform="translate(488.77,717.75) rotate(90) scale(1.0,1)" font-size="8" fill="#4D4D4D" font-family="'Liberation Sans', Arial, sans-serif">los</text><path d="M500.76 710.75V713.75" stroke="#333" stroke-width="1.07"/><text x="0" y="0" transform="translate(499.56,717.75) rotate(90) scale(0.975,1)" font-size="8" fill="#4D4D4D" font-family="'Liberation Sans', Arial, sans-serif">biochemistry</text><path d="M511.56 710.75V713.75" stroke="#333" stroke-width="1.07"/><text x="0" y="0" transform="translate(510.36,717.75) rotate(90) scale(0.95,1)" font-size="8" fill="#4D4D4D" font-family="'Liberation Sans', Arial, sans-serif">diagnoses</text><path d="M522.35 710.75V713.75" stroke="#333" stroke-width="1.07"/><text x="0" y="0" transform="translate(521.15,717.75) rotate(90) scale(0.98,1)" font-size="8" fill="#4D4D4D" font-family="'Liberation Sans', Arial, sans-serif">operations</text><path d="M533.14 710.75V713.75" stroke="#333" stroke-width="1.07"/><text x="0" y="0" transform="translate(531.94,717.75) rotate(90) scale(0.957,1)" font-size="8" fill="#4D4D4D" font-family="'Liberation Sans', Arial, sans-serif">examinations</text><path d="M543.94 710.75V713.75" stroke="#333" stroke-width="1.07"/><text x="0" y="0" transform="translate(542.74,717.75) rotate(90) scale(1.0,1)" font-size="8" fill="#4D4D4D" font-family="'Liberation Sans', Arial, sans-serif">monitors</text><path d="M554.73 710.75V713.75" stroke="#333" stroke-width="1.07"/><text x="0" y="0" transform="translate(553.53,717.75) rotate(90) scale(1.0,1)" font-size="8" fill="#4D4D4D" font-family="'Liberation Sans', Arial, sans-serif">chart</text><path d="M565.52 710.75V713.75" stroke="#333" stroke-width="1.07"/><text x="0" y="0" transform="translate(564.32,717.75) rotate(90) scale(1.0,1)" font-size="8" fill="#4D4D4D" font-family="'Liberation Sans', Arial, sans-serif">medication</text><rect x="578.55" y="0.4" width="99.30" height="17.50" fill="#D9D9D9" stroke="#333" stroke-width="1.07"/><text x="625.80" y="14.0" text-anchor="middle" font-size="11.2" fill="#1A1A1A" font-family="'Liberation Sans', Arial, sans-serif">365</text><path d="M585.03 710.75V713.75" stroke="#333" stroke-width="1.07"/><text x="0" y="0" transform="translate(583.83,717.75) rotate(90) scale(0.98,1)" font-size="8" fill="#4D4D4D" font-family="'Liberation Sans', Arial, sans-serif">age</text><path d="M595.82 710.75V713.75" stroke="#333" stroke-width="1.07"/><text x="0" y="0" transform="translate(594.62,717.75) rotate(90) scale(1.0,1)" font-size="8" fill="#4D4D4D" font-family="'Liberation Sans', Arial, sans-serif">los</text><path d="M606.61 710.75V713.75" stroke="#333" stroke-width="1.07"/><text x="0" y="0" transform="translate(605.41,717.75) rotate(90) scale(0.975,1)" font-size="8" fill="#4D4D4D" font-family="'Liberation Sans', Arial, sans-serif">biochemistry</text><path d="M617.41 710.75V713.75" stroke="#333" stroke-width="1.07"/><text x="0" y="0" transform="translate(616.21,717.75) rotate(90) scale(0.95,1)" font-size="8" fill="#4D4D4D" font-family="'Liberation Sans', Arial, sans-serif">diagnoses</text><path d="M628.20 710.75V713.75" stroke="#333" stroke-width="1.07"/><text x="0" y="0" transform="translate(627.00,717.75) rotate(90) scale(0.98,1)" font-size="8" fill="#4D4D4D" font-family="'Liberation Sans', Arial, sans-serif">operations</text><path d="M638.99 710.75V713.75" stroke="#333" stroke-width="1.07"/><text x="0" y="0" transform="translate(637.79,717.75) rotate(90) scale(0.957,1)" font-size="8" fill="#4D4D4D" font-family="'Liberation Sans', Arial, sans-serif">examinations</text><path d="M649.79 710.75V713.75" stroke="#333" stroke-width="1.07"/><text x="0" y="0" transform="translate(648.59,717.75) rotate(90) scale(1.0,1)" font-size="8" fill="#4D4D4D" font-family="'Liberation Sans', Arial, sans-serif">monitors</text><path d="M660.58 710.75V713.75" stroke="#333" stroke-width="1.07"/><text x="0" y="0" transform="translate(659.38,717.75) rotate(90) scale(1.0,1)" font-size="8" fill="#4D4D4D" font-family="'Liberation Sans', Arial, sans-serif">chart</text><path d="M671.37 710.75V713.75" stroke="#333" stroke-width="1.07"/><text x="0" y="0" transform="translate(670.17,717.75) rotate(90) scale(1.0,1)" font-size="8" fill="#4D4D4D" font-family="'Liberation Sans', Arial, sans-serif">medication</text><text x="366" y="783.4" text-anchor="middle" font-size="13.4" fill="#000" font-family="'Liberation Sans', Arial, sans-serif">Domain</text><text x="0" y="0" transform="translate(10.6,355.5) rotate(-90)" text-anchor="middle" font-size="13.6" fill="#000" font-family="'Liberation Sans', Arial, sans-serif">Relative contribution</text></svg></body></html>
